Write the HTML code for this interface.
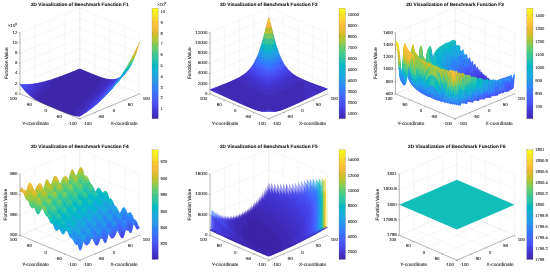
<!DOCTYPE html>
<html><head><meta charset="utf-8"><title>Benchmark functions</title>
<style>html,body{margin:0;padding:0;background:#fff}svg{display:block}text{font-family:"Liberation Sans",sans-serif;fill:#151515;stroke:#151515;stroke-width:.8px;text-rendering:geometricPrecision}.c0{fill:#3e26a8;stroke:#3e26a8}.c1{fill:#402ab4;stroke:#402ab4}.c2{fill:#422ec0;stroke:#422ec0}.c3{fill:#4332cb;stroke:#4332cb}.c4{fill:#4537d5;stroke:#4537d5}.c5{fill:#463cde;stroke:#463cde}.c6{fill:#4741e5;stroke:#4741e5}.c7{fill:#4747eb;stroke:#4747eb}.c8{fill:#484df0;stroke:#484df0}.c9{fill:#4852f4;stroke:#4852f4}.c10{fill:#4758f8;stroke:#4758f8}.c11{fill:#465efb;stroke:#465efb}.c12{fill:#4563fd;stroke:#4563fd}.c13{fill:#4269fe;stroke:#4269fe}.c14{fill:#3e6fff;stroke:#3e6fff}.c15{fill:#3875fe;stroke:#3875fe}.c16{fill:#327cfc;stroke:#327cfc}.c17{fill:#2f81fa;stroke:#2f81fa}.c18{fill:#2e87f7;stroke:#2e87f7}.c19{fill:#2d8cf3;stroke:#2d8cf3}.c20{fill:#2b91ef;stroke:#2b91ef}.c21{fill:#2797eb;stroke:#2797eb}.c22{fill:#259be8;stroke:#259be8}.c23{fill:#23a0e5;stroke:#23a0e5}.c24{fill:#20a5e3;stroke:#20a5e3}.c25{fill:#1ca9df;stroke:#1ca9df}.c26{fill:#18addb;stroke:#18addb}.c27{fill:#12b1d6;stroke:#12b1d6}.c28{fill:#08b5d0;stroke:#08b5d0}.c29{fill:#01b8ca;stroke:#01b8ca}.c30{fill:#02bac3;stroke:#02bac3}.c31{fill:#0bbdbd;stroke:#0bbdbd}.c32{fill:#19bfb6;stroke:#19bfb6}.c33{fill:#24c1ae;stroke:#24c1ae}.c34{fill:#2cc4a7;stroke:#2cc4a7}.c35{fill:#31c69f;stroke:#31c69f}.c36{fill:#37c897;stroke:#37c897}.c37{fill:#3fca8e;stroke:#3fca8e}.c38{fill:#4acb84;stroke:#4acb84}.c39{fill:#57cc7a;stroke:#57cc7a}.c40{fill:#64cd6f;stroke:#64cd6f}.c41{fill:#72cd64;stroke:#72cd64}.c42{fill:#81cc59;stroke:#81cc59}.c43{fill:#8fcb4e;stroke:#8fcb4e}.c44{fill:#9dc943;stroke:#9dc943}.c45{fill:#abc739;stroke:#abc739}.c46{fill:#b9c431;stroke:#b9c431}.c47{fill:#c5c22a;stroke:#c5c22a}.c48{fill:#d1bf27;stroke:#d1bf27}.c49{fill:#dcbd29;stroke:#dcbd29}.c50{fill:#e6bb2d;stroke:#e6bb2d}.c51{fill:#f0ba36;stroke:#f0ba36}.c52{fill:#f8ba3d;stroke:#f8ba3d}.c53{fill:#febe3c;stroke:#febe3c}.c54{fill:#fec338;stroke:#fec338}.c55{fill:#fec934;stroke:#fec934}.c56{fill:#fccf30;stroke:#fccf30}.c57{fill:#fad62d;stroke:#fad62d}.c58{fill:#f7dc2a;stroke:#f7dc2a}.c59{fill:#f5e327;stroke:#f5e327}.c60{fill:#f5e924;stroke:#f5e924}.c61{fill:#f6ef20;stroke:#f6ef20}.c62{fill:#f7f51b;stroke:#f7f51b}.c63{fill:#f9fb15;stroke:#f9fb15}.o1{fill-opacity:.9;stroke:none}.o2{fill-opacity:.5;stroke:none}</style></head>
<body>
<svg width="550" height="272" viewBox="0 0 550 272">
<defs><linearGradient id="pg" x1="0" y1="1" x2="0" y2="0"><stop offset="0" stop-color="#3e26a8"/><stop offset="0.05" stop-color="#4332cb"/><stop offset="0.1" stop-color="#4741e5"/><stop offset="0.14" stop-color="#4852f4"/><stop offset="0.19" stop-color="#4563fd"/><stop offset="0.24" stop-color="#3875fe"/><stop offset="0.29" stop-color="#2e87f7"/><stop offset="0.33" stop-color="#2797eb"/><stop offset="0.38" stop-color="#20a5e3"/><stop offset="0.43" stop-color="#12b1d6"/><stop offset="0.48" stop-color="#02bac3"/><stop offset="0.52" stop-color="#24c1ae"/><stop offset="0.57" stop-color="#37c897"/><stop offset="0.62" stop-color="#57cc7a"/><stop offset="0.67" stop-color="#81cc59"/><stop offset="0.71" stop-color="#abc739"/><stop offset="0.76" stop-color="#d1bf27"/><stop offset="0.81" stop-color="#f0ba36"/><stop offset="0.86" stop-color="#fec338"/><stop offset="0.9" stop-color="#fad62d"/><stop offset="0.95" stop-color="#f5e924"/><stop offset="1" stop-color="#f9fb15"/><stop offset="1" stop-color="#f9fb15"/></linearGradient></defs>
<rect width="550" height="272" fill="#fff"/>
<g>
<path d="M79.75 118.75L20 93.85M79.75 118.75L139.5 93.85M20 93.85L20 32.65M139.5 93.85L139.5 32.65M94.69 112.53L34.94 87.62M64.81 112.53L124.56 87.62M34.94 87.62L34.94 26.42M124.56 87.62L124.56 26.42M109.62 106.3L49.88 81.4M49.88 106.3L109.62 81.4M49.88 81.4L49.88 20.2M109.62 81.4L109.62 20.2M124.56 100.08L64.81 75.18M34.94 100.08L94.69 75.18M64.81 75.18L64.81 13.98M94.69 75.18L94.69 13.98M139.5 93.85L79.75 68.95M20 93.85L79.75 68.95M79.75 68.95L79.75 7.75M79.75 68.95L79.75 7.75M20 93.85L79.75 68.95M79.75 68.95L139.5 93.85M20 83.65L79.75 58.75M79.75 58.75L139.5 83.65M20 73.45L79.75 48.55M79.75 48.55L139.5 73.45M20 63.25L79.75 38.35M79.75 38.35L139.5 63.25M20 53.05L79.75 28.15M79.75 28.15L139.5 53.05M20 42.85L79.75 17.95M79.75 17.95L139.5 42.85M20 32.65L79.75 7.75M79.75 7.75L139.5 32.65" stroke="#e2e2e2" stroke-width=".3" fill="none"/>
<g transform="scale(.1)" stroke-width="5" stroke-linejoin="round">
<path class="c3" stroke-width="0" fill-rule="nonzero" d="M798 1162L807 1156L817 1150L827 1143L837 1137L847 1130L857 1124L867 1117L877 1110L887 1103L897 1096L907 1088L917 1081L927 1073L937 1065L947 1057L957 1049L967 1040L977 1032L987 1023L997 1014L1007 1005L1017 995L1027 986L1036 976L1046 966L1056 956L1066 945L1076 934L1086 923L1096 912L1106 901L1116 889L1126 877L1136 864L1146 852L1156 839L1166 826L1176 812L1186 798L1196 784L1206 770L1216 755L1226 740L1236 724L1246 708L1256 692L1266 676L1276 659L1285 641L1295 624L1305 606L1315 587L1325 568L1335 549L1345 529L1355 509L1365 488L1375 467L1385 445L1395 423L1385 457L1375 488L1365 517L1355 545L1345 570L1335 594L1325 616L1315 637L1305 655L1295 673L1285 689L1276 703L1266 716L1256 728L1246 739L1236 749L1226 757L1216 765L1206 772L1196 777L1186 782L1176 786L1166 789L1156 792L1146 794L1136 795L1126 796L1116 796L1106 796L1096 795L1086 794L1076 793L1066 791L1056 789L1046 786L1036 783L1027 780L1017 777L1007 774L997 771L987 767L977 763L967 759L957 755L947 751L937 747L927 743L917 739L907 735L897 731L887 727L877 723L867 719L857 714L847 710L837 706L827 702L817 698L807 694L798 689L788 693L778 698L768 702L758 706L748 710L738 714L728 718L718 722L708 726L698 730L688 734L678 738L668 742L658 746L648 749L638 753L628 757L618 761L608 764L598 768L588 772L578 775L568 779L558 782L549 786L539 789L529 792L519 796L509 799L499 802L489 805L479 808L469 811L459 813L449 816L439 819L429 821L419 824L409 826L399 828L389 830L379 832L369 834L359 836L349 837L339 839L329 840L319 841L310 842L300 843L290 844L280 845L270 845L260 845L250 845L240 845L230 845L220 844L210 844L200 843L210 858L220 871L230 884L240 896L250 908L260 918L270 928L280 938L290 947L300 955L310 963L319 971L329 978L339 984L349 991L359 997L369 1002L379 1008L389 1013L399 1018L409 1023L419 1028L429 1033L439 1037L449 1042L459 1046L469 1050L479 1055L489 1059L499 1063L509 1067L519 1071L529 1075L539 1080L549 1084L558 1088L568 1092L578 1096L588 1100L598 1104L608 1109L618 1113L628 1117L638 1121L648 1125L658 1128L668 1132L678 1136L688 1139L698 1143L708 1146L718 1149L728 1152L738 1154L748 1156L758 1158L768 1160L778 1161L788 1162z"/>
<path class="c0" d="M712 1147l21-10 22 5-22 11zM691 1140l21-9 21 6-21 10zM712 1131l21-10 22 6-22 10zM669 1133l22-10 21 8-21 9zM733 1121l22-10 21 5-21 11zM691 1123l21-9 21 7-21 10zM648 1125l21-10 22 8-22 10zM712 1114l21-10 22 7-22 10zM669 1115l22-9 21 8-21 9zM627 1116l21-9 21 8-21 10zM733 1104l22-10 21 6-21 11zM691 1106l21-9 21 7-21 10zM648 1107l21-9 22 8-22 9zM605 1107l22-9 21 9-21 9zM755 1094l21-10 22 5-22 11zM669 1098l22-9 21 8-21 9zM627 1098l21-9 21 9-21 9zM584 1099l21-9 22 8-22 9zM712 1097l21-10 22 7-22 10zM648 1089l21-9 22 9-22 9zM605 1090l22-9 21 8-21 9zM563 1090l21-9 21 9-21 9zM733 1087l22-10 21 7-21 10zM691 1089l21-10 21 8-21 10zM627 1081l21-9 21 8-21 9zM584 1081l21-9 22 9-22 9zM755 1077l21-9 22 6-22 10zM712 1079l21-9 22 7-22 10zM669 1080l22-9 21 8-21 10zM541 1081l22-9 21 9-21 9zM605 1072l22-9 21 9-21 9zM733 1070l22-9 21 7-21 9zM691 1071l21-9 21 8-21 9zM648 1072l21-9 22 8-22 9zM563 1072l21-9 21 9-21 9zM520 1072l21-9 22 9-22 9zM776 1068l22-11 21 6-21 11zM712 1062l21-9 22 8-22 9zM669 1063l22-9 21 8-21 9zM627 1063l21-9 21 9-21 9zM541 1063l22-9 21 9-21 9zM499 1063l21-9 21 9-21 9zM755 1061l21-10 22 6-22 11zM584 1063l21-9 22 9-22 9zM691 1054l21-9 21 8-21 9zM648 1054l21-9 22 9-22 9zM776 1051l22-10 21 6-21 10zM733 1053l22-10 21 8-21 10zM605 1054l22-9 21 9-21 9zM563 1054l21-9 21 9-21 9zM520 1054l21-9 22 9-22 9zM477 1054l22-9 21 9-21 9zM798 1041l21-10 21 6-21 10zM755 1043l21-9 22 7-22 10zM712 1045l21-10 22 8-22 10zM669 1045l22-9 21 9-21 9zM627 1045l21-9 21 9-21 9zM584 1045l21-9 22 9-22 9zM541 1045l22-9 21 9-21 9zM499 1045l21-9 21 9-21 9zM456 1045l21-9 22 9-22 9zM776 1034l22-10 21 7-21 10zM733 1035l22-9 21 8-21 9zM691 1036l21-9 21 8-21 10zM648 1036l21-9 22 9-22 9zM605 1036l22-9 21 9-21 9zM563 1036l21-9 21 9-21 9zM520 1036l21-9 22 9-22 9zM477 1036l22-9 21 9-21 9zM435 1035l21-8 21 9-21 9zM798 1024l21-10 21 7-21 10zM755 1026l21-9 22 7-22 10zM712 1027l21-9 22 8-22 9zM669 1027l22-9 21 9-21 9zM627 1027l21-8 21 8-21 9zM584 1027l21-8 22 8-22 9zM541 1027l22-8 21 8-21 9zM499 1027l21-9 21 9-21 9zM456 1027l21-9 22 9-22 9zM413 1025l22-8 21 10-21 8zM776 1017l22-10 21 7-21 10zM733 1018l22-9 21 8-21 9zM605 1019l22-9 21 9-21 8zM563 1019l21-9 21 9-21 8zM392 1015l21-8 22 10-22 8zM819 1014l21-10 22 6-22 11zM691 1018l21-9 21 9-21 9zM648 1019l21-9 22 8-22 9zM520 1018l21-8 22 9-22 8zM477 1018l22-9 21 9-21 9zM435 1017l21-8 21 9-21 9zM840 1004l22-10 21 5-21 11zM798 1007l21-9 21 6-21 10zM755 1009l21-9 22 7-22 10zM712 1009l21-9 22 9-22 9zM669 1010l22-9 21 8-21 9zM627 1010l21-9 21 9-21 9zM584 1010l21-9 22 9-22 9zM413 1007l22-8 21 10-21 8zM541 1010l22-9 21 9-21 9zM499 1009l21-8 21 9-21 8zM456 1009l21-9 22 9-22 9zM371 1003l21-7 21 11-21 8zM435 999l21-9 21 10-21 9zM819 998l21-10 22 6-22 10zM776 1000l22-10 21 8-21 9zM733 1000l22-9 21 9-21 9zM691 1001l21-9 21 8-21 9zM648 1001l21-9 22 9-22 9zM605 1001l22-9 21 9-21 9zM563 1001l21-9 21 9-21 9zM520 1001l21-9 22 9-22 9zM477 1000l22-9 21 10-21 8zM392 996l21-8 22 11-22 8zM349 991l22-7 21 12-21 7zM840 988l22-10 21 6-21 10zM798 990l21-9 21 7-21 10zM712 992l21-9 22 8-22 9zM669 992l22-9 21 9-21 9zM627 992l21-9 21 9-21 9zM456 990l21-8 22 9-22 9zM755 991l21-9 22 8-22 10zM541 992l22-9 21 9-21 9zM499 991l21-8 21 9-21 9zM413 988l22-8 21 10-21 9zM371 984l21-8 21 12-21 8zM584 992l21-9 22 9-22 9zM477 982l22-9 21 10-21 8zM862 978l21-10 21 5-21 11zM819 981l21-10 22 7-22 10zM776 982l22-9 21 8-21 9zM733 983l22-9 21 8-21 9zM691 983l21-9 21 9-21 9zM648 983l21-9 22 9-22 9zM605 983l22-9 21 9-21 9zM563 983l21-9 21 9-21 9zM520 983l21-9 22 9-22 9zM435 980l21-8 21 10-21 8zM392 976l21-7 22 11-22 8zM840 971l22-10 21 7-21 10zM669 974l22-9 21 9-21 9zM499 973l21-8 21 9-21 9zM798 973l21-9 21 7-21 10zM755 974l21-9 22 8-22 9zM712 974l21-9 22 9-22 9zM456 972l21-9 22 10-22 9zM413 969l22-8 21 11-21 8zM371 964l21-7 21 12-21 7zM627 974l21-9 21 9-21 9zM584 974l21-9 22 9-22 9zM541 974l22-9 21 9-21 9zM862 961l21-10 21 6-21 11zM819 964l21-10 22 7-22 10zM776 965l22-9 21 8-21 9zM733 965l22-9 21 9-21 9zM691 965l21-9 21 9-21 9zM648 965l21-9 22 9-22 9zM605 965l22-9 21 9-21 9zM563 965l21-9 21 9-21 9zM520 965l21-9 22 9-22 9zM477 963l22-8 21 10-21 8zM435 961l21-8 21 10-21 9zM392 957l21-8 22 12-22 8zM541 956l22-9 21 9-21 9zM840 954l22-9 21 6-21 10zM798 956l21-10 21 8-21 10zM755 956l21-9 22 9-22 9zM712 956l21-9 22 9-22 9zM456 953l21-8 22 10-22 8zM413 949l22-7 21 11-21 8zM883 951l21-10 22 6-22 10zM669 956l22-9 21 9-21 9zM627 956l21-9 21 9-21 9zM584 956l21-9 22 9-22 9zM499 955l21-8 21 9-21 9zM819 946l21-9 22 8-22 9zM776 947l22-9 21 8-21 10zM733 947l22-9 21 9-21 9zM605 947l22-9 21 9-21 9zM563 947l21-9 21 9-21 9zM520 947l21-9 22 9-22 9zM477 945l22-8 21 10-21 8zM435 942l21-8 21 11-21 8zM862 945l21-10 21 6-21 10zM691 947l21-9 21 9-21 9zM648 947l21-9 22 9-22 9zM584 938l21-8 22 8-22 9zM883 935l21-10 22 6-22 10zM798 938l21-9 21 8-21 9zM755 938l21-9 22 9-22 9zM840 937l22-9 21 7-21 10zM712 938l21-8 22 8-22 9zM669 938l22-8 21 8-21 9zM627 938l21-8 21 8-21 9zM541 938l22-9 21 9-21 9zM499 937l21-9 21 10-21 9zM456 934l21-8 22 11-22 8zM413 930l22-7 21 11-21 8zM904 925l22-10 21 5-21 11zM862 928l21-10 21 7-21 10zM819 929l21-9 22 8-22 9zM776 929l22-9 21 9-21 9zM733 930l22-9 21 8-21 9zM691 930l21-9 21 9-21 8zM648 930l21-9 22 9-22 8zM605 930l22-9 21 9-21 8zM563 929l21-9 21 10-21 8zM520 928l21-8 22 9-22 9zM477 926l22-8 21 10-21 9zM435 923l21-8 21 11-21 8zM840 920l22-10 21 8-21 10zM627 921l21-9 21 9-21 9zM883 918l21-10 22 7-22 10zM798 920l21-9 21 9-21 9zM755 921l21-9 22 8-22 9zM712 921l21-9 22 9-22 9zM669 921l22-9 21 9-21 9zM584 920l21-8 22 9-22 9zM541 920l22-9 21 9-21 9zM499 918l21-8 21 10-21 8zM456 915l21-8 22 11-22 8zM904 908l22-10 21 6-21 11zM819 911l21-9 22 8-22 10zM648 912l21-9 22 9-22 9zM520 910l21-8 22 9-22 9zM862 910l21-9 21 7-21 10zM776 912l22-9 21 8-21 9zM733 912l22-9 21 9-21 9zM691 912l21-9 21 9-21 9zM605 912l22-9 21 9-21 9zM563 911l21-8 21 9-21 8zM477 907l22-7 21 10-21 8zM435 903l21-7 21 11-21 8zM926 898l21-10 21 6-21 10zM883 901l21-10 22 7-22 10zM840 902l22-9 21 8-21 9zM798 903l21-9 21 8-21 9zM755 903l21-9 22 9-22 9zM712 903l21-9 22 9-22 9zM669 903l22-9 21 9-21 9zM627 903l21-9 21 9-21 9zM584 903l21-9 22 9-22 9zM541 902l22-9 21 10-21 8zM499 900l21-9 21 11-21 8zM456 896l21-8 22 12-22 7zM904 891l22-9 21 6-21 10zM862 893l21-9 21 7-21 10zM776 894l22-9 21 9-21 9zM691 894l21-9 21 9-21 9zM648 894l21-9 22 9-22 9zM605 894l22-9 21 9-21 9zM563 893l21-9 21 10-21 9zM819 894l21-9 22 8-22 9zM733 894l22-9 21 9-21 9zM520 891l21-8 22 10-22 9zM477 888l22-7 21 10-21 9zM883 884l21-10 22 8-22 9zM840 885l22-9 21 8-21 9zM755 885l21-9 22 9-22 9zM712 885l21-9 22 9-22 9zM669 885l22-9 21 9-21 9zM627 885l21-9 21 9-21 9zM584 884l21-8 22 9-22 9zM456 876l21-7 22 12-22 7zM926 882l21-10 21 6-21 10zM798 885l21-9 21 9-21 9zM541 883l22-8 21 9-21 9zM499 881l21-8 21 10-21 8zM733 876l22-9 21 9-21 9zM947 872l21-10 22 5-22 11zM904 874l22-9 21 7-21 10zM862 876l21-10 21 8-21 10zM819 876l21-9 22 9-22 9zM776 876l22-9 21 9-21 9zM691 876l21-9 21 9-21 9zM648 876l21-9 22 9-22 9zM605 876l22-9 21 9-21 9zM563 875l21-9 21 10-21 8zM520 873l21-8 22 10-22 8zM477 869l22-8 21 12-21 8zM926 865l21-10 21 7-21 10zM840 867l22-9 21 8-21 10zM798 867l21-9 21 9-21 9zM755 867l21-9 22 9-22 9zM712 867l21-9 22 9-22 9zM669 867l22-9 21 9-21 9zM627 867l21-9 21 9-21 9zM584 866l21-8 22 9-22 9zM541 865l22-9 21 10-21 9zM499 861l21-7 21 11-21 8zM883 866l21-9 22 8-22 9zM819 858l21-9 22 9-22 9zM776 858l22-8 21 8-21 9zM691 858l21-8 21 8-21 9zM520 854l21-8 22 10-22 9zM477 849l22-7 21 12-21 7zM947 855l21-10 22 6-22 11zM904 857l22-9 21 7-21 10zM733 858l22-8 21 8-21 9zM648 858l21-9 22 9-22 9zM605 858l22-9 21 9-21 9zM563 856l21-8 21 10-21 8zM862 858l21-9 21 8-21 9zM798 850l21-9 21 8-21 9zM968 845l22-10 21 6-21 10zM755 850l21-9 22 9-22 8zM669 849l22-8 21 9-21 8zM541 846l22-8 21 10-21 8zM499 842l21-7 21 11-21 8zM926 848l21-10 21 7-21 10zM883 849l21-9 22 8-22 9zM840 849l22-9 21 9-21 9zM712 850l21-9 22 9-22 8zM627 849l21-9 21 9-21 9zM584 848l21-8 22 9-22 9zM947 838l21-9 22 6-22 10zM904 840l22-9 21 7-21 10zM862 840l21-9 21 9-21 9zM819 841l21-9 22 8-22 9zM776 841l22-9 21 9-21 9zM733 841l22-9 21 9-21 9zM691 841l21-9 21 9-21 9zM648 840l21-8 22 9-22 8zM605 840l22-9 21 9-21 9zM563 838l21-8 21 10-21 8zM520 835l21-8 22 11-22 8zM926 831l21-10 21 8-21 9zM840 832l22-9 21 8-21 9zM755 832l21-9 22 9-22 9zM712 832l21-9 22 9-22 9zM627 831l21-9 21 10-21 8zM584 830l21-9 22 10-22 9zM541 827l22-8 21 11-21 8zM499 822l21-7 21 12-21 8zM968 829l22-10 21 6-21 10zM883 831l21-9 22 9-22 9zM798 832l21-9 21 9-21 9zM669 832l22-9 21 9-21 9zM733 823l22-9 21 9-21 9zM605 821l22-8 21 9-21 9zM990 819l21-10 21 5-21 11zM904 822l22-9 21 8-21 10zM862 823l21-9 21 8-21 9zM819 823l21-9 22 9-22 9zM691 823l21-9 21 9-21 9zM563 819l21-8 21 10-21 9zM520 815l21-7 22 11-22 8zM947 821l21-9 22 7-22 10zM776 823l22-9 21 9-21 9zM648 822l21-8 22 9-22 9zM883 814l21-9 22 8-22 9zM584 811l21-8 22 10-22 8zM968 812l22-10 21 7-21 10zM926 813l21-9 21 8-21 9zM840 814l22-9 21 9-21 9zM798 814l21-9 21 9-21 9zM755 814l21-9 22 9-22 9zM712 814l21-9 22 9-22 9zM669 814l22-9 21 9-21 9zM627 813l21-9 21 10-21 8zM541 808l22-8 21 11-21 8zM990 802l21-10 21 6-21 11zM947 804l21-9 22 7-22 10zM904 805l22-9 21 8-21 9zM862 805l21-9 21 9-21 9zM819 805l21-9 22 9-22 9zM776 805l22-9 21 9-21 9zM691 805l21-9 21 9-21 9zM648 804l21-8 22 9-22 9zM605 803l22-8 21 9-21 9zM563 800l21-8 21 11-21 8zM520 795l21-7 22 12-22 8zM733 805l22-9 21 9-21 9zM968 795l22-10 21 7-21 10zM926 796l21-9 21 8-21 9zM840 796l22-9 21 9-21 9zM669 796l22-9 21 9-21 9zM627 795l21-9 21 10-21 8zM541 788l22-7 21 11-21 8zM883 796l21-9 22 9-22 9zM798 796l21-9 21 9-21 9zM755 796l21-9 22 9-22 9zM584 792l21-8 22 11-22 8zM1011 792l21-10 22 6-22 10zM712 796l21-9 22 9-22 9zM947 787l21-10 22 8-22 10zM648 786l21-8 22 9-22 9zM904 787l22-9 21 9-21 9zM819 787l21-9 22 9-22 9zM605 784l22-8 21 10-21 9zM990 785l21-10 21 7-21 10zM862 787l21-9 21 9-21 9zM776 787l22-9 21 9-21 9zM733 787l22-9 21 9-21 9zM691 787l21-9 21 9-21 9zM563 781l21-8 21 11-21 8zM968 777l22-9 21 7-21 10zM926 778l21-9 21 8-21 10zM883 778l21-9 22 9-22 9zM840 778l22-8 21 8-21 9zM798 778l21-8 21 8-21 9zM755 778l21-8 22 8-22 9zM712 778l21-9 22 9-22 9zM669 778l22-9 21 9-21 9zM627 776l21-8 21 10-21 8zM584 773l21-7 22 10-22 8zM904 769l22-9 21 9-21 9zM862 770l21-9 21 8-21 9zM776 770l22-9 21 9-21 8zM733 769l22-8 21 9-21 8zM691 769l21-9 21 9-21 9zM605 766l22-8 21 10-21 8zM947 769l21-9 22 8-22 9zM819 770l21-9 22 9-22 8zM648 768l21-9 22 10-22 9zM883 761l21-9 22 8-22 9zM755 761l21-9 22 9-22 9zM840 761l22-9 21 9-21 9zM712 760l21-8 22 9-22 8zM669 759l22-8 21 9-21 9zM926 760l21-9 21 9-21 9zM798 761l21-9 21 9-21 9zM627 758l21-9 21 10-21 9zM733 752l22-9 21 9-21 9zM904 752l22-9 21 8-21 9zM862 752l21-9 21 9-21 9zM819 752l21-9 22 9-22 9zM776 752l22-9 21 9-21 9zM691 751l21-9 21 10-21 8zM648 749l21-8 22 10-22 8zM840 743l22-9 21 9-21 9zM798 743l21-9 21 9-21 9zM755 743l21-9 22 9-22 9zM712 742l21-8 22 9-22 9zM669 741l22-8 21 9-21 9zM883 743l21-9 22 9-22 9zM819 734l21-9 22 9-22 9zM776 734l22-9 21 9-21 9zM691 733l21-9 21 10-21 8zM733 734l22-9 21 9-21 9zM862 734l21-9 21 9-21 9zM798 725l21-9 21 9-21 9zM755 725l21-9 22 9-22 9zM840 725l22-9 21 9-21 9zM712 724l21-8 22 9-22 9zM819 716l21-9 22 9-22 9zM776 716l22-9 21 9-21 9zM733 716l22-9 21 9-21 9zM755 707l21-9 22 9-22 9zM798 707l21-9 21 9-21 9zM776 698l22-9 21 9-21 9z"/>
<path class="c1" d="M733 1153l22-11 21 4-21 12zM755 1142l21-11 22 4-22 11zM776 1131l22-11 21 2-21 13zM733 1137l22-10 21 4-21 11zM755 1127l21-11 22 4-22 11zM776 1116l22-11 21 3-21 12zM798 1105l21-11 21 2-21 12zM755 1111l21-11 22 5-22 11zM776 1100l22-11 21 5-21 11zM798 1089l21-10 21 3-21 12zM776 1084l22-10 21 5-21 10zM819 1079l21-12 22 3-22 12zM798 1074l21-11 21 4-21 12zM819 1063l21-11 22 4-22 11zM840 1052l22-11 21 3-21 12zM798 1057l21-10 21 5-21 11zM819 1047l21-10 22 4-22 11zM840 1037l22-11 21 3-21 12zM819 1031l21-10 22 5-22 11zM862 1026l21-11 21 2-21 12zM840 1021l22-11 21 5-21 11zM862 1010l21-11 21 4-21 12zM883 999l21-11 22 3-22 12zM862 994l21-10 21 4-21 11zM883 984l21-11 22 4-22 11zM328 977l21-7 22 14-22 7zM904 973l22-11 21 3-21 12zM349 970l22-6 21 12-21 8zM883 968l21-11 22 5-22 11zM328 955l21-5 22 14-22 6zM904 957l22-10 21 3-21 12zM349 950l22-7 21 14-21 7zM926 947l21-11 21 3-21 11zM371 943l21-6 21 12-21 8zM904 941l22-10 21 5-21 11zM392 937l21-7 22 12-22 7zM349 928l22-5 21 14-21 6zM926 931l21-11 21 4-21 12zM371 923l21-7 21 14-21 7zM947 920l21-11 22 3-22 12zM392 916l21-6 22 13-22 7zM968 909l22-11 21 2-21 12zM926 915l21-11 21 5-21 11zM371 901l21-6 21 15-21 6zM413 910l22-7 21 12-21 8zM947 904l21-10 22 4-22 11zM392 895l21-6 22 14-22 7zM968 894l22-11 21 3-21 12zM413 889l22-6 21 13-21 7zM990 883l21-12 21 3-21 12zM435 883l21-7 21 12-21 8zM392 874l21-6 22 15-22 6zM947 888l21-10 22 5-22 11zM968 878l22-11 21 4-21 12zM413 868l22-6 21 14-21 7zM435 862l21-6 21 13-21 7zM990 867l21-11 21 4-21 11zM1011 856l21-11 22 3-22 12zM968 862l22-11 21 5-21 11zM456 856l21-7 22 12-22 8zM413 847l22-6 21 15-21 6zM990 851l21-10 21 4-21 11zM435 841l21-6 21 14-21 7zM1011 841l21-11 22 4-22 11zM456 835l21-6 22 13-22 7zM1032 830l22-11 21 3-21 12zM990 835l21-10 21 5-21 11zM477 829l22-7 21 13-21 7zM1011 825l21-11 22 5-22 11zM456 814l21-6 22 14-22 7zM1032 814l22-10 21 3-21 12zM477 808l22-6 21 13-21 7zM1054 804l21-12 21 3-21 12zM1011 809l21-11 22 6-22 10zM499 802l21-7 21 13-21 7zM1032 798l22-10 21 4-21 12z"/>
<path class="c2" d="M776 1161l22-12 21 0-21 13zM755 1158l21-12 22 3-22 12zM776 1146l22-11 21 1-21 13zM798 1135l21-13 21 1-21 13zM798 1120l21-12 21 2-21 12zM819 1108l21-12 22 1-22 13zM819 1094l21-12 22 2-22 12zM840 1082l22-12 21 1-21 13zM840 1067l22-11 21 1-21 13zM862 1056l21-12 21 1-21 12zM862 1041l21-12 21 2-21 13zM883 1029l21-12 22 1-22 13zM883 1015l21-12 22 2-22 12zM904 1003l22-12 21 1-21 13zM904 988l22-11 21 2-21 12zM926 977l21-12 21 1-21 13zM947 965l21-12 22 0-22 13zM307 961l21-6 21 15-21 7zM926 962l21-12 21 3-21 12zM947 950l21-11 22 1-22 13zM307 939l21-5 21 16-21 5zM968 939l22-13 21 1-21 13zM328 934l21-6 22 15-22 7zM947 936l21-12 22 2-22 13zM968 924l22-12 21 2-21 12zM328 911l21-4 22 16-22 5zM990 912l21-12 21 1-21 13zM349 907l22-6 21 15-21 7zM349 884l22-5 21 16-21 6zM990 898l21-12 21 2-21 12zM1011 886l21-12 22 1-22 13zM371 879l21-5 21 15-21 6zM371 857l21-5 21 16-21 6zM1011 871l21-11 22 2-22 12zM1032 860l22-12 21 1-21 13zM392 852l21-5 22 15-22 6zM1032 845l22-11 21 1-21 13zM392 830l21-5 22 16-22 6zM1054 834l21-12 21 0-21 13zM413 825l22-5 21 15-21 6zM435 820l21-6 21 15-21 6zM1054 819l21-12 21 2-21 13zM1075 807l21-12 22 1-22 13z"/>
<path class="c3" d="M798 1149l21-13 21-1-21 14zM819 1136l21-13 22-2-22 14zM819 1122l21-12 22-1-22 14zM840 1110l22-13 21-2-21 14zM840 1096l22-12 21-1-21 14zM862 1084l21-13 21-2-21 14zM862 1070l21-13 21 0-21 14zM883 1057l21-12 22-2-22 14zM883 1044l21-13 22 0-22 14zM904 1031l22-13 21-1-21 14zM904 1017l22-12 21 0-21 13zM926 1005l21-13 21-1-21 14zM926 991l21-12 21 0-21 13zM947 979l21-13 22-1-22 14zM968 953l22-13 21-1-21 14zM285 943l22-4 21 16-21 6zM990 940l21-13 21-2-21 14zM285 920l22-4 21 18-21 5zM990 926l21-12 21-1-21 14zM307 916l21-5 21 17-21 6zM1011 914l21-13 22-2-22 14zM307 892l21-4 21 19-21 4zM328 888l21-4 22 17-22 6zM1011 900l21-12 22-1-22 14zM1032 888l22-13 21-2-21 14zM328 865l21-4 22 18-22 5zM1032 874l22-12 21-1-21 14zM349 861l22-4 21 17-21 5zM1054 862l21-13 21-2-21 14zM349 837l22-3 21 18-21 5zM1054 848l21-13 21 0-21 14zM371 834l21-4 21 17-21 5zM1075 835l21-13 22-1-22 14zM1075 822l21-13 22 0-22 13zM1096 809l22-13 21-1-21 14z"/>
<path class="c4" d="M840 1123l22-14 21-3-21 15zM862 1097l21-14 21-3-21 15zM883 1071l21-14 22-3-22 15zM904 1045l22-14 21-3-21 15zM926 1031l21-14 21-4-21 15zM926 1018l21-13 21-3-21 15zM947 1005l21-14 22-4-22 15zM947 992l21-13 22-2-22 14zM968 979l22-14 21-4-21 16zM968 966l22-13 21-2-21 14zM990 953l21-14 21-3-21 15zM264 923l21-3 22 19-22 4zM1011 927l21-14 22-3-22 15zM264 898l21-3 22 21-22 4zM285 895l22-3 21 19-21 5zM1032 901l22-14 21-3-21 15zM307 868l21-3 21 19-21 4zM1054 875l21-14 21-3-21 15zM328 840l21-3 22 20-22 4zM1075 849l21-14 22-3-22 15zM1096 822l22-13 21-3-21 15zM1118 809l21-14 21-4-21 15z"/>
<path class="c5" d="M862 1109l21-14 21-5-21 16zM883 1083l21-14 22-4-22 15zM904 1069l22-15 21-6-21 17zM904 1057l22-14 21-4-21 15zM926 1043l21-15 21-5-21 16zM947 1017l21-15 22-5-22 16zM968 991l22-14 21-6-21 16zM990 965l21-14 21-5-21 15zM1011 939l21-14 22-5-22 16zM243 900l21-2 21 22-21 3zM1032 913l22-14 21-5-21 16zM264 872l21-2 22 22-22 3zM1054 887l21-14 21-5-21 16zM285 870l22-2 21 20-21 4zM1075 873l21-15 22-6-22 16zM285 844l22-1 21 22-21 3zM1075 861l21-14 22-4-22 15zM307 843l21-3 21 21-21 4zM1096 847l22-15 21-6-21 17zM1096 835l22-14 21-4-21 15zM1118 821l21-15 21-5-21 16z"/>
<path class="c6" d="M883 1095l21-15 22-6-22 16zM904 1080l22-15 21-8-21 17zM926 1054l21-15 21-8-21 17zM947 1028l21-15 22-7-22 17zM968 1002l22-15 21-7-21 17zM990 977l21-16 21-6-21 16zM1011 951l21-15 22-7-22 17zM1032 925l22-15 21-7-21 17zM1054 899l21-15 21-6-21 16zM243 873l21-1 21 23-21 3zM1075 884l21-16 22-7-22 17zM264 845l21-1 22 24-22 2zM1096 858l22-15 21-8-21 17zM1118 832l21-15 21-7-21 16zM1139 806l21-15 22-7-22 17z"/>
<path class="c7" d="M926 1065l21-17 21-9-21 18zM947 1039l21-16 22-9-22 17zM968 1013l22-16 21-9-21 18zM990 987l21-16 21-8-21 17zM1011 961l21-15 22-9-22 18zM1032 936l22-16 21-8-21 17zM1054 910l21-16 21-8-21 17zM221 873l22 0 21 25-21 2zM1096 868l22-16 21-9-21 18zM243 845l21 0 21 25-21 2zM1118 843l21-17 21-9-21 18zM1139 817l21-16 22-9-22 18z"/>
<path class="c8" d="M947 1048l21-17 22-11-22 19zM968 1023l22-17 21-11-21 19zM990 997l21-17 21-10-21 18zM1011 971l21-16 22-11-22 19zM1032 946l22-17 21-10-21 18zM1054 920l21-17 21-9-21 18zM1075 894l21-16 22-10-22 18zM221 845l22 0 21 27-21 1zM1118 852l21-17 21-11-21 19zM1139 826l21-16 22-11-22 18zM1160 801l22-17 21-11-21 19z"/>
<path class="c9" d="M968 1031l22-17 21-13-21 19zM990 1006l21-18 21-12-21 19zM1011 980l21-17 22-13-22 20zM1032 955l22-18 21-12-21 19zM1054 929l21-17 21-12-21 19zM1075 903l21-17 22-11-22 19zM1096 878l22-17 21-12-21 19zM200 843l21 2 22 28-22 0zM1160 810l22-18 21-13-21 20z"/>
<path class="c11" d="M990 1014l21-19 21-15-21 21zM1011 988l21-18 22-15-22 21zM1096 894l22-19 21-16-21 21zM1118 868l21-19 21-15-21 21zM1139 843l21-19 22-15-22 20zM1160 817l22-18 21-15-21 20zM1182 792l21-19 21-15-21 21z"/>
<path class="c10" d="M1032 963l22-19 21-14-21 20zM1054 937l21-18 21-14-21 20zM1075 912l21-18 22-14-22 20zM1096 886l22-18 21-13-21 20zM1118 861l21-18 21-14-21 20zM1139 835l21-18 22-13-22 20z"/>
<path class="c12" d="M1011 995l21-19 22-17-22 21zM1032 970l22-20 21-16-21 21zM1054 944l21-19 21-16-21 21zM1075 919l21-19 22-16-22 21zM1160 824l22-20 21-17-21 22z"/>
<path class="c13" d="M1054 950l21-20 21-19-21 23zM1075 925l21-20 22-19-22 23zM1096 900l22-20 21-19-21 23zM1118 875l21-20 21-18-21 22zM1139 849l21-20 22-17-22 22z"/>
<path class="c14" d="M1032 976l22-21 21-19-21 23zM1118 880l21-21 21-21-21 23zM1139 855l21-21 22-21-22 24zM1160 829l22-20 21-20-21 23z"/>
<path class="c22" d="M1203 785l21-29-21 32-21 26zM1224 761l22-29-22 31-21 26zM1246 737l21-29-21 31-22 25z"/>
<path class="c27" d="M1224 750l22-32-22 38-21 29zM1246 726l21-31-21 37-22 29zM1267 703l21-32-21 37-21 29z"/>
<path class="c36" d="M1267 673l21-37-21 49-21 33zM1288 650l22-37-22 49-21 33zM1310 627l21-36-21 47-22 33z"/>
<path class="c33" d="M1246 708l21-35-21 45-22 32zM1267 685l21-35-21 45-21 31zM1288 662l22-35-22 44-21 32z"/>
<path class="c30" d="M1224 742l22-34-22 42-21 30zM1246 718l21-33-21 41-22 30zM1267 695l21-33-21 41-21 29z"/>
<path class="c15" d="M1054 955l21-21 21-22-21 24zM1075 930l21-21 22-22-22 24zM1096 905l22-21 21-21-21 23z"/>
<path class="c25" d="M1182 804l21-30-21 35-22 28zM1203 780l21-30-21 35-21 27zM1224 756l22-30-22 35-21 27z"/>
<path class="c39" d="M1310 613l21-38-21 52-22 35zM1331 591l21-39-21 52-21 34z"/>
<path class="c20" d="M1203 788l21-27-21 28-21 24zM1224 763l22-26-22 27-21 25z"/>
<path class="c43" d="M1310 598l21-41-21 56-22 37zM1331 575l21-40-21 56-21 36z"/>
<path class="c17" d="M1075 934l21-23 22-24-22 25zM1096 909l22-23 21-23-21 24z"/>
<path class="c19" d="M1118 887l21-26-21 26-22 24zM1246 739l21-27-21 28-22 24z"/>
<path class="c24" d="M1267 708l21-29-21 33-21 27zM1246 732l21-29-21 34-22 26z"/>
<path class="c21" d="M1267 712l21-28-21 31-21 25z"/>
<path class="c26" d="M1288 679l22-31-22 36-21 28z"/>
<path class="c32" d="M1310 638l21-34-21 44-22 31z"/>
<path class="c29" d="M1288 671l22-33-22 41-21 29z"/>
<path class="c46" d="M1352 535l22-43-22 60-21 39z"/>
<path class="c55" d="M1374 470l21-47-21 69-22 43z"/>
<path class="c51" d="M1352 514l22-44-22 65-21 40z"/>
<path class="c47" d="M1331 557l21-43-21 61-21 38z"/>
<path class="c16" d="M1139 859l21-22 22-23-22 24z"/>
<path class="c20" d="M1160 837l22-28-22 29-21 25zM1182 812l21-27-21 29-22 24z"/>
<path class="c40" d="M1288 636l22-38-22 52-21 35z"/>
<path class="c28" d="M1203 774l21-32-21 38-21 29z"/>
<path class="c21" d="M1139 861l21-28-21 30-21 24z"/>
<path class="c23" d="M1182 809l21-29-21 32-22 26z"/>
<path class="c18" d="M1139 863l21-26-21 26-21 23z"/>
<path class="c23" d="M1160 833l22-29-22 33-21 26z"/>
</g>
<path d="M20 32.65L20 93.85L79.75 118.75L139.5 93.85M79.75 118.75l-1.1 .9M79.75 118.75l1.1 .9M64.81 112.53l-1.1 .9M94.69 112.53l1.1 .9M49.88 106.3l-1.1 .9M109.62 106.3l1.1 .9M34.94 100.08l-1.1 .9M124.56 100.08l1.1 .9M20 93.85l-1.1 .9M139.5 93.85l1.1 .9M20 93.85l-1.3 0M20 83.65l-1.3 0M20 73.45l-1.3 0M20 63.25l-1.3 0M20 53.05l-1.3 0M20 42.85l-1.3 0M20 32.65l-1.3 0" stroke="#4d4d4d" stroke-width=".38" fill="none"/>
<text transform="translate(76.75 124.55) scale(.1)" font-size="43.5" text-anchor="end">-100</text>
<text transform="translate(82.95 124.65) scale(.1)" font-size="43.5" text-anchor="start">-100</text>
<text transform="translate(61.81 118.33) scale(.1)" font-size="43.5" text-anchor="end">-50</text>
<text transform="translate(97.89 118.43) scale(.1)" font-size="43.5" text-anchor="start">-50</text>
<text transform="translate(46.88 112.1) scale(.1)" font-size="43.5" text-anchor="end">0</text>
<text transform="translate(112.83 112.2) scale(.1)" font-size="43.5" text-anchor="start">0</text>
<text transform="translate(31.94 105.88) scale(.1)" font-size="43.5" text-anchor="end">50</text>
<text transform="translate(127.76 105.98) scale(.1)" font-size="43.5" text-anchor="start">50</text>
<text transform="translate(17 99.65) scale(.1)" font-size="43.5" text-anchor="end">100</text>
<text transform="translate(142.7 99.75) scale(.1)" font-size="43.5" text-anchor="start">100</text>
<text transform="translate(17.4 94.75) scale(.1)" font-size="43.5" text-anchor="end">0</text>
<text transform="translate(17.4 84.55) scale(.1)" font-size="43.5" text-anchor="end">2</text>
<text transform="translate(17.4 74.35) scale(.1)" font-size="43.5" text-anchor="end">4</text>
<text transform="translate(17.4 64.15) scale(.1)" font-size="43.5" text-anchor="end">6</text>
<text transform="translate(17.4 53.95) scale(.1)" font-size="43.5" text-anchor="end">8</text>
<text transform="translate(17.4 43.75) scale(.1)" font-size="43.5" text-anchor="end">10</text>
<text transform="translate(17.4 33.55) scale(.1)" font-size="43.5" text-anchor="end">12</text>
<text transform="translate(35.58 124.6) scale(.1)" font-size="48" text-anchor="middle">Y-coordinate</text>
<text transform="translate(124.03 124.6) scale(.1)" font-size="48" text-anchor="middle">X-coordinate</text>
<text transform="translate(7.5 63.25) rotate(-90) scale(.1)" font-size="48" text-anchor="middle">Function Value</text>
<text transform="translate(8 27.05) scale(.1)" font-size="43">×10<tspan dy="-18" font-size="33">9</tspan></text>
<text transform="translate(79.75 6.3) scale(.1)" font-size="47.5" text-anchor="middle" font-weight="bold" fill="#111">2D Visualization of Benchmark Function F1</text>
<rect x="152" y="8.25" width="6.25" height="110.5" fill="url(#pg)" stroke="#777" stroke-width=".25"/>
<text transform="translate(160.45 110.15) scale(.1)" font-size="41" text-anchor="start">1</text>
<text transform="translate(160.45 99.35) scale(.1)" font-size="41" text-anchor="start">2</text>
<text transform="translate(160.45 88.55) scale(.1)" font-size="41" text-anchor="start">3</text>
<text transform="translate(160.45 77.75) scale(.1)" font-size="41" text-anchor="start">4</text>
<text transform="translate(160.45 66.95) scale(.1)" font-size="41" text-anchor="start">5</text>
<text transform="translate(160.45 56.15) scale(.1)" font-size="41" text-anchor="start">6</text>
<text transform="translate(160.45 45.35) scale(.1)" font-size="41" text-anchor="start">7</text>
<text transform="translate(160.45 34.54) scale(.1)" font-size="41" text-anchor="start">8</text>
<text transform="translate(160.45 23.74) scale(.1)" font-size="41" text-anchor="start">9</text>
<text transform="translate(160.45 12.94) scale(.1)" font-size="41" text-anchor="start">10</text>
<path d="M152 108.7l1 0M158.25 108.7l-1 0M152 97.9l1 0M158.25 97.9l-1 0M152 87.1l1 0M158.25 87.1l-1 0M152 76.3l1 0M158.25 76.3l-1 0M152 65.5l1 0M158.25 65.5l-1 0M152 54.7l1 0M158.25 54.7l-1 0M152 43.9l1 0M158.25 43.9l-1 0M152 33.09l1 0M158.25 33.09l-1 0M152 22.29l1 0M158.25 22.29l-1 0M152 11.49l1 0M158.25 11.49l-1 0" stroke="#4d4d4d" stroke-width=".3" fill="none"/>
<text transform="translate(157.25 6.05) scale(.1)" font-size="43">×10<tspan dy="-18" font-size="33">9</tspan></text>
</g>
<g>
<path d="M268.75 118.75L210 93.85M268.75 118.75L327.5 93.85M210 93.85L210 32.65M327.5 93.85L327.5 32.65M283.44 112.53L224.69 87.62M254.06 112.53L312.81 87.62M224.69 87.62L224.69 26.42M312.81 87.62L312.81 26.42M298.12 106.3L239.38 81.4M239.38 106.3L298.12 81.4M239.38 81.4L239.38 20.2M298.12 81.4L298.12 20.2M312.81 100.08L254.06 75.18M224.69 100.08L283.44 75.18M254.06 75.18L254.06 13.98M283.44 75.18L283.44 13.98M327.5 93.85L268.75 68.95M210 93.85L268.75 68.95M268.75 68.95L268.75 7.75M268.75 68.95L268.75 7.75M210 93.85L268.75 68.95M268.75 68.95L327.5 93.85M210 83.65L268.75 58.75M268.75 58.75L327.5 83.65M210 73.45L268.75 48.55M268.75 48.55L327.5 73.45M210 63.25L268.75 38.35M268.75 38.35L327.5 63.25M210 53.05L268.75 28.15M268.75 28.15L327.5 53.05M210 42.85L268.75 17.95M268.75 17.95L327.5 42.85M210 32.65L268.75 7.75M268.75 7.75L327.5 32.65" stroke="#e2e2e2" stroke-width=".3" fill="none"/>
<g transform="scale(.1)" stroke-width="5" stroke-linejoin="round">
<path class="c2" stroke-width="0" fill-rule="nonzero" d="M2688 1093L2697 1101L2707 1106L2717 1110L2727 1112L2736 1114L2746 1114L2756 1113L2766 1112L2776 1110L2785 1108L2795 1105L2805 1102L2815 1099L2825 1096L2834 1092L2844 1088L2854 1084L2864 1080L2874 1076L2883 1072L2893 1068L2903 1064L2913 1059L2922 1055L2932 1051L2942 1046L2952 1042L2962 1038L2971 1033L2981 1029L2991 1024L3001 1020L3011 1015L3020 1010L3030 1006L3040 1001L3050 997L3060 992L3069 988L3079 983L3089 978L3099 974L3109 969L3118 964L3128 960L3138 955L3148 950L3158 946L3167 941L3177 936L3187 932L3197 927L3206 922L3216 918L3226 913L3236 908L3246 903L3255 899L3265 894L3275 889L3265 886L3255 882L3246 879L3236 875L3226 872L3216 868L3206 865L3197 861L3187 858L3177 854L3167 851L3158 847L3148 843L3138 840L3128 836L3118 833L3109 829L3099 825L3089 821L3079 817L3069 813L3060 809L3050 805L3040 801L3030 797L3020 792L3011 788L3001 783L2991 778L2981 773L2971 768L2962 762L2952 756L2942 749L2932 742L2922 735L2913 727L2903 718L2893 709L2883 699L2874 688L2864 675L2854 662L2844 647L2834 631L2825 613L2815 594L2805 573L2795 549L2785 524L2776 496L2766 466L2756 433L2746 398L2736 361L2727 323L2717 283L2707 242L2697 204L2688 173L2678 204L2668 242L2658 282L2648 322L2639 361L2629 398L2619 433L2609 465L2599 495L2590 523L2580 549L2570 572L2560 593L2550 613L2541 631L2531 647L2521 662L2511 675L2501 687L2492 699L2482 709L2472 718L2462 727L2452 735L2443 743L2433 750L2423 756L2413 763L2404 769L2394 774L2384 779L2374 785L2364 789L2355 794L2345 799L2335 803L2325 808L2315 812L2306 816L2296 820L2286 825L2276 829L2266 833L2257 837L2247 841L2237 844L2227 848L2218 852L2208 856L2198 860L2188 864L2178 868L2169 872L2159 875L2149 879L2139 883L2129 887L2120 891L2110 894L2100 898L2110 903L2120 907L2129 911L2139 916L2149 920L2159 925L2169 929L2178 933L2188 938L2198 942L2208 947L2218 951L2227 955L2237 960L2247 964L2257 969L2266 973L2276 977L2286 982L2296 986L2306 990L2315 995L2325 999L2335 1004L2345 1008L2355 1012L2364 1017L2374 1021L2384 1025L2394 1030L2404 1034L2413 1038L2423 1043L2433 1047L2443 1051L2452 1055L2462 1060L2472 1064L2482 1068L2492 1072L2501 1076L2511 1080L2521 1084L2531 1088L2541 1092L2550 1095L2560 1098L2570 1102L2580 1105L2590 1107L2599 1110L2609 1111L2619 1113L2629 1113L2639 1113L2648 1112L2658 1110L2668 1106L2678 1101z"/>
<path class="c1" d="M2702 1107l15-5 15 5-15 3zM2643 1106l15-4 15 5-15 3zM2732 1107l14-4 15 4-15 3zM2761 1107l15-5 14 5-14 3zM2688 1102l14-4 15 4-15 5zM2776 1102l14-4 15 4-15 5zM2717 1102l15-4 14 5-14 4zM2658 1102l15-4 15 4-15 5zM2629 1102l14-4 15 4-15 4zM2570 1102l15-5 14 5-14 4zM2746 1103l15-5 15 4-15 5zM2599 1102l15-5 15 5-15 4zM2673 1098l15-6 14 6-14 4zM2761 1098l15-6 14 6-14 4zM2702 1098l15-6 15 6-15 4zM2585 1097l14-5 15 5-15 5zM2555 1097l15-5 15 5-15 5zM2790 1098l15-6 15 5-15 5zM2732 1098l14-5 15 5-15 5zM2643 1098l15-6 15 6-15 4zM2614 1097l15-5 14 6-14 4zM2805 1092l15-5 14 5-14 5zM2776 1092l14-5 15 5-15 6zM2746 1093l15-6 15 5-15 6zM2717 1092l15-5 14 6-14 5zM2688 1092l14-5 15 5-15 6zM2658 1092l15-5 15 5-15 6zM2599 1092l15-5 15 5-15 5zM2570 1092l15-5 14 5-14 5zM2541 1092l14-6 15 6-15 5zM2629 1092l14-5 15 5-15 6zM2555 1086l15-5 15 6-15 5zM2820 1087l14-6 15 5-15 6zM2790 1087l15-6 15 6-15 5zM2761 1087l15-6 14 6-14 5zM2732 1087l14-6 15 6-15 6zM2702 1087l15-6 15 6-15 5zM2673 1087l15-6 14 6-14 5zM2643 1087l15-6 15 6-15 5zM2614 1087l15-6 14 6-14 5zM2585 1087l14-6 15 6-15 5zM2526 1086l15-6 14 6-14 6zM2776 1081l14-6 15 6-15 6zM2717 1081l15-6 14 6-14 6zM2629 1081l14-6 15 6-15 6zM2599 1081l15-6 15 6-15 6zM2570 1081l15-6 14 6-14 6zM2541 1080l14-5 15 6-15 5zM2834 1081l15-6 15 5-15 6zM2805 1081l15-6 14 6-14 6zM2746 1081l15-6 15 6-15 6zM2688 1081l14-6 15 6-15 6zM2658 1081l15-6 15 6-15 6zM2511 1080l15-6 15 6-15 6zM2761 1075l15-6 14 6-14 6zM2614 1075l15-6 14 6-14 6zM2849 1075l15-6 14 5-14 6zM2790 1075l15-6 15 6-15 6zM2732 1075l14-6 15 6-15 6zM2702 1075l15-6 15 6-15 6zM2643 1075l15-6 15 6-15 6zM2585 1075l14-6 15 6-15 6zM2555 1075l15-6 15 6-15 6zM2526 1074l15-5 14 6-14 5zM2497 1074l14-6 15 6-15 6zM2820 1075l14-6 15 6-15 6zM2673 1075l15-6 14 6-14 6zM2834 1069l15-6 15 6-15 6zM2776 1069l14-6 15 6-15 6zM2746 1069l15-6 15 6-15 6zM2629 1069l14-6 15 6-15 6zM2599 1069l15-6 15 6-15 6zM2511 1068l15-6 15 7-15 5zM2864 1069l14-7 15 6-15 6zM2805 1069l15-6 14 6-14 6zM2717 1069l15-6 14 6-14 6zM2688 1069l14-6 15 6-15 6zM2658 1069l15-6 15 6-15 6zM2570 1069l15-6 14 6-14 6zM2541 1069l14-6 15 6-15 6zM2482 1068l15-6 14 6-14 6zM2849 1063l15-7 14 6-14 7zM2820 1063l14-6 15 6-15 6zM2790 1063l15-6 15 6-15 6zM2761 1063l15-6 14 6-14 6zM2732 1063l14-6 15 6-15 6zM2673 1063l15-6 14 6-14 6zM2643 1063l15-6 15 6-15 6zM2614 1063l15-6 14 6-14 6zM2585 1063l14-6 15 6-15 6zM2526 1062l15-5 14 6-14 6zM2497 1062l14-6 15 6-15 6zM2878 1062l15-6 15 6-15 6zM2702 1063l15-6 15 6-15 6zM2555 1063l15-6 15 6-15 6zM2467 1062l15-6 15 6-15 6zM2452 1055l15-6 15 7-15 6zM2893 1056l15-7 14 6-14 7zM2864 1056l14-6 15 6-15 6zM2834 1057l15-7 15 6-15 7zM2805 1057l15-7 14 7-14 6zM2776 1057l14-6 15 6-15 6zM2746 1057l15-6 15 6-15 6zM2717 1057l15-6 14 6-14 6zM2688 1057l14-7 15 7-15 6zM2658 1057l15-7 15 7-15 6zM2629 1057l14-7 15 7-15 6zM2599 1057l15-6 15 6-15 6zM2570 1057l15-6 14 6-14 6zM2541 1057l14-7 15 7-15 6zM2511 1056l15-6 15 7-15 5zM2482 1056l15-6 14 6-14 6zM2467 1049l15-5 15 6-15 6zM2908 1049l14-6 15 6-15 6zM2790 1051l15-7 15 6-15 7zM2702 1050l15-6 15 7-15 6zM2643 1050l15-6 15 6-15 7zM2555 1050l15-6 15 7-15 6zM2878 1050l15-7 15 6-15 7zM2849 1050l15-6 14 6-14 6zM2820 1050l14-6 15 6-15 7zM2761 1051l15-7 14 7-14 6zM2732 1051l14-7 15 7-15 6zM2673 1050l15-6 14 6-14 7zM2614 1051l15-7 14 6-14 7zM2585 1051l14-7 15 7-15 6zM2526 1050l15-6 14 6-14 7zM2497 1050l14-6 15 6-15 6zM2438 1049l14-6 15 6-15 6zM2893 1043l15-6 14 6-14 6zM2688 1044l14-6 15 6-15 6zM2482 1044l15-7 14 7-14 6zM2922 1043l15-7 15 6-15 7zM2864 1044l14-7 15 6-15 7zM2805 1044l15-6 14 6-14 6zM2776 1044l14-6 15 6-15 7zM2717 1044l15-6 14 6-14 7zM2658 1044l15-6 15 6-15 6zM2629 1044l14-6 15 6-15 6zM2570 1044l15-6 14 6-14 7zM2541 1044l14-6 15 6-15 6zM2452 1043l15-6 15 7-15 5zM2423 1043l15-6 14 6-14 6zM2834 1044l15-6 15 6-15 6zM2746 1044l15-6 15 6-15 7zM2599 1044l15-6 15 6-15 7zM2511 1044l15-6 15 6-15 6zM2908 1037l14-7 15 6-15 7zM2878 1037l15-6 15 6-15 6zM2849 1038l15-7 14 6-14 7zM2702 1038l15-7 15 7-15 6zM2673 1038l15-7 14 7-14 6zM2497 1037l14-6 15 7-15 6zM2438 1037l14-6 15 6-15 6zM2937 1036l15-7 15 6-15 7zM2820 1038l14-7 15 7-15 6zM2790 1038l15-7 15 7-15 6zM2761 1038l15-7 14 7-14 6zM2732 1038l14-7 15 7-15 6zM2643 1038l15-7 15 7-15 6zM2614 1038l15-7 14 7-14 6zM2585 1038l14-6 15 6-15 6zM2555 1038l15-6 15 6-15 6zM2526 1038l15-6 14 6-14 6zM2467 1037l15-6 15 6-15 7zM2408 1036l15-6 15 7-15 6zM2511 1031l15-6 15 7-15 6zM2952 1029l15-6 14 6-14 6zM2922 1030l15-7 15 6-15 7zM2893 1031l15-7 14 6-14 7zM2864 1031l14-7 15 7-15 6zM2834 1031l15-6 15 6-15 7zM2805 1031l15-6 14 6-14 7zM2776 1031l14-6 15 6-15 7zM2746 1031l15-6 15 6-15 7zM2717 1031l15-6 14 6-14 7zM2688 1031l14-6 15 6-15 7zM2658 1031l15-6 15 6-15 7zM2629 1031l14-6 15 6-15 7zM2599 1032l15-7 15 6-15 7zM2570 1032l15-7 14 7-14 6zM2541 1032l14-7 15 7-15 6zM2482 1031l15-6 14 6-14 6zM2452 1031l15-6 15 6-15 6zM2423 1030l15-6 14 7-14 6zM2394 1030l14-6 15 6-15 6zM2967 1023l14-7 15 6-15 7zM2526 1025l15-6 14 6-14 7zM2379 1023l15-6 14 7-14 6zM2937 1023l15-6 15 6-15 6zM2908 1024l14-7 15 6-15 7zM2878 1024l15-6 15 6-15 7zM2849 1025l15-7 14 6-14 7zM2820 1025l14-6 15 6-15 6zM2761 1025l15-6 14 6-14 6zM2732 1025l14-7 15 7-15 6zM2702 1025l15-7 15 7-15 6zM2673 1025l15-7 14 7-14 6zM2643 1025l15-7 15 7-15 6zM2614 1025l15-6 14 6-14 6zM2585 1025l14-6 15 6-15 7zM2497 1025l14-6 15 6-15 6zM2467 1025l15-7 15 7-15 6zM2438 1024l14-6 15 7-15 6zM2408 1024l15-6 15 6-15 6zM2790 1025l15-6 15 6-15 6zM2555 1025l15-6 15 6-15 7zM2952 1017l15-7 14 6-14 7zM2394 1017l14-6 15 7-15 6zM2981 1016l15-7 15 6-15 7zM2922 1017l15-6 15 6-15 6zM2893 1018l15-7 14 6-14 7zM2864 1018l14-6 15 6-15 6zM2834 1019l15-7 15 6-15 7zM2805 1019l15-7 14 7-14 6zM2776 1019l14-7 15 7-15 6zM2746 1018l15-6 15 7-15 6zM2717 1018l15-6 14 6-14 7zM2688 1018l14-7 15 7-15 7zM2658 1018l15-7 15 7-15 7zM2629 1019l14-7 15 6-15 7zM2599 1019l15-7 15 7-15 6zM2570 1019l15-7 14 7-14 6zM2541 1019l14-6 15 6-15 6zM2511 1019l15-7 15 7-15 6zM2482 1018l15-6 14 7-14 6zM2452 1018l15-6 15 6-15 7zM2423 1018l15-6 14 6-14 6zM2364 1017l15-6 15 6-15 6zM2996 1009l15-7 14 6-14 7zM2937 1011l15-7 15 6-15 7zM2849 1012l15-6 14 6-14 6zM2820 1012l14-6 15 6-15 7zM2790 1012l15-6 15 6-15 7zM2732 1012l14-7 15 7-15 6zM2702 1011l15-6 15 7-15 6zM2643 1012l15-7 15 6-15 7zM2614 1012l15-6 14 6-14 7zM2555 1013l15-7 15 6-15 7zM2497 1012l14-6 15 6-15 7zM2467 1012l15-6 15 6-15 6zM2408 1011l15-6 15 7-15 6zM2967 1010l14-7 15 6-15 7zM2908 1011l14-6 15 6-15 6zM2878 1012l15-7 15 6-15 7zM2761 1012l15-6 14 6-14 7zM2673 1011l15-6 14 6-14 7zM2585 1012l14-6 15 6-15 7zM2526 1012l15-6 14 7-14 6zM2438 1012l14-6 15 6-15 6zM2379 1011l15-6 14 6-14 6zM2350 1010l14-6 15 7-15 6zM2981 1003l15-6 15 5-15 7zM2922 1005l15-7 15 6-15 7zM2805 1006l15-7 14 7-14 6zM2776 1006l14-7 15 7-15 6zM2570 1006l15-6 14 6-14 6zM2423 1005l15-6 14 7-14 6zM3011 1002l14-6 15 5-15 7zM2952 1004l15-7 14 6-14 7zM2893 1005l15-6 14 6-14 6zM2864 1006l14-7 15 6-15 7zM2834 1006l15-7 15 7-15 6zM2746 1005l15-6 15 7-15 6zM2717 1005l15-6 14 6-14 7zM2688 1005l14-7 15 7-15 6zM2658 1005l15-7 15 7-15 6zM2629 1006l14-7 15 6-15 7zM2599 1006l15-7 15 7-15 6zM2541 1006l14-6 15 6-15 7zM2511 1006l15-6 15 6-15 6zM2482 1006l15-6 14 6-14 6zM2452 1006l15-7 15 7-15 6zM2394 1005l14-6 15 6-15 6zM2364 1004l15-6 15 7-15 6zM2335 1004l15-6 14 6-14 6zM3025 996l15-7 15 5-15 7zM2967 997l14-6 15 6-15 6zM2908 999l14-7 15 6-15 7zM2878 999l15-7 15 7-15 6zM2849 999l15-6 14 6-14 7zM2820 999l14-6 15 6-15 7zM2790 999l15-6 15 6-15 7zM2761 999l15-6 14 6-14 7zM2732 999l14-7 15 7-15 6zM2702 998l15-6 15 7-15 6zM2673 998l15-7 14 7-14 7zM2643 999l15-7 15 6-15 7zM2614 999l15-7 14 7-14 7zM2585 1000l14-7 15 6-15 7zM2555 1000l15-7 15 7-15 6zM2526 1000l15-7 14 7-14 6zM2497 1000l14-7 15 7-15 6zM2467 999l15-6 15 7-15 6zM2438 999l14-6 15 6-15 7zM2320 997l15-6 15 7-15 6zM2996 997l15-7 14 6-14 6zM2937 998l15-7 15 6-15 7zM2408 999l15-6 15 6-15 6zM2379 998l15-6 14 7-14 6zM2350 998l14-6 15 6-15 6zM3040 989l15-7 14 6-14 6zM2893 992l15-6 14 6-14 7zM2776 993l14-7 15 7-15 6zM2599 993l15-7 15 6-15 7zM2452 993l15-6 15 6-15 6zM2306 990l14-5 15 6-15 6zM3011 990l14-7 15 6-15 7zM2952 991l15-6 14 6-14 6zM2834 993l15-7 15 7-15 6zM2805 993l15-7 14 7-14 6zM2746 992l15-6 15 7-15 6zM2688 991l14-6 15 7-15 6zM2658 992l15-7 15 6-15 7zM2570 993l15-6 14 6-14 7zM2541 993l14-6 15 6-15 7zM2511 993l15-6 15 6-15 7zM2335 991l15-6 14 7-14 6zM2981 991l15-7 15 6-15 7zM2922 992l15-7 15 6-15 7zM2864 993l14-7 15 6-15 7zM2717 992l15-7 14 7-14 7zM2629 992l14-6 15 6-15 7zM2482 993l15-6 14 6-14 7zM2423 993l15-6 14 6-14 6zM2394 992l14-6 15 7-15 6zM2364 992l15-6 15 6-15 6zM3025 983l15-7 15 6-15 7zM2320 985l15-6 15 6-15 6zM2996 984l15-7 14 6-14 7zM2937 985l15-6 15 6-15 6zM2908 986l14-7 15 6-15 7zM2878 986l15-6 15 6-15 6zM2849 986l15-6 14 6-14 7zM2820 986l14-6 15 6-15 7zM2790 986l15-6 15 6-15 7zM2761 986l15-6 14 6-14 7zM2732 985l14-6 15 7-15 6zM2702 985l15-7 15 7-15 7zM2673 985l15-7 14 7-14 6zM2643 986l15-8 15 7-15 7zM2614 986l15-7 14 7-14 6zM2585 987l14-7 15 6-15 7zM2555 987l15-7 15 7-15 6zM2526 987l15-6 14 6-14 6zM2497 987l14-6 15 6-15 6zM2467 987l15-6 15 6-15 6zM2438 987l14-7 15 7-15 6zM2408 986l15-6 15 7-15 6zM2350 985l14-6 15 7-15 6zM2291 984l15-6 14 7-14 5zM2967 985l14-7 15 6-15 7zM2379 986l15-6 14 6-14 6zM3040 976l15-7 14 6-14 7zM3011 977l14-7 15 6-15 7zM2922 979l15-6 15 6-15 6zM2864 980l14-7 15 7-15 6zM2805 980l15-7 14 7-14 6zM2776 980l14-7 15 7-15 6zM2746 979l15-6 15 7-15 6zM2717 978l15-6 14 7-14 6zM2629 979l14-7 15 6-15 8zM2570 980l15-6 14 6-14 7zM2541 981l14-7 15 6-15 7zM2482 981l15-7 14 7-14 6zM2335 979l15-6 14 6-14 6zM2981 978l15-7 15 6-15 7zM2834 980l15-6 15 6-15 6zM2688 978l14-7 15 7-15 7zM2658 978l15-7 15 7-15 7zM2599 980l15-7 15 6-15 7zM2511 981l15-7 15 7-15 6zM2364 979l15-6 15 7-15 6zM2306 978l14-6 15 7-15 6zM2276 977l15-6 15 7-15 6zM2952 979l15-7 14 6-14 7zM2893 980l15-7 14 6-14 7zM2452 980l15-6 15 7-15 6zM2423 980l15-6 14 6-14 7zM2394 980l14-6 15 6-15 6zM3025 970l15-6 15 5-15 7zM2996 971l15-7 14 6-14 7zM2849 974l15-7 14 6-14 7zM2732 972l14-6 15 7-15 6zM2643 972l15-7 15 6-15 7zM2497 974l14-6 15 6-15 7zM2350 973l14-6 15 6-15 6zM2262 971l14-6 15 6-15 6zM2967 972l14-7 15 6-15 7zM2937 973l15-7 15 6-15 7zM2908 973l14-6 15 6-15 6zM2878 973l15-6 15 6-15 7zM2820 973l14-6 15 7-15 6zM2790 973l15-6 15 6-15 7zM2761 973l15-7 14 7-14 7zM2702 971l15-6 15 7-15 6zM2673 971l15-7 14 7-14 7zM2614 973l15-7 14 6-14 7zM2585 974l14-7 15 6-15 7zM2555 974l15-7 15 7-15 6zM2526 974l15-6 14 6-14 7zM2467 974l15-6 15 6-15 7zM2438 974l14-6 15 6-15 6zM2408 974l15-6 15 6-15 6zM2379 973l15-6 14 7-14 6zM2320 972l15-6 15 7-15 6zM2291 971l15-5 14 6-14 6zM3011 964l14-6 15 6-15 6zM2981 965l15-6 15 5-15 7zM2952 966l15-7 14 6-14 7zM2893 967l15-7 14 7-14 6zM2834 967l15-6 15 6-15 7zM2805 967l15-7 14 7-14 6zM2776 966l14-6 15 7-15 6zM2746 966l15-7 15 7-15 7zM2717 965l15-7 14 8-14 6zM2688 964l14-7 15 8-15 6zM2658 965l15-8 15 7-15 7zM2629 966l14-7 15 6-15 7zM2599 967l15-7 15 6-15 7zM2570 967l15-7 14 7-14 7zM2541 968l14-7 15 6-15 7zM2511 968l15-7 15 7-15 6zM2394 967l14-6 15 7-15 6zM2364 967l15-6 15 6-15 6zM2276 965l15-6 15 7-15 5zM2247 964l15-6 14 7-14 6zM2864 967l14-6 15 6-15 6zM2482 968l15-7 14 7-14 6zM2452 968l15-6 15 6-15 6zM2335 966l15-6 14 7-14 6zM2306 966l14-6 15 6-15 6zM2922 967l15-7 15 6-15 7zM2423 968l15-7 14 7-14 6zM2967 959l14-6 15 6-15 6zM2820 960l14-6 15 7-15 6zM2673 957l15-7 14 7-14 7zM2526 961l15-6 14 6-14 7zM2379 961l15-6 14 6-14 6zM2232 958l15-6 15 6-15 6zM3025 958l15-7 15 6-15 7zM2996 959l15-7 14 6-14 6zM2878 961l15-7 15 6-15 7zM2761 959l15-6 14 7-14 6zM2732 958l14-6 15 7-15 7zM2702 957l15-6 15 7-15 7zM2614 960l15-8 14 7-14 7zM2585 960l14-7 15 7-15 7zM2291 959l15-6 14 7-14 6zM2262 958l14-6 15 7-15 6zM2937 960l15-7 15 6-15 7zM2908 960l14-6 15 6-15 7zM2849 961l15-7 14 7-14 6zM2790 960l15-6 15 6-15 7zM2643 959l15-8 15 6-15 8zM2555 961l15-7 15 6-15 7zM2497 961l14-6 15 6-15 7zM2467 962l15-7 15 6-15 7zM2438 961l14-6 15 7-15 6zM2408 961l15-6 15 6-15 7zM2350 960l14-6 15 7-15 6zM2320 960l15-6 15 6-15 6zM2247 952l15-6 14 6-14 6zM3011 952l14-7 15 6-15 7zM2981 953l15-7 15 6-15 7zM2952 953l15-6 14 6-14 6zM2922 954l15-7 15 6-15 7zM2864 954l14-6 15 6-15 7zM2834 954l15-6 15 6-15 7zM2805 954l15-7 14 7-14 6zM2776 953l14-6 15 7-15 6zM2746 952l15-6 15 7-15 6zM2717 951l15-6 14 7-14 6zM2629 952l14-7 15 6-15 8zM2599 953l15-7 15 6-15 8zM2570 954l15-7 14 6-14 7zM2541 955l14-7 15 6-15 7zM2511 955l15-7 15 7-15 6zM2482 955l15-6 14 6-14 6zM2423 955l15-6 14 6-14 6zM2394 955l14-6 15 6-15 6zM2364 954l15-6 15 7-15 6zM2335 954l15-6 14 6-14 6zM2306 953l14-6 15 7-15 6zM2276 952l15-5 15 6-15 6zM2218 951l14-6 15 7-15 6zM2893 954l15-6 14 6-14 6zM2452 955l15-6 15 6-15 7zM2996 946l15-7 14 6-14 7zM2967 947l14-7 15 6-15 7zM2937 947l15-6 15 6-15 6zM2849 948l15-7 14 7-14 6zM2790 947l15-7 15 7-15 7zM2555 948l15-7 15 6-15 7zM2408 949l15-7 15 7-15 6zM2320 947l15-6 15 7-15 6zM2262 946l14-6 15 7-15 5zM2908 948l14-7 15 6-15 7zM2761 946l15-7 14 8-14 6zM2732 945l14-7 15 8-15 6zM2614 946l15-8 14 7-14 7zM2585 947l14-7 15 6-15 7zM2438 949l14-7 15 7-15 6zM2291 947l15-6 14 6-14 6zM2232 945l15-6 15 7-15 6zM2203 944l15-5 14 6-14 6zM3025 945l15-7 15 6-15 7zM2878 948l15-7 15 7-15 6zM2820 947l14-6 15 7-15 6zM2526 948l15-6 14 6-14 7zM2497 949l14-7 15 6-15 7zM2467 949l15-7 15 7-15 6zM2379 948l15-6 14 7-14 6zM2350 948l14-6 15 6-15 6zM2952 941l15-7 14 6-14 7zM2922 941l15-6 15 6-15 6zM2776 939l14-6 15 7-15 7zM2570 941l15-7 14 6-14 7zM2423 942l15-6 14 6-14 7zM2276 940l15-6 15 7-15 6zM2188 938l15-6 15 7-15 5zM3011 939l14-6 15 5-15 7zM2981 940l15-7 15 6-15 7zM2893 941l15-6 14 6-14 7zM2864 941l14-6 15 6-15 7zM2834 941l15-6 15 6-15 7zM2805 940l15-6 14 7-14 6zM2746 938l15-6 15 7-15 7zM2599 940l15-8 15 6-15 8zM2541 942l14-7 15 6-15 7zM2511 942l15-7 15 7-15 6zM2482 942l15-6 14 6-14 7zM2452 942l15-6 15 6-15 7zM2394 942l14-6 15 6-15 7zM2364 942l15-6 15 6-15 6zM2335 941l15-6 14 7-14 6zM2306 941l14-6 15 6-15 6zM2247 939l15-5 14 6-14 6zM2218 939l14-6 15 6-15 6zM3025 933l15-7 15 6-15 6zM2967 934l14-7 15 6-15 7zM2937 935l15-7 15 6-15 7zM2908 935l14-7 15 7-15 6zM2878 935l15-7 15 7-15 6zM2820 934l14-6 15 7-15 6zM2761 932l15-6 14 7-14 6zM2585 934l14-8 15 6-15 8zM2467 936l15-6 15 6-15 6zM2438 936l14-6 15 6-15 6zM2350 935l14-6 15 7-15 6zM2320 935l15-6 15 6-15 6zM2291 934l15-6 14 7-14 6zM2203 932l15-6 14 7-14 6zM2790 933l15-6 15 7-15 6zM2555 935l15-8 15 7-15 7zM2526 935l15-7 14 7-14 7zM2408 936l15-6 15 6-15 6zM2379 936l15-6 14 6-14 6zM2262 934l14-6 15 6-15 6zM2232 933l15-6 15 7-15 5zM2996 933l15-6 14 6-14 6zM2849 935l15-7 14 7-14 6zM2497 936l14-7 15 6-15 7zM2922 928l15-6 15 6-15 7zM2893 928l15-6 14 6-14 7zM2452 930l15-7 15 7-15 6zM2306 928l14-6 15 7-15 6zM2952 928l15-7 14 6-14 7zM2805 927l15-6 14 7-14 6zM2364 929l15-6 15 7-15 6zM2218 926l14-6 15 7-15 6zM2188 925l15-5 15 6-15 6zM3011 927l14-7 15 6-15 7zM2981 927l15-6 15 6-15 6zM2864 928l14-6 15 6-15 7zM2834 928l15-7 15 7-15 7zM2776 926l14-7 15 8-15 6zM2570 927l15-7 14 6-14 8zM2541 928l14-7 15 6-15 8zM2511 929l15-7 15 6-15 7zM2482 930l15-7 14 6-14 7zM2423 930l15-7 14 7-14 6zM2394 930l14-7 15 7-15 6zM2335 929l15-6 14 6-14 6zM2276 928l15-6 15 6-15 6zM2247 927l15-6 14 7-14 6zM3025 920l15-7 15 6-15 7zM2996 921l15-7 14 6-14 7zM2937 922l15-7 15 6-15 7zM2908 922l14-6 15 6-15 6zM2878 922l15-7 15 7-15 6zM2849 921l15-6 14 7-14 6zM2790 919l15-6 15 8-15 6zM2497 923l14-7 15 6-15 7zM2467 923l15-6 15 6-15 7zM2438 923l14-6 15 6-15 7zM2408 923l15-6 15 6-15 7zM2379 923l15-6 14 6-14 7zM2350 923l14-6 15 6-15 6zM2320 922l15-6 15 7-15 6zM2291 922l15-6 14 6-14 6zM2262 921l14-6 15 7-15 6zM2232 920l15-5 15 6-15 6zM2203 920l15-6 14 6-14 6zM2967 921l14-6 15 6-15 6zM2820 921l14-7 15 7-15 7zM2555 921l15-7 15 6-15 7zM2526 922l15-7 14 6-14 7zM3011 914l14-6 15 5-15 7zM2922 916l15-7 15 6-15 7zM2893 915l15-6 14 7-14 6zM2864 915l14-6 15 6-15 7zM2482 917l15-7 14 6-14 7zM2394 917l14-6 15 6-15 6zM2335 916l15-6 14 7-14 6zM2247 915l15-6 14 6-14 6zM2188 913l15-6 15 7-15 6zM2981 915l15-7 15 6-15 7zM2834 914l15-6 15 7-15 6zM2511 916l15-7 15 6-15 7zM2364 917l15-6 15 6-15 6zM2218 914l14-6 15 7-15 5zM2952 915l15-6 14 6-14 6zM2805 913l15-6 14 7-14 7zM2541 915l14-7 15 6-15 7zM2452 917l15-7 15 7-15 6zM2423 917l15-6 14 6-14 6zM2306 916l14-6 15 6-15 6zM2276 915l15-6 15 7-15 6zM3025 908l15-7 15 6-15 6zM2996 908l15-6 14 6-14 6zM2878 909l15-7 15 7-15 6zM2849 908l15-6 14 7-14 6zM2497 910l14-7 15 6-15 7zM2350 910l14-6 15 7-15 6zM2203 907l15-5 14 6-14 6zM2967 909l14-7 15 6-15 7zM2937 909l15-6 15 6-15 6zM2908 909l14-6 15 6-15 7zM2820 907l14-6 15 7-15 6zM2526 909l15-7 14 6-14 7zM2467 910l15-6 15 6-15 7zM2438 911l14-7 15 6-15 7zM2408 911l15-7 15 7-15 6zM2379 911l15-7 14 7-14 6zM2320 910l15-6 15 6-15 6zM2291 909l15-6 14 7-14 6zM2262 909l14-6 15 6-15 6zM2232 908l15-6 15 7-15 6zM3011 902l14-7 15 6-15 7zM2981 902l15-6 15 6-15 6zM2952 903l15-7 14 6-14 7zM2893 902l15-6 14 7-14 6zM2864 902l14-6 15 6-15 7zM2834 901l15-6 15 7-15 6zM2511 903l15-8 15 7-15 7zM2482 904l15-7 14 6-14 7zM2452 904l15-7 15 7-15 6zM2423 904l15-6 14 6-14 7zM2394 904l14-6 15 6-15 7zM2364 904l15-6 15 6-15 7zM2335 904l15-6 14 6-14 6zM2306 903l14-6 15 7-15 6zM2276 903l15-6 15 6-15 6zM2247 902l15-6 14 7-14 6zM2218 902l14-6 15 6-15 6zM2188 901l15-6 15 7-15 5zM2922 903l15-7 15 7-15 6zM3025 895l15-7 15 6-15 7zM2996 896l15-7 14 6-14 7zM2967 896l14-6 15 6-15 6zM2878 896l15-7 15 7-15 6zM2849 895l15-7 14 8-14 6zM2526 895l15-7 14 6-14 8zM2438 898l14-7 15 6-15 7zM2379 898l15-6 14 6-14 6zM2291 897l15-6 14 6-14 6zM2232 896l15-6 15 6-15 6zM2937 896l15-6 15 6-15 7zM2908 896l14-6 15 6-15 7zM2497 897l14-8 15 6-15 8zM2467 897l15-6 15 6-15 7zM2408 898l15-6 15 6-15 6zM2350 898l14-6 15 6-15 6zM2320 897l15-6 15 7-15 6zM2262 896l14-5 15 6-15 6zM2203 895l15-6 14 7-14 6zM2173 894l15-6 15 7-15 6zM3011 889l14-6 15 5-15 7zM2981 890l15-7 15 6-15 7zM2952 890l15-7 14 7-14 6zM2922 890l15-7 15 7-15 6zM2864 888l14-6 15 7-15 7zM2511 889l15-7 15 6-15 7zM2452 891l15-7 15 7-15 6zM2423 892l15-7 14 6-14 7zM2394 892l14-7 15 7-15 6zM2364 892l15-7 15 7-15 6zM2335 891l15-6 14 7-14 6zM2306 891l14-6 15 6-15 6zM2276 891l15-6 15 6-15 6zM2247 890l15-6 14 7-14 5zM2218 889l14-6 15 7-15 6zM2188 888l15-5 15 6-15 6zM2893 889l15-6 14 7-14 6zM2482 891l15-8 14 6-14 8zM2996 883l15-6 14 6-14 6zM2967 883l14-6 15 6-15 7zM2937 883l15-6 15 6-15 7zM2408 885l15-6 15 6-15 7zM2320 885l15-6 15 6-15 6zM2262 884l14-6 15 7-15 6zM2173 882l15-6 15 7-15 5zM3025 883l15-7 15 6-15 6zM2908 883l14-6 15 6-15 7zM2878 882l15-6 15 7-15 6zM2497 883l14-7 15 6-15 7zM2467 884l15-7 15 6-15 8zM2438 885l14-7 15 6-15 7zM2379 885l15-6 14 6-14 7zM2350 885l14-6 15 6-15 7zM2291 885l15-6 14 6-14 6zM2232 883l15-5 15 6-15 6zM2203 883l15-6 14 6-14 6zM3011 877l14-7 15 6-15 7zM2981 877l15-6 15 6-15 6zM2952 877l15-6 14 6-14 6zM2922 877l15-6 15 6-15 6zM2893 876l15-6 14 7-14 6zM2482 877l15-7 14 6-14 7zM2452 878l15-7 15 6-15 7zM2423 879l15-7 14 6-14 7zM2394 879l14-6 15 6-15 6zM2364 879l15-6 15 6-15 6zM2335 879l15-6 14 6-14 6zM2306 879l14-6 15 6-15 6zM2276 878l15-6 15 7-15 6zM2247 878l15-6 14 6-14 6zM2218 877l14-6 15 7-15 5zM2188 876l15-6 15 7-15 6zM3025 870l15-6 15 5-15 7zM2967 871l14-7 15 7-15 6zM2937 871l15-7 15 7-15 6zM2908 870l14-6 15 7-15 6zM2467 871l15-7 15 6-15 7zM2438 872l14-7 15 6-15 7zM2408 873l15-7 15 6-15 7zM2379 873l15-7 14 7-14 6zM2350 873l14-6 15 6-15 6zM2320 873l15-7 15 7-15 6zM2291 872l15-6 14 7-14 6zM2262 872l14-6 15 6-15 6zM2232 871l15-6 15 7-15 6zM2203 870l15-5 14 6-14 6zM2173 870l15-6 15 6-15 6zM2996 871l15-7 14 6-14 7zM2952 864l15-6 14 6-14 7zM2922 864l15-6 15 6-15 7zM2452 865l15-7 15 6-15 7zM2364 867l15-7 15 6-15 7zM2306 866l14-6 15 6-15 7zM2218 865l14-6 15 6-15 6zM3011 864l14-6 15 6-15 6zM2981 864l15-6 15 6-15 7zM2423 866l15-7 14 6-14 7zM2394 866l14-6 15 6-15 7zM2335 866l15-6 14 7-14 6zM2276 866l15-6 15 6-15 6zM2247 865l15-6 14 7-14 6zM2188 864l15-6 15 7-15 5zM3025 858l15-7 15 6-15 7zM2996 858l15-6 14 6-14 6zM2937 858l15-7 15 7-15 6zM2438 859l14-7 15 6-15 7zM2379 860l15-6 14 6-14 6zM2350 860l14-6 15 6-15 7zM2320 860l15-6 15 6-15 6zM2291 860l15-6 14 6-14 6zM2262 859l14-6 15 7-15 6zM2232 859l15-6 15 6-15 6zM2203 858l15-6 14 7-14 6zM2967 858l14-6 15 6-15 6zM2408 860l15-7 15 6-15 7zM3011 852l14-7 15 6-15 7zM2335 854l15-6 14 6-14 6zM2247 853l15-6 14 6-14 6zM2981 852l15-7 15 7-15 6zM2952 851l15-6 14 7-14 6zM2452 852l15-8 15 6-15 8zM2423 853l15-7 14 6-14 7zM2394 854l14-7 15 6-15 7zM2364 854l15-7 15 7-15 6zM2306 854l14-6 15 6-15 6zM2276 853l15-6 15 7-15 6zM2218 852l14-6 15 7-15 6zM3025 845l15-6 15 6-15 6zM2996 845l15-6 14 6-14 7zM2967 845l14-6 15 6-15 7zM2937 844l15-6 15 7-15 6zM2438 846l14-8 15 6-15 8zM2408 847l15-7 15 6-15 7zM2379 847l15-6 14 6-14 7zM2350 848l14-7 15 6-15 7zM2320 848l15-7 15 7-15 6zM2291 847l15-6 14 7-14 6zM2262 847l14-6 15 6-15 6zM2232 846l15-5 15 6-15 6zM3011 839l14-6 15 6-15 6zM2981 839l15-6 15 6-15 6zM2952 838l15-6 14 7-14 6zM2423 840l15-8 14 6-14 8zM2394 841l14-7 15 6-15 7zM2364 841l15-6 15 6-15 6zM2335 841l15-6 14 6-14 7zM2306 841l14-6 15 6-15 7zM2276 841l15-6 15 6-15 6zM2247 841l15-6 14 6-14 6zM3025 833l15-7 15 6-15 7zM2996 833l15-7 14 7-14 6zM2967 832l14-6 15 7-15 6zM2408 834l15-7 15 5-15 8zM2379 835l15-7 14 6-14 7zM2291 835l15-6 14 6-14 6zM2350 835l14-7 15 7-15 6zM2320 835l15-6 15 6-15 6zM2262 835l14-6 15 6-15 6zM2981 826l15-6 15 6-15 7zM2394 828l14-7 15 6-15 7zM3011 826l14-6 15 6-15 7zM2364 828l15-6 15 6-15 7zM2306 829l14-6 15 6-15 6zM2276 829l15-6 15 6-15 6zM2335 829l15-7 14 6-14 7zM2996 820l15-6 14 6-14 6zM3025 820l15-6 15 6-15 6zM2379 822l15-7 14 6-14 7zM2350 822l14-6 15 6-15 6zM2320 823l15-7 15 6-15 7zM2291 823l15-7 14 7-14 6zM3011 814l14-7 15 7-15 6zM2394 815l14-8 15 6-15 8zM2364 816l15-7 15 6-15 7zM2335 816l15-7 14 7-14 6zM2306 816l14-6 15 6-15 7zM2379 809l15-8 14 6-14 8zM2350 809l14-6 15 6-15 7zM2320 810l15-7 15 6-15 7zM2364 803l15-8 15 6-15 8zM2335 803l15-6 14 6-14 6zM2350 797l14-8 15 6-15 8z"/>
<path class="c2" d="M2732 1113l14-3 15 3-15 1zM2614 1112l15-2 14 2-14 1zM2717 1110l15-3 14 3-14 3zM2629 1110l14-4 15 4-15 2zM2746 1110l15-3 15 3-15 3zM2599 1110l15-4 15 4-15 2zM2614 1106l15-4 14 4-14 4zM2585 1106l14-4 15 4-15 4zM3055 982l14-7 15 6-15 7zM3069 975l15-7 15 6-15 7zM3055 969l14-7 15 6-15 7zM3084 968l15-7 14 6-14 7zM3099 961l14-7 15 6-15 7zM3040 964l15-7 14 5-14 7zM3069 962l15-6 15 5-15 7zM3113 954l15-7 15 6-15 7zM3084 956l15-7 14 5-14 7zM3055 957l14-7 15 6-15 6zM3128 947l15-7 15 6-15 7zM3099 949l14-7 15 5-15 7zM2688 950l14-7 15 8-15 6zM3069 950l15-7 15 6-15 7zM2658 951l15-8 15 7-15 7zM3040 951l15-7 14 6-14 7zM3143 940l15-7 14 6-14 7zM3113 942l15-7 15 5-15 7zM3084 943l15-7 14 6-14 7zM2702 943l15-6 15 8-15 6zM2673 943l15-7 14 7-14 7zM2643 945l15-8 15 6-15 8zM3055 944l14-7 15 6-15 7zM3128 935l15-7 15 5-15 7zM3099 936l14-7 15 6-15 7zM3069 937l15-6 15 5-15 7zM2717 937l15-6 14 7-14 7zM2658 937l15-8 15 7-15 7zM3158 933l14-7 15 6-15 7zM3040 938l15-6 14 5-14 7zM2688 936l14-7 15 8-15 6zM2629 938l14-7 15 6-15 8zM3172 926l15-7 15 6-15 7zM3113 929l15-7 15 6-15 7zM3084 931l15-7 14 5-14 7zM3055 932l14-7 15 6-15 6zM2732 931l14-7 15 8-15 6zM2702 929l15-7 15 9-15 6zM2673 929l15-8 14 8-14 7zM2643 931l15-8 15 6-15 8zM2614 932l15-8 14 7-14 7zM2173 931l15-6 15 7-15 6zM3143 928l15-7 14 5-14 7zM3187 919l15-7 14 6-14 7zM3040 926l15-7 14 6-14 7zM2746 924l15-6 15 8-15 6zM2599 926l15-8 15 6-15 8zM2159 925l14-6 15 6-15 6zM3158 921l14-7 15 5-15 7zM3099 924l14-7 15 5-15 7zM3069 925l15-7 15 6-15 7zM2688 921l14-7 15 8-15 7zM2658 923l15-9 15 7-15 8zM2629 924l14-8 15 7-15 8zM3128 922l15-7 15 6-15 7zM2717 922l15-6 14 8-14 7zM3172 914l15-7 15 5-15 7zM2614 918l15-8 14 6-14 8zM2173 919l15-6 15 7-15 5zM3143 915l15-7 14 6-14 7zM3084 918l15-7 14 6-14 7zM3055 919l14-7 15 6-15 7zM2761 918l15-6 14 7-14 7zM2732 916l14-6 15 8-15 6zM2702 914l15-6 15 8-15 6zM2673 914l15-8 14 8-14 7zM2643 916l15-8 15 6-15 9zM2585 920l14-8 15 6-15 8zM2144 918l15-6 14 7-14 6zM3113 917l15-7 15 5-15 7zM3187 907l15-7 14 5-14 7zM3158 908l14-7 15 6-15 7zM3069 912l15-6 15 5-15 7zM3040 913l15-6 14 5-14 7zM2776 912l14-6 15 7-15 6zM2717 908l15-7 14 9-14 6zM2629 910l14-9 15 7-15 8zM3128 910l15-7 15 5-15 7zM2688 906l14-7 15 9-15 6zM2658 908l15-9 15 7-15 8zM2599 912l15-8 15 6-15 8zM2159 912l14-5 15 6-15 6zM2129 911l15-5 15 6-15 6zM3099 911l14-7 15 6-15 7zM2746 910l15-6 15 8-15 6zM2570 914l15-8 14 6-14 8zM3202 900l14-7 15 5-15 7zM3172 901l15-6 15 5-15 7zM3143 903l15-7 14 5-14 7zM2702 899l15-7 15 9-15 7zM2643 901l15-9 15 7-15 9zM2115 905l14-6 15 7-15 5zM3113 904l15-6 15 5-15 7zM3084 906l15-7 14 5-14 7zM3055 907l14-7 15 6-15 6zM2790 906l15-7 15 8-15 6zM2761 904l15-7 14 9-14 6zM2732 901l14-6 15 9-15 6zM2614 904l15-9 14 6-14 9zM2585 906l14-8 15 6-15 8zM2555 908l15-8 15 6-15 8zM2173 907l15-6 15 6-15 6zM2144 906l15-6 14 7-14 5zM3187 895l15-7 14 5-14 7zM3158 896l14-7 15 6-15 6zM3128 898l15-7 15 5-15 7zM3099 899l14-7 15 6-15 6zM3040 901l15-7 14 6-14 7zM2805 899l15-6 14 8-14 6zM2746 895l15-6 15 8-15 7zM2717 892l15-6 14 9-14 6zM2629 895l14-9 15 6-15 9zM2599 898l15-9 15 6-15 9zM2570 900l15-8 14 6-14 8zM2541 902l14-8 15 6-15 8zM2159 900l14-6 15 7-15 6zM2129 899l15-6 15 7-15 6zM2100 898l15-6 14 7-14 6zM3069 900l15-7 15 6-15 7zM2776 897l14-6 15 8-15 7zM3172 889l15-7 15 6-15 7zM3143 891l15-7 14 5-14 7zM3113 892l15-7 15 6-15 7zM2820 893l14-6 15 8-15 6zM2732 886l14-6 15 9-15 6zM2555 894l15-8 15 6-15 8zM2144 893l15-5 14 6-14 6zM3202 888l14-7 15 5-15 7zM3084 893l15-7 14 6-14 7zM3055 894l14-6 15 5-15 7zM2790 891l15-6 15 8-15 6zM2761 889l15-6 14 8-14 6zM2614 889l15-9 14 6-14 9zM2585 892l14-9 15 6-15 9zM2115 892l14-5 15 6-15 6zM2834 887l15-6 15 7-15 7zM2541 888l14-8 15 6-15 8zM3187 882l15-7 14 6-14 7zM3158 884l14-7 15 5-15 7zM3128 885l15-7 15 6-15 7zM3099 886l14-6 15 5-15 7zM3069 888l15-7 15 5-15 7zM3040 888l15-6 14 6-14 6zM2805 885l15-6 14 8-14 6zM2776 883l14-6 15 8-15 6zM2570 886l15-9 14 6-14 9zM2159 888l14-6 15 6-15 6zM2129 887l15-6 15 7-15 5zM2746 880l15-6 15 9-15 6zM2599 883l15-9 15 6-15 9zM3202 875l14-7 15 5-15 8zM3143 878l15-6 14 5-14 7zM3113 880l15-7 15 5-15 7zM3084 881l15-7 14 6-14 6zM3055 882l14-7 15 6-15 7zM2849 881l15-6 14 7-14 6zM2820 879l14-6 15 8-15 6zM2790 877l15-6 15 8-15 6zM2555 880l15-9 15 6-15 9zM2144 881l15-6 14 7-14 6zM3172 877l15-7 15 5-15 7zM2761 874l15-6 14 9-14 6zM2585 877l14-9 15 6-15 9zM2526 882l15-8 14 6-14 8zM3069 875l15-6 15 5-15 7zM3187 870l15-7 14 5-14 7zM3158 872l14-7 15 5-15 7zM3128 873l15-7 15 6-15 6zM3099 874l14-7 15 6-15 7zM3040 876l15-7 14 6-14 7zM2864 875l14-6 15 7-15 6zM2834 873l15-6 15 8-15 6zM2805 871l15-6 14 8-14 6zM2776 868l14-6 15 9-15 6zM2570 871l15-9 14 6-14 9zM2541 874l14-9 15 6-15 9zM2511 876l15-8 15 6-15 8zM2159 875l14-5 15 6-15 6zM3172 865l15-7 15 5-15 7zM3113 867l15-6 15 5-15 7zM3084 869l15-7 14 5-14 7zM3055 869l14-6 15 6-15 6zM2878 869l15-6 15 7-15 6zM2820 865l14-6 15 8-15 6zM2790 862l15-6 15 9-15 6zM2555 865l15-9 15 6-15 9zM2526 868l15-9 14 6-14 9zM2497 870l14-8 15 6-15 8zM3143 866l15-7 14 6-14 7zM2849 867l15-6 14 8-14 6zM3099 862l14-7 15 6-15 6zM3069 863l15-7 15 6-15 7zM3040 864l15-7 14 6-14 6zM2893 863l15-6 14 7-14 6zM2805 856l15-6 14 9-14 6zM2511 862l15-8 15 5-15 9zM2482 864l15-8 14 6-14 8zM3158 859l14-7 15 6-15 7zM3128 861l15-7 15 5-15 7zM2864 861l14-6 15 8-15 6zM2834 859l15-6 15 8-15 6zM2541 859l14-8 15 5-15 9zM2908 857l14-6 15 7-15 6zM2467 858l15-8 15 6-15 8zM3143 854l15-7 14 5-14 7zM3113 855l15-7 15 6-15 7zM3084 856l15-6 14 5-14 7zM3055 857l14-7 15 6-15 7zM2878 855l15-6 15 8-15 6zM2849 853l15-6 14 8-14 6zM2526 854l15-9 14 6-14 8zM2497 856l14-8 15 6-15 8zM2820 850l14-6 15 9-15 6zM3128 848l15-6 15 5-15 7zM3069 850l15-6 15 6-15 6zM3040 851l15-6 14 5-14 7zM2922 851l15-7 15 7-15 7zM2893 849l15-6 14 8-14 6zM2864 847l14-6 15 8-15 6zM2482 850l15-8 14 6-14 8zM3099 850l14-7 15 5-15 7zM2834 844l15-6 15 9-15 6zM2511 848l15-9 15 6-15 9zM3113 843l15-7 15 6-15 6zM3084 844l15-7 14 6-14 7zM3055 845l14-7 15 6-15 6zM2908 843l14-6 15 7-15 7zM2878 841l15-6 15 8-15 6zM2849 838l15-5 14 8-14 6zM2526 839l15-9 14 5-14 10zM2497 842l14-9 15 6-15 9zM2467 844l15-8 15 6-15 8zM3099 837l14-6 15 5-15 7zM3040 839l15-7 14 6-14 7zM2893 835l15-6 14 8-14 6zM2864 833l14-6 15 8-15 6zM2834 829l15-6 15 10-15 5zM2511 833l15-9 15 6-15 9zM2482 836l15-8 14 5-14 9zM2452 838l15-8 15 6-15 8zM3069 838l15-6 15 5-15 7zM2922 837l15-6 15 7-15 6zM2878 827l15-6 15 8-15 6zM2849 823l15-5 14 9-14 6zM2438 832l14-7 15 5-15 8zM3084 832l15-7 14 6-14 6zM3055 832l14-6 15 6-15 6zM2937 831l15-6 15 7-15 6zM2908 829l14-5 15 7-15 6zM2497 828l14-9 15 5-15 9zM2467 830l15-8 15 6-15 8zM3069 826l15-7 15 6-15 7zM2952 825l15-6 14 7-14 6zM2922 824l15-6 15 7-15 6zM2864 818l14-6 15 9-15 6zM2452 825l15-9 15 6-15 8zM2423 827l15-8 14 6-14 7zM3040 826l15-6 14 6-14 6zM2893 821l15-6 14 9-14 5zM2482 822l15-9 14 6-14 9zM2967 819l14-6 15 7-15 6zM2937 818l15-6 15 7-15 6zM2408 821l15-8 15 6-15 8zM3055 820l14-7 15 6-15 7zM2908 815l14-5 15 8-15 6zM2878 812l15-5 15 8-15 6zM2467 816l15-9 15 6-15 9zM2438 819l14-8 15 5-15 9zM3040 814l15-7 14 6-14 7zM2981 813l15-6 15 7-15 6zM2952 812l15-6 14 7-14 6zM2922 810l15-6 15 8-15 6zM2893 807l15-6 14 9-14 5zM2452 811l15-9 15 5-15 9zM2423 813l15-8 14 6-14 8zM3025 807l15-6 15 6-15 7zM2967 806l14-6 15 7-15 6zM2937 804l15-6 15 8-15 6zM2908 801l14-5 15 8-15 6zM2467 802l15-9 15 5-15 9zM2438 805l14-9 15 6-15 9zM2408 807l15-8 15 6-15 8zM2996 807l15-6 14 6-14 7zM2952 798l15-6 14 8-14 6zM2922 796l15-6 15 8-15 6zM2893 792l15-6 14 10-14 5zM2452 796l15-9 15 6-15 9zM3011 801l14-6 15 6-15 6zM2981 800l15-6 15 7-15 6zM2423 799l15-8 14 5-14 9zM2394 801l14-7 15 5-15 8zM2908 786l14-5 15 9-15 6zM2996 794l15-6 14 7-14 6zM2937 790l15-6 15 8-15 6zM2438 791l14-9 15 5-15 9zM2379 795l15-7 14 6-14 7zM2967 792l14-5 15 7-15 6zM2408 794l15-9 15 6-15 8zM2922 781l15-5 15 8-15 6zM2981 787l15-6 15 7-15 6zM2952 784l15-5 14 8-14 5zM2423 785l15-9 14 6-14 9zM2394 788l14-8 15 5-15 9zM2364 789l15-7 15 6-15 7zM2967 779l14-6 15 8-15 6zM2937 776l15-6 15 9-15 5zM2408 780l15-9 15 5-15 9zM2379 782l15-8 14 6-14 8zM2952 770l15-5 14 8-14 6zM2423 771l15-9 14 5-14 9zM2394 774l14-8 15 5-15 9zM2922 766l15-5 15 9-15 6zM2937 761l15-5 15 9-15 5zM2408 766l15-10 15 6-15 9z"/>
<path class="c3" d="M3202 912l14-7 15 5-15 8zM3216 905l15-7 15 5-15 7zM3231 898l15-7 14 5-14 7zM2673 899l15-9 14 9-14 7zM3246 891l14-7 15 5-15 7zM2688 890l14-7 15 9-15 7zM2658 892l15-9 15 7-15 9zM3216 893l15-7 15 5-15 7zM2673 883l15-10 14 10-14 7zM3231 886l15-7 14 5-14 7zM2702 883l15-7 15 10-15 6zM2643 886l15-9 15 6-15 9zM3216 881l15-8 15 6-15 7zM2717 876l15-6 14 10-14 6zM2688 873l14-7 15 10-15 7zM2658 877l15-11 15 7-15 10zM2629 880l14-10 15 7-15 9zM2702 866l15-6 15 10-15 6zM2732 870l14-6 15 10-15 6zM2643 870l15-10 15 6-15 11zM2614 874l15-10 14 6-14 10zM2746 864l15-6 15 10-15 6zM2717 860l15-7 14 11-14 6zM2629 864l14-10 15 6-15 10zM2599 868l15-10 15 6-15 10zM2761 858l15-6 14 10-14 6zM2732 853l14-6 15 11-15 6zM2614 858l15-10 14 6-14 10zM2585 862l14-10 15 6-15 10zM2776 852l14-6 15 10-15 6zM2746 847l15-6 15 11-15 6zM2599 852l15-10 15 6-15 10zM2570 856l15-9 14 5-14 10zM2761 841l15-5 14 10-14 6zM2790 846l15-6 15 10-15 6zM2585 847l14-11 15 6-15 10zM2555 851l15-10 15 6-15 9zM2776 836l14-6 15 10-15 6zM2805 840l15-5 14 9-14 6zM2570 841l15-11 14 6-14 11zM2541 845l14-10 15 6-15 10zM2820 835l14-6 15 9-15 6zM2790 830l15-6 15 11-15 5zM2555 835l15-10 15 5-15 11zM2805 824l15-5 14 10-14 6zM2541 830l14-11 15 6-15 10zM2820 819l14-6 15 10-15 6zM2526 824l15-10 14 5-14 11zM2555 819l15-11 15 5-15 12zM2834 813l15-5 15 10-15 5zM2805 808l15-6 14 11-14 6zM2541 814l14-11 15 5-15 11zM2511 819l15-11 15 6-15 10zM2849 808l15-5 14 9-14 6zM2820 802l14-5 15 11-15 5zM2526 808l15-11 14 6-14 11zM2497 813l14-10 15 5-15 11zM2864 803l14-6 15 10-15 5zM2834 797l15-5 15 11-15 5zM2511 803l15-11 15 5-15 11zM2482 807l15-9 14 5-14 10zM2878 797l15-5 15 9-15 6zM2497 798l14-11 15 5-15 11zM2849 792l15-5 14 10-14 6zM2864 787l14-5 15 10-15 5zM2482 793l15-11 14 5-14 11zM2878 782l15-6 15 10-15 6zM2497 782l14-11 15 4-15 12zM2467 787l15-10 15 5-15 11zM2482 777l15-11 14 5-14 11zM2893 776l15-5 14 10-14 5zM2864 770l14-5 15 11-15 6zM2452 782l15-10 15 5-15 10zM2908 771l14-5 15 10-15 5zM2878 765l15-4 15 10-15 5zM2467 772l15-11 15 5-15 11zM2438 776l14-9 15 5-15 10zM2893 761l15-5 14 10-14 5zM2452 767l15-11 15 5-15 11zM2438 762l14-11 15 5-15 11zM2908 756l14-5 15 10-15 5zM2423 756l15-10 14 5-14 11zM2922 751l15-5 15 10-15 5zM2452 751l15-11 15 4-15 12zM2908 740l14-5 15 11-15 5zM2438 746l14-11 15 5-15 11z"/>
<path class="c4" d="M2717 1110l15 3-15 1-15-1zM2658 1110l15 3-15 1-15-1zM2688 1110l14 3-14 1-15-1zM2673 866l15-10 14 10-14 7zM2688 856l14-7 15 11-15 6zM2658 860l15-11 15 7-15 10zM2673 849l15-11 14 11-14 7zM2702 849l15-7 15 11-15 7zM2643 854l15-12 15 7-15 11zM2717 842l15-6 14 11-14 6zM2658 842l15-12 15 8-15 11zM2629 848l14-12 15 6-15 12zM2688 838l14-8 15 12-15 7zM2732 836l14-6 15 11-15 6zM2643 836l15-12 15 6-15 12zM2614 842l15-12 14 6-14 12zM2702 830l15-6 15 12-15 6zM2629 830l14-12 15 6-15 12zM2746 830l15-6 15 12-15 5zM2717 824l15-7 14 13-14 6zM2599 836l15-12 15 6-15 12zM2761 824l15-6 14 12-14 6zM2732 817l14-5 15 12-15 6zM2614 824l15-12 14 6-14 12zM2585 830l14-11 15 5-15 12zM2746 812l15-6 15 12-15 6zM2599 819l15-13 15 6-15 12zM2570 825l15-12 14 6-14 11zM2776 818l14-5 15 11-15 6zM2585 813l14-12 15 5-15 13zM2790 813l15-5 15 11-15 5zM2761 806l15-6 14 13-14 5zM2570 808l15-13 14 6-14 12zM2776 800l14-5 15 13-15 5zM2555 803l15-13 15 5-15 13zM2790 795l15-5 15 12-15 6zM2805 790l15-5 14 12-14 5zM2541 797l14-12 15 5-15 13zM2820 785l14-5 15 12-15 5zM2526 792l15-12 14 5-14 12zM2511 787l15-12 15 5-15 12zM2834 780l15-5 15 12-15 5zM2849 775l15-5 14 12-14 5zM2820 767l14-5 15 13-15 5zM2526 775l15-13 14 5-14 13zM2834 762l15-4 15 12-15 5zM2511 771l15-13 15 4-15 13zM2849 758l15-5 14 12-14 5zM2497 766l14-13 15 5-15 13zM2864 753l14-4 15 12-15 4zM2482 761l15-12 14 4-14 13zM2878 749l15-5 15 12-15 5zM2467 756l15-12 15 5-15 12zM2864 735l14-4 15 13-15 5zM2893 744l15-4 14 11-14 5zM2482 744l15-13 14 4-14 14zM2878 731l15-4 15 13-15 4zM2467 740l15-13 15 4-15 13zM2893 727l15-4 14 12-14 5zM2452 735l15-12 15 4-15 13z"/>
<path class="c5" d="M2673 1104l15 6-15 3-15-3zM2702 1104l15 6-15 3-14-3zM2673 830l15-12 14 12-14 8zM2688 818l14-7 15 13-15 6zM2658 824l15-13 15 7-15 12zM2702 811l15-7 15 13-15 7zM2643 818l15-14 15 7-15 13zM2717 804l15-6 14 14-14 5zM2629 812l14-14 15 6-15 14zM2732 798l14-6 15 14-15 6zM2614 806l15-14 14 6-14 14zM2746 792l15-5 15 13-15 6zM2599 801l15-14 15 5-15 14zM2761 787l15-6 14 14-14 5zM2585 795l14-13 15 5-15 14zM2776 781l14-5 15 14-15 5zM2570 790l15-13 14 5-14 13zM2790 776l15-5 15 14-15 5zM2555 785l15-13 15 5-15 13zM2805 771l15-4 14 13-14 5zM2541 780l14-13 15 5-15 13zM2805 752l15-5 14 15-14 5zM2541 762l14-14 15 4-15 15zM2820 747l14-4 15 15-15 4zM2526 758l15-15 14 5-14 14zM2834 743l15-4 15 14-15 5zM2511 753l15-14 15 4-15 15zM2849 739l15-4 14 14-14 4zM2497 749l14-14 15 4-15 14zM2849 720l15-4 14 15-14 4zM2497 731l14-15 15 4-15 15zM2864 716l14-3 15 14-15 4zM2482 727l15-14 14 3-14 15zM2878 713l15-4 15 14-15 4zM2467 723l15-14 15 4-15 14z"/>
<path class="c6" d="M2673 811l15-14 14 14-14 7zM2688 797l14-7 15 14-15 7zM2658 804l15-14 15 7-15 14zM2702 790l15-7 15 15-15 6zM2643 798l15-15 15 7-15 14zM2717 783l15-6 14 15-14 6zM2629 792l14-15 15 6-15 15zM2732 777l14-6 15 16-15 5zM2614 787l15-16 14 6-14 15zM2746 771l15-5 15 15-15 6zM2599 782l15-16 15 5-15 16zM2761 766l15-5 14 15-14 5zM2585 777l14-16 15 5-15 16zM2776 761l14-5 15 15-15 5zM2570 772l15-16 14 5-14 16zM2790 756l15-4 15 15-15 4zM2555 767l15-15 15 4-15 16zM2805 731l15-4 14 16-14 4zM2541 743l14-16 15 4-15 17zM2820 727l14-4 15 16-15 4zM2526 739l15-16 14 4-14 16zM2834 723l15-3 15 15-15 4zM2511 735l15-15 15 3-15 16zM2497 713l14-17 15 3-15 17zM2849 699l15-3 14 17-14 3zM2482 709l15-16 14 3-14 17zM2864 696l14-3 15 16-15 4z"/>
<path class="c7" d="M2688 1093l14 11-14 6-15-6zM2673 790l15-15 14 15-14 7zM2688 775l14-8 15 16-15 7zM2658 783l15-16 15 8-15 15zM2702 767l15-7 15 17-15 6zM2643 777l15-17 15 7-15 16zM2717 760l15-6 14 17-14 6zM2629 771l14-17 15 6-15 17zM2732 754l14-5 15 17-15 5zM2614 766l15-17 14 5-14 17zM2746 749l15-5 15 17-15 5zM2599 761l15-17 15 5-15 17zM2761 744l15-5 14 17-14 5zM2585 756l14-17 15 5-15 17zM2776 739l14-4 15 17-15 4zM2570 752l15-17 14 4-14 17zM2790 735l15-4 15 16-15 5zM2555 748l15-17 15 4-15 17zM2541 723l14-18 15 4-15 18zM2805 709l15-4 14 18-14 4zM2820 705l14-3 15 18-15 3zM2526 720l15-18 14 3-14 18zM2834 702l15-3 15 17-15 4zM2511 716l15-17 15 3-15 18zM2497 693l14-18 15 2-15 19zM2849 678l15-3 14 18-14 3z"/>
<path class="c9" d="M2688 750l14-8 15 18-15 7zM2658 760l15-18 15 8-15 17zM2643 754l15-19 15 7-15 18zM2702 742l15-7 15 19-15 6zM2629 749l14-19 15 5-15 19zM2717 735l15-5 14 19-14 5zM2614 744l15-19 14 5-14 19zM2732 730l14-6 15 20-15 5zM2570 709l15-21 14 3-14 21zM2776 691l14-3 15 21-15 3zM2555 705l15-20 15 3-15 21zM2790 688l15-3 15 20-15 4zM2805 685l15-3 14 20-14 3zM2541 702l14-20 15 3-15 20zM2820 658l14-2 15 22-15 2zM2834 656l15-1 15 20-15 3zM2511 675l15-21 15 2-15 21z"/>
<path class="c10" d="M2673 742l15-18 14 18-14 8zM2658 735l15-20 15 9-15 18zM2688 724l14-9 15 20-15 7zM2643 730l15-21 15 6-15 20zM2702 715l15-7 15 22-15 5zM2629 725l14-22 15 6-15 21zM2717 708l15-5 14 21-14 6zM2732 703l14-5 15 22-15 4zM2614 720l15-22 14 5-14 22zM2746 698l15-4 15 22-15 4zM2599 716l15-22 15 4-15 22zM2585 712l14-21 15 3-15 22zM2761 694l15-3 14 21-14 4zM2805 659l15-1 14 22-14 2zM2541 680l14-23 15 2-15 23zM2526 677l15-21 14 1-14 23z"/>
<path class="c12" d="M2673 715l15-20 14 20-14 9zM2688 695l14-9 15 22-15 7zM2658 709l15-23 15 9-15 20zM2702 686l15-7 15 24-15 5zM2643 703l15-24 15 7-15 23zM2717 679l15-5 14 24-14 5zM2629 698l14-24 15 5-15 24zM2732 674l14-4 15 24-15 4zM2614 694l15-24 14 4-14 24zM2746 670l15-4 15 25-15 3zM2599 691l15-25 15 4-15 24zM2790 633l15-1 15 26-15 1zM2555 657l15-25 15 1-15 26zM2805 632l15 0 14 24-14 2zM2541 656l14-25 15 1-15 25z"/>
<path class="c8" d="M2673 767l15-17 14 17-14 8zM2746 724l15-4 15 19-15 5zM2599 739l15-19 15 5-15 19zM2761 720l15-4 14 19-14 4zM2585 735l14-19 15 4-15 19zM2570 731l15-19 14 4-14 19zM2776 716l14-4 15 19-15 4zM2555 727l15-18 15 3-15 19zM2790 712l15-3 15 18-15 4zM2820 682l14-2 15 19-15 3zM2526 699l15-19 14 2-14 20zM2511 696l15-19 15 3-15 19zM2834 680l15-2 15 18-15 3z"/>
<path class="c17" d="M2688 628l14-10 15 29-15 6zM2658 647l15-29 15 10-15 25zM2702 618l15-6 15 31-15 4zM2643 642l15-30 15 6-15 29zM2717 612l15-4 14 31-14 4zM2629 639l14-31 15 4-15 30zM2732 608l14-3 15 31-15 3zM2614 636l15-31 14 3-14 31zM2570 603l15-33 14-1-14 34zM2776 569l14 2 15 32-15 0z"/>
<path class="c14" d="M2673 686l15-23 14 23-14 9zM2717 647l15-4 14 27-14 4zM2629 670l14-28 15 5-15 27zM2732 643l14-4 15 27-15 4zM2614 666l15-27 14 3-14 28zM2746 639l15-3 15 28-15 2zM2599 664l15-28 15 3-15 27zM2790 603l15 0 15 29-15 0zM2555 631l15-28 15 0-15 29z"/>
<path class="c20" d="M2688 589l14-10 15 33-15 6zM2658 612l15-33 15 10-15 29zM2643 608l15-34 15 5-15 33zM2702 579l15-5 15 34-15 4zM2629 605l14-34 15 3-15 34zM2717 574l15-3 14 34-14 3zM2570 572l15-36 14-3-14 37zM2776 534l14 3 15 36-15-2z"/>
<path class="c11" d="M2761 666l15-2 14 24-14 3zM2585 688l14-24 15 2-15 25zM2776 664l14-3 15 24-15 3zM2570 685l15-24 14 3-14 24zM2790 661l15-2 15 23-15 3zM2555 682l15-23 15 2-15 24zM2820 632l14-1 15 24-15 1zM2526 654l15-23 14 0-14 25z"/>
<path class="c16" d="M2673 653l15-25 14 25-14 10zM2746 605l15-1 15 30-15 2zM2599 634l15-30 15 1-15 31zM2761 604l15-1 14 30-14 1zM2585 633l14-30 15 1-15 30zM2555 603l15-31 15-2-15 33zM2790 571l15 2 15 31-15-1z"/>
<path class="c24" d="M2658 574l15-37 15 10-15 32zM2688 547l14-10 15 37-15 5zM2643 571l15-39 15 5-15 37zM2702 537l15-5 15 39-15 3zM2761 491l15 5 14 41-14-3zM2585 536l14-41 15-4-15 42z"/>
<path class="c27" d="M2688 501l14-10 15 41-15 5zM2658 532l15-41 15 10-15 36zM2702 491l15-4 15 43-15 2zM2643 530l15-43 15 4-15 41zM2717 487l15 0 14 43-14 0zM2629 530l14-44 15 1-15 43z"/>
<path class="c13" d="M2761 636l15-2 14 27-14 3zM2585 661l14-27 15 2-15 28zM2776 634l14-1 15 26-15 2zM2570 659l15-26 14 1-14 27zM2805 603l15 1 14 27-14 1zM2541 631l14-28 15 0-15 28z"/>
<path class="c15" d="M2688 663l14-10 15 26-15 7zM2658 679l15-26 15 10-15 23zM2702 653l15-6 15 27-15 5zM2643 674l15-27 15 6-15 26zM2776 603l14 0 15 29-15 1zM2570 632l15-29 14 0-14 30z"/>
<path class="c19" d="M2673 618l15-29 14 29-14 10zM2614 604l15-35 14 2-14 34zM2732 571l14-2 15 35-15 1zM2746 569l15 0 15 34-15 1zM2599 603l15-34 15 0-15 35z"/>
<path class="c32" d="M2688 451l14-10 15 46-15 4zM2658 487l15-46 15 10-15 40zM2702 441l15-2 15 48-15 0zM2643 486l15-47 15 2-15 46z"/>
<path class="c23" d="M2673 579l15-32 14 32-14 10zM2629 569l14-39 15 2-15 39zM2717 532l15-2 14 39-14 2zM2614 569l15-39 14 0-14 39z"/>
<path class="c52" d="M2673 276l15-54 14 54-14 4zM2688 222l14 1 15 60-15-7zM2658 282l15-59 15-1-15 54z"/>
<path class="c46" d="M2673 333l15-53 14 53-14 7zM2643 342l15-60 15-6-15 59zM2702 276l15 7 15 59-15-7z"/>
<path class="c41" d="M2673 388l15-48 14 48-14 9zM2643 391l15-56 15-2-15 55zM2702 333l15 2 15 57-15-4z"/>
<path class="c35" d="M2673 441l15-44 14 44-14 10zM2717 388l15 4 14 52-14-4zM2629 444l14-53 15-3-15 52z"/>
<path class="c31" d="M2673 491l15-40 14 40-14 10zM2717 439l15 1 14 48-14-1zM2629 488l14-48 15-1-15 47z"/>
<path class="c26" d="M2673 537l15-36 14 36-14 10zM2732 487l14 1 15 43-15-1zM2614 531l15-43 14-2-14 44z"/>
<path class="c22" d="M2732 530l14 0 15 39-15 0zM2746 530l15 1 15 38-15 0zM2599 569l15-38 15-1-15 39z"/>
<path class="c47" d="M2658 335l15-59 15 4-15 53zM2688 280l14-4 15 59-15-2z"/>
<path class="c40" d="M2629 398l14-56 15-7-15 56zM2717 335l15 7 14 56-14-6z"/>
<path class="c34" d="M2732 392l14 6 15 52-15-6zM2614 449l15-51 14-7-14 53z"/>
<path class="c28" d="M2746 444l15 6 15 46-15-5zM2599 495l15-46 15-5-15 47z"/>
<path class="c42" d="M2688 340l14-7 15 55-15 0zM2658 388l15-55 15 7-15 48z"/>
<path class="c30" d="M2732 440l14 4 15 47-15-3zM2614 491l15-47 14-4-14 48z"/>
<path class="c36" d="M2702 388l15 0 15 52-15-1zM2643 440l15-52 15 0-15 51z"/>
<path class="c25" d="M2746 488l15 3 15 43-15-3zM2599 533l15-42 15-3-15 43z"/>
<path class="c37" d="M2688 397l14-9 15 51-15 2zM2658 439l15-51 15 9-15 44z"/>
<path class="c21" d="M2585 570l14-37 15-2-15 38zM2761 531l15 3 14 37-14-2z"/>
<path class="c18" d="M2761 569l15 0 14 34-14 0zM2585 603l14-34 15 0-15 34z"/>
<path class="c57" d="M2673 223l15-50 14 50-14-1z"/>
</g>
<path d="M210 32.65L210 93.85L268.75 118.75L327.5 93.85M268.75 118.75l-1.1 .9M268.75 118.75l1.1 .9M254.06 112.53l-1.1 .9M283.44 112.53l1.1 .9M239.38 106.3l-1.1 .9M298.12 106.3l1.1 .9M224.69 100.08l-1.1 .9M312.81 100.08l1.1 .9M210 93.85l-1.1 .9M327.5 93.85l1.1 .9M210 93.85l-1.3 0M210 83.65l-1.3 0M210 73.45l-1.3 0M210 63.25l-1.3 0M210 53.05l-1.3 0M210 42.85l-1.3 0M210 32.65l-1.3 0" stroke="#4d4d4d" stroke-width=".38" fill="none"/>
<text transform="translate(265.75 124.55) scale(.1)" font-size="43.5" text-anchor="end">-100</text>
<text transform="translate(271.95 124.65) scale(.1)" font-size="43.5" text-anchor="start">-100</text>
<text transform="translate(251.06 118.33) scale(.1)" font-size="43.5" text-anchor="end">-50</text>
<text transform="translate(286.64 118.43) scale(.1)" font-size="43.5" text-anchor="start">-50</text>
<text transform="translate(236.38 112.1) scale(.1)" font-size="43.5" text-anchor="end">0</text>
<text transform="translate(301.32 112.2) scale(.1)" font-size="43.5" text-anchor="start">0</text>
<text transform="translate(221.69 105.88) scale(.1)" font-size="43.5" text-anchor="end">50</text>
<text transform="translate(316.01 105.98) scale(.1)" font-size="43.5" text-anchor="start">50</text>
<text transform="translate(207 99.65) scale(.1)" font-size="43.5" text-anchor="end">100</text>
<text transform="translate(330.7 99.75) scale(.1)" font-size="43.5" text-anchor="start">100</text>
<text transform="translate(207.4 94.75) scale(.1)" font-size="43.5" text-anchor="end">0</text>
<text transform="translate(207.4 84.55) scale(.1)" font-size="43.5" text-anchor="end">2000</text>
<text transform="translate(207.4 74.35) scale(.1)" font-size="43.5" text-anchor="end">4000</text>
<text transform="translate(207.4 64.15) scale(.1)" font-size="43.5" text-anchor="end">6000</text>
<text transform="translate(207.4 53.95) scale(.1)" font-size="43.5" text-anchor="end">8000</text>
<text transform="translate(207.4 43.75) scale(.1)" font-size="43.5" text-anchor="end">10000</text>
<text transform="translate(207.4 33.55) scale(.1)" font-size="43.5" text-anchor="end">12000</text>
<text transform="translate(225.07 124.6) scale(.1)" font-size="48" text-anchor="middle">Y-coordinate</text>
<text transform="translate(312.52 124.6) scale(.1)" font-size="48" text-anchor="middle">X-coordinate</text>
<text transform="translate(190.5 63.25) rotate(-90) scale(.1)" font-size="48" text-anchor="middle">Function Value</text>
<text transform="translate(268.75 6.3) scale(.1)" font-size="47.5" text-anchor="middle" font-weight="bold" fill="#111">2D Visualization of Benchmark Function F2</text>
<rect x="339" y="8.25" width="6.5" height="110.5" fill="url(#pg)" stroke="#777" stroke-width=".25"/>
<text transform="translate(347.7 114.7) scale(.1)" font-size="41" text-anchor="start">1000</text>
<text transform="translate(347.7 103.7) scale(.1)" font-size="41" text-anchor="start">2000</text>
<text transform="translate(347.7 92.7) scale(.1)" font-size="41" text-anchor="start">3000</text>
<text transform="translate(347.7 81.7) scale(.1)" font-size="41" text-anchor="start">4000</text>
<text transform="translate(347.7 70.7) scale(.1)" font-size="41" text-anchor="start">5000</text>
<text transform="translate(347.7 59.7) scale(.1)" font-size="41" text-anchor="start">6000</text>
<text transform="translate(347.7 48.7) scale(.1)" font-size="41" text-anchor="start">7000</text>
<text transform="translate(347.7 37.7) scale(.1)" font-size="41" text-anchor="start">8000</text>
<text transform="translate(347.7 26.7) scale(.1)" font-size="41" text-anchor="start">9000</text>
<text transform="translate(347.7 15.7) scale(.1)" font-size="41" text-anchor="start">10000</text>
<path d="M339 113.25l1 0M345.5 113.25l-1 0M339 102.25l1 0M345.5 102.25l-1 0M339 91.25l1 0M345.5 91.25l-1 0M339 80.25l1 0M345.5 80.25l-1 0M339 69.25l1 0M345.5 69.25l-1 0M339 58.25l1 0M345.5 58.25l-1 0M339 47.25l1 0M345.5 47.25l-1 0M339 36.25l1 0M345.5 36.25l-1 0M339 25.25l1 0M345.5 25.25l-1 0M339 14.25l1 0M345.5 14.25l-1 0" stroke="#4d4d4d" stroke-width=".3" fill="none"/>
</g>
<g>
<path d="M455 118.75L395.5 93.85M455 118.75L514.5 93.85M395.5 93.85L395.5 32.65M514.5 93.85L514.5 32.65M469.88 112.53L410.38 87.62M440.12 112.53L499.62 87.62M410.38 87.62L410.38 26.42M499.62 87.62L499.62 26.42M484.75 106.3L425.25 81.4M425.25 106.3L484.75 81.4M425.25 81.4L425.25 20.2M484.75 81.4L484.75 20.2M499.62 100.08L440.12 75.18M410.38 100.08L469.88 75.18M440.12 75.18L440.12 13.98M469.88 75.18L469.88 13.98M514.5 93.85L455 68.95M395.5 93.85L455 68.95M455 68.95L455 7.75M455 68.95L455 7.75M395.5 93.85L455 68.95M455 68.95L514.5 93.85M395.5 81.61L455 56.71M455 56.71L514.5 81.61M395.5 69.37L455 44.47M455 44.47L514.5 69.37M395.5 57.13L455 32.23M455 32.23L514.5 57.13M395.5 44.89L455 19.99M455 19.99L514.5 44.89M395.5 32.65L455 7.75M455 7.75L514.5 32.65" stroke="#e2e2e2" stroke-width=".3" fill="none"/>
<g transform="scale(.1)" stroke-width="5" stroke-linejoin="round">
<path class="c18" stroke-width="0" fill-rule="nonzero" d="M4550 952L4560 791L4570 712L4580 803L4590 961L4600 1048L4610 1035L4619 925L4629 776L4639 743L4649 867L4659 1000L4669 1039L4679 978L4689 839L4699 752L4709 831L4719 968L4728 1024L4738 983L4748 858L4758 768L4768 837L4778 962L4788 1009L4798 964L4808 847L4818 781L4828 860L4838 965L4848 993L4857 940L4867 834L4877 793L4887 870L4897 955L4907 976L4917 934L4927 849L4937 795L4947 829L4957 903L4966 948L4976 954L4986 928L4996 878L5006 825L5016 793L5026 789L5036 804L5046 826L5056 845L5066 857L5076 862L5086 861L5095 854L5105 840L5115 820L5125 793L5135 763L5145 739L5135 861L5125 861L5115 748L5105 850L5095 855L5086 760L5076 864L5066 817L5056 803L5046 861L5036 776L5026 861L5016 787L5006 852L4996 796L4986 848L4976 797L4966 845L4957 797L4947 840L4937 805L4927 814L4917 830L4907 827L4897 822L4887 798L4877 780L4867 807L4857 756L4848 796L4838 739L4828 782L4818 721L4808 769L4798 696L4788 761L4778 669L4768 745L4758 679L4748 685L4738 723L4728 610L4719 697L4709 684L4699 574L4689 678L4679 670L4669 540L4659 623L4649 674L4639 554L4629 514L4619 639L4610 629L4600 482L4590 485L4580 614L4570 608L4560 461L4550 408L4540 402L4530 403L4520 407L4510 414L4500 420L4490 425L4481 428L4471 430L4461 432L4451 436L4441 444L4431 458L4421 481L4411 515L4401 556L4391 600L4381 641L4372 672L4362 689L4352 690L4342 669L4332 624L4322 558L4312 492L4302 461L4292 489L4282 565L4272 649L4262 707L4252 725L4243 700L4233 627L4223 527L4213 461L4203 486L4193 585L4183 688L4173 744L4163 742L4153 679L4143 564L4134 464L4124 462L4114 565L4104 689L4094 761L4084 766L4074 700L4064 573L4054 455L4044 444L4034 552L4024 691L4014 777L4005 789L3995 726L3985 592L3975 454L3965 416L3955 512L3965 442L3975 426L3985 470L3995 556L4005 656L4014 744L4024 807L4034 842L4044 852L4054 839L4064 805L4074 753L4084 689L4094 626L4104 574L4114 545L4124 542L4134 564L4143 605L4153 657L4163 712L4173 765L4183 811L4193 849L4203 880L4213 904L4223 921L4233 935L4243 944L4252 951L4262 956L4272 961L4282 964L4292 968L4302 971L4312 975L4322 979L4332 984L4342 989L4352 994L4362 998L4372 1001L4381 1002L4391 1001L4401 996L4411 987L4421 971L4431 949L4441 919L4451 881L4461 837L4471 790L4481 746L4490 714L4500 700L4510 711L4520 749L4530 808L4540 880z"/>
<path class="c15" d="M4586 1015l6 35-6 2-6-18zM4598 1048l6-37 6 24-6 20zM4568 1007l6 38-6 4-6-22zM4526 1001l6 38-6 3-6-24zM4502 1000l6 35-6 2-6-23zM4479 991l6 39-6 1-6-26zM4639 982l6 46-6 7-6-26zM4449 989l6 35-6 0-6-25zM4621 980l6 46-6 7-6-27zM4413 984l6 31-6-1-6-23zM4401 1009l6-34 6 10-6 27zM4395 1004l6-41 6 12-6 34zM4717 998l6-61 5 44-5 37zM4342 989l6-32 6 5-6 30zM4336 986l6-35 6 6-6 32zM4330 983l6-36 6 4-6 35zM4324 980l6-37 6 4-6 36zM4318 978l6-39 6 4-6 37zM4312 975l6-39 6 3-6 39zM4306 973l6-39 6 2-6 39zM4300 970l6-37 6 1-6 39zM4776 968l6-68 6 56-6 43zM4294 968l6-36 6 1-6 37zM4288 966l6-35 6 1-6 36zM4282 964l6-32 6-1-6 35zM4276 962l6-30 6 0-6 32zM4235 939l6-34 6-6-6 40zM4229 937l6-26 6-6-6 34zM4205 922l6-26 6-9-6 36zM4175 880l6 27-6-7-6-38zM4163 875l6 22-6-6-6-36zM4151 864l6 23-6-7-6-38zM4134 848l5 22-5-9-6-38zM4128 845l6 18-6-8-6-35zM4961 814l5-5 6 45-6 30zM4122 840l6 15-6-7-6-33zM4116 832l6 16-6-8-6-35zM4110 822l6 18-6-10-6-37zM5068 773l6-5 6 62-6-14zM4419 639l6 50 6 60-6-29zM4372 629l5 44 6 56-6-22zM4490 613l6 32 6 79-6-22zM4389 604l6 35 6 65-6-18zM4705 614l6 3 6 32-6 24zM4550 579l6 5 6 91-6-3zM4687 593l6-14 6 76-6 23z"/>
<path class="c14" d="M4205 917l6 6-6-1-6-15zM4229 930l6 9-6-2-6-16zM4235 937l6 2-6 0-6-9zM4401 996l6 16-6-3-6-9zM4407 991l6 23-6-2-6-16zM4580 1034l6 18-6-5-6-2zM4562 1027l6 22-6-3-6-6zM4544 1016l6 29-6-1-6-13zM4538 1031l6 13-6-6-6 1zM4520 1018l6 24-6-3-6-10zM4514 1029l6 10-6-8-6 4zM4496 1014l6 23-6-3-6-10zM4490 1024l6 10-6-7-5 3zM4473 1005l6 26-6-1-6-15zM4467 1015l6 15-6-5-6-4zM4443 999l6 25-6-2-6-15zM4437 1007l6 15-6-4-6-6zM4383 1002l6-3 6 5-6-2zM4377 1002l6-9 6 6-6 3zM4372 1001l5-14 6 6-6 9zM4699 960l6 50-6 11-6-27zM4366 999l6-18 5 6-5 14zM4360 997l6-23 6 7-6 18zM4354 995l6-27 6 6-6 23zM4348 992l6-30 6 6-6 27zM4764 923l6 60-6 21-6-35zM4734 927l6 59-6 17-6-34zM4270 960l6-27 6-1-6 30zM4264 957l6-22 6-2-6 27zM4258 955l6-19 6-1-6 22zM4252 951l6-14 6-1-6 19zM4247 947l5-9 6-1-6 14zM4241 943l6-4 5-1-5 9zM4223 935l6-19 6-5-6 26zM4217 931l6-12 6-3-6 19zM4187 906l6 4-6 0-6-15zM4181 895l6 15-6-3-6-27zM4169 890l6 9-6-2-6-22zM4157 880l6 9-6-2-6-23zM4145 867l6 13-6-4-6-29zM4139 865l6 6-6-1-5-22zM5074 768l6 3 6 75-6-16zM4473 645l6 45 6 64-6-27zM4485 634l5 36 6 70-6-21zM4377 629l6 40 6 55-6-19zM4443 624l6 35 6 63-6-16zM4383 621l6 37 6 57-6-17zM4562 609l6 13 6 88-6-10zM4520 604l6 17 6 82-6-10zM4651 588l6-19 6 91-6 15z"/>
<path class="c17" d="M4145 842l6 38-6-13-6-53zM4157 855l6 36-6-11-6-50zM4169 862l6 38-6-10-6-51zM4110 805l6 35-6-18-6-54zM4116 815l6 33-6-16-6-52zM4122 820l6 35-6-15-6-53zM4592 1034l6-55 6 32-6 37zM4532 978l6 53-6 8-6-38zM4508 980l6 49-6 6-6-35zM4485 973l5 51-5 6-6-39zM4627 945l6 64-6 17-6-46zM4657 1007l6-65 6 41-6 45zM4705 914l6 71-6 25-6-50zM4383 993l6-53 6 12-6 47zM4377 987l6-58 6 11-6 53zM4806 867l6 71-6 40-6-50zM4836 920l6-69 6 68-6 52zM4252 938l6-52 6-7-6 58zM4247 939l5-47 6-6-6 52zM4871 839l6 63-6 56-6-49zM4217 922l6-45 6-12-6 54zM4199 908l6-49 6-15-6 59zM4044 852l6-26 6-22-6 43zM4038 844l6-24 6-23-6 42zM4032 837l6-21 6-22-6 39zM4020 817l6-21 6-25-6 41zM5091 763l6-1 6 71-6-10zM4003 779l6 18-6-15-6-38zM4413 620l6 53 6 70-6-41zM4425 607l6 44 6 75-6-32zM4431 602l6 41 6 76-6-28zM4395 578l6 33 6 76-6-20zM4538 565l6 8 6 94-6-7zM4693 579l6-5 6 54-6 27zM4604 548l6-12 5 94-5 12z"/>
<path class="c22" d="M4723 937l5-83 6 57-6 70zM4562 931l6 76-6 20-6-61zM4520 924l6 77-6 17-6-63zM4473 912l6 79-6 14-6-68zM4615 898l6 82-6 26-5-67zM4401 963l6-83 6 18-6 77zM4758 842l6 81-6 46-6-69zM4336 947l6-81 6 7-6 78zM4330 943l6-82 6 5-6 81zM4324 939l6-82 6 4-6 82zM4318 936l6-82 6 3-6 82zM4312 934l6-82 6 2-6 82zM4306 933l6-82 6 1-6 82zM4300 932l6-81 6 0-6 82zM4294 931l6-78 6-2-6 81zM4241 905l6-77 5-12-5 83zM4181 869l6-70 6-26-6 82zM4145 800l6 64-6-22-6-77zM4169 860l6-69 6-30-6 82zM4128 787l6 61-6-25-6-76zM4038 816l6-53 6-40-6 71zM4026 796l6-50 6-44-6 69zM4020 784l6-49 6-46-6 68zM4354 579l6 54 6 79-6-51zM4294 573l6 58 6 75-6-47zM4360 570l6 50 6 81-6-45zM4300 564l6 54 6 77-6-42zM4485 517l5 10 6 97-6-13zM4645 543l6 3 6 23-6 19zM4651 546l6 8 6-1-6 16zM4621 510l6-10 6 77-6 20zM4467 494l6 5 6 100-6-4zM4586 487l6-15 6 94-6 18zM4520 479l6-10 6 101-6 9z"/>
<path class="c18" d="M4003 772l6 27-6-20-6-47zM4134 821l5 44-5-17-6-61zM4128 823l6 38-6-16-6-55zM4574 979l6 55-6 11-6-38zM4556 966l6 61-6 13-6-45zM4461 958l6 57-6 6-6-46zM4645 944l6 65-6 19-6-46zM4610 939l5 67-5 16-6-49zM4431 949l6 58-6 5-6-49zM4419 995l6-62 6 17-6 54zM4372 981l5-63 6 11-6 58zM4740 873l6 78-6 35-6-59zM4258 937l6-58 6-6-6 63zM4223 919l6-54 6-12-6 63zM4883 870l6-54 6 67-6 55zM4032 828l6-35 6-30-6 53zM4026 823l6-29 6-28-6 47zM5139 752l6-13-6 70-6 25zM4020 809l6-31 6-32-6 50zM5109 754l6-6 6 62-6-19zM4014 797l6-29 6-33-6 49zM4080 745l6 31-6-29-6-52zM4360 602l6 54 6 70-6-39zM4372 584l5 45 6 76-6-32zM4312 584l6 46 6 68-6-29zM4377 579l6 42 6 77-6-29zM4318 582l6 43 6 67-6-25zM4324 572l6 40 6 71-6-24zM4502 545l6 8 6 95-6-6zM4663 553l6-13 6 75-6 25z"/>
<path class="c19" d="M4669 583l6 4 6 23-6 19zM4080 740l6 37-6-32-6-58zM5074 777l6-5 6 37-6-3zM4151 830l6 50-6-16-6-64zM4955 806l6 15 5-3-5 32zM4514 955l6 63-6 11-6-49zM4490 951l6 63-6 10-5-51zM4413 985l6-70 6 18-6 62zM4675 890l6 79-6 28-6-61zM4711 963l6-79 6 53-6 61zM4366 974l6-67 5 11-5 63zM4264 936l6-63 6-6-6 68zM4229 916l6-63 6-12-6 70zM4205 903l6-59 6-17-6 69zM4187 892l6-55 6-20-6 67zM4175 880l6-57 6-24-6 70zM4050 847l6-43 6-30-6 60zM4044 839l6-42 6-31-6 60zM4038 833l6-39 6-31-6 57zM5103 767l6-13 6 37-6-16zM4014 788l6-37 6-39-6 56zM4306 578l6 50 6 71-6-34zM4443 566l6 31 6 89-6-27zM4383 565l6 39 6 82-6-28zM4675 587l6 9 6-3-6 17zM4496 536l6 9 6 97-6-8zM4610 536l5-13 6 92-6 15zM4574 516l6-14 6 97-6 13z"/>
<path class="c16" d="M4187 879l6 35-6-8-6-45zM4211 899l6 32-6-6-6-40zM4419 975l6 40-6 0-6-31zM4009 798l5 7-5-6-6-27zM4651 592l6-5 6 73-6 11zM4139 847l6 29-6-11-5-44zM4966 818l6-15 6 60-6 32zM4550 995l6 45-6 5-6-29zM4455 975l6 46-6 3-6-35zM4389 999l6-47 6 11-6 41zM4687 928l6 66-6 19-6-44zM4752 900l6 69-6 28-6-46zM4818 877l6 68-6 38-6-45zM4824 925l6-71 6 66-6 52zM4241 939l6-40 5-7-5 47zM4859 844l6 65-6 52-6-48zM4211 923l6-36 6-10-6 45zM4193 910l6-37 6-14-6 49zM5133 769l6-17-6 82-6 20zM5097 762l6 4 6 79-6-12zM5062 783l6-10 6 43-6-12zM5080 775l6-15 5 45-5-21zM4366 620l6 49 5 62-5-30zM4449 597l6 31 6 77-6-19zM4514 586l6 18 6 89-6-14zM4461 587l6 25 6 81-6-15zM4711 617l6 12 6-3-6 23zM4544 573l6 6 6 93-6-5zM4657 569l6-16 6 87-6 20z"/>
<path class="c25" d="M4663 942l6-90 6 53-6 78zM4074 687l6 58-6-50-6-76zM4734 911l6-83 6 58-6 77zM3997 717l6 55-6-40-6-73zM4520 483l6-1 6 84-6 0zM4526 889l6 89-6 23-6-77zM4502 893l6 87-6 20-6-76zM4479 884l6 89-6 18-6-79zM4431 950l6-93 6 23-6 86zM4681 839l6 89-6 41-6-79zM4389 940l6-92 6 16-6 88zM4746 818l6 82-6 51-6-78zM4252 892l6-88 6-11-6 93zM4223 877l6-86 6-18-6 92zM4187 855l6-82 6-28-6 92zM4175 843l6-82 6-30-6 92zM4139 765l6 77-6-28-5-89zM4116 749l6 71-6-33-6-86zM4110 745l6 70-6-35-6-84zM4104 736l6 69-6-37-6-84zM4038 793l6-66 6-46-6 82zM4026 778l6-60 6-50-6 78zM4294 545l6 54 6 83-6-51zM4300 529l6 49 6 87-6-47zM4383 515l6 29 6 95-6-35zM4449 473l6 8 6 100-6-10zM4604 506l6 3 5 14-5 13zM4538 446l6-13 6 98-6 15z"/>
<path class="c21" d="M4104 768l6 54-6-29-6-72zM4122 790l6 55-6-25-6-71zM4496 924l6 76-6 14-6-63zM4633 901l6 81-6 27-6-64zM4651 975l6-82 6 49-6 65zM4407 975l6-77 6 17-6 70zM4693 878l6 82-6 34-6-66zM4348 957l6-77 6 8-6 74zM4342 951l6-78 6 7-6 77zM4770 918l6-79 6 61-6 68zM4288 932l6-77 6-2-6 78zM4282 932l6-74 6-3-6 77zM4235 911l6-70 6-13-6 77zM4211 896l6-69 6-18-6 78zM4193 884l6-67 6-22-6 78zM4032 813l6-47 6-39-6 66zM4014 777l6-43 6-46-6 63zM4389 544l6 34 6 89-6-28zM4413 527l6 24 6 94-6-20zM4490 527l6 9 6 98-6-10zM4431 512l6 17 6 97-6-14zM4639 544l6-1 6 45-6 17zM4473 499l6 3 6 100-6-3zM4580 502l6-15 6 97-6 15zM4514 487l6-8 6 100-6 8z"/>
<path class="c33" d="M4407 880l6-104 6 18-6 104zM4342 866l6-105 6 7-6 105zM4336 861l6-105 6 5-6 105zM4330 857l6-105 6 4-6 105zM4312 851l6-105 6 1-6 105zM4306 851l6-105 6 0-6 105zM4300 853l6-105 6-2-6 105zM4247 828l5-103 6-13-6 104zM4157 772l6-95 6-38-6 98zM4038 735l6-84 6-54-6 92zM4080 642l6 84-6-58-6-91zM4026 712l6-80 6-60-6 88zM4306 467l6 25 6 90-6-45zM4377 489l6-4 6 59-6-29zM4383 489l6-12 6 39-6-21zM4395 478l6-11 6 38-6-18zM4413 462l6-7 6 41-6-14zM4437 448l6-6 6 31-6-8zM4443 442l6-5 6 44-6-8zM4449 437l6-3 6 54-6-7zM4526 404l6-2 6 44-6 12zM4532 402l6 0 6 31-6 13zM4538 402l6 2 6 17-6 12z"/>
<path class="c31" d="M4574 846l6 97-6 36-6-89zM4639 887l6-89 6 45-6 91zM4449 903l6-102 6 25-6 100zM4413 898l6-104 6 20-6 101zM4360 888l6-103 6 10-6 102zM4354 880l6-104 6 9-6 103zM4288 858l6-103 6-4-6 104zM4282 862l6-102 6-5-6 103zM4241 841l6-102 5-14-5 103zM4217 827l6-100 6-21-6 103zM4199 817l6-98 6-26-6 102zM4163 793l6-93 6-37-6 99zM4098 684l6 84-6-47-6-93zM4044 763l6-82 6-50-6 92zM3997 672l6 75-6-51-6-87zM3991 659l6 73-6-53-6-87zM4425 452l6 2 6 75-6-17zM4461 432l6-1 6 68-6-5zM4467 431l6-1 6 72-6-3zM4473 430l6-1 6 75-6-2zM4502 419l6-4 6 72-6 7zM4508 415l6-4 6 68-6 8zM4514 411l6-4 6 62-6 10z"/>
<path class="c13" d="M4776 941l6 52-6 15-6-25zM4467 666l6 51 6 55-6-28zM4520 654l6 40 6 68-6-26zM5068 807l6-2 6 82-6 2zM5109 775l6 16 6 77-6-11zM4693 628l6-9 6 75-6 17zM4526 645l6 35 6 73-6-24zM4961 850l5-32 6 77-6 28zM4651 1009l6 28-6-1-6-8zM4633 1009l6 26-6-2-6-7zM4615 1006l6 27-6-2-5-9zM4681 969l6 44-6 6-6-22zM4919 856l6 50-6 50-6-28zM5038 786l6-5 6 62-6-13zM5050 789l6-17 6 47-6-22zM4425 650l6 44 6 54-6-21zM4437 643l6 36 6 55-6-15zM4568 622l6 13 6 82-6-7zM4728 650l6 13 6-4-6 25zM4723 626l5-16 6 70-6 27zM4681 610l6-17 6 85-6 18zM4645 605l6-17 6 87-6 12z"/>
<path class="c34" d="M4538 813l6 100-6 36-6-97zM4604 892l6-94 5 46-5 94zM4586 896l6-95 6 44-6 95zM4318 852l6-105 6 2-6 105zM4223 809l6-103 6-18-6 103zM4205 795l6-102 6-23-6 102zM4151 755l6-94 6-40-6 96zM4145 744l6-94 6-41-6 94zM4139 738l6-92 6-44-6 93zM4086 643l6 88-6-56-6-93zM4032 718l6-83 6-58-6 91zM3991 636l6 81-6-58-6-90zM4187 646l6-73 6-59-6 63zM4217 479l6 48 6 87-6-63zM4360 518l6-16 6 38-6-26zM4366 511l6-17 5 36-5-23zM4372 508l5-19 6 26-6-18zM4407 476l6-14 6 20-6-11zM4431 458l6-10 6 17-6-6zM4544 404l6 4 6 1-6 12z"/>
<path class="c26" d="M4514 484l6-1 6 83-6-3zM4508 484l6 0 6 79-6-4zM4639 853l6 91-6 38-6-81zM4520 555l6-12 6 14-6-7zM4544 473l6-4 6 79-6 8zM4568 890l6 89-6 28-6-76zM4621 853l6 92-6 35-6-82zM4645 934l6-91 6 50-6 82zM4383 929l6-96 6 15-6 92zM4258 886l6-93 6-10-6 96zM4205 859l6-87 6-23-6 95zM4157 819l6-82 6-37-6 93zM4122 747l6 76-6-33-6-89zM4044 794l6-71 6-46-6 86zM4098 721l6 72-6-41-6-86zM4020 751l6-63 6-56-6 80zM4419 482l6 14 6 99-6-21zM4443 465l6 8 6 98-6-12zM4610 509l5 6 6-5-6 13zM4544 433l6-12 6 93-6 17z"/>
<path class="c32" d="M4645 806l6 92-6 46-6-91zM4372 494l5 3 6 68-6-35zM4366 502l6 5 5 72-5-39zM4360 509l6 5 6 70-6-41zM4556 833l6 98-6 35-6-92zM4514 823l6 101-6 31-6-96zM4490 822l6 102-6 27-5-97zM4348 873l6-105 6 8-6 104zM4294 855l6-104 6-3-6 105zM4187 799l6-99 6-28-6 101zM4175 791l6-97 6-32-6 99zM4122 695l6 92-6-40-6-99zM4056 766l6-87 6-47-6 96zM4050 763l6-86 6-48-6 94zM4003 671l6 80-6-49-6-91zM4092 666l6 86-6-51-6-93zM4389 477l6 0 6 67-6-28zM4401 467l6-2 6 62-6-22zM4419 455l6-3 6 60-6-16zM4455 434l6-2 6 62-6-6zM4520 407l6-3 6 54-6 11z"/>
<path class="c20" d="M4526 550l6 7 6 93-6-13zM4604 1011l6-73 5 42-5 55zM4193 849l6 58-6-12-6-68zM4544 589l6 1 6 75-6-22zM4003 762l6 36-6-26-6-55zM4080 732l6 44-6-36-6-64zM4139 814l6 53-6-20-5-68zM4110 780l6 52-6-27-6-69zM4116 787l6 53-6-25-6-70zM4538 949l6 67-6 15-6-53zM4586 1011l6-71 6 39-6 55zM4467 937l6 68-6 10-6-57zM4360 968l6-71 6 10-6 67zM4354 962l6-74 6 9-6 71zM4276 933l6-71 6-4-6 74zM4270 935l6-68 6-5-6 71zM4026 812l6-41 6-36-6 59zM4020 798l6-41 6-39-6 60zM4366 580l6 49 5 78-5-38zM4401 544l6 29 6 89-6-22zM4615 523l6-13 6 87-6 18z"/>
<path class="c28" d="M3997 696l6 66-6-45-6-81zM4449 516l6 0 6 71-6-26zM4437 459l6 6 6 94-6-14zM4413 471l6 11 6 92-6-23zM4372 507l5 23 6 91-6-42zM4366 514l6 26 5 89-5-45zM4508 859l6 96-6 25-6-87zM4485 854l5 97-5 22-6-89zM4377 918l6-99 6 14-6 96zM4717 884l6-81 5 51-5 83zM4264 879l6-96 6-9-6 99zM4193 837l6-92 6-26-6 98zM4169 817l6-89 6-34-6 97zM4151 803l6-86 6-40-6 95zM4003 702l6 69-6-44-6-84zM4092 701l6 75-6-45-6-88zM4020 734l6-69 6-59-6 82zM4306 497l6 40 6 93-6-46zM4312 492l6 38 6 95-6-43zM4568 456l6-3 6 49-6 14zM4550 421l6-12 6 86-6 19z"/>
<path class="c23" d="M4514 544l6 1 6 76-6-17zM4496 556l6 2 6 77-6-26zM3997 732l6 47-6-35-6-65zM4544 913l6 82-6 21-6-67zM4437 966l6-86 6 23-6 78zM4782 900l6-76 6 60-6 72zM4217 887l6-78 6-18-6 86zM4199 873l6-78 6-23-6 87zM4134 779l5 68-5-26-6-82zM4056 834l6-60 6-36-6 75zM4050 826l6-60 6-38-6 76zM4044 820l6-57 6-40-6 74zM4306 536l6 48 6 85-6-41zM4372 540l5 39 6 90-6-40zM4312 537l6 45 6 85-6-37zM4318 530l6 42 6 87-6-34zM4395 516l6 28 6 96-6-29zM4461 488l6 6 6 101-6-6zM4627 500l6-6 6 60-6 23zM4526 469l6-11 6 101-6 11z"/>
<path class="c24" d="M4366 543l6 41 5 89-5-44zM4586 509l6-3 6 53-6 10zM4580 512l6-3 6 60-6 8zM4574 514l6-2 6 65-6 5zM4598 979l6-87 6 46-6 73zM4580 982l6-86 6 44-6 71zM4395 952l6-88 6 16-6 83zM4705 916l6-86 6 54-6 79zM4247 899l5-83 6-12-6 88zM4163 839l6-77 6-34-6 89zM4032 794l6-59 6-46-6 77zM4020 768l6-56 6-52-6 75zM4288 563l6 61 6 77-6-56zM4377 530l6 35 6 93-6-37zM4407 505l6 22 6 98-6-24zM4425 496l6 16 6 100-6-17zM4455 481l6 7 6 101-6-8zM4592 472l6-13 6 86-6 21zM4532 458l6-12 6 100-6 13z"/>
<path class="c29" d="M4461 508l6-5 6 55-6-18zM4455 520l6-12 6 32-6-15zM4431 540l6-14 6 40-6-23zM4425 541l6-8 6 55-6-30zM4419 547l6-5 6 60-6-35zM4443 526l6-10 6 45-6-21zM4610 938l5-94 6 50-6 86zM4377 497l6 18 6 89-6-39zM4473 512l6-11 6 16-6-8zM4532 852l6 97-6 29-6-89zM4592 940l6-95 6 47-6 87zM4455 926l6-100 6 28-6 94zM4419 915l6-101 6 21-6 98zM4372 907l5-101 6 13-6 99zM4270 873l6-99 6-8-6 101zM4235 853l6-98 6-16-6 102zM4211 844l6-95 6-22-6 100zM4181 823l6-92 6-31-6 99zM4145 789l6-86 6-42-6 94zM4038 766l6-77 6-51-6 89zM4574 453l6 0 6 34-6 15zM4580 453l6 3 6 16-6 15zM4586 456l6 6 6-3-6 13z"/>
<path class="c30" d="M4461 837l6 100-6 21-6-94zM4413 574l6-27 6 20-6-18zM4431 454l6 5 6 86-6-16zM4395 477l6 10 6 86-6-29zM4383 485l6 10 6 83-6-34zM4657 893l6-89 6 48-6 90zM4366 897l6-102 5 11-5 101zM4276 867l6-101 6-6-6 102zM4110 701l6 86-6-42-6-95zM4104 696l6 84-6-44-6-94zM4009 694l5 76-5-44-6-90zM4086 675l6 79-6-51-6-90zM4032 746l6-78 6-55-6 89zM4026 735l6-75 6-58-6 87zM4080 668l6 76-6-54-6-88zM4258 678l6-71 6-57-6 60zM4479 429l6-2 5 77-5 0zM4485 427l5-2 6 78-6 1zM4490 425l6-3 6 77-6 4zM4496 422l6-3 6 75-6 5z"/>
<path class="c27" d="M4496 486l6-2 6 69-6-8zM4502 484l6 0 6 75-6-6zM4455 864l6 94-6 17-6-86zM4556 464l6-4 6 68-6 11zM4401 487l6 18 6 96-6-28zM4389 495l6 21 6 95-6-33zM4467 503l6 1 6 73-6-19zM4074 676l6 64-6-53-6-80zM4550 874l6 92-6 29-6-82zM4425 933l6-98 6 22-6 93zM4229 865l6-92 6-18-6 98zM4128 739l6 82-6-34-6-92zM4062 813l6-75 6-40-6 88zM4056 804l6-76 6-42-6 88zM4050 797l6-74 6-44-6 87zM4032 771l6-69 6-51-6 84zM4026 757l6-68 6-54-6 83zM4223 527l6 60 6 82-6-55zM4562 460l6-4 6 60-6 12z"/>
<path class="c11" d="M4705 1010l6 12-6-12-6 11zM4693 994l6 27-6-3-6-5zM4675 997l6 22-6-5-6-1zM4758 969l6 35-6 3-6-10zM4800 928l6 50-6 15-6-22zM4812 938l6 45-6 11-6-16zM4830 972l6-52 6 51-6 22zM4877 902l6 50-6 26-6-20zM4865 909l6 49-6 21-6-18zM4937 878l6 43-6 38-6-16zM4955 904l6-42 5 72-5 19zM5086 809l5 6 6 74-6-2zM5091 815l6 8 6 68-6-2zM5115 791l6 19 6 66-6-8zM5026 807l6-25 6 39-6-23zM4514 685l6 47 6 50-6-22zM4538 655l6 29 6 66-6-13zM4740 659l6-16 6 69-6 24zM4717 649l6-23 5 81-5 18z"/>
<path class="c12" d="M4717 652l6-6 5 62-5 19zM4687 640l6-12 6 83-6 12zM5056 816l6-6 6 82-6 5zM4550 643l6 22 6 72-6-10zM4889 890l6 53-6 33-6-24zM5074 805l6 1 6 81-6 0zM5080 806l6 3 5 78-5 0zM4663 1027l6 12-6-11-6 9zM4711 985l6 35-6 2-6-12zM4723 1018l5-37 6 30-6 13zM4746 951l6 46-6 10-6-21zM4889 938l6-55 6 65-6 26zM5050 824l6-8 6 81-6 5zM5044 781l6 3 6 73-6-14zM5056 772l6 1 6 69-6-23zM4431 651l6 40 6 51-6-16zM4580 654l6 23 6 76-6-14zM4746 643l6 0 6 36-6 33zM4675 629l6-19 6 86-6 13z"/>
<path class="c9" d="M5091 857l6-5-6 54-5 3zM5080 862l6-1-6 51-6 2zM5086 861l5-4-5 52-6 3zM4556 703l6 45 6 45-6-17zM5026 787l6 11 6 67-6-14zM4574 685l6 30 6 55-6-10zM4657 672l6-1 6 75-6 2zM4836 993l6-22 6 22-6-6zM4806 978l6 16-6-14-6 13zM4794 971l6 22-6-9-6 7zM4925 906l6 37-6 19-6-6zM4996 874l6 24-6 40-6-4zM5103 833l6 12 6 48-6 0zM5002 803l6 1 6 70-6-3zM5002 810l6-20 6 52-6-24zM5008 813l6-30 6 46-6-30zM4621 689l6 19 6 62-6-5zM4586 677l6 23 6 60-6-7zM4782 696l6 8 6 19-6 36zM4663 671l6-4 6 76-6 3zM4669 667l6-7 6 78-6 5zM4711 673l6-24 6 76-6 10z"/>
<path class="c8" d="M5008 790l6 9 6 60-6-17zM4895 943l6 29-6 2-6 2zM4693 688l6-7 6 75-6 4zM4740 693l6-15 6 72-6 14zM5127 854l6-20-6 52-6 5zM4883 952l6 24-6-5-6 7zM4871 958l6 20-6-10-6 11zM4859 961l6 18-6-14-6 14zM4895 974l6-26 6 28-6-4zM4913 928l6 28-6 2-6 4zM4943 921l6 28-6 8-6 2zM4966 934l6-32 6 49-6 5zM5026 879l6 15-6 37-6 0zM4568 704l6 34 6 42-6-8zM4610 702l5 28 6 52-6-7zM4764 697l6-24 6 69-6 20zM4734 684l6-25 6 77-6 14z"/>
<path class="c10" d="M4901 948l6-48 6 58-6 18zM4693 693l6-3 6 60-6-3zM5103 843l6-10-6 64-6 5zM4836 949l6 38-6 6-6-8zM4675 660l6-9 6 81-6 6zM4746 678l6-5 6 54-6 23zM4770 983l6 25-6-5-6 1zM4740 986l6 21-6-8-6 4zM4824 945l6 40-6 8-6-10zM4853 913l6 48-6 18-5-17zM5097 823l6 10 6 60-6-2zM5133 834l6-25-6 67-6 10zM4978 813l6-4 6 66-6 6zM5032 782l6-1 6 65-6-25zM4520 695l6 41 6 42-6-13zM4532 680l6 33 6 49-6-9zM4485 685l5 34 6 38-6-8zM4490 670l6 32 6 46-6-8zM4770 673l6-2 6 37-6 34z"/>
<path class="c7" d="M4776 716l6-20 6 63-6 18zM4776 722l6 4 6 35-6 23zM4734 710l6-17 6 71-6 7zM5115 881l6-11-6 23-6 0zM5121 870l6-16-6 37-6 2zM4931 943l6 16-6-12-6 15zM4961 953l5-19 6 22-6-8zM5002 898l6 18-6 19-6 3zM5032 894l6 11-6 23-6 3zM5038 905l6 6-6 11-6 6zM4984 810l6-12 6 57-6-22zM4990 800l6-4 6 55-6-27zM4598 728l6 38 6 32-6-6zM4812 726l6-5 6 26-6 36zM4800 719l6 25 6-18-6 40zM4794 723l6-29 6 61-6 20zM4728 708l6-24 6 66-6 5z"/>
<path class="c3" d="M4943 827l6 7 6-36-6 47zM4925 836l6-36 6 5-6 31zM4907 836l6-35 6 13-6 26zM4919 814l6 6 6-20-6 36zM4901 824l6-21 6-2-6 35zM4895 818l6-14 6-1-6 21zM4889 820l6-22 6 6-6 14zM4883 826l6-35 6 7-6 22zM4877 825l6-26 6-8-6 35zM4865 815l6-15 6 25-6-22zM4859 821l6-28 6 7-6 15zM4877 816l6-36 6 25-6-6zM4859 817l6-41 6 35-6-18zM4871 811l6-31 6 0-6 36zM4865 776l6 30 6-26-6 31zM4853 805l6-47 6 41-6-7z"/>
<path class="c25" d="M4877 809l6-7 6 14-6 54zM4877 793l6 37-6 72-6-63zM4508 548l6-4 6 60-6-18zM4502 559l6-11 6 38-6-16zM4151 779l6 76-6-25-6-87zM4455 516l6 9 6 87-6-25zM4532 535l6-5 6 43-6-8zM4532 480l6-3 6 84-6 4zM4538 530l6-4 6 53-6-6zM4538 477l6-4 6 83-6 5zM4592 506l6-1 6 43-6 11zM4598 505l6 1 6 30-6 12zM4163 783l6 79-6-23-6-89zM4586 901l6 85-6 29-6-72zM4526 543l6-8 6 30-6-8zM4526 482l6-2 6 85-6 1zM4490 565l6-9 6 53-6-24z"/>
<path class="c18" d="M4883 830l6 60-6 62-6-50zM4901 819l6-2 6 17-6 48zM5032 788l6-1 6 48-6 13zM5038 787l6 0 6 37-6 11zM4580 573l6 1 6 85-6-5zM4621 559l6-6 6 81-6 10zM4615 565l6-6 6 85-6 8zM4473 558l6 19 6 92-6-15zM4496 585l6 24 6 90-6-24zM4419 603l6 47 6 77-6-38zM4199 869l6 48-6-10-6-58zM4181 861l6 45-6-11-6-57zM4663 584l6-1 6 46-6 16zM5080 772l6-5 5 48-5-6zM5086 767l5-4 6 60-6-8zM4966 823l6-23 6 65-6 37z"/>
<path class="c15" d="M4621 607l6 0 6 84-6-1zM4931 830l6 48-6 65-6-37zM4907 900l6-56 6 75-6 39zM4830 884l6 65-6 36-6-40zM4961 862l5-39 6 79-6 32zM4586 577l6-8 6 91-6 6zM4657 979l6 48-6 10-6-28zM4193 895l6 25-6-6-6-35zM4217 911l6 24-6-4-6-32zM4502 609l6 26 6 80-6-16zM5103 766l6 9 6 82-6-12zM4032 841l6-8 6-13-6 24zM4038 849l6-10 6-13-6 26zM4717 944l6 58-6 18-6-35zM4592 569l6-10 6 93-6 8z"/>
<path class="c14" d="M4895 861l6-42 6 63-6 45zM4943 869l6-43 6 78-6 34zM4943 849l6-33 6 72-6 34zM4984 811l6-8 6 62-6 21zM5127 787l6-18-6 85-6 16zM4663 1028l6-45 6 31-6 25zM4544 621l6 22 6 84-6-18zM4199 907l6 15-6-2-6-25zM4223 921l6 16-6-2-6-24zM4235 937l6 2 6 0-6 4zM4395 1000l6 9-6-5-6-2zM4699 619l6-5 6 59-6 21zM4598 1039l6 16-6-7-6 2z"/>
<path class="c17" d="M4895 883l6-56 6 73-6 48zM4592 575l6-1 6 89-6-1zM4949 816l6-10 6 44-6 38zM4848 919l5-68 6 69-6 51zM5026 792l6-4 6 60-6 15zM4205 885l6 40-6-8-6-48zM4592 986l6 53-6 11-6-35zM4437 588l6 36 6 82-6-27zM4657 587l6-3 6 61-6 15zM4610 569l5-4 6 87-6 6zM4425 963l6 49-6 3-6-40zM4014 805l6-21 6-27-6 41zM4728 981l6-70 6 52-6 48z"/>
<path class="c16" d="M4014 810l6-12 6-20-6 31zM4615 607l6 0 6 83-6-4zM4657 634l6-2 6 35-6 4zM4663 632l6-1 6 29-6 7zM5032 797l6 11-6 86-6-15zM4669 631l6 2 6 18-6 9zM4788 956l6-72 6 61-6 48zM4675 633l6 4 6 3-6 11zM5056 794l6-11 6 21-6-7zM4598 559l6-11 6 94-6 10zM4020 822l6-10 6-18-6 29zM4086 772l6 22-6-18-6-44zM4645 597l6-5 6 79-6 9zM4651 637l6-3 6 37-6 1zM4009 793l5-16 6-26-6 37z"/>
<path class="c43" d="M4229 623l6-49 6 5-6 16zM4062 679l6-96 6-38-6 87zM4252 639l6-42 6 9-6 12zM4247 619l5-28 6 15-6-4zM4241 605l6-19 5 20-5-16zM4235 633l6-52 6 5-6 19zM3997 576l6 95-6-60-6-93zM4086 573l6 93-6-58-6-82zM4229 588l6-17 6 23-6-20zM4044 651l6-92 6-44-6 82zM4032 632l6-87 6-52-6 79zM4199 514l6-42 6 3-6-1z"/>
<path class="c38" d="M4241 704l6-85 5-17-5 66zM4062 728l6-96 6-43-6 97zM4318 657l6-30 6 15-6-3zM4312 639l6-15 6 22-6-20zM4086 608l6 93-6-58-6-91zM3991 609l6 87-6-60-6-93zM4026 665l6-84 6-61-6 86zM4276 511l6-2 6 54-6-43zM4276 528l6-34 6 11-6-11zM4282 494l6-4 6 55-6-40zM4288 482l6-6 6 53-6-36zM4294 478l6-16 6 35-6-25z"/>
<path class="c19" d="M5056 786l6-2 6 23-6 3zM5050 787l6-1 6 24-6 6zM4949 826l6-24 6 60-6 42zM4532 557l6 8 6 95-6-10zM4508 570l6 16 6 93-6-20zM5044 787l6 0 6 29-6 8zM4627 553l6-5 6 72-6 14zM4163 839l6 51-6-15-6-64zM4568 657l6-22 6 19-6-17zM4455 561l6 26 6 91-6-22zM5068 781l6-4 6 29-6-1zM5062 784l6-3 6 24-6 2z"/>
<path class="c22" d="M4514 634l6-23 6 34-6-25zM4538 598l6-9 6 54-6-22zM4532 617l6-19 6 23-6-17zM4080 722l6 50-6-40-6-70zM4901 827l6-29 6 46-6 56zM4502 643l6-14 6 56-6-40zM4187 827l6 68-6-16-6-77zM4449 540l6 21 6 95-6-28zM4431 558l6 30 6 91-6-36zM4169 812l6 68-6-18-6-79zM4443 912l6 77-6 10-6-67zM4526 609l6-10 6 56-6-28zM4651 898l6 81-6 30-6-65zM4520 545l6 5 6 87-6-16zM4550 599l6-13 6 23-6-12z"/>
<path class="c37" d="M4294 470l6 2 6 64-6-40zM4312 685l6-59 6 1-6 30zM4562 792l6 98-6 41-6-98zM4520 788l6 101-6 35-6-101zM4163 737l6-98 6-32-6 93zM4056 723l6-94 6-46-6 96zM4050 723l6-92 6-49-6 95zM4092 628l6 93-6-55-6-93zM4038 702l6-89 6-54-6 92zM4032 689l6-87 6-57-6 90z"/>
<path class="c6" d="M4728 726l6-16 6 61-6 3zM4740 738l6-13 6 60-6 3zM5109 890l6-9-6 12-6-2zM4746 725l6-14 6 68-6 6zM4984 921l6 13-6-5-6 11zM5008 916l6 10-6 0-6 9zM5044 911l6 4-6 1-6 6zM4830 742l6 11 6-3-6 44zM4758 727l6-30 6 65-6 4z"/>
<path class="c11" d="M4972 902l6-37 6 70-6 16zM4842 971l6-52 5 52-5 22zM4717 683l6 1 5 42-5 11zM4711 661l6-9 6 75-6 13zM4782 999l6-43 6 37-6 16zM4657 676l6 5 6 79-6-8zM4681 651l6-11 6 83-6 9zM4752 673l6 10 6 14-6 30zM5044 835l6-11 6 78-6 7zM4723 1002l5 22-5-6-6 2z"/>
<path class="c13" d="M5044 822l6 12-6 77-6-6zM4687 668l6 1 6 12-6 7zM4681 670l6-2 6 20-6 4zM4675 673l6-3 6 22-6 1zM4693 669l6 4 6-1-6 9zM4479 644l6 41 5 64-5-22zM4669 679l6-6 6 20-6-2zM4663 688l6-9 6 12-6-4zM5062 810l6-3 6 82-6 3zM4723 646l5 4 6 34-6 24zM5121 804l6-17-6 83-6 11z"/>
<path class="c36" d="M4318 712l6-73 6-5-6 49zM4544 910l6-100 6 45-6 97zM4496 790l6 103-6 31-6-102zM4229 791l6-103 6-16-6 101zM4193 773l6-101 6-25-6 98zM4098 642l6 94-6-52-6-95zM4003 636l6 90-6-55-6-95zM4128 705l6-90 5-47-5 87zM4300 462l6 5 6 70-6-40z"/>
<path class="c9" d="M5068 858l6 4-6 54-6 1zM5074 862l6 0-6 52-6 2zM4669 687l6 4 6 75-6-1zM4734 721l6 6 6-2-6 13zM4651 670l6 2 6 76-6 0zM4699 681l6-9 6 78-6 6zM4764 702l6 16 6-2-6 29zM5097 852l6-9-6 59-6 4zM5008 804l6 5 6 69-6-4z"/>
<path class="c10" d="M5020 859l6 20-6 52-6-5zM4705 687l6-2 6 60-6 4zM4699 690l6-3 6 62-6 1zM5062 853l6 5-6 59-6 0zM4663 681l6 6 6 78-6-5zM5056 845l6 8-6 64-6-2zM4782 993l6 16-6-10-6 9zM4711 685l6-2 6 54-6 8zM5109 833l6-13-6 70-6 7zM4955 889l6 37-6 33-6-10zM4705 672l6-11 6 79-6 10z"/>
<path class="c39" d="M4235 773l6-101 6-13-6 96zM4580 851l6-87 6 37-6 95zM4175 728l6-97 6-26-6 89zM4157 717l6-96 6-31-6 87zM4151 703l6-94 6-32-6 84zM4139 693l6-92 6-37-6 82zM3997 611l6 91-6-59-6-94zM4044 689l6-92 6-50-6 91z"/>
<path class="c20" d="M5020 788l6 1-6 70-6-22zM4532 599l6 5 6 80-6-29zM4514 617l6 3 6 74-6-40zM4669 983l6-78 6 50-6 59zM4633 548l6-4 6 61-6 15zM4467 540l6 18 6 96-6-19zM4437 932l6 67-6 8-6-58zM4175 838l6 57-6-15-6-68z"/>
<path class="c21" d="M4955 802l6 2 5 19-5 39zM4937 806l6-1 6 21-6 43zM4502 558l6 12 6 89-6-24zM4925 799l6 31-6 76-6-50zM4425 567l6 35 6 89-6-40zM4580 943l6 72-6 19-6-55zM4520 611l6-1 6 70-6-35zM4157 811l6 64-6-20-6-76z"/>
<path class="c29" d="M4431 736l6-56 6 6-6 25zM4134 725l5 89-5-35-6-97zM4300 496l6 40 6 92-6-50zM4871 802l6-9-6 46-6-44zM4407 570l6-15 6 48-6-34zM4485 493l5-5 6 48-6-9zM4479 501l6-8 5 34-5-10zM4437 547l6-21 6 14-6-13zM4413 556l6-7 6 58-6-37z"/>
<path class="c26" d="M4413 555l6 15 6 80-6-47zM4009 726l5 63-5-38-6-80zM4895 798l6 28 6-28-6 29zM4931 818l6-23-6 35-6-31zM4419 549l6 18 6 84-6-44zM4473 504l6 5 6 86-6-18zM4425 542l6 16 6 85-6-41zM4431 533l6 10 6 81-6-36zM4550 469l6-5 6 75-6 9z"/>
<path class="c17" d="M4538 604l6 17 6 88-6-25zM4520 620l6 25 6 84-6-35zM4568 634l6 3 6 78-6-30zM4009 793l5 17-5-12-6-36zM4086 766l6 30-6-24-6-50zM4604 609l6-2 5 73-5-10zM4598 574l6-1 6 89-6 1zM4604 573l6-4 5 89-5 4z"/>
<path class="c24" d="M4080 708l6 58-6-44-6-77zM4556 522l6-3 6 68-6 0zM4550 524l6-2 6 65-6-3zM4889 816l6-18 6 29-6 56zM4544 526l6-2 6 60-6-5zM4865 795l6 44-6 70-6-65zM4181 802l6 77-6-18-6-87zM4479 509l6 8 5 94-5-16z"/>
<path class="c5" d="M4770 745l6-29 6 61-6 2zM4848 762l5 17 6-21-6 47zM4717 748l6 3 5 44-5 3zM4723 751l5 0 6 41-6 3zM4788 761l6-31 6 58-6-1zM4806 766l6-40 6 57-6 1zM4788 759l6-36 6 52-6-4z"/>
<path class="c4" d="M4788 781l6-26 6 46-6-8zM4806 793l6-33 6 38-6-19zM4853 787l6 5 6-16-6 41zM4836 794l6-44 6 46-6-17zM4824 785l6-43 6 52-6-6zM4782 784l6-23 6 26-6-16zM4818 783l6-36 6 39-6-20z"/>
<path class="c40" d="M4229 670l6-75 6-14-6 52zM4235 684l6-79 6-15-6 57zM4252 697l6-79 6-11-6 59zM4145 695l6-93 6-34-6 82zM4038 668l6-91 6-51-6 87zM4032 660l6-88 6-55-6 85zM4211 458l6 21 6 72-6-55z"/>
<path class="c41" d="M4247 668l5-66 6-5-6 42zM4538 866l6-96 6 40-6 100zM4241 755l6-96 5-11-5 91zM4104 604l6 97-6-51-6-90zM4098 599l6 97-6-54-6-89zM4050 681l6-94 6-45-6 89zM4134 464l5 53 6 78-6-73z"/>
<path class="c35" d="M4252 816l6-104 6-12-6 104zM4169 762l6-99 6-32-6 97zM4104 650l6 95-6-49-6-97zM4044 727l6-89 6-51-6 94zM3997 643l6 84-6-55-6-93zM4026 688l6-82 6-61-6 87zM4110 673l6-81 6-60-6 80z"/>
<path class="c23" d="M4413 569l6 34 6 86-6-50zM4937 795l6 11-6 72-6-48zM4568 517l6-3 6 68-6 4zM4562 519l6-2 6 69-6 1zM4437 543l6 23 6 93-6-35zM4461 525l6 15 6 95-6-23zM4711 860l6 84-6 41-6-71z"/>
<path class="c12" d="M5014 837l6 22-6 67-6-10zM4651 676l6 0 6 76-6-14zM5050 834l6 11-6 70-6-4zM5115 820l6-16-6 77-6 9zM4598 645l6 13 6 81-6-8zM4508 687l6 54 6 51-6-31zM4978 829l6-18 6 75-6 19z"/>
<path class="c18" d="M4598 613l6-4 6 61-6-12zM4009 784l5 27-5-18-6-46zM4550 590l6 7 6 87-6-19zM4526 610l6 17 6 86-6-33zM5026 789l6 8-6 82-6-20zM4550 661l6-12 6 61-6-39zM4586 574l6 1 6 87-6-3z"/>
<path class="c25" d="M4003 727l6 57-6-37-6-75zM4467 589l6-6 6 61-6-37zM4461 600l6-11 6 56-6-38zM4919 804l6-5 6 19-6 48zM4443 527l6 13 6 88-6-31zM4473 582l6-8 6 60-6-33zM4907 798l6 13 6-7-6 40z"/>
<path class="c19" d="M4467 607l6 38 6 82-6-44zM4592 622l6-9 6 45-6-13zM4586 636l6-14 6 23-6-12zM4574 573l6 0 6 81-6-9zM4086 757l6 38-6-29-6-58zM4544 679l6-23 6 47-6-36zM4943 806l6 38-6 77-6-43zM5002 799l6 8 6 8-6 20z"/>
<path class="c22" d="M5014 797l6-9-6 49-6-22zM5002 798l6 17 6-18-6 19zM4473 583l6 18 6 84-6-41zM4467 589l6 18 6 83-6-45zM4978 799l6 17 6-13-6 25zM4556 586l6-8 6 44-6-13zM4003 747l6 46-6-31-6-66zM4419 570l6 37 6 87-6-44zM4508 642l6-25 6 37-6-28z"/>
<path class="c14" d="M5008 815l6 22-6 79-6-18zM4550 667l6 36 6 73-6-41zM4532 627l6 28 6 82-6-24zM4574 637l6 17 6 85-6-24zM4949 844l6 45-6 60-6-28zM4621 649l6 0 6 75-6-16zM5038 808l6 14-6 83-6-11z"/>
<path class="c7" d="M4604 722l6 33 5 35-5-3zM4782 726l6 23 6-19-6 31zM4723 761l5-12 6 28-6-10zM4699 726l6 5 6 68-6-7zM4752 711l6-10 6 66-6 12zM4746 736l6 3 6 28-6 9zM4740 738l6-2 6 40-6 4z"/>
<path class="c55" d="M4056 515l6-43 6 7-6 7zM3979 464l6 79-6-60-6-56zM4050 499l6-40 6 9-6 3zM4050 460l6-7 6 32-6-31zM4044 493l6-44 6 4-6 7zM4044 444l6-10 6 32-6-29z"/>
<path class="c42" d="M4247 739l5-91 6-8-6 85zM4241 647l6-57 5 1-5 28zM4056 677l6-95 6-41-6 88zM4092 589l6 95-6-56-6-87zM3991 579l6 93-6-63-6-92zM3985 569l6 90-6-67-6-89z"/>
<path class="c49" d="M4235 624l6-14 6 11-6-4zM4169 590l6-38 6 10-6 7zM4163 577l6-32 6 13-6-1zM4157 568l6-30 6 14-6-3zM4151 564l6-34 6 13-6-1zM4145 563l6-40 6 9-6 5zM3985 517l6 92-6-66-6-79z"/>
<path class="c47" d="M4151 602l6-60 6-4-6 30zM4157 609l6-60 6-4-6 32zM4163 621l6-64 6-5-6 38zM4241 672l6-58 5 1-5 44zM4128 448l6 16 5 58-5-54zM4104 562l6 90-6-48-6-73zM4098 560l6 90-6-51-6-74zM4092 553l6 89-6-53-6-72z"/>
<path class="c15" d="M4092 791l6 17-6-13-6-38zM4586 624l6 9 6 85-6-18zM4639 602l6-5 6 83-6 6zM4633 605l6-3 6 84-6 4zM4627 607l6-2 6 85-6 1zM4020 822l6 1 6-10-6 17z"/>
<path class="c16" d="M4026 830l6-17 6-20-6 35zM4020 816l6 14-6-8-6-33zM4633 657l6-9 6 18-6-6zM4639 648l6-7 6 29-6-4zM4645 641l6-4 6 35-6-2zM4580 706l6-16 6 58-6-45zM4550 656l6 15 6 77-6-45zM4014 809l6 8-6-6-5-27zM4610 607l5 0 6 79-6-6zM4610 674l5-17 6 32-6-19zM4556 597l6 12 6 91-6-16z"/>
<path class="c11" d="M4615 670l6 19 6 76-6-13zM4639 660l6 6 6 81-6-4zM4990 844l6 30-6 60-6-13zM4663 723l6-16 6 55-6-25zM4728 689l6 11 6-7-6 17zM4723 684l5 5 6 21-6 16z"/>
<path class="c6" d="M4669 737l6 25 6 39-6 0zM4782 754l6 17 6-16-6 26zM4818 738l6 28 6-24-6 43zM4794 730l6-11 6 47-6 22zM4800 740l6 17 6 3-6 33zM4717 747l6 8 5 58-5-4zM4770 735l6-13 6 62-6 10z"/>
<path class="c5" d="M4776 746l6 8 6 27-6 17zM4770 748l6-2 6 52-6 8zM4794 755l6-15 6 53-6 8zM4824 757l6 31 6-30-6 41zM4746 758l6 0 6 56-6 2zM4723 755l5 12 6 43-6 3zM4812 760l6-22 6 47-6 13zM4836 758l6 21 6-17-6 43z"/>
<path class="c3" d="M4842 787l6-1 5 1-5 28zM4836 821l6-35 6 37-6-23zM4812 807l6-29 6 28-6-26zM4794 795l6-24 6 38-6-12zM4794 785l6 12 6 8-6 14zM4830 799l6-41 6 47-6-13zM4842 805l6-43 5 43-5-19zM4848 823l5-37 6 35-6-21z"/>
<path class="c4" d="M4830 776l6 16 6-5-6 30zM4818 778l6-21 6 42-6 7zM4806 759l6 20 6-1-6 29zM4800 771l6-12 6 48-6 2zM4776 767l6 2 6 40-6 6zM4782 769l6 9 6 17-6 14zM4728 767l6 10 6 27-6 6z"/>
<path class="c3" d="M4788 782l6 3 6 34-6 5zM4782 783l6-1 6 42-6 3zM4806 805l6-25 6 36-6-17zM4806 791l6 8 6 26-6 1zM4812 780l6 0 6 31-6 5zM4818 780l6 26 6-30-6 35zM4824 811l6-35 6 41-6-24zM4824 800l6-7 6 28-6-6zM4818 825l6-25 6 15-6-12z"/>
<path class="c28" d="M4812 807l6-14 6 9-6 59zM4437 526l6 1 6 70-6-31zM4407 564l6 5 6 70-6-47zM4490 488l6-2 6 59-6-9zM4145 743l6 87-6-30-6-96zM4157 750l6 89-6-28-6-97z"/>
<path class="c8" d="M4663 718l6 19 6 64-6-14zM4758 701l6 1 6 43-6 22zM4687 692l6-4 6 72-6 3zM4681 693l6-1 6 71-6 2zM4961 926l5 22-5 5-6 6zM4675 691l6 2 6 72-6 1z"/>
<path class="c17" d="M4984 828l6-25 6 75-6 32zM4014 802l6 20-6-13-5-38zM4092 784l6 26-6-19-6-47zM4514 626l6 28 6 82-6-41zM5002 798l6 17-6 83-6-24zM4580 624l6 0 6 76-6-23z"/>
<path class="c18" d="M4092 771l6 38-6-25-6-58zM4556 652l6-10 6 62-6-35zM4020 804l6 28-6-16-6-46zM4544 669l6-2 6 68-6-49zM4479 601l6 33 5 85-5-34zM4473 607l6 37 6 83-6-37z"/>
<path class="c9" d="M4723 720l5-1 6 27-6 5zM4728 719l6 2 6 17-6 8zM4711 731l6-7 6 27-6-3zM4705 742l6-11 6 17-6-8zM4717 724l6-4 5 31-5 0z"/>
<path class="c20" d="M4990 803l6-10 6 52-6 33zM4413 592l6 47 6 81-6-47zM4009 771l5 38-5-25-6-57zM4568 574l6-1 6 72-6-10zM4913 844l6-40 6 62-6 53z"/>
<path class="c29" d="M4824 802l6-7 6 5-6 54zM4836 800l6-3 6 2-6 52zM4848 799l5-2 6 3-6 51zM4425 712l6-39 6 14-6 2zM4859 800l6-5 6 7-6 52z"/>
<path class="c21" d="M4014 770l6 46-6-27-5-63zM4086 744l6 47-6-34-6-67zM4508 627l6-1 6 69-6-43zM4972 800l6-1 6 29-6 37zM4562 578l6-4 6 61-6-13z"/>
<path class="c23" d="M4086 726l6 58-6-40-6-76zM4009 751l5 51-5-31-6-69zM4824 815l6 69-6 61-6-68zM4818 861l6-59 6 52-6 71zM4461 596l6 11 6 76-6-48z"/>
<path class="c15" d="M4467 635l6 48 6 71-6-37zM4098 803l6 17-6-11-6-38zM4604 664l6-4 5 70-5-28zM4615 657l6-8 6 59-6-19zM4026 832l6-4 6-12-6 21z"/>
<path class="c24" d="M4830 854l6-54 6 51-6 69zM4812 809l6 68-6 61-6-71zM4842 851l6-52 5 52-5 68zM4853 851l6-51 6 54-6 66zM4794 884l6-72 6 60-6 73z"/>
<path class="c44" d="M4151 650l6-82 6-19-6 60zM4157 661l6-84 6-20-6 64zM4229 706l6-82 6-7-6 71zM4038 635l6-90 6-46-6 78z"/>
<path class="c46" d="M4086 676l6-95 6-27-6 84zM4169 639l6-70 6-8-6 46zM4235 688l6-71 6-3-6 58zM3991 549l6 94-6-64-6-87z"/>
<path class="c31" d="M4806 780l6 29-6 58-6-67zM4800 812l6-32 6 24-6 68zM4116 701l6 89-6-41-6-97zM4407 465l6 6 6 80-6-24z"/>
<path class="c34" d="M4794 781l6 19 6-20-6 32zM4812 804l6-23-6 28-6-29zM4782 785l6 6 6-10-6 43zM4354 529l6-20 6 34-6-25z"/>
<path class="c33" d="M4354 519l6-1 6 62-6-40zM4163 712l6 100-6-29-6-104zM4300 472l6 25 6 87-6-48zM4312 744l6-87 6-18-6 73z"/>
<path class="c26" d="M4473 732l6-38 6 17-6-2zM4455 619l6-23 6 39-6-30zM4086 703l6 68-6-45-6-84zM4485 585l5-20 6 20-6-16z"/>
<path class="c25" d="M4479 579l6-13 5 47-5-26zM4455 609l6-4 6 61-6-44zM4479 755l6-54 5 8-5 21zM4360 540l6 40 6 89-6-49zM4014 744l6 60-6-34-5-76z"/>
<path class="c19" d="M4485 587l5 26 6 89-6-32zM4014 789l6 33-6-20-5-51zM4562 649l6-15 6 51-6-29zM4538 696l6-22 6 51-6-43zM4538 695l6-13 6 55-6-48z"/>
<path class="c12" d="M4568 656l6 29 6 75-6-22zM4550 686l6 49 6 59-6-34zM4562 669l6 35 6 68-6-23zM4633 653l6 7 6 83-6-7zM4556 671l6 39 6 68-6-30z"/>
<path class="c6" d="M4639 729l6 28 6 38-6-2zM4711 740l6 8 6 50-6 2zM4705 731l6 9 6 60-6-1zM4687 730l6 10 6 49-6 2zM4728 796l6-23 6 28-6-21z"/>
<path class="c7" d="M4705 783l6-27 6 35-6-26zM4711 756l6-9 6 62-6-18zM4734 741l6-3 6 42-6 1zM4728 749l6-8 6 40-6-4zM4752 739l6 7 6 6-6 15z"/>
<path class="c5" d="M4758 757l6-4 6 56-6 3zM4752 758l6-1 6 55-6 2zM4734 773l6-12 6 52-6-12zM4740 761l6-3 6 58-6-3zM4764 752l6-17 6 59-6 1zM4764 753l6-5 6 58-6 3z"/>
<path class="c52" d="M4562 712l6 44-6 36-6-69zM4104 533l6 70-6-41-6-45zM3985 492l6 87-6-62-6-69zM3979 483l6 86-6-66-6-67z"/>
<path class="c32" d="M4728 806l6-30 6 12-6 66zM4217 496l6 55 6 86-6-64zM4151 714l6 97-6-32-6-102zM4062 774l6-88 6-44-6 96z"/>
<path class="c30" d="M4818 781l6 34-6 62-6-68zM4401 591l6-27 6 28-6-23zM4788 824l6-43 6 31-6 72zM4169 744l6 94-6-26-6-100z"/>
<path class="c16" d="M4562 642l6 14 6 82-6-34zM4026 828l6 9-6-5-6-28zM4556 649l6 20 6 80-6-39zM4586 697l6-21 6 52-6-36z"/>
<path class="c11" d="M4592 692l6 36 6 64-6-28zM4681 709l6-10 6 41-6-10zM4675 725l6-16 6 21-6-12zM4687 699l6-6 6 54-6-7z"/>
<path class="c17" d="M4026 816l6 25-6-13-6-43zM4485 772l5-60 6-48-6 50zM4098 793l6 29-6-19-6-49zM4544 669l6 17 6 74-6-53z"/>
<path class="c14" d="M4104 818l6 10-6-6-6-29zM4586 685l6 7 6 72-6-44zM4514 652l6 43 6 70-6-33zM4978 865l6-37 6 82-6 25z"/>
<path class="c38" d="M4134 696l5-91 6-42-6 84zM4306 665l6-49 6 8-6 15zM4288 493l6-23 6 26-6-20z"/>
<path class="c36" d="M4288 482l6 11 6 71-6-47zM4110 652l6 97-6-48-6-97zM4145 677l6 102-6-36-6-102z"/>
<path class="c43" d="M4312 686l6-44 6 5-6 28zM4163 677l6-87 6-21-6 70zM4205 473l6-15 6 38-6-30z"/>
<path class="c27" d="M4425 767l6-78 6-9-6 56zM4080 690l6 67-6-49-6-83zM4175 774l6 87-6-23-6-94z"/>
<path class="c34" d="M4425 715l6-22 6 10-6 4zM4294 476l6 20 6 82-6-49zM4723 778l5 16 6-18-6 30zM4348 547l6-28 6 21-6-18z"/>
<path class="c31" d="M4068 786l6-88 6-42-6 97zM4294 493l6 36 6 89-6-54zM4728 854l6-70 6 44-6 83zM4752 779l6 63-6 58-6-82z"/>
<path class="c37" d="M4068 738l6-96 6-42-6 98zM4734 784l6-15 6 4-6 55zM4157 679l6 104-6-33-6-104z"/>
<path class="c10" d="M4669 707l6 1 6 72-6-18zM4645 666l6 4 6 78-6-1zM4657 721l6-3 6 69-6-30z"/>
<path class="c13" d="M4645 684l6-8 6 62-6-19zM4639 703l6-19 6 35-6-20zM4610 660l5 10 6 82-6-22zM4627 649l6 4 6 83-6-12zM4592 633l6 12 6 86-6-13z"/>
<path class="c16" d="M4598 686l6-22 6 38-6-25zM4592 686l6-17 6 53-6-33zM4580 720l6-35 6 35-6-30zM4104 809l6 23-6-14-6-42zM4032 837l6 7-6-3-6-25z"/>
<path class="c22" d="M4098 752l6 57-6-33-6-75zM4479 574l6 13 5 83-5-36zM4502 659l6-32 6 25-6-23zM4996 793l6 5 6 18-6 29z"/>
<path class="c18" d="M4508 629l6 23 6 80-6-47zM4104 793l6 37-6-21-6-57zM4461 622l6 44 6 78-6-49zM4574 635l6-11 6 53-6-23z"/>
<path class="c54" d="M4568 714l6 16-6 26-6-44zM4556 733l6-21 6 2-6 50zM4038 499l6-55 6-7-6 20z"/>
<path class="c21" d="M4490 569l6 16 6 90-6-30zM4461 605l6 30 6 82-6-51zM4092 754l6 49-6-32-6-68z"/>
<path class="c33" d="M4740 828l6-55 6 34-6 79zM4348 534l6-12 6 48-6-35zM4366 696l6-52 5 7-5 17z"/>
<path class="c4" d="M4770 769l6-2 6 48-6 3zM4764 772l6-3 6 49-6 2zM4758 779l6-7 6 48-6-1z"/>
<path class="c8" d="M4645 699l6 20 6 65-6-8zM4693 732l6-6 6 66-6-17zM4675 708l6 10 6 71-6-9z"/>
<path class="c11" d="M4651 751l6-30 6 36-6-29zM4645 749l6-19 6 60-6-44zM4586 703l6 45 6 57-6-35zM4604 677l6 25 5 73-5-20zM4639 688l6 11 6 77-6-19z"/>
<path class="c14" d="M4610 758l5-37 6 42-6-37zM4610 760l5-34 6 45-6-40zM4592 676l6 13 6 77-6-38zM4598 669l6 8 6 78-6-33zM4627 718l6-25 6 36-6-26z"/>
<path class="c7" d="M4657 728l6 29 6 54-6-15zM4699 771l6 0 6 57-6-31zM4681 718l6 12 6 61-6-2z"/>
<path class="c9" d="M4681 749l6-13 6 63-6-31zM4687 753l6-21 6 43-6-24zM4633 703l6 26 6 64-6-16zM4675 761l6-17 6 60-6-38zM4669 792l6-40 6 39-6-35z"/>
<path class="c41" d="M4080 716l6-100 6-35-6 95zM4425 814l6-91 6 15-6 97zM4526 757l6 95-6 37-6-101z"/>
<path class="c32" d="M4758 807l6-29 6 15-6 66zM4348 530l6 5 6 67-6-47zM4139 704l6 96-6-35-5-101z"/>
<path class="c36" d="M4758 768l6 24-6 50-6-63zM4723 803l5-38 6 19-6 70zM4074 753l6-97 6-40-6 100z"/>
<path class="c38" d="M4746 773l6 6 6-11-6 39zM4717 771l6 6 5-12-5 38zM4282 500l6-18 6 35-6-27z"/>
<path class="c12" d="M4627 697l6 6 6 74-6-33zM4586 690l6 30 6 70-6-42zM4633 693l6-5 6 69-6-28z"/>
<path class="c10" d="M4645 742l6 4 6 64-6-47zM4651 729l6-1 6 68-6-37zM4598 689l6 33 6 65-6-21z"/>
<path class="c34" d="M4288 490l6 27 6 82-6-54zM4342 558l6-28 6 25-6-21zM4372 668l5-17 6 23-6-20z"/>
<path class="c30" d="M4366 750l6-82 5-14-5 62zM4348 534l6 21 6 78-6-54zM4354 522l6 18 6 80-6-50z"/>
<path class="c48" d="M4247 659l5-44 6 3-6 30zM4175 607l6-46 6 4-6 19z"/>
<path class="c49" d="M4181 584l6-19 6 17-6-11zM4598 737l6 1 6-9-6 32zM4122 476l6-28 6 20-6-15z"/>
<path class="c47" d="M4128 453l6 15 5 56-5-53zM4181 631l6-60 6-1-6 35zM4032 581l6-82 6-42-6 63zM4080 656l6-91 6-26-6 77z"/>
<path class="c45" d="M4175 663l6-79 6-13-6 60zM3985 543l6 93-6-67-6-86z"/>
<path class="c29" d="M4401 581l6-12 6 51-6-39zM4360 518l6 25 6 86-6-49z"/>
<path class="c23" d="M4407 581l6 39 6 82-6-55zM4455 609l6 13 6 73-6-53zM4473 786l6-77 6-8-6 54z"/>
<path class="c28" d="M4401 578l6 3 6 66-6-49zM4354 535l6 35 6 86-6-54zM4294 517l6 47 6 89-6-54z"/>
<path class="c24" d="M4092 731l6 62-6-39-6-79zM4485 566l5 3 6 76-6-32z"/>
<path class="c42" d="M4074 698l6-98 6-35-6 91zM4479 756l6-44 5 4-5 58z"/>
<path class="c55" d="M4044 457l6-20 6 23-6-19zM4092 539l6-22 6 16-6-8z"/>
<path class="c26" d="M4449 638l6-29 6 33-6-28zM4407 569l6 23 6 81-6-53z"/>
<path class="c25" d="M4449 630l6-7 6 55-6-46zM4443 681l6-51 6 2-6-1zM4449 631l6 1 6 60-6-52zM4443 680l6-49 6 9-6-5zM4354 555l6 47 6 85-6-54z"/>
<path class="c22" d="M4455 614l6 28 6 77-6-58zM4496 660l6-11 6 57-6-47zM4496 664l6-23 6 46-6-38z"/>
<path class="c20" d="M4502 638l6 7 6 71-6-50zM4020 785l6 43-6-24-6-60z"/>
<path class="c39" d="M4211 466l6 30 6 77-6-60zM4598 845l6-84 6 37-6 94z"/>
<path class="c43" d="M4205 472l6-6 6 47-6-38zM4657 767l6-17 6 2-6 52zM4068 686l6-97 6-36-6 89z"/>
<path class="c19" d="M4098 776l6 42-6-25-6-62zM4538 701l6-32 6 38-6-33z"/>
<path class="c14" d="M4544 682l6 43 6 66-6-54zM4544 689l6 48 6 62-6-54zM4508 666l6 50 6 63-6-38zM4461 661l6 58 6 58-6-40z"/>
<path class="c15" d="M4544 674l6 33 6 71-6-53zM4032 837l6 7 6-5-6 10zM4580 702l6 1 6 67-6-52z"/>
<path class="c16" d="M4574 749l6-47 6 16-6-15zM4461 642l6 53 6 68-6-44zM4508 645l6 40 6 75-6-44z"/>
<path class="c35" d="M4669 852l6-77 6 41-6 89zM4306 719l6-80 6-13-6 59z"/>
<path class="c7" d="M4687 736l6 15 6 61-6-13zM4681 744l6 24 6 52-6-16z"/>
<path class="c8" d="M4651 730l6 29 6 57-6-26zM4675 752l6 14 6 58-6-33z"/>
<path class="c31" d="M4687 794l6 84-6 50-6-89zM4288 505l6 40 6 86-6-58z"/>
<path class="c36" d="M4651 843l6-76 6 37-6 89zM4282 494l6 11 6 68-6-50z"/>
<path class="c29" d="M4288 523l6 50 6 86-6-59zM4675 905l6-89 6 53-6 86zM4395 613l6-35 6 20-6-18z"/>
<path class="c38" d="M4276 518l6-24 6 29-6-23zM4211 475l6 38 6 80-6-65zM4300 652l6-43 6 10-6 7z"/>
<path class="c27" d="M4401 580l6 18 6 73-6-56zM4764 859l6-66 6 46-6 79z"/>
<path class="c21" d="M4437 745l6-65 6-45-6 49zM4407 598l6 49 6 78-6-54z"/>
<path class="c30" d="M4395 606l6-26 6 35-6-29zM4217 513l6 60 6 84-6-64z"/>
<path class="c40" d="M4217 749l6-98 6-16-6 92zM4663 804l6-52 6 23-6 77z"/>
<path class="c42" d="M4675 775l6-25 6 7-6 59zM4205 474l6 1 6 53-6-44z"/>
<path class="c43" d="M4199 510l6-36 6 10-6-7zM4223 620l6-53 6 4-6 17zM4669 752l6 15 6-17-6 25z"/>
<path class="c36" d="M4217 709l6-89 6-32-6 76zM4223 713l6-90 6-28-6 75zM4300 701l6-75 6-10-6 49z"/>
<path class="c37" d="M4211 772l6-102 6-19-6 98zM4211 484l6 44 6 81-6-67zM4467 854l6-98 6 24-6 101z"/>
<path class="c19" d="M4407 615l6 56 6 73-6-53zM4538 751l6-47 6 22-6-12z"/>
<path class="c26" d="M4401 586l6 29 6 76-6-60zM4467 719l6-32 6 23-6-14z"/>
<path class="c29" d="M4395 603l6-17 6 45-6-38zM4764 792l6 72-6 59-6-81z"/>
<path class="c25" d="M4401 593l6 38 6 76-6-62zM4449 632l6-18 6 47-6-38z"/>
<path class="c20" d="M4455 632l6 46 6 74-6-60zM4770 864l6 77-6 42-6-60z"/>
<path class="c42" d="M4223 727l6-92 6-11-6 82zM4205 477l6 7 6 58-6-49z"/>
<path class="c43" d="M4199 510l6-33 6 16-6-12zM4300 651l6-12 6 13-6-8z"/>
<path class="c41" d="M4300 715l6-71 6-3-6 58zM4169 700l6-93 6-23-6 79z"/>
<path class="c49" d="M4300 666l6-20 6 4-6 15zM4229 635l6-32 6 7-6 14z"/>
<path class="c24" d="M4449 635l6 5 6 61-6-55zM4467 766l6-70 6-2-6 38z"/>
<path class="c48" d="M4467 735l6-33 6 3-6 51zM4556 723l6 69-6 41-6-88z"/>
<path class="c47" d="M4550 810l6-77 6 31-6 91zM4473 756l6-51 6 8-6 67z"/>
<path class="c42" d="M4306 699l6-58 6 1-6 44zM4205 481l6 12 6 61-6-53z"/>
<path class="c35" d="M4211 501l6 53 6 79-6-70zM4282 500l6 23 6 77-6-57z"/>
<path class="c56" d="M3985 470l6 79-6-57-6-55z"/>
<path class="c50" d="M3991 518l6 93-6-62-6-79z"/>
<path class="c6" d="M4705 758l6 7 6 58-6-18z"/>
<path class="c33" d="M4711 830l6-59 6 32-6 81zM4360 683l6-47 6 10-6 9z"/>
<path class="c60" d="M3973 427l6 56-6-47-6-24z"/>
<path class="c3" d="M4776 787l6-4 6 44-6 2z"/>
<path class="c13" d="M4621 722l6-25 6 47-6-33z"/>
<path class="c9" d="M4627 711l6 33 6 58-6-19zM4586 718l6 52 6 45-6-29z"/>
<path class="c14" d="M4615 739l6-33 6 38-6-33zM4580 703l6 15 6 68-6-55z"/>
<path class="c44" d="M4592 801l6-64 6 24-6 84zM4306 748l6-83 6 1-6 80z"/>
<path class="c5" d="M4693 751l6 24 6 34-6 3z"/>
<path class="c11" d="M4639 790l6-48 6 21-6-20z"/>
<path class="c43" d="M4639 743l6 63-6 47-6-84zM4639 764l6-16 6 0-6 50zM4300 751l6-86 6 0-6 83z"/>
<path class="c40" d="M4645 798l6-50 6 19-6 76zM4193 572l6-62 6-29-6 30z"/>
<path class="c32" d="M4372 716l5-62 6 0-6 33z"/>
<path class="c36" d="M4366 741l6-70 5-2-5 58zM4211 493l6 49 6 81-6-69z"/>
<path class="c43" d="M4217 588l6-35 6 14-6-4zM4199 511l6-30 6 20-6-15z"/>
<path class="c38" d="M4211 670l6-82 6-25-6 59zM4276 513l6-13 6 43-6-34z"/>
<path class="c33" d="M4282 509l6 34 6 81-6-61zM4770 793l6-10 6 2-6 54z"/>
<path class="c42" d="M4205 719l6-92 6-15-6 81zM4217 622l6-59 6-2-6 25z"/>
<path class="c49" d="M4211 627l6-37 6 7-6 15zM4306 665l6-15 6 4-6 11z"/>
<path class="c41" d="M4205 486l6 15 6 62-6-55zM4193 573l6-62 6-25-6 28z"/>
<path class="c34" d="M4187 651l6-74 6-58-6 64zM4342 549l6-15 6 45-6-35z"/>
<path class="c28" d="M4348 544l6 35 6 82-6-59zM4389 657l6-54 6-10-6 10z"/>
<path class="c29" d="M4389 657l6-52 6 2-6 3zM4389 670l6-55 6 1-6 7zM4395 603l6-10 6 52-6-44zM4389 655l6-52 6-2-6 4zM4395 605l6-4 6 54-6-48zM4776 839l6-54 6 39-6 76z"/>
<path class="c24" d="M4401 607l6 48 6 73-6-66zM4383 724l6-67 6-47-6 52zM4401 601l6 44 6 75-6-65z"/>
<path class="c43" d="M4199 514l6-28 6 22-6-18zM4223 586l6-25 6 21-6-15z"/>
<path class="c29" d="M4389 662l6-52 6 2-6 3zM4395 610l6-3 6 55-6-50z"/>
<path class="c41" d="M4205 490l6 18 6 61-6-56zM4193 577l6-63 6-24-6 29z"/>
<path class="c34" d="M4187 659l6-76 6-57-6 66zM4377 687l6-33 6 16-6-2z"/>
<path class="c31" d="M4377 744l6-76 6-7-6 54zM4360 732l6-77 6-11-6 52z"/>
<path class="c37" d="M4372 727l5-58 6 2-6 44zM4276 513l6 7 6 60-6-49z"/>
<path class="c40" d="M4223 664l6-76 6-14-6 49zM4217 663l6-77 6-19-6 53z"/>
<path class="c24" d="M4401 612l6 50 6 71-6-68zM4383 731l6-69 6-47-6 55z"/>
<path class="c38" d="M4270 547l6-34 6 18-6-14zM4360 686l6-24 6 10-6 4z"/>
<path class="c49" d="M4217 612l6-15 6 13-6-7zM4372 696l5-20 6 0-6 27z"/>
<path class="c29" d="M4395 623l6-7 6 49-6-47zM4395 615l6-3 6 53-6-49z"/>
<path class="c46" d="M4116 540l6-64 6-23-6 31z"/>
<path class="c52" d="M4038 520l6-63 6-16-6 32z"/>
<path class="c55" d="M4044 473l6-32 6 15-6-7zM4550 714l6 9 6-11-6 21z"/>
<path class="c54" d="M4044 517l6-57 6-6-6 23zM4092 581l6-56 6-2-6 31z"/>
<path class="c47" d="M4038 602l6-85 6-40-6 68zM4217 670l6-67 6-3-6 51z"/>
<path class="c45" d="M4032 606l6-86 6-47-6 72zM4211 693l6-81 6-9-6 67z"/>
<path class="c49" d="M4038 572l6-79 6-33-6 57zM4122 484l6-31 6 18-6-12z"/>
<path class="c22" d="M4496 673l6-35 6 28-6-25z"/>
<path class="c16" d="M4502 668l6 52 6 65-6-55zM4502 659l6 47 6 69-6-55zM4574 746l6-43 6 28-6-25z"/>
<path class="c19" d="M4502 641l6 25 6 75-6-54zM4455 640l6 52 6 70-6-61z"/>
<path class="c21" d="M4496 660l6-1 6 61-6-52zM4455 623l6 38 6 76-6-59z"/>
<path class="c18" d="M4532 753l6-58 6-6-6 10z"/>
<path class="c25" d="M4443 684l6-49 6 11-6-6z"/>
<path class="c26" d="M4288 543l6 57 6 82-6-58z"/>
<path class="c43" d="M4294 755l6-89 6-1-6 86zM4199 519l6-29 6 23-6-18z"/>
<path class="c41" d="M4205 495l6 18 6 60-6-57zM4193 583l6-64 6-24-6 31z"/>
<path class="c33" d="M4187 669l6-77 6-57-6 68zM4342 546l6-2 6 58-6-45z"/>
<path class="c32" d="M4342 547l6 10 6 67-6-53zM4282 520l6 43 6 82-6-65z"/>
<path class="c34" d="M4336 578l6-31 6 24-6-20zM4360 758l6-82 6-5-6 70z"/>
<path class="c43" d="M4366 700l6-28 5 3-5 25zM4360 776l6-86 6 6-6 89zM4360 702l6-34 6 4-6 28zM4199 526l6-31 6 21-6-15z"/>
<path class="c42" d="M4205 501l6 15 6 58-6-56zM4366 785l6-89 5 7-5 92z"/>
<path class="c40" d="M4193 592l6-66 6-25-6 34zM4461 826l6-91 6 21-6 98z"/>
<path class="c43" d="M4199 535l6-34 6 17-6-11zM4211 598l6-50 6 4-6 11zM4205 588l6-51 6 2-6 12z"/>
<path class="c62" d="M3961 441l6-29 6 15-6-7z"/>
<path class="c61" d="M3973 423l6 41-6-37-6-7zM3961 465l6-45 6 3-6 11z"/>
<path class="c58" d="M3979 448l6 69-6-53-6-41zM3955 512l6-71 6-21-6 45z"/>
<path class="c12" d="M4621 706l6 5 6 72-6-39z"/>
<path class="c49" d="M4633 741l6 2-6 26-6-37zM4366 690l6-15 5 1-5 20z"/>
<path class="c13" d="M4615 723l6-12 6 64-6-46z"/>
<path class="c10" d="M4621 711l6 33 6 62-6-31z"/>
<path class="c37" d="M4633 769l6 84-6 48-6-93zM4473 781l6 103-6 28-6-103z"/>
<path class="c7" d="M4699 789l6-31 6 47-6-34z"/>
<path class="c31" d="M4699 822l6-49 6 20-6 77zM4342 551l6 20 6 71-6-57z"/>
<path class="c30" d="M4699 863l6-76 6 43-6 86zM4282 531l6 49 6 82-6-66z"/>
<path class="c33" d="M4705 782l6 78-6 54-6-88zM4693 787l6-9 6-5-6 49zM4467 809l6 103-6 25-6-100z"/>
<path class="c24" d="M4348 585l6 57 6 77-6-61zM4449 640l6 6 6 60-6-56z"/>
<path class="c25" d="M4443 701l6-55 6 6-6 3zM4449 655l6-3 6 51-6-51zM4443 715l6-60 6-3-6 15zM4449 667l6-15 6 44-6-42zM4443 690l6-50 6 10-6-4zM4348 571l6 53 6 79-6-61z"/>
<path class="c37" d="M4693 762l6 64-6 52-6-84zM4705 787l6-22 6 6-6 59z"/>
<path class="c38" d="M4681 816l6-59 6 30-6 82zM4294 645l6-44 6 11-6 6z"/>
<path class="c36" d="M4294 690l6-72 6-9-6 43zM4276 517l6 14 6 65-6-55z"/>
<path class="c20" d="M4437 769l6-68 6-46-6 60zM4437 758l6-68 6-44-6 55z"/>
<path class="c29" d="M4282 541l6 55 6 80-6-67zM4282 550l6 59 6 78-6-69z"/>
<path class="c38" d="M4288 645l6-50 6 7-6 11zM4270 545l6-28 6 24-6-20z"/>
<path class="c23" d="M4383 741l6-71 6-47-6 59z"/>
<path class="c48" d="M4223 651l6-51 6 3-6 32z"/>
<path class="c28" d="M4389 682l6-59 6-5-6 14z"/>
<path class="c22" d="M4383 753l6-71 6-50-6 65zM4490 712l6-52 6 8-6-4z"/>
<path class="c21" d="M4496 664l6 4 6 62-6-56zM4437 750l6-66 6-44-6 50z"/>
<path class="c39" d="M4110 617l6-77 6-56-6 65z"/>
<path class="c51" d="M4038 545l6-72 6-24-6 44z"/>
<path class="c55" d="M4050 477l6-23 6 21-6-16z"/>
<path class="c46" d="M4116 549l6-65 6-25-6 34z"/>
<path class="c47" d="M4128 459l6 12 5 54-5-52z"/>
<path class="c17" d="M4502 649l6 38 6 74-6-55z"/>
<path class="c14" d="M4580 706l6 25 6 65-6-58z"/>
<path class="c16" d="M4574 748l6-42 6 32-6-27zM4574 756l6-45 6 29-6-23zM4574 769l6-52 6 21-6-12z"/>
<path class="c12" d="M4568 824l6-55 6-43-6 61zM4615 719l6 10 6 68-6-49z"/>
<path class="c19" d="M4538 699l6-10 6 56-6-51z"/>
<path class="c18" d="M4532 758l6-59 6-5-6 11zM4437 783l6-68 6-48-6 67z"/>
<path class="c26" d="M4348 557l6 45 6 82-6-60z"/>
<path class="c40" d="M4193 603l6-68 6-28-6 38z"/>
<path class="c43" d="M4199 545l6-38 6 12-6-6zM4354 768l6-83 6 5-6 86z"/>
<path class="c32" d="M4187 681l6-78 6-58-6 73zM4288 732l6-87 6-27-6 72z"/>
<path class="c36" d="M4181 761l6-99 6-28-6 97zM4276 521l6 20 6 68-6-59z"/>
<path class="c39" d="M4193 618l6-73 6-32-6 46zM4110 628l6-79 6-56-6 68z"/>
<path class="c43" d="M4199 559l6-46 6 7-6 2zM4294 662l6-31 6 8-6 12z"/>
<path class="c49" d="M4294 669l6-27 6 4-6 20zM4122 493l6-34 6 14-6-8z"/>
<path class="c42" d="M4199 575l6-53 6-1-6 12zM4288 760l6-91 6-3-6 89z"/>
<path class="c38" d="M4193 634l6-75 6-37-6 53zM4270 547l6-26 6 29-6-24z"/>
<path class="c62" d="M3967 434l6-11 6 25-6-23z"/>
<path class="c34" d="M4336 575l6-24 6 34-6-28z"/>
<path class="c27" d="M4699 826l6 88-6 46-6-82z"/>
<path class="c41" d="M4699 752l6 30-6 44-6-64z"/>
<path class="c43" d="M4687 757l6 5 6-10-6 35zM4205 533l6-12 6 35-6-33z"/>
<path class="c24" d="M4443 734l6-67 6-13-6 29z"/>
<path class="c29" d="M4395 632l6-14 6 43-6-40z"/>
<path class="c22" d="M4490 714l6-50 6 10-6-6z"/>
<path class="c17" d="M4485 777l5-63 6-46-6 54zM4437 799l6-65 6-51-6 73z"/>
<path class="c54" d="M4050 526l6-55 6-4-6 22z"/>
<path class="c47" d="M4044 613l6-87 6-37-6 70zM4586 764l6-37 6 10-6 64z"/>
<path class="c50" d="M4044 577l6-78 6-28-6 55z"/>
<path class="c52" d="M4044 545l6-68 6-18-6 40z"/>
<path class="c13" d="M4568 805l6-57 6-37-6 45z"/>
<path class="c15" d="M4574 787l6-61 6 7-6 8z"/>
<path class="c46" d="M4568 772l6-47 6 13-6 71zM4627 732l6 37-6 39-6-67z"/>
<path class="c49" d="M4580 738l6-6 6-5-6 37zM4187 605l6-35 6 10-6 8z"/>
<path class="c42" d="M4568 756l6 90-6 44-6-98zM4199 594l6-61 6-10-6 24z"/>
<path class="c43" d="M4205 547l6-24 6 26-6-21zM4181 694l6-89 6-17-6 74zM4574 809l6-71 6 26-6 87z"/>
<path class="c36" d="M4580 803l6 98-6 42-6-97zM4264 607l6-60 6-21-6 24z"/>
<path class="c35" d="M4193 676l6-82 6-47-6 69zM4276 526l6 24 6 68-6-61z"/>
<path class="c30" d="M4258 683l6-73 6-55-6 62zM4342 557l6 28 6 73-6-62z"/>
<path class="c14" d="M4610 761l5-42 6 29-6-27z"/>
<path class="c47" d="M4604 761l6-32 5 9-5 60zM4574 730l6 73-6 43-6-90z"/>
<path class="c11" d="M4615 721l6 27 6 63-6-48zM4615 726l6 37 6 56-6-48z"/>
<path class="c19" d="M4538 705l6-11 6 53-6-50z"/>
<path class="c45" d="M4116 561l6-68 6-28-6 39z"/>
<path class="c38" d="M4110 641l6-80 6-57-6 71zM4270 550l6-24 6 31-6-26z"/>
<path class="c48" d="M4110 561l6 87-6-45-6-70zM4128 465l6 8 5 50-5-49z"/>
<path class="c37" d="M4116 648l6 99-6-46-6-98zM4193 654l6-79 6-42-6 61z"/>
<path class="c40" d="M4187 731l6-97 6-22-6 88zM4199 616l6-69 6-19-6 37z"/>
<path class="c49" d="M4122 504l6-39 6 9-6-2zM4615 738l6 3 6-9-6 31z"/>
<path class="c44" d="M4116 575l6-71 6-32-6 45zM4610 798l5-60 6 25-6 81z"/>
<path class="c48" d="M4122 517l6-45 6 4-6 4zM4122 532l6-52 6-3-6 14zM4128 472l6 2 5 45-5-43z"/>
<path class="c42" d="M4116 612l6-80 6-41-6 60zM4110 603l6 98-6-49-6-90z"/>
<path class="c43" d="M4116 592l6-75 6-37-6 52zM4205 565l6-37 6 15-6-6z"/>
<path class="c60" d="M3979 437l6 55-6-44-6-23z"/>
<path class="c26" d="M4449 683l6-29 6 33-6-28z"/>
<path class="c25" d="M4449 705l6-46 6 17-6-7zM4449 732l6-63 6 0-6 20z"/>
<path class="c28" d="M4389 697l6-65 6-11-6 25z"/>
<path class="c21" d="M4383 768l6-71 6-51-6 70zM4496 668l6 6 6 61-6-57z"/>
<path class="c22" d="M4490 722l6-54 6 10-6-3zM4443 756l6-73 6-24-6 46z"/>
<path class="c21" d="M4496 675l6 3 6 57-6-56zM4490 733l6-58 6 4-6 6zM4490 748l6-63 6-6-6 19z"/>
<path class="c22" d="M4496 698l6-19 6 43-6-41zM4496 743l6-55 6 11-6 4z"/>
<path class="c20" d="M4490 768l6-70 6-17-6 37zM4443 780l6-75 6-36-6 63z"/>
<path class="c36" d="M4437 857l6-101 6 21-6 103zM4264 610l6-60 6-19-6 24z"/>
<path class="c30" d="M4258 690l6-73 6-55-6 64zM4395 646l6-25 6 34-6-30z"/>
<path class="c29" d="M4395 685l6-53 6 9-6 5zM4443 745l6-55 6 5-6 29zM4437 711l6-25 6 18-6-9z"/>
<path class="c27" d="M4437 770l6-75 6-5-6 55zM4389 716l6-70 6-21-6 38z"/>
<path class="c47" d="M4437 738l6-44 6 5-6 57zM4621 763l6-31 6 9-6 61z"/>
<path class="c33" d="M4383 715l6-54 6 5-6 26zM4193 699l6-83 6-51-6 77z"/>
<path class="c39" d="M4431 835l6-97 6 18-6 101zM4199 642l6-77 6-28-6 51z"/>
<path class="c48" d="M4193 634l6-55 6 1-6 32zM4431 723l6-30 6 1-6 44z"/>
<path class="c55" d="M4056 489l6-22 6 20-6-15z"/>
<path class="c53" d="M4056 547l6-61 6-8-6 31zM4110 535l6 62-6-36-6-38z"/>
<path class="c49" d="M4050 597l6-82 6-29-6 61zM4128 491l6-14 5 32-5-29z"/>
<path class="c55" d="M4098 554l6-31 6 12-6 2zM4062 509l6-31 6 14-6-4z"/>
<path class="c46" d="M4187 662l6-74 6-9-6 55z"/>
<path class="c34" d="M4336 575l6-18 6 39-6-33z"/>
<path class="c32" d="M4330 632l6-57 6-12-6 15zM4627 808l6 93-6 44-6-92z"/>
<path class="c40" d="M4615 844l6-81 6 39-6 92zM4377 806l6-94 6 9-6 98z"/>
<path class="c18" d="M4532 768l6-63 6-8-6 19z"/>
<path class="c35" d="M4276 531l6 26 6 68-6-63z"/>
<path class="c38" d="M4270 555l6-24 6 31-6-26zM4377 715l6-44 6 4-6 31z"/>
<path class="c41" d="M4372 795l5-92 6 9-6 94zM4205 615l6-64 6-11-6 31z"/>
<path class="c37" d="M4199 671l6-83 6-37-6 64z"/>
<path class="c26" d="M4455 689l6-20 6 36-6-34z"/>
<path class="c17" d="M4485 785l5-63 6-47-6 58z"/>
<path class="c45" d="M4479 780l6-67 5 14-5 81zM4050 638l6-91 6-38-6 78z"/>
<path class="c49" d="M4485 713l5 7 6-8-6 15zM4377 703l6-27 6 2-6 34z"/>
<path class="c22" d="M4496 718l6-37 6 29-6-22z"/>
<path class="c29" d="M4395 663l6-38 6 22-6-15z"/>
<path class="c25" d="M4389 738l6-75 6-31-6 53zM4455 718l6-47 6 16-6-2z"/>
<path class="c23" d="M4389 762l6-77 6-39-6 66zM4449 764l6-75 6-18-6 47z"/>
<path class="c20" d="M4449 796l6-78 6-33-6 70zM4496 773l6-70 6-9-6 35z"/>
<path class="c52" d="M4050 559l6-70 6-17-6 43z"/>
<path class="c47" d="M4122 551l6-60 6-11-6 25z"/>
<path class="c40" d="M4116 633l6-82 6-46-6 68zM4479 754l6 100-6 30-6-103z"/>
<path class="c50" d="M4092 638l6-84 6-17-6 66z"/>
<path class="c51" d="M4056 587l6-78 6-21-6 54z"/>
<path class="c54" d="M4062 542l6-54 6-1-6 22z"/>
<path class="c30" d="M4342 563l6 33 6 74-6-65z"/>
<path class="c34" d="M4336 578l6-15 6 42-6-37zM4443 880l6-103 6 24-6 102z"/>
<path class="c24" d="M4449 889l6 86-6 14-6-77zM4455 755l6-70 6-6-6 35z"/>
<path class="c29" d="M4449 724l6-29 6 14-6 0zM4342 568l6 37 6 73-6-66z"/>
<path class="c32" d="M4443 759l6-58 6 2-6 50zM4330 634l6-56 6-10-6 14z"/>
<path class="c19" d="M4538 716l6-19 6 47-6-45z"/>
<path class="c36" d="M4264 617l6-62 6-19-6 26z"/>
<path class="c35" d="M4276 536l6 26 6 66-6-63z"/>
<path class="c43" d="M4211 571l6-31 6 19-6-11z"/>
<path class="c44" d="M4485 731l5 91-5 32-6-100z"/>
<path class="c18" d="M4490 790l6-72 6-30-6 55z"/>
<path class="c28" d="M4395 712l6-66 6-8-6 28z"/>
<path class="c26" d="M4461 714l6-35 6 23-6-14z"/>
<path class="c22" d="M4502 729l6-35 6 28-6-20z"/>
<path class="c21" d="M4502 765l6-63 6 4-6 21zM4455 795l6-81 6-26-6 68z"/>
<path class="c49" d="M4128 505l6-25 5 23-5-17z"/>
<path class="c47" d="M4056 631l6-89 6-33-6 73z"/>
<path class="c55" d="M4068 509l6-22 6 19-6-13z"/>
<path class="c51" d="M4062 582l6-73 6-16-6 48zM4496 703l6 57-6 30-6-76z"/>
<path class="c33" d="M4449 753l6-50 6 3-6 42z"/>
<path class="c27" d="M4324 703l6-69 6-52-6 57z"/>
<path class="c34" d="M4336 582l6-14 6 44-6-39z"/>
<path class="c17" d="M4532 782l6-66 6-17-6 32z"/>
<path class="c46" d="M4532 731l6 82-6 39-6-95zM4532 822l6-84 6 32-6 96zM4122 573l6-68 6-19-6 36z"/>
<path class="c38" d="M4116 657l6-84 6-51-6 75zM4270 562l6-26 6 29-6-24z"/>
<path class="c39" d="M4122 639l6 100-6-44-6-98zM4205 647l6-76 6-23-6 50z"/>
<path class="c54" d="M4116 536l6 51-6-30-6-26zM4068 541l6-48 6 3-6 16z"/>
<path class="c48" d="M4062 629l6-88 6-29-6 71zM4490 714l6 76-6 32-5-91z"/>
<path class="c50" d="M4116 557l6 82-6-42-6-62zM4526 782l6-66 6 22-6 84z"/>
<path class="c49" d="M4199 612l6-32 6 10-6 7zM4128 522l6-36 5 13-5-5z"/>
<path class="c44" d="M4122 597l6-75 6-28-6 49zM4116 597l6 98-6-47-6-87z"/>
<path class="c36" d="M4276 541l6 24 6 64-6-63zM4264 626l6-64 6-21-6 29z"/>
<path class="c55" d="M4110 531l6 26-6-22-6 2zM4074 512l6-16 6 21-6-18z"/>
<path class="c53" d="M4098 603l6-66 6-6-6 43zM4502 700l6 35-6 25-6-57z"/>
<path class="c38" d="M4270 570l6-29 6 25-6-19zM4270 613l6-52 6 3-6 8z"/>
<path class="c54" d="M4074 545l6-46 6 5-6 14zM4104 574l6-43 6 5-6 18z"/>
<path class="c48" d="M4068 632l6-87 6-27-6 71zM4128 543l6-49 5 2-5 11z"/>
<path class="c41" d="M4211 631l6-68 6-10-6 35z"/>
<path class="c37" d="M4205 682l6-84 6-35-6 68z"/>
<path class="c30" d="M4401 666l6-28 6 29-6-23z"/>
<path class="c29" d="M4401 695l6-51 6 10-6 5zM4407 688l6-38 6 20-6-9zM4258 701l6-75 6-56-6 68z"/>
<path class="c24" d="M4401 769l6-81 6-27-6 66zM4461 756l6-68 6-1-6 32z"/>
<path class="c28" d="M4455 770l6-68 6 0-6 49zM4407 727l6-66 6-2-6 30z"/>
<path class="c22" d="M4508 727l6-21 6 32-6-31z"/>
<path class="c19" d="M4502 804l6-77 6-20-6 60zM4538 731l6-32 6 38-6-33z"/>
<path class="c55" d="M4532 716l6-2 6-6-6 30zM4508 707l6 9-6 19-6-35zM4080 518l6-14 6 21-6-18z"/>
<path class="c52" d="M4074 589l6-71 6-11-6 46zM4068 583l6-71 6-13-6 46z"/>
<path class="c54" d="M4080 553l6-46 6 4-6 16zM4538 738l6-30 6 6-6 56z"/>
<path class="c48" d="M4074 642l6-89 6-26-6 73zM4205 647l6-57 6 0-6 37z"/>
<path class="c32" d="M4330 639l6-57 6-9-6 15z"/>
<path class="c27" d="M4324 710l6-71 6-51-6 59zM4401 730l6-71 6-9-6 38z"/>
<path class="c46" d="M4199 672l6-75 6-7-6 57z"/>
<path class="c43" d="M4193 700l6-88 6-15-6 75z"/>
<path class="c35" d="M4264 638l6-68 6-23-6 35z"/>
<path class="c49" d="M4134 507l5-11 6 32-6-30z"/>
<path class="c42" d="M4122 625l6-82 6-36-6 62z"/>
<path class="c39" d="M4199 745l6-98 6-20-6 92z"/>
<path class="c26" d="M4395 743l6-77 6-22-6 51z"/>
<path class="c34" d="M4389 692l6-26 6 15-6-4zM4336 588l6-15 6 42-6-37z"/>
<path class="c23" d="M4395 775l6-80 6-36-6 71z"/>
<path class="c33" d="M4395 730l6-58 6 2-6 35zM4455 748l6-42 6 4-6 34z"/>
<path class="c36" d="M4449 762l6-56 6 3-6 59zM4395 848l6-103 6 15-6 104z"/>
<path class="c38" d="M4389 833l6-100 6 12-6 103zM4270 582l6-35 6 19-6-13z"/>
<path class="c34" d="M4264 653l6-71 6-29-6 43zM4401 709l6-35 6 11-6 10z"/>
<path class="c47" d="M4395 733l6-51 6 4-6 59zM4128 569l6-62 5-9-5 28z"/>
<path class="c49" d="M4134 526l5-28 6 19-6-12zM4455 707l6 4 6-6-6 14zM4461 719l6-14 6-3-6 33z"/>
<path class="c40" d="M4122 655l6-86 6-43-6 73zM4502 760l6 99-6 34-6-103z"/>
<path class="c51" d="M4122 552l6 72-6-37-6-51zM4544 770l6-56 6 19-6 77z"/>
<path class="c55" d="M4110 554l6-18 6 16-6-10zM4086 527l6-16 6 20-6-16z"/>
<path class="c48" d="M4134 550l5-45 6 6-6 7zM4383 712l6-34 6 1-6 42z"/>
<path class="c46" d="M4122 587l6 95-6-43-6-82zM4443 756l6-57 6 8-6 70z"/>
<path class="c30" d="M4413 689l6-30 6 23-6-15z"/>
<path class="c28" d="M4413 732l6-65 6-1-6 31zM4258 713l6-75 6-56-6 71z"/>
<path class="c42" d="M4258 666l6-59 6 1-6 34zM4455 801l6-82 6 16-6 91z"/>
<path class="c21" d="M4508 767l6-60 6 8-6 18z"/>
<path class="c44" d="M4508 735l6 88-6 36-6-99zM4449 777l6-70 6 12-6 82z"/>
<path class="c51" d="M4520 705l6 52-6 31-6-72zM4086 616l6-77 6-14-6 56z"/>
<path class="c54" d="M4514 723l6-18 6 0-6 44zM4086 565l6-50 6 2-6 22z"/>
<path class="c31" d="M4389 754l6-77 6-5-6 58z"/>
<path class="c48" d="M4389 721l6-42 6 3-6 51zM4514 716l6 72-6 35-6-88z"/>
<path class="c32" d="M4330 647l6-59 6-10-6 17z"/>
<path class="c34" d="M4336 595l6-17 6 38-6-34zM4128 682l6 97-6-40-6-100z"/>
<path class="c38" d="M4270 596l6-43 6 12-6-4z"/>
<path class="c32" d="M4264 692l6-79 6-41-6 62zM4330 658l6-63 6-13-6 23z"/>
<path class="c25" d="M4324 731l6-73 6-53-6 67zM4407 771l6-82 6-22-6 65z"/>
<path class="c34" d="M4407 695l6-10 6 16-6-15zM4336 605l6-23 6 32-6-28z"/>
<path class="c31" d="M4330 672l6-67 6-19-6 32zM4407 759l6-73 6-2-6 57z"/>
<path class="c43" d="M4407 715l6-25 6 2-6 28zM4128 632l6-82 5-32-5 62z"/>
<path class="c45" d="M4128 599l6-73 5-21-5 45z"/>
<path class="c52" d="M4080 600l6-73 6-12-6 50z"/>
<path class="c47" d="M4134 580l5-62 6-8-6 29z"/>
<path class="c49" d="M4139 539l6-29 6 18-6-10zM4252 648l6-30 6 7-6 15z"/>
<path class="c29" d="M4419 697l6-31 6 21-6-11z"/>
<path class="c53" d="M4520 749l6-44 6 11-6 66z"/>
<path class="c39" d="M4383 819l6-98 6 12-6 100z"/>
<path class="c55" d="M4508 707l6 9 6-11-6 18z"/>
<path class="c26" d="M4324 719l6-72 6-52-6 63z"/>
<path class="c33" d="M4264 671l6-75 6-35-6 52z"/>
<path class="c37" d="M4270 634l6-62 6-7-6 23z"/>
<path class="c35" d="M4401 864l6-104 6 16-6 104z"/>
<path class="c34" d="M4336 618l6-32 6 25-6-19z"/>
<path class="c30" d="M4330 690l6-72 6-26-6 42zM4264 714l6-80 6-46-6 70z"/>
<path class="c38" d="M4324 683l6-49 6 5-6 22zM4276 588l6-23 6 28-6-24z"/>
<path class="c46" d="M4401 745l6-59 6 6-6 68z"/>
<path class="c40" d="M4128 668l6-88 5-41-5 76z"/>
<path class="c48" d="M4128 575l6 89-6-40-6-72zM4139 568l6-50 6 3-6 15z"/>
<path class="c45" d="M4134 615l5-76 6-21-6 50z"/>
<path class="c28" d="M4419 745l6-69 6-3-6 39z"/>
<path class="c25" d="M4413 781l6-84 6-21-6 69z"/>
<path class="c34" d="M4336 634l6-42 6 15-6-6z"/>
<path class="c33" d="M4336 655l6-54 6 3-6 10zM4419 726l6-40 6 7-6 22z"/>
<path class="c43" d="M4419 727l6-34 6 2-6 40zM4318 675l6-28 6 6-6 15z"/>
<path class="c49" d="M4312 665l6-11 6 4-6 8zM4425 710l6-16 6-1-6 30zM4145 536l6-15 6 25-6-23z"/>
<path class="c44" d="M4145 646l6-82 6-22-6 60zM4312 746l6-80 6 1-6 79zM4318 746l6-79 6 1-6 79z"/>
<path class="c42" d="M4419 794l6-84 6 13-6 91zM4134 655l5-87 6-32-6 69z"/>
<path class="c32" d="M4336 680l6-66 6-10-6 29zM4413 741l6-57 6 2-6 40z"/>
<path class="c43" d="M4413 720l6-28 6 1-6 34zM4139 647l6-84 6-26-6 64z"/>
<path class="c40" d="M4139 641l6 102-6-39-5-98zM4151 646l6 104-6-36-6-99z"/>
<path class="c44" d="M4413 776l6-76 6 10-6 84zM4134 606l5 98-5-40-6-89z"/>
<path class="c36" d="M4258 804l6-104 6-9-6 102z"/>
<path class="c35" d="M4270 658l6-70 6-19-6 39z"/>
<path class="c53" d="M4128 548l6 58-6-31-6-34z"/>
<path class="c37" d="M4134 664l5 101-5-40-6-101z"/>
<path class="c41" d="M4128 624l6 101-6-43-6-95z"/>
<path class="c55" d="M4122 541l6 34-6-23-6-10z"/>
<path class="c29" d="M4330 711l6-77 6-33-6 54z"/>
<path class="c27" d="M4330 734l6-79 6-41-6 66z"/>
<path class="c47" d="M4145 601l6-64 6-7-6 34z"/>
<path class="c46" d="M4139 605l6-69 6-13-6 40z"/>
<path class="c51" d="M4134 564l5 77-5-35-6-58z"/>
<path class="c25" d="M4330 758l6-78 6-47-6 75z"/>
<path class="c34" d="M4324 854l6-105 6 3-6 105zM4342 633l6-29 6 26-6-20z"/>
<path class="c45" d="M4407 760l6-68 6 8-6 76z"/>
<path class="c49" d="M4419 700l6-2 6-4-6 16z"/>
<path class="c43" d="M4264 642l6-34 6 10-6 7z"/>
<path class="c38" d="M4276 608l6-39 6 16-6-7z"/>
<path class="c33" d="M4270 686l6-78 6-30-6 55zM4342 658l6-48 6 10-6 3z"/>
<path class="c44" d="M4145 615l6 99-6-37-6-90z"/>
<path class="c48" d="M4139 587l6 90-6-36-5-77z"/>
<path class="c30" d="M4336 708l6-75 6-23-6 48z"/>
<path class="c49" d="M4258 640l6-15 6 8-6 2z"/>
<path class="c40" d="M4264 703l6-78 6-8-6 59z"/>
<path class="c37" d="M4276 633l6-55 6 2-6 14z"/>
<path class="c32" d="M4342 690l6-67 6-6-6 30z"/>
<path class="c28" d="M4336 739l6-81 6-35-6 67z"/>
<path class="c38" d="M4336 694l6-50 6 4-6 27zM4330 661l6-22 6 16-6-7z"/>
<path class="c36" d="M4330 719l6-71 6-4-6 50zM4276 664l6-70 6-13-6 38z"/>
<path class="c45" d="M4258 712l6-77 6-3-6 68z"/>
<path class="c44" d="M4252 725l6-85 6-5-6 77z"/>
<path class="c31" d="M4270 717l6-84 6-39-6 70z"/>
<path class="c38" d="M4264 793l6-102 6-8-6 100zM4282 619l6-38 6 16-6-6z"/>
<path class="c33" d="M4276 700l6-81 6-28-6 60zM4324 747l6-86 6-13-6 71z"/>
<path class="c34" d="M4348 647l6-30 6 23-6-16z"/>
<path class="c33" d="M4354 678l6-49 6 9-6 9zM4348 680l6-56 6 4-6 16z"/>
<path class="c31" d="M4348 720l6-76 6-15-6 49zM4354 722l6-75 6-11-6 47z"/>
<path class="c41" d="M4330 731l6-71 6-1-6 63z"/>
<path class="c42" d="M4270 676l6-59 6 1-6 37z"/>
<path class="c37" d="M4282 651l6-60 6 0-6 21z"/>
<path class="c39" d="M4270 783l6-100 6-6-6 97z"/>
<path class="c43" d="M4324 668l6-15 6 9-6 1z"/>
<path class="c29" d="M4342 726l6-79 6-23-6 56z"/>
<path class="c38" d="M4342 675l6-27 6 13-6 1zM4288 612l6-21 6 25-6-21z"/>
<path class="c35" d="M4282 689l6-77 6-17-6 50zM4342 740l6-78 6-6-6 62z"/>
<path class="c27" d="M4348 764l6-86 6-31-6 75z"/>
<path class="c46" d="M4264 700l6-68 6 0-6 59z"/>
<path class="c49" d="M4318 666l6-8 6 4-6 5z"/>
<path class="c40" d="M4324 741l6-78 6-3-6 71z"/>
<path class="c49" d="M4324 667l6-5 6 3-6 3zM4330 668l6-3 6 3-6 3z"/>
<path class="c41" d="M4336 722l6-63 6 1-6 54z"/>
<path class="c44" d="M4330 749l6-78 6 2-6 79zM4324 747l6-79 6 3-6 78z"/>
<path class="c36" d="M4288 686l6-73 6-12-6 44z"/>
<path class="c31" d="M4282 731l6-86 6-32-6 73z"/>
<path class="c43" d="M4282 639l6-13 6 15-6-11zM4276 655l6-37 6 8-6 13z"/>
<path class="c42" d="M4288 678l6-50 6 3-6 31zM4342 714l6-54 6 2-6 47z"/>
<path class="c41" d="M4282 766l6-94 6-3-6 91zM4282 698l6-68 6-2-6 50z"/>
<path class="c49" d="M4336 671l6-3 6 2-6 3zM4288 672l6-34 6 4-6 27z"/>
<path class="c38" d="M4354 700l6-44 6 6-6 24z"/>
<path class="c37" d="M4348 718l6-62 6 0-6 44z"/>
<path class="c39" d="M4276 722l6-83 6-9-6 68z"/>
<path class="c48" d="M4276 683l6-51 6 3-6 42zM4282 677l6-42 6 3-6 34z"/>
<path class="c47" d="M4270 691l6-59 6 0-6 51z"/>
<path class="c44" d="M4336 752l6-79 6 4-6 79z"/>
<path class="c43" d="M4354 705l6-40 6 3-6 34z"/>
<path class="c42" d="M4348 709l6-47 6 3-6 40z"/>
<path class="c49" d="M4342 673l6-3 6 2-6 5zM4348 677l6-5 6 1-6 7zM4354 680l6-7 6 1-6 11zM4360 685l6-11 6 1-6 15z"/>
<path class="c44" d="M4342 756l6-79 6 3-6 81zM4348 761l6-81 6 5-6 83z"/>
<path class="c40" d="M4276 774l6-97 6-5-6 94z"/>
</g>
<path d="M395.5 32.65L395.5 93.85L455 118.75L514.5 93.85M455 118.75l-1.1 .9M455 118.75l1.1 .9M440.12 112.53l-1.1 .9M469.88 112.53l1.1 .9M425.25 106.3l-1.1 .9M484.75 106.3l1.1 .9M410.38 100.08l-1.1 .9M499.62 100.08l1.1 .9M395.5 93.85l-1.1 .9M514.5 93.85l1.1 .9M395.5 93.85l-1.3 0M395.5 81.61l-1.3 0M395.5 69.37l-1.3 0M395.5 57.13l-1.3 0M395.5 44.89l-1.3 0M395.5 32.65l-1.3 0" stroke="#4d4d4d" stroke-width=".38" fill="none"/>
<text transform="translate(452 124.55) scale(.1)" font-size="43.5" text-anchor="end">-100</text>
<text transform="translate(458.2 124.65) scale(.1)" font-size="43.5" text-anchor="start">-100</text>
<text transform="translate(437.12 118.33) scale(.1)" font-size="43.5" text-anchor="end">-50</text>
<text transform="translate(473.07 118.43) scale(.1)" font-size="43.5" text-anchor="start">-50</text>
<text transform="translate(422.25 112.1) scale(.1)" font-size="43.5" text-anchor="end">0</text>
<text transform="translate(487.95 112.2) scale(.1)" font-size="43.5" text-anchor="start">0</text>
<text transform="translate(407.38 105.88) scale(.1)" font-size="43.5" text-anchor="end">50</text>
<text transform="translate(502.82 105.98) scale(.1)" font-size="43.5" text-anchor="start">50</text>
<text transform="translate(392.5 99.65) scale(.1)" font-size="43.5" text-anchor="end">100</text>
<text transform="translate(517.7 99.75) scale(.1)" font-size="43.5" text-anchor="start">100</text>
<text transform="translate(392.9 94.75) scale(.1)" font-size="43.5" text-anchor="end">600</text>
<text transform="translate(392.9 82.51) scale(.1)" font-size="43.5" text-anchor="end">800</text>
<text transform="translate(392.9 70.27) scale(.1)" font-size="43.5" text-anchor="end">1000</text>
<text transform="translate(392.9 58.03) scale(.1)" font-size="43.5" text-anchor="end">1200</text>
<text transform="translate(392.9 45.79) scale(.1)" font-size="43.5" text-anchor="end">1400</text>
<text transform="translate(392.9 33.55) scale(.1)" font-size="43.5" text-anchor="end">1600</text>
<text transform="translate(410.95 124.6) scale(.1)" font-size="48" text-anchor="middle">Y-coordinate</text>
<text transform="translate(499.15 124.6) scale(.1)" font-size="48" text-anchor="middle">X-coordinate</text>
<text transform="translate(377.25 63.25) rotate(-90) scale(.1)" font-size="48" text-anchor="middle">Function Value</text>
<text transform="translate(455 6.3) scale(.1)" font-size="47.5" text-anchor="middle" font-weight="bold" fill="#111">2D Visualization of Benchmark Function F3</text>
<rect x="526.75" y="8.25" width="6.25" height="110.5" fill="url(#pg)" stroke="#777" stroke-width=".25"/>
<text transform="translate(535.2 108.17) scale(.1)" font-size="41" text-anchor="start">700</text>
<text transform="translate(535.2 95.09) scale(.1)" font-size="41" text-anchor="start">800</text>
<text transform="translate(535.2 82.02) scale(.1)" font-size="41" text-anchor="start">900</text>
<text transform="translate(535.2 68.94) scale(.1)" font-size="41" text-anchor="start">1000</text>
<text transform="translate(535.2 55.86) scale(.1)" font-size="41" text-anchor="start">1100</text>
<text transform="translate(535.2 42.78) scale(.1)" font-size="41" text-anchor="start">1200</text>
<text transform="translate(535.2 29.71) scale(.1)" font-size="41" text-anchor="start">1300</text>
<text transform="translate(535.2 16.63) scale(.1)" font-size="41" text-anchor="start">1400</text>
<path d="M526.75 106.72l1 0M533 106.72l-1 0M526.75 93.64l1 0M533 93.64l-1 0M526.75 80.57l1 0M533 80.57l-1 0M526.75 67.49l1 0M533 67.49l-1 0M526.75 54.41l1 0M533 54.41l-1 0M526.75 41.33l1 0M533 41.33l-1 0M526.75 28.26l1 0M533 28.26l-1 0M526.75 15.18l1 0M533 15.18l-1 0" stroke="#4d4d4d" stroke-width=".3" fill="none"/>
</g>
<g>
<path d="M79.75 260.2L20 235.3M79.75 260.2L139.5 235.3M20 235.3L20 174.1M139.5 235.3L139.5 174.1M94.69 253.97L34.94 229.07M64.81 253.97L124.56 229.07M34.94 229.07L34.94 167.88M124.56 229.07L124.56 167.88M109.62 247.75L49.88 222.85M49.88 247.75L109.62 222.85M49.88 222.85L49.88 161.65M109.62 222.85L109.62 161.65M124.56 241.52L64.81 216.62M34.94 241.52L94.69 216.62M64.81 216.62L64.81 155.43M94.69 216.62L94.69 155.43M139.5 235.3L79.75 210.4M20 235.3L79.75 210.4M79.75 210.4L79.75 149.2M79.75 210.4L79.75 149.2M20 235.3L79.75 210.4M79.75 210.4L139.5 235.3M20 214.9L79.75 190M79.75 190L139.5 214.9M20 194.5L79.75 169.6M79.75 169.6L139.5 194.5M20 174.1L79.75 149.2M79.75 149.2L139.5 174.1" stroke="#e2e2e2" stroke-width=".3" fill="none"/>
<g transform="scale(.1)" stroke-width="5" stroke-linejoin="round">
<path class="c30" stroke-width="0" fill-rule="nonzero" d="M798 2502L807 2500L817 2474L827 2435L837 2400L847 2382L857 2387L867 2408L877 2429L887 2436L897 2423L907 2393L917 2362L927 2346L937 2352L947 2380L957 2415L967 2442L977 2447L987 2430L997 2401L1007 2376L1017 2367L1027 2380L1036 2404L1046 2424L1056 2427L1066 2406L1076 2369L1086 2329L1096 2303L1106 2300L1116 2318L1126 2343L1136 2360L1146 2358L1156 2336L1166 2307L1176 2285L1186 2284L1196 2305L1206 2339L1216 2369L1226 2380L1236 2367L1246 2336L1256 2303L1266 2283L1276 2283L1285 2300L1295 2320L1305 2328L1315 2315L1325 2282L1335 2241L1345 2210L1355 2200L1365 2214L1375 2242L1385 2267L1395 2276L1385 2285L1375 2292L1365 2287L1355 2265L1345 2230L1335 2192L1325 2161L1315 2145L1305 2142L1295 2146L1285 2147L1276 2138L1266 2119L1256 2096L1246 2079L1236 2076L1226 2088L1216 2110L1206 2130L1196 2140L1186 2133L1176 2114L1166 2091L1156 2072L1146 2065L1136 2066L1126 2068L1116 2063L1106 2043L1096 2010L1086 1971L1076 1937L1066 1917L1056 1913L1046 1921L1036 1929L1027 1931L1017 1921L1007 1903L997 1886L987 1879L977 1886L967 1903L957 1923L947 1932L937 1926L927 1905L917 1874L907 1846L897 1827L887 1819L877 1818L867 1813L857 1798L847 1770L837 1734L827 1700L817 1679L807 1675L798 1685L788 1704L778 1733L768 1756L758 1761L748 1746L738 1721L728 1700L718 1698L708 1721L698 1760L688 1800L678 1825L668 1827L658 1810L648 1788L638 1775L628 1782L618 1807L608 1838L598 1860L588 1860L578 1837L568 1803L558 1773L549 1762L539 1775L529 1804L519 1834L509 1850L499 1846L489 1826L479 1804L469 1796L459 1810L449 1844L439 1885L429 1915L419 1924L409 1909L399 1882L389 1859L379 1853L369 1867L359 1894L349 1918L339 1925L329 1909L319 1877L310 1844L300 1827L290 1834L280 1861L270 1896L260 1922L250 1928L240 1915L230 1893L220 1878L210 1883L200 1909L210 1920L220 1919L230 1909L240 1899L250 1899L260 1915L270 1947L280 1985L290 2021L300 2044L310 2053L319 2053L329 2054L339 2063L349 2082L359 2109L369 2132L379 2143L389 2138L399 2120L409 2099L419 2085L429 2085L439 2099L449 2121L459 2139L469 2148L479 2147L489 2141L499 2142L509 2156L519 2185L529 2223L539 2260L549 2287L558 2297L568 2295L578 2287L588 2285L598 2294L608 2311L618 2331L628 2342L638 2339L648 2323L658 2301L668 2284L678 2281L688 2295L698 2320L708 2346L718 2365L728 2372L738 2372L748 2372L758 2382L768 2406L778 2440L788 2476z"/>
<path class="c40" d="M285 2007l11 24 11 32-11-26zM339 2054l10-37 11-1-11 30zM456 2050l11-29 10-17-10 32zM328 2045l11-41 10 13-10 37zM456 2044l11-27 10-16-10 20zM456 2024l11-23 10 7-10 9zM445 2018l11-36 11 19-11 23zM467 2001l10-1 11 22-11-14zM403 1999l10-21 11 6-11 34zM392 2002l11-19 10-22-10 25zM552 1974l11-19 10 33-10 8zM531 1995l10-42 11 21-11 39zM392 1999l11-33 10-12-10 29zM509 1986l11-30 11-10-11 38zM499 1970l10-37 11 7-11 26zM488 1959l11-44 10 18-10 37zM456 1939l11-16 10 16-10 29zM605 1926l11-27 11 26-11 15zM573 1932l11-39 11 14-11 44zM563 1922l10-29 11 0-11 39zM552 1927l11-27 10-22-10 29zM552 1914l11-37 10-5-10 28zM531 1891l10-40 11 18-11 41zM669 1877l11-20 11 3-11 6zM659 1874l10-33 11 16-11 20zM616 1858l11-27 10 10-10 38zM744 1847l11-42 10 22-10 38zM712 1840l11-25 10-19-10 34zM862 1811l10-21 11 33-11 11zM872 1790l11 5 11 40-11-12zM830 1826l10-38 11 4-11 42zM798 1794l10-45 11 19-11 40zM765 1776l11-15 11 14-11 28z"/>
<path class="c21" d="M765 2368l11-43 11 18-11 42zM733 2347l11-38 11 0-11 28zM723 2339l10-42 11 12-11 38zM851 2313l11-19 10 9-10 4zM862 2294l10 5 11 23-11-19zM840 2306l11-32 11 20-11 19zM798 2297l10-25 11 3-11 37zM787 2302l11-23 10-24-10 28zM926 2281l10-40 11 20-11 36zM787 2296l11-34 10-12-10 29zM894 2262l10-35 11 8-11 23zM883 2252l11-43 10 18-10 35zM723 2238l10-29 11 1-11 29zM968 2224l11-41 11 13-11 44zM840 2234l11-29 11-20-11 29zM958 2217l10-32 11-2-11 41zM947 2209l11-35 10-5-10 26zM926 2191l10-43 11 17-11 42zM1054 2166l10-28 11 17-11 15zM1011 2158l11-31 10 8-10 41zM1299 2137l11-6 10 27-10 0zM1000 2151l11-17 11-7-11 31zM1160 2119l11-11 11 35-11-2zM1171 2085l11 26 10 32-10-23zM1107 2137l11-28 10-20-10 34zM968 2117l11-33 11 18-11 39zM1235 2120l11-41 10 19-10 38zM1214 2122l10-31 11-15-11 38zM1064 2098l11-27 11 16-11 36zM1139 2049l11 17 10 13-10-3zM1043 2086l11-30 10-12-10 29zM1022 2058l10-25 11 18-11 30z"/>
<path class="c19" d="M840 2347l11-34 11-6-11 24zM744 2377l11-23 10 14-10 33zM840 2359l11-23 11-15-11 32zM701 2342l11-22 11 19-11 28zM819 2332l11-42 10 16-10 41zM947 2311l11-26 10 15-10 12zM958 2285l10-3 11 30-11-12zM904 2303l11-32 11 10-11 41zM894 2296l10-19 11-6-11 32zM776 2296l11-37 11 3-11 34zM1032 2286l11-39 11 24-11 32zM1000 2284l11-29 11-18-11 34zM990 2256l10-40 11 14-11 30zM947 2232l11-15 10 7-10 28zM830 2242l10-30 11-7-11 29zM819 2230l11-28 10 10-10 30zM1075 2227l11-43 10 17-10 43zM1054 2216l10-27 11-11-11 37zM904 2186l11-16 11 21-11 25zM1000 2167l11-9 11 18-11 22zM1160 2187l11-26 11-14-11 18zM1288 2169l11-32 11 21-11 27zM1310 2131l10 20 11 27-11-20zM1160 2164l11-23 11 12-11 8zM1171 2141l11 2 10 26-10-16zM1118 2160l10-37 11 13-11 44zM990 2168l10-22 11-20-11 25zM1246 2136l10-38 11 24-11 29zM1096 2156l11-23 11-24-11 28zM1096 2146l11-36 11-9-11 32zM1075 2123l11-36 10 16-10 40zM1203 2140l11-26 10-23-10 31z"/>
<path class="c38" d="M307 2052l10 26-10-15-11-26zM392 2109l11-35 10 5-10 24zM381 2100l11-42 11 16-11 35zM349 2082l11-18 11 17-11 30zM456 2067l11-31 10 2-10 40zM296 2031l11 9 10 28-10-5zM307 2040l10-16 11 21-11 23zM445 2059l11-35 11-7-11 27zM563 1996l10-8 11 29-11-7zM541 2013l11-39 11 22-11 30zM499 2000l10-14 11-2-11 28zM499 2000l10-22 11-22-11 30zM627 1990l10-40 11 14-11 41zM499 1998l10-32 11-17-11 29zM616 1986l11-34 10-2-10 40zM467 1968l10-29 11 20-11 34zM584 1951l11-44 10 19-10 42zM552 1931l11-9 10 10-10 23zM669 1926l11-35 11 7-11 42zM659 1923l10-23 11-9-11 35zM765 1900l11-29 11-14-11 21zM915 1844l11 15 10 28-10-17zM765 1875l11-27 11 11-11 12zM776 1848l11-4 11 26-11-11zM723 1866l10-34 11 15-11 42zM872 1834l11-11 11 31-11-3zM851 1852l11-41 10 23-10 33zM701 1849l11-35 11-8-11 31zM883 1795l11 23 10 38-10-21zM680 1821l11-32 10 18-10 37zM776 1803l11-28 11 19-11 36z"/>
<path class="c32" d="M563 2148l10 3 11 21-11-17zM509 2166l11-35 11 16-11 41zM627 2141l10-40 11 20-11 38zM467 2130l10-33 11 15-11 36zM595 2119l10-36 11 7-11 25zM584 2109l11-43 10 17-10 36zM552 2094l11-19 10 15-10 31zM669 2083l11-40 11 14-11 44zM648 2078l11-20 10-15-10 31zM648 2079l11-27 10-23-10 29zM648 2066l11-36 10-5-10 27zM627 2046l10-41 11 17-11 42zM755 2028l10-31 11 16-11 17zM712 2015l11-29 10 10-10 39zM862 1983l10-14 11 34-11 1zM840 2002l11-42 11 23-11 36zM808 1996l11-26 11-19-11 34zM958 1966l10-18 11 34-11 8zM926 1980l10-37 11 4-11 42zM915 1979l11-29 10-20-10 26zM765 1954l11-24 11 18-11 34zM1054 1949l10-22 11 30-11 14zM1064 1927l11 6 11 35-11-11zM915 1965l11-28 10-3-10 16zM744 1940l11-28 10-12-10 28zM733 1934l11-26 11 4-11 28zM979 1920l11-40 10 11-10 45zM851 1934l11-29 10-18-10 29zM968 1913l11-30 11-3-11 40zM819 1890l11-17 10 22-10 25z"/>
<path class="c27" d="M595 2290l10-25 11 4-11 37zM552 2248l11-27 10 18-10 35zM509 2212l11 22-11-4-10-25zM669 2233l11-43 11 19-11 42zM509 2211l11-23 11 15-11 27zM637 2210l11-38 11 0-11 30zM627 2201l10-42 11 13-11 38zM755 2195l10-25 11-16-11 18zM755 2176l10-22 11 9-11 7zM765 2154l11 2 11 23-11-16zM712 2172l11-36 10 15-10 42zM691 2161l10-21 11-24-11 27zM691 2155l10-34 11-11-11 30zM669 2136l11-35 11 16-11 37zM798 2121l10-37 11 9-11 25zM755 2097l10-20 11 14-11 32zM851 2079l11-20 10-16-10 30zM1000 2058l11-29 11 29-11 19zM851 2081l11-29 10-23-10 30zM840 2061l11-42 11 9-11 37zM808 2035l11-13 11 22-11 23zM1096 2042l11-32 11 27-11 25zM1118 2003l10 19 11 34-11-19zM926 2028l10-39 11 17-11 43zM787 2024l11-18 10-13-10 21zM1075 1993l11-1 10 26-10-13zM1054 2008l10-37 11 22-11 25zM1011 1999l11-23 10 1-10 35zM894 2003l10-37 11-1-11 33zM883 1989l11-37 10 14-10 37z"/>
<path class="c25" d="M744 2223l11-28 10-23-10 29zM605 2306l11-37 11 16-11 42zM573 2290l11-37 11 2-11 33zM541 2250l11-2 11 26-11 10zM691 2288l10-24 11-22-11 31zM563 2274l10-35 11 14-11 37zM691 2260l10-34 11 6-11 23zM648 2239l11-21 10 15-10 32zM765 2226l11-40 11 14-11 44zM744 2222l11-21 10-15-10 32zM605 2201l11-20 11 20-11 26zM744 2210l11-34 10-6-10 25zM723 2193l10-42 11 17-11 41zM851 2173l11-28 10 15-10 15zM808 2163l11-30 11 9-11 40zM680 2173l11-18 10-15-10 21zM798 2154l10-17 11-4-11 30zM958 2131l10-12 11 34-11-1zM936 2148l11-40 11 23-11 34zM904 2144l11-27 11-19-11 34zM765 2123l11-32 11 19-11 37zM894 2114l10-41 11 15-11 32zM1011 2077l11-19 10 25-10 4zM979 2084l11-43 10 17-10 44zM840 2094l11-29 11-13-11 29zM1107 2062l11-25 10 28-10 12zM1118 2037l10 0 11 39-11-11zM1064 2065l11-31 11-4-11 41zM947 2061l11-40 10 3-10 33zM936 2049l11-43 11 15-11 40zM1032 2033l11-43 11 18-11 43z"/>
<path class="c31" d="M595 2215l10-23 11 26-11 9zM776 1989l11 14 11 39-11-23zM509 2176l11 34-11 2-10-38zM552 2210l11-31 10 2-10 40zM541 2213l11-20 11-14-11 31zM541 2203l11-34 11-7-11 25zM637 2159l11-38 11 23-11 28zM477 2148l11-36 11 3-11 33zM595 2148l10-23 11-22-11 30zM680 2101l11-44 10 20-10 40zM531 2091l10-26 11-7-11 27zM520 2079l11-24 10 10-10 26zM798 2066l10-29 11 28-11 19zM637 2064l11-42 11 8-11 36zM605 2036l11-12 11 22-11 23zM723 2035l10-39 11 17-11 43zM851 2019l11-36 10 21-10 24zM691 2021l10-19 11-20-11 23zM691 2008l10-36 11-2-11 32zM680 1996l11-36 10 12-10 36zM936 1989l11-42 11 19-11 40zM915 1986l11-30 10-13-10 37zM904 1966l11-39 11 10-11 28zM1022 1962l10-28 11-17-11 25zM894 1952l10-44 11 19-11 39zM862 1938l10-18 11 14-11 30zM936 1908l11 19 11 41-11-24zM1022 1953l10-22 11-7-11 10zM990 1936l10-45 11 20-11 43zM958 1919l10-18 11-18-11 30z"/>
<path class="c36" d="M595 2066l10-30 11 29-11 18zM509 2084l11-11 11 15-11-4zM488 2015l11-17 10-20-10 22zM520 2131l11-40 10 16-10 40zM509 2126l11-34 11-1-11 40zM360 2111l11-30 10 19-10 34zM477 2097l11-44 11 19-11 40zM573 1988l11 15 11 38-11-24zM659 1987l10-14 11 33-11 0zM637 2005l11-41 11 23-11 35zM488 2005l11-35 10-4-10 32zM477 1993l11-34 11 11-11 35zM723 1986l10-37 11 5-11 42zM712 1982l11-28 10-21-10 27zM563 1955l10-23 11 19-11 33zM712 1970l11-28 10-4-10 16zM531 1935l10-25 11 4-11 26zM808 1923l11-28 11 28-11 15zM648 1937l11-27 10-19-10 28zM765 1921l11-29 11-2-11 40zM616 1895l11-16 10 23-10 24zM915 1876l11-6 10 38-10-3zM733 1889l11-42 11 18-11 43zM787 1844l11 17 10 35-10-26zM872 1871l11-20 11 5-11 6zM862 1867l10-33 11 17-11 20zM883 1823l11 12 10 40-10-21zM819 1853l11-27 10 8-10 39zM691 1865l10-16 11-12-11 19zM798 1845l10-37 11 0-11 34zM787 1830l11-36 10 14-10 37z"/>
<path class="c33" d="M1032 1942l11-25 11-5-11 25zM680 1983l11 22 10 42-10-23zM488 2143l11-9 10-8-10 23zM477 2128l11 15 11 6-11 0zM552 2169l11-21 10 7-10 7zM541 2163l11-33 11 18-11 21zM499 2149l10-23 11 5-11 35zM456 2120l11 33-11-7-11-32zM616 2131l11-38 10 8-10 40zM488 2148l11-33 10-13-10 29zM605 2133l11-30 11-10-11 38zM541 2085l11-27 11-20-11 27zM659 2074l10-31 11 0-11 40zM744 2013l11-39 10 23-10 31zM765 1997l11-8 11 30-11-6zM701 2005l11-15 11-4-11 29zM584 2004l11-36 10 5-10 34zM701 2005l11-23 11-22-11 30zM830 1987l10-40 11 13-11 42zM701 2002l11-32 11-16-11 28zM669 1970l11-30 11 20-11 36zM808 1971l11-33 11 2-11 22zM798 1965l10-42 11 15-11 33zM755 1931l10-10 11 9-11 24zM1043 1937l11-25 10 15-10 22zM915 1927l11-22 10 24-10 8zM926 1905l10 3 11 36-11-15zM883 1934l11-43 10 17-10 44zM723 1910l10-21 11 19-11 26zM851 1908l11-41 10 4-10 34zM840 1895l11-43 11 15-11 41z"/>
<path class="c35" d="M509 2157l11 31-11-12-10-34zM499 2115l10-31 11 0-11 18zM499 2131l10-29 11-20-11 26zM520 2047l11 20 10 42-10-24zM381 2143l11-34 11-6-11 31zM499 2134l10-26 11-16-11 34zM488 2112l11-40 10 12-10 31zM445 2078l11-11 11 11-11 24zM413 2062l11 25-11-6-10-26zM563 2075l10-36 11 9-11 42zM435 2085l10-26 11-15-11 26zM552 2071l11-25 10-7-10 36zM520 2033l11-38 10 18-10 42zM648 2022l11-35 10 19-10 24zM605 2007l11-21 11 4-11 34zM755 1974l10-19 11 34-11 8zM733 1996l11-42 11 20-11 39zM712 1990l11-30 10-11-10 37zM701 1972l11-38 11 8-11 28zM691 1960l10-44 11 18-11 38zM659 1943l10-17 11 14-11 30zM776 1930l11-40 11 13-11 45zM755 1926l10-18 11-16-11 29zM755 1928l10-28 11-22-11 30zM755 1912l10-37 11-4-11 29zM926 1870l10 17 11 40-11-19zM744 1908l11-43 10 10-10 37zM712 1877l11-11 10 23-10 21zM830 1873l10-39 11 18-11 43zM894 1818l10 21 11 29-11-12zM798 1860l10-18 11-18-11 22z"/>
<path class="c37" d="M787 1819l11 22 10 41-10-21zM669 1946l11 24 11 35-11-22zM723 1912l10 3 11 36-11-16zM701 1997l11 15 11 22-11-17zM691 1843l10 22 11 40-11-23zM872 1887l11-25 11-16-11 19zM872 1896l11-31 11-14-11 34zM563 2027l10-17 11 2-11 2zM445 2070l11-26 11-23-11 29zM499 2072l10-25 11 26-11 11zM467 2078l10-40 11 15-11 44zM328 2079l11-25 10-8-10 26zM317 2068l11-23 11 9-11 25zM445 2068l11-18 11-14-11 31zM435 2058l10-40 11 6-11 35zM424 2041l11-40 10 17-10 40zM552 2026l11-30 10 14-10 17zM509 2012l11-28 11 11-11 38zM605 1995l11-26 11-17-11 34zM605 1992l11-30 11-20-11 27zM605 1973l11-33 11 1-11 21zM595 1968l10-42 11 14-11 33zM712 1934l11-22 10 23-10 7zM680 1940l11-42 10 18-10 44zM541 1940l11-26 11-14-11 27zM520 1911l11-20 10 19-10 25zM648 1914l11-40 10 3-10 33zM637 1902l11-43 11 15-11 40zM808 1844l11-13 11-5-11 27zM691 1844l10-37 11 7-11 35zM808 1846l11-22 11-23-11 30zM808 1842l11-34 11-14-11 30z"/>
<path class="c34" d="M595 2012l10-20 11-23-11 26zM862 1916l10-29 11-22-11 31zM744 1921l11 5 10-5-10 10zM435 2079l10-9-10 15-11 2zM733 1915l11 20 11 41-11-25zM680 1970l11 26 10 25-10-16zM531 2056l10 19 11 19-11-6zM691 2057l10-33 11 28-11 25zM862 1905l10-34 11-9-11 25zM595 2165l10-6 11 36-11-3zM552 2130l11-12 10 33-10-3zM531 2147l10-40 11 23-11 33zM371 2134l10-34 11 9-11 34zM445 2114l11 32-11-24-10-28zM456 2102l11-24 10 19-10 33zM573 2090l11-42 11 18-11 43zM413 2062l11-21 11 17-11 25zM541 2065l11-39 11 1-11 31zM531 2055l10-42 11 13-11 39zM659 2052l10-27 11-16-11 20zM659 2030l10-24 11 9-11 10zM669 2006l11 0 11 23-11-14zM616 2024l11-34 10 15-10 41zM595 2007l10-34 11-11-11 30zM573 1984l11-33 11 17-11 36zM819 1985l11-34 10-4-10 40zM787 1948l11-45 10 20-10 42zM637 1941l11-27 11-4-11 27zM1054 1912l10 3 11 18-11-6zM627 1926l10-24 11 12-11 27zM872 1920l11-35 11 6-11 43zM862 1920l10-24 11-11-11 35zM808 1857l11-4 11 20-11 17zM894 1835l10 21 11 41-11-22z"/>
<path class="c41" d="M563 1931l10 25 11 29-11-23zM680 1802l11 23 10 40-10-22zM520 1912l11 3 10 34-10-16zM392 2058l11-30 10 28-10 18zM776 1783l11 24 11 34-11-22zM467 1968l10 10 11 42-11-20zM360 2064l11-35 10 10-10 42zM349 2059l11-24 11-6-11 35zM499 2020l10-8 11 35-11 0zM317 2024l11-38 11 18-11 41zM296 2006l11-5 10 23-10 16zM435 2001l10-42 11 23-11 36zM275 1990l10 11-10 4-11-15zM264 1990l11 15-11-14-11-18zM520 1984l11-38 10 7-10 42zM360 1949l11-23 10 20-10 32zM509 1966l11-26 11-6-11 15zM477 1939l11-42 11 18-11 44zM445 1932l11-26 11-20-11 28zM584 1847l11 17 10 34-10-27zM669 1841l11-10 11 30-11-4zM648 1859l11-41 10 23-10 33zM605 1847l11-12 11-4-11 27zM605 1849l11-22 11-22-11 30zM765 1827l11-16 11 33-11 4zM605 1846l11-33 11-15-11 29zM712 1814l11-35 10 3-10 24zM872 1768l11 24 11 26-11-23zM701 1807l11-43 11 15-11 35zM830 1778l10-10 11 13-11-5zM744 1746l11 22 10 38-10-17zM787 1775l11-43 10 17-10 45zM755 1759l10 0 11 2-11 15z"/>
<path class="c30" d="M947 1915l11 4 10-6-10 11zM798 2005l10-9 11-11-11 22zM563 2221l10-40 11 15-11 43zM531 2203l10-40 11 6-11 34zM520 2188l11-41 10 16-10 40zM648 2172l11-28 10 14-10 14zM659 2144l10-5 11 28-11-9zM477 2148l11 3-11 13-10-11zM605 2160l11-29 11 10-11 40zM595 2150l10-17 11-2-11 29zM701 2143l11-27 11-17-11 34zM563 2121l10-31 11 19-11 36zM691 2117l10-40 11 13-11 31zM648 2086l11-12 10 9-10 26zM765 2077l11-36 11 7-11 43zM755 2075l10-25 11-9-11 36zM862 2052l10-28 11-14-11 19zM862 2028l10-24 11 10-11 10zM872 2004l11-1 11 25-11-14zM808 2007l11-22 11 2-11 35zM1096 1996l11-10 11 17-11 7zM798 2014l10-21 11-23-11 26zM798 2006l10-35 11-9-11 31zM776 1982l11-34 11 17-11 37zM1032 1977l11-40 11 12-11 41zM1022 1976l10-34 11-5-11 40zM947 1911l11 13 10 21-10 0zM958 1924l10-11 11 7-11 25zM840 1937l11-29 11-3-11 29zM830 1920l10-25 11 13-11 29z"/>
<path class="c17" d="M1150 2217l10-30 11-22-11 30zM808 2451l11-41 11 17-11 42zM776 2439l11-21 11-23-11 25zM776 2429l11-36 11-6-11 31zM755 2401l10-33 11 17-11 37zM840 2370l11-17 11 8-11 30zM712 2367l11-28 10 8-10 29zM968 2369l11-43 11 18-11 41zM947 2356l11-28 10-9-10 37zM798 2329l10-17 11 20-11 27zM915 2322l11-41 10 16-10 44zM968 2282l11 18 11 38-11-26zM1043 2303l11-32 10 21-10 19zM883 2312l11-22 10-22-10 26zM1000 2297l11-26 11 1-11 38zM883 2299l11-37 10-4-10 32zM872 2290l11-38 11 10-11 37zM958 2252l10-28 11 16-11 37zM1096 2256l11-36 11 10-11 23zM1086 2244l10-43 11 19-11 36zM926 2237l10-30 11 2-11 30zM915 2216l11-25 10 16-10 30zM1043 2231l11-30 10-19-10 29zM1150 2217l10-22 11-19-11 33zM1299 2185l11-27 10 30-10 17zM1267 2202l11-37 10 4-10 43zM1150 2200l10-36 11-3-11 26zM1139 2197l11-44 10 11-10 36zM1128 2180l11-44 11 17-11 44zM1224 2161l11-41 11 16-11 45z"/>
<path class="c22" d="M904 2277l11-31 11-12-11 37zM904 2227l11-16 11 23-11 1zM947 2261l11-13 10 34-10 3zM712 2328l11 27-11 4-11-36zM755 2354l10-38 11 9-11 43zM744 2351l11-27 10-8-10 38zM691 2322l10 37-10-13-11-31zM712 2320l11-40 10 17-10 42zM659 2273l10 28-10 2-11-32zM851 2274l11-8 10 33-10-5zM680 2296l11-36 10-5-10 31zM669 2288l11-37 11 9-11 36zM755 2254l10-28 11 18-11 36zM872 2234l11-43 11 18-11 43zM733 2239l11-29 11-15-11 28zM712 2218l11-25 10 16-10 29zM840 2212l11-39 11 2-11 30zM830 2202l10-43 11 14-11 39zM915 2170l11-36 10 14-10 43zM1064 2138l11-6 11 31-11-8zM1043 2152l11-38 10 24-10 28zM894 2162l10-22 11-23-11 27zM883 2153l11-39 10 6-10 35zM1000 2151l11-25 11-23-11 31zM872 2134l11-36 11 16-11 39zM1139 2136l11-40 10 23-10 34zM1224 2114l11-38 11 3-11 41zM1107 2110l11-33 10 5-10 19zM1096 2103l11-41 11 15-11 33zM1128 2065l11 11 11 32-11-23zM1054 2078l10-13 11 6-11 27zM936 2091l11-30 11-4-11 29zM926 2077l10-28 11 12-11 30z"/>
<path class="c24" d="M936 2059l11 18 11 15-11-4zM947 2077l11-5 10 0-10 20zM1064 2079l11 27 11 26-11-24zM733 2221l11 1 11-4-11 14zM1064 2098l11 10 11 40-11-16zM627 2341l10-40 11 6-11 33zM616 2327l11-42 10 16-10 40zM744 2309l11-25 10 14-10 11zM755 2284l10-3 11 29-11-12zM733 2297l11-36 11 23-11 25zM691 2291l10-18 11-4-11 32zM776 2244l11-44 11 19-11 40zM627 2238l10-28 11-8-11 27zM616 2227l11-26 10 9-10 28zM733 2209l11-41 11 8-11 34zM701 2187l11-15 11 21-11 25zM819 2182l11-40 10 17-10 43zM787 2158l11-37 10-3-10 32zM776 2147l11-37 11 11-11 37zM1054 2114l10-16 11 34-11 6zM862 2107l10-26 11 17-11 36zM1160 2077l11 8 11 35-11-12zM990 2102l10-44 11 19-11 38zM830 2090l10-29 11 4-11 29zM819 2067l11-23 10 17-10 29zM947 2086l11-29 10-19-10 29zM1075 2071l11-41 10 12-10 45zM1054 2072l10-20 11-18-11 31zM1128 2022l11 27 11 27-11-20zM915 2048l11-20 10 21-10 28zM1054 2056l10-38 11-3-11 29zM1043 2051l11-43 10 10-10 38zM990 2017l10-19 11-13-11 22z"/>
<path class="c26" d="M990 1979l10 20 11 27-11-9zM926 2048l10 20 11 42-11-23zM830 2071l10 21 11 40-11-26zM840 2076l11 3 11-6-11 13zM712 2210l11 8 10 34-10-21zM1064 2044l11-29 11-13-11 20zM1064 2052l11-30 11-20-11 32zM584 2292l11-22 10-23-10 27zM723 2280l10-40 11 21-11 36zM584 2288l11-33 10-13-10 28zM531 2232l10 18 11 34-11-15zM680 2251l11-42 10 17-10 34zM520 2230l11-27 10 0-10 27zM637 2229l11-27 11-21-11 28zM755 2218l10-32 11 0-11 40zM862 2145l10-5 11 29-11-9zM840 2159l11-38 11 24-11 28zM680 2154l11-37 10 4-10 34zM798 2154l10-25 11-22-11 30zM883 2098l11-44 10 19-10 41zM851 2086l11-13 10 8-10 26zM733 2095l11-28 11-5-11 28zM723 2082l10-26 11 11-11 28zM1150 2061l10 5 11 19-11-8zM968 2072l11-36 11 5-11 43zM958 2072l10-26 11-10-11 36zM904 2016l11-7 11 19-11 20zM1064 2018l11-25 11 12-11 10zM1022 2012l10-35 11 13-11 43zM894 2018l10-20 11-19-11 24zM1000 2007l11-22 11-23-11 27zM1000 1998l11-37 11-8-11 32zM990 1992l10-38 11 7-11 37zM979 1971l11-35 10 18-10 38z"/>
<path class="c28" d="M1075 2034l11-32 10-6-10 34zM862 2085l10 27 11 27-11-24zM520 2210l11 15-11 9-11-22zM979 1982l11 14 10 39-10-22zM915 2048l11 0 10 39-10-11zM765 2123l11 12 11 41-11-20zM616 2195l11 21 10 41-10-25zM1086 2030l10-34 11 14-11 32zM755 2201l10-29 11-18-11 32zM627 2285l10-39 11 23-11 32zM584 2253l11-38 10 12-10 28zM531 2230l10-27 11-16-11 27zM499 2205l10 25-10-23-11-24zM659 2218l10-36 11 8-11 43zM648 2215l11-26 10-7-10 36zM616 2181l11-40 10 18-10 42zM744 2168l11-34 10 20-10 22zM701 2156l11-23 11 3-11 36zM851 2121l11-16 10 35-10 5zM808 2137l11-30 11-11-11 37zM659 2109l10-26 11 18-11 35zM808 2118l11-25 11-5-11 13zM787 2110l11-44 10 18-10 37zM627 2090l10-26 11 2-11 28zM904 2073l11-25 11 28-11 12zM872 2081l11-40 11 13-11 44zM744 2090l11-28 10-20-10 28zM862 2073l10-30 11-2-11 40zM712 2053l11-18 10 21-10 26zM851 2065l11-37 10-4-10 28zM830 2044l10-42 11 17-11 42zM1107 2010l11-7 10 34-10 0zM958 2021l10-31 11 17-11 17zM915 2009l11-29 10 9-10 39zM1075 1957l11 11 10 42-10-18zM968 1945l11-25 11 16-11 35z"/>
<path class="c29" d="M979 1955l11 24 10 38-10-21zM733 2062l11 18 11 17-11-5zM808 2129l11-28 11-20-11 26zM616 2177l11 28 10 31-10-20zM531 2211l10 2-10 12-11-15zM616 2269l11-39 10 16-10 39zM990 2041l10-34 11 22-11 29zM883 1979l11 23 10 40-10-21zM819 2133l11-37 10 6-10 40zM819 2065l11 6 10 35-10-17zM765 2098l11 25 11 35-11-23zM701 2181l11-2 11 39-11-8zM1011 1985l11-32 10-19-10 28zM669 2139l11 16 11 38-11-26zM573 2239l11-43 11 19-11 38zM541 2224l11-14 11 11-11 27zM467 2153l10 11-10-3-11-15zM755 2134l10-11 11 33-11-2zM584 2155l11-36 10-4-10 31zM573 2145l11-36 11 10-11 36zM808 2084l11-19 11 24-11 4zM776 2091l11-43 11 18-11 44zM637 2094l11-28 11-14-11 27zM616 2069l11-23 10 18-10 26zM744 2067l11-39 10 2-10 32zM733 2056l11-43 11 15-11 39zM819 2022l11-35 10 15-10 42zM1107 1986l11 17 10 19-10-19zM968 1990l11-8 11 31-11-6zM947 2006l11-40 10 24-10 31zM904 2002l11-16 11-6-11 29zM787 2002l11-37 10 6-10 35zM904 2003l11-24 11-23-11 30zM1064 1971l11-14 11 35-11 1zM1043 1990l11-41 10 22-10 37zM904 1998l11-33 11-15-11 29zM1011 1989l11-27 10-20-10 34zM872 1964l11-30 11 18-11 37zM1011 1961l11-34 10 4-10 22zM1000 1954l11-43 11 16-11 34z"/>
<path class="c23" d="M744 2344l11-28 10-22-10 30zM1118 2077l10-12 11 20-11-3zM1118 2123l10-34 11-5-11 39zM1128 2123l11-39 11 12-11 40zM1118 2101l10-19 11-7-11 7zM669 2274l11 19-11 8-10-28zM915 2180l11 20 10 40-10-21zM787 2343l11-25 10 29-10 13zM744 2337l11-28 10-13-10 20zM573 2291l11 1-11 14-10-9zM701 2301l11-32 11 11-11 40zM563 2297l10 9-10-1-11-13zM541 2269l11 15 11 21-11-13zM552 2284l11-10 10 16-10 15zM830 2290l10-39 11 23-11 32zM659 2265l10-32 11 18-11 37zM787 2259l11-40 10 14-10 29zM744 2232l11-14 10 8-10 28zM862 2221l10-37 11 7-11 43zM851 2220l11-27 10-9-10 37zM958 2202l10-29 11-19-11 31zM958 2195l10-26 11-14-11 18zM958 2174l10-22 11 10-11 7zM968 2152l11 1 11 25-11-16zM947 2165l11-34 10 21-10 22zM787 2170l11-20 10-21-10 25zM904 2156l11-24 11 2-11 36zM894 2155l10-35 11-10-11 30zM1000 2115l11-38 11 10-11 26zM958 2092l10-20 11 12-11 33zM1086 2087l10-45 11 20-11 41zM1128 2037l11 19 11 42-11-22zM1054 2073l10-29 11-22-11 30zM1011 2026l11-14 10 21-10 25z"/>
<path class="c18" d="M872 2280l11 23 11 39-11-21zM947 2349l11-29 10-22-10 30zM798 2433l10-33 11 10-11 41zM787 2424l11-20 10-4-10 33zM840 2377l11 38-11-5-10-32zM872 2378l11-43 11 19-11 38zM701 2359l11 22-11-12-10-23zM723 2376l10-29 11-10-11 29zM958 2356l10-37 11 7-11 43zM830 2347l10-41 11 7-11 34zM947 2341l11-29 10-11-10 19zM776 2315l11-19 11-17-11 23zM1054 2271l10-9 11 34-11-4zM862 2267l10-33 11 18-11 38zM1128 2273l11-39 11 20-11 36zM1107 2273l11-32 10-12-10 37zM1107 2253l11-23 10-3-10 10zM936 2239l11-30 11-14-11 29zM1203 2204l11-22 10 29-10 9zM1171 2214l11-41 10 12-10 44zM1160 2209l11-33 11-3-11 41zM1043 2206l11-40 10 4-10 31zM1032 2196l11-44 11 14-11 40zM1310 2158l10 0 11 38-11-8zM1267 2156l11-15 10 6-10 0zM1256 2151l11-29 11 19-11 15zM1214 2145l10-31 11 6-11 41zM1203 2140l11-18 10-8-10 31zM1086 2143l10-40 11 7-11 36z"/>
<path class="c42" d="M744 1738l11 21 10 17-10-8zM830 1801l10-27 11-13-11 27zM595 1907l10-35 11 27-11 27zM616 1862l11 15 10 37-10-18zM403 2028l10-5 11 38-11-5zM499 1990l10 15 11 23-11-16zM712 1850l11 15 10 29-10-17zM467 1941l10 24 11 36-11-23zM285 1986l11 0-11 15-10-11zM456 1982l11-14 10 32-10 1zM285 1994l11-34 11-5-11 31zM275 1983l10-33 11 10-11 34zM403 1986l10-25 11-16-11 33zM403 1983l10-29 11-20-11 27zM392 1963l11-41 10 12-10 32zM509 1933l11-21 11 21-11 7zM445 1912l11-39 11 1-11 32zM435 1900l10-41 11 14-11 39zM488 1842l11 23 10 40-10-24zM520 1867l11-32 10 16-10 40zM733 1832l11-40 11 13-11 42zM723 1830l10-34 11-4-11 40zM851 1792l11-26 10 24-10 21zM733 1762l11 6 11 31-11-19zM691 1789l10-44 11 19-11 43zM819 1768l11-24 10 24-10 10zM830 1744l10 0 11 37-11-13zM765 1759l11-22 11-10-11 34z"/>
<path class="c43" d="M840 1788l11-27 11 5-11 26zM723 1806l10-24 11-8-11 13zM723 1815l10-28 11-18-11 27zM499 1915l10-31 11 28-11 21zM285 1977l11 10 11 14-11 5zM755 1805l10-25 11 31-11 16zM573 1851l11-4 11 24-11-11zM520 1876l11 17 10 42-10-20zM765 1780l11 3 11 36-11-8zM349 2017l11-30 11 13-11 16zM307 2001l10-28 11 13-11 38zM424 1984l11-40 10 15-10 42zM413 1978l11-33 11-1-11 40zM264 1958l11-28 10 20-10 33zM403 1966l10-32 11-1-11 21zM381 1946l11-44 11 20-11 41zM349 1923l11-9 11 12-11 23zM467 1923l10-34 11 8-11 42zM456 1918l11-22 10-7-10 34zM552 1869l11-38 10 20-10 26zM488 1824l11 22 10 31-10-12zM509 1850l11-20 11 5-11 32zM637 1841l11-42 11 19-11 41zM616 1835l11-30 10-11-10 37zM862 1766l10 2 11 27-11-5zM723 1779l10-17 11 18-11 2zM733 1729l11 17 11 43-11-21zM776 1761l11-34 11 5-11 43z"/>
<path class="c20" d="M926 2200l10 23 11 34-11-17zM947 2224l11-29 10-22-10 29zM1160 2195l11-30 11-20-11 31zM787 2393l11-33 10 7-10 20zM776 2385l11-42 11 17-11 33zM862 2361l10-41 11 15-11 43zM733 2366l11-29 11-21-11 28zM851 2353l11-32 10-1-10 41zM808 2312l11-37 11 15-11 42zM669 2301l11 5-11 7-10-10zM936 2297l11-36 11 24-11 26zM765 2280l11-36 11 15-11 37zM851 2242l11-21 10 13-10 33zM979 2240l11-44 10 20-10 40zM947 2224l11-22 10-17-10 32zM808 2203l11-21 11 20-11 28zM1064 2215l11-37 11 6-11 43zM936 2207l11-42 11 9-11 35zM1022 2176l10-41 11 17-11 44zM883 2174l11-19 10-15-10 22zM1150 2153l10-34 11 22-11 23zM1171 2108l11 12 10 42-10-19zM1107 2148l11-25 10 0-10 37zM990 2153l10-38 11-2-11 33zM979 2141l11-39 10 13-10 38zM1139 2056l11 20 10 36-10-14zM1032 2081l11-30 11 5-11 30z"/>
<path class="c16" d="M755 2410l10 27-10 3-11-31zM765 2422l11-37 11 8-11 36zM851 2391l11-30 10 17-10 37zM830 2376l10-29 11-16-11 28zM1054 2353l10-33 11-2-11 41zM936 2349l11-38 11 1-11 29zM926 2341l10-44 11 14-11 38zM894 2315l10-12 11 19-11 23zM1064 2292l11 4 11 25-11-19zM1011 2310l11-38 10 14-10 43zM990 2296l10-12 11-13-11 26zM990 2303l10-23 11-25-11 29zM990 2296l10-36 11-10-11 30zM1096 2291l11-26 11-24-11 32zM968 2277l11-37 11 16-11 39zM1054 2238l10-23 11 12-11 34zM1363 2210l11 28-11-8-11-30zM1182 2229l10-44 11 19-11 41zM1352 2200l11 30-11 0-10-24zM1011 2198l11-22 10 20-10 29zM1278 2212l10-43 11 16-11 44zM1256 2205l11-28 11-12-11 37zM1320 2158l11 20 11 39-11-21zM1107 2177l11-17 10 20-10 27zM1235 2181l11-45 10 15-10 41zM1086 2167l10-21 11-13-11 23zM1192 2157l11-23 11-20-11 26z"/>
<path class="c39" d="M595 1862l10-16 11-19-11 22zM883 1865l11-19 10-10-10 15zM808 1869l11-10 11 34-11 2zM627 1896l10 18 11 43-11-22zM456 2073l11 26 10 30-10-24zM531 1915l10 20 11 40-11-26zM509 2012l11 16 11 39-11-20zM701 1916l11-32 11 28-11 22zM904 1855l11-11 11 26-11 6zM659 1941l10 5 11 37-11-10zM477 1965l11 25 11 27-11-16zM659 1910l10-33 11-11-11 25zM371 2081l10-42 11 19-11 42zM339 2072l10-26 11-21-11 27zM413 2018l11-34 11 17-11 40zM381 1997l11-34 11 3-11 33zM371 1978l10-32 11 17-11 34zM435 1937l10-25 11-6-11 26zM424 1923l11-23 10 12-10 25zM541 1910l11-41 11 8-11 37zM627 1879l10-38 11 18-11 43zM755 1865l10-38 11 21-11 27zM712 1850l11-20 10 2-10 34zM840 1834l11-42 11 19-11 41zM819 1831l11-30 10-13-10 38zM808 1808l11-40 11 10-11 30z"/>
<path class="c15" d="M1096 2286l11-33 11-16-11 28zM787 2446l11-13 10 18-10 24zM883 2434l11-24 10-24-10 28zM883 2428l11-34 10-12-10 28zM979 2385l11-41 10 18-10 33zM808 2359l11-27 11 15-11 30zM1064 2359l11-41 11 13-11 43zM936 2371l11-30 11-21-11 29zM1043 2360l11-23 10-17-10 33zM1043 2346l11-35 10-5-10 25zM1022 2329l10-43 11 17-11 42zM1107 2298l11-32 10 7-10 42zM1096 2292l11-19 11-7-11 32zM979 2295l11-39 10 4-10 36zM1203 2276l11-28 10-20-10 34zM1064 2261l11-34 11 17-11 40zM1310 2261l10-32 11-14-11 37zM1192 2245l11-41 11 16-11 31zM1224 2211l11 13 11 31-11-25zM1150 2224l10-15 11 5-11 29zM1032 2237l11-31 11-5-11 30zM1022 2225l10-29 11 10-11 31zM1310 2205l10-17 11 26-11 2zM1320 2188l11 8 11 37-11-19zM1246 2192l10-41 11 5-11 32zM1203 2155l11-10 10 16-10 23z"/>
<path class="c12" d="M1342 2228l10 29-10-24-11-19zM787 2473l11 2 10 24-10 3zM979 2432l11-37 10-5-10 32zM904 2366l11 21-11-14-10-21zM1032 2377l11-31 11-15-11 29zM1139 2343l11-39 10 3-10 30zM1128 2334l11-44 11 14-11 39zM1096 2310l11-12 11 17-11 24zM1192 2297l11-25 11-24-11 28zM1310 2285l10-33 11 6-11 42zM1299 2281l11-20 10-9-10 33zM1192 2287l11-36 11-10-11 31zM1182 2285l10-40 11 6-11 36zM1299 2280l11-27 10-24-10 32zM1171 2267l11-38 10 16-10 40zM1374 2238l10 28-10-1-11-35zM1363 2230l11 35-11 1-11-36zM1267 2247l11-35 10 17-10 40zM1331 2196l11 21 10 39-10-23zM1235 2225l11-33 10-4-10 32zM1224 2211l11-30 11 11-11 33z"/>
<path class="c45" d="M424 1872l11 27 10 33-10-22zM360 1946l11 7 10 41-10-15zM669 1773l11 24 11 28-11-23zM328 1986l11-41 10 20-10 39zM296 1960l11-36 10 5-10 26zM253 1928l11-15 11 17-11 28zM328 1906l11 20 10 40-10-27zM403 1922l10-28 11 26-11 14zM371 1926l10-39 11 15-11 44zM349 1915l11-16 11-13-11 28zM349 1918l11-26 11-22-11 29zM456 1873l11-32 10 14-10 19zM477 1830l11 12 11 39-11-22zM563 1831l10-17 11 33-11 4zM627 1784l10-10 11 11-11-5zM723 1734l10-5 11 39-11-6zM733 1710l11 28 11 30-11-22zM798 1732l10-37 11 21-11 33zM819 1716l11-9 10 37-10 0zM776 1737l11-31 11-14-11 35z"/>
<path class="c46" d="M744 1769l11-5 10 0-10 1zM627 1805l10-27 11-12-11 28zM477 1889l11-35 11 7-11 36zM413 1894l11-2 11 37-11-9zM509 1848l11 14 11 31-11-17zM349 1965l11-19 11 33-11 8zM755 1765l10-1 11 19-11-3zM317 1973l11-37 11 9-11 41zM307 1974l10-30 11-8-11 37zM285 1950l11-43 11 17-11 36zM328 1884l11 25 10 38-10-21zM328 1882l11 26 10 15-10-14zM360 1914l11-28 10 1-10 39zM467 1841l10-11 11 29-11-4zM445 1859l11-41 11 23-11 32zM477 1801l11 23 11 41-11-23zM531 1835l10-40 11 13-11 43zM520 1830l11-33 10-2-10 40zM573 1786l11 23 11 36-11-23zM648 1799l11-26 10 24-10 21zM701 1745l11-37 11 26-11 30zM787 1727l11-35 10 3-10 37z"/>
<path class="c44" d="M616 1813l11-29 10-4-10 18zM616 1827l11-29 10-20-10 27zM424 1892l11 18 10 43-10-24zM520 1862l11 30 10 25-10-24zM275 1966l10 23 11 42-11-24zM275 1962l10 24-10 4-11-32zM509 1884l11-8 11 39-11-3zM605 1872l11-10 11 34-11 3zM669 1797l11 5 11 41-11-12zM339 2004l10-39 11 22-11 30zM360 1987l11-8 10 28-10-7zM296 1987l11-13 10-1-10 28zM296 1986l11-21 10-21-10 30zM264 1958l11 32-11 0-11-35zM541 1851l11-43 11 23-11 38zM573 1814l11 8 11 42-11-17zM659 1818l10-21 11 34-11 10zM627 1831l10-37 11 5-11 42zM851 1761l11-2 10 9-10-2zM712 1764l11-30 10 28-10 17zM808 1749l11-33 11 28-11 24z"/>
<path class="c13" d="M798 2475l10-24 11 18-11 30zM851 2415l11 30-11-5-11-30zM872 2450l11-22 11-18-11 24zM958 2403l10-34 11 16-11 39zM936 2380l11 0 11 23-11 12zM1043 2370l11-17 10 6-10 30zM926 2380l10-31 11-8-11 30zM915 2370l11-29 10 8-10 31zM1000 2328l11-18 11 19-11 28zM1118 2315l10-42 11 17-11 44zM1214 2300l10-38 11 12-11 44zM1086 2309l10-23 11-21-11 26zM1203 2288l11-26 10 0-10 38zM1086 2294l10-38 11-3-11 33zM1075 2284l11-40 10 12-10 38zM1256 2225l11-23 11 10-11 35zM1128 2228l11-31 11 3-11 32zM1214 2184l10-23 11 20-11 30z"/>
<path class="c14" d="M1086 2289l10 3 11 6-11 12zM1075 2276l11 23 10 39-10-21zM926 2362l10 5-10 15-11-16zM883 2428l11-14-11 20-11 3zM1235 2197l11 16 10 12-10-1zM1246 2213l10-8 11-3-11 23zM765 2437l11 2-11 9-10-8zM765 2448l11-19 11-11-11 21zM862 2414l10 23-10 8-11-30zM840 2410l11 30-11-22-10-27zM872 2430l11-38 11 2-11 34zM862 2415l10-37 11 14-11 38zM947 2380l11-24 10 13-10 34zM904 2345l11-23 11 19-11 29zM1032 2345l11-42 11 8-11 35zM1160 2243l11-29 11 15-11 38zM1310 2240l10-24 11-1-11 11zM1299 2241l11-36 10 11-10 24zM1288 2229l11-44 11 20-11 36zM1139 2232l11-32 10-13-10 30zM1118 2207l10-27 11 17-11 31zM1246 2220l10-32 11-18-11 30z"/>
<path class="c21" d="M1203 2155l11-4 10 34-10-3zM990 2295l10-5 11 30-11-1zM1011 2193l11 3 10 39-10-14zM798 2360l10-13 11 22-11-2zM808 2319l11 21 11 40-11-22zM1075 2108l11 24 10 37-10-21zM1000 2216l11-23 11 28-11 9zM958 2248l10 11 11 41-11-18zM958 2229l10 28 11 26-11-24zM979 2132l11 22 10 40-10-21zM733 2361l11-17 11-20-11 27zM1278 2147l10-14 11-9-11 9zM862 2266l10 14 11 41-11-22zM787 2295l11-12 10-11-10 25zM1107 2133l11-32 10-19-10 27zM680 2293l11-5-11 18-11-5zM851 2331l11-24 10-15-10 15zM915 2211l11 8 10 35-10-20zM701 2323l11 36-11 0-10-37z"/>
<path class="c17" d="M1320 2229l11-23 11-12-11 21zM1160 2223l11 28 11 25-11-24zM915 2339l11 22 10 41-10-25zM915 2324l11 27 10 29-10-19zM1256 2219l11 11 11 35-11-14zM1064 2262l11 14 11 41-11-21zM883 2392l11-38 10 13-10 27zM1032 2208l11 15 11 15-11-2zM1043 2223l11-7 10-1-10 23zM1192 2135l11 5 11 5-11 10zM1054 2311l10-19 11 10-11 4zM1054 2337l10-29 11-19-11 31zM1054 2331l10-25 11-14-11 16zM765 2411l11 17-11 9-10-27zM1256 2188l11-32 11-9-11 23zM1256 2200l11-30 11-23-11 30zM723 2375l10-9-10 10-11 5z"/>
<path class="c18" d="M712 2359l11 16-11 6-11-22zM1182 2111l10 24 11 20-11-12zM1107 2265l11-28 10-19-10 23zM1107 2220l11-16 10 24-10 2zM1118 2204l10 7 11 36-11-19zM862 2391l10 28-10-5-11-36zM1246 2236l10-17 11 32-11 8zM1214 2182l10 3 11 39-11-13zM1064 2240l11 26 11 33-11-23zM990 2344l10-25 11 29-11 14zM1150 2254l10-14 11 35-11 3zM968 2259l11 24 11 38-11-21zM819 2340l11 23 10 34-10-17zM819 2339l11 21 10 10-10-7zM1182 2120l10 23 11 39-11-20zM1096 2150l11-2 11 12-11 17zM851 2378l11 36-11 1-11-38z"/>
<path class="c27" d="M659 2237l10 26 11 35-11-23zM808 2164l11 19 11 37-11-20zM958 2088l10 8 11 36-11-13zM947 2108l11-20 10 31-10 12zM680 2138l11 19 10 30-10-10zM712 2269l11-37 10 8-10 40zM701 2264l11-27 11-19-11 24zM701 2255l11-23 11-6-11 11zM926 2032l10 27 11 29-11-20zM830 2051l10 24 11 34-11-17zM862 2105l10 10 11 41-11-16zM701 2226l11-16 11 21-11 1zM712 2179l11 20 10 41-10-22zM701 2273l11-31 11-10-11 37zM637 2301l11-32 11 19-11 19zM691 2153l10-10 11-10-11 23z"/>
<path class="c32" d="M691 2157l10-8 11 30-11 2zM627 2050l10 24 11 36-11-19zM968 1927l11 26 11 26-11-24zM712 2052l11 0 10 38-10-11zM701 2077l11-25 11 27-11 11zM659 2105l10 9 11 41-11-16zM840 2071l11 2 11 12-11-6zM808 2037l11-4 11 38-11-6zM605 2159l11 18 11 39-11-21zM840 1911l11 21 11 38-11-17zM851 1922l11-2 10 0-10 18zM851 1929l11-13 10-20-10 24zM477 2129l11 20 11 31-11-11zM936 1887l11 24 11 34-11-18zM926 1937l10-8 11 13-11-8zM765 2030l11-17 11 3-11 3z"/>
<path class="c36" d="M947 1918l11 0 10 9-10-4zM605 2036l11-4 11 38-11-5zM701 2024l11-7 11 35-11 0zM819 1895l11-2 10 39-10-9zM765 1933l11 25 11 28-11-24zM637 1914l11 22 11 38-11-17zM648 1925l11-2 10 3-10 17zM680 2043l11-34 10 15-10 33zM723 1942l10-7 11 11-11-8zM435 2064l10 4 11-1-11 11zM798 1833l10 11 11 9-11 4zM520 2028l11 28 10 32-10-21zM328 2076l11-4-11 7-11-1zM552 2058l11-31 10-13-10 24zM552 2065l11-27 10-22-10 30zM733 1894l11 24 11 36-11-19zM669 1973l11 10 11 41-11-18z"/>
<path class="c38" d="M723 1960l10-27 11-10-11 26zM317 2053l11 23-11 2-10-26zM339 2065l10-13-10 20-11 4zM424 2039l11 25 10 14-10-13zM819 1859l11 16 10 36-10-18zM883 1885l11-34 10 4-10 36zM627 1925l10 10 11 29-11-22zM691 2009l10-12 11 20-11 7zM563 2046l10-30 11-11-11 34zM798 1903l10-34 11 26-11 28zM787 1807l11 26 10 24-10-16zM723 1877l10 17 11 41-11-20zM509 2108l11-26 11-16-11 26zM755 1930l10 3 11 29-11-7zM701 1846l11-6 11-10-11 20zM477 1978l11 23 11 42-11-23zM509 2047l11 0 11 38-11-12z"/>
<path class="c48" d="M264 1927l11 24 10 38-10-23zM339 1945l10-26 11 27-11 19zM253 1920l11 38-11-3-10-34zM264 1928l11 34-11-4-11-38zM413 1857l11 15 11 38-11-18zM264 1913l11-35 10 10-10 42zM360 1899l11-29 10-17-10 33zM360 1892l11-28 10-16-10 22zM456 1818l11-21 10 33-10 11zM467 1797l10 4 11 41-11-12zM563 1784l10 2 11 36-11-8zM648 1766l11-3 10 10-10 0zM712 1708l11-12 10 33-10 5zM808 1695l11-14 11 26-11 9zM787 1706l11-21 10-10-10 17z"/>
<path class="c9" d="M968 2444l11 1-11 8-10-6zM968 2453l11-21 11-10-11 23zM958 2443l10-19 11 8-11 21zM1043 2396l11-7 10 24-10 16zM1128 2361l11 4-11 15-10-14zM1128 2376l11-33 11-6-11 30zM1118 2365l10-31 11 9-11 33zM1192 2313l11 6 11 28-11 3zM1203 2319l11-19 10 18-10 29zM1299 2298l11-13 10 15-10 26zM1171 2305l11-20 10 2-10 23zM1267 2273l11 25-11 0-11-28zM1288 2298l11-24 11-21-11 27zM1256 2270l11 28-11-17-10-26zM1384 2266l11 10-11 10-10-21z"/>
<path class="c40" d="M381 1976l11 21 11 32-11-12zM392 1993l11-7 10-8-10 21zM712 1837l11-31 10-19-10 28zM819 1808l11-30 10-2-10 18zM819 1824l11-30 10-20-10 27zM894 1851l10-15 11 8-11 11zM627 1877l10 28 11 31-11-22zM616 1899l11-3 10 39-10-10zM563 1955l10 7 11 41-11-15zM531 1893l10 24 11 37-11-19zM552 1925l11-18 10-14-10 29zM776 1878l11-21 11-15-11 17zM712 1884l11-7 10 38-10-3zM776 1811l11 8 11 42-11-17zM680 1831l11 12 10 39-10-21z"/>
<path class="c33" d="M765 2050l11-30 11-12-11 33zM765 2042l11-23 11-16-11 17zM840 1903l11 19 11 16-11-6zM872 1943l11 25 11 34-11-23zM776 1962l11 24 11 39-11-22zM616 2065l11 5 10 34-10-18zM563 2118l10 13 11 41-11-21zM659 2083l10 26 11 29-11-24zM648 2121l11-16 10 34-10 5zM808 2004l11 17 11 30-11-18zM830 1923l10 9 11 30-11-21zM467 2121l10 27-10 5-11-33zM552 2187l11-25 10-16-10 18zM744 1918l11 13 10 23-10 0zM488 2151l11-20 10-23-10 26z"/>
<path class="c25" d="M691 2286l10-31 11-18-11 27zM798 2288l10 20 11 32-11-21zM1022 2058l10 5 11 37-11-17zM968 2096l11 25 11 33-11-22zM872 2115l11 24 11 38-11-21zM808 2197l11 3 11 38-11-14zM798 2219l10-22 11 27-11 9zM755 2247l10 11 11 41-11-18zM776 2135l11 23 11 40-11-22zM1000 1999l11 0 11 13-11 14zM584 2285l11-11-11 18-11-1zM723 2198l10 23 11 11-11-10zM926 2076l10 11 11 30-11-23zM723 2199l10 23 11 35-11-17zM904 2182l11-2 11 39-11-8z"/>
<path class="c31" d="M1000 2007l11-9 11 27-11 4zM541 2214l11-27 11-23-11 29zM755 2070l10-28 11-22-11 30zM755 2062l10-32 11-11-11 23zM499 2174l10 38-10-7-11-34zM701 2149l11 19 11 31-11-20zM840 2102l11-23 11 26-11 16zM733 2209l11 4 11 14-11-7zM872 1969l11 10 11 42-11-18zM637 2074l11 4 11-4-11 12zM968 1948l11 7 11 41-11-14zM723 2034l10 28 11 30-11-21zM904 2021l11-7 11 34-11 0zM851 2079l11 6 10 30-10-10zM520 2188l11 23-11-1-11-34z"/>
<path class="c35" d="M648 2078l11 5 10 31-10-9zM488 2142l11 32-11-3-11-24zM936 1943l11-25 11 5-11 24zM851 1960l11-22 10 31-10 14zM862 1938l10 5 11 36-11-10zM616 2032l11 18 10 41-10-21zM830 1875l10 28 11 29-11-21zM765 1955l11 7 11 41-11-14zM467 2105l10 24 11 40-11-23zM904 1908l11-32 11 29-11 22zM584 1985l11 21 10 30-10-11zM584 1986l11 17 10 4-10-1zM595 2003l10-8 11-9-11 21zM424 2062l11 17-11 8-11-25zM467 2099l10 29 11 21-11-20z"/>
<path class="c30" d="M1011 1998l11 18 10 28-10-19zM883 1968l11 25 10 23-10-14zM787 1986l11 20 10 29-10-10zM659 2172l10-14 11 2-11-1zM894 2054l10-33 11 27-11 25zM1086 2002l10-14 11-2-11 10zM723 2079l10 11 11 29-11-24zM723 2052l10 19 11 42-11-23zM669 2114l11 24 11 39-11-22zM915 2014l11 18 10 36-10-20zM819 2033l11 18 10 41-10-21zM605 2227l11-9 11 15-11-7zM605 2192l11 3 11 37-11-14zM605 2265l11-35 11 0-11 39z"/>
<path class="c26" d="M926 2134l10-40 11 14-11 40zM659 2261l10 14 11 41-11-23zM787 2294l11-6 10 31-10-1zM1022 2025l10 19 11 40-11-21zM1128 2089l11-24 11-4-11 23zM1139 2084l11-23 10 16-10 19zM755 2227l10 27 11 29-11-25zM776 2123l11 25 11 24-11-14zM744 2261l11-14 10 34-10 3zM701 2298l11 20 11 38-11-21zM648 2307l11-19 10 7-10 4zM1000 1998l11-9 11-13-11 23zM798 2150l10-32 11-17-11 28zM531 2225l10-11-10 16-11 4z"/>
<path class="c41" d="M669 1900l11-31 11-13-11 35zM669 1891l11-25 11-16-11 19zM467 2036l10-32 11-1-11 35zM477 2038l11-35 11 17-11 33zM798 1855l10-14 11 18-11 10zM413 2008l11 31 11 26-11-24zM808 1841l11 14 11 20-11-16zM445 2069l11 4 11 32-11-9zM435 1910l10 22 11 39-11-18zM445 1919l11-1 11 5-11 16zM520 1940l11-7 10 9-10-8zM595 1836l10 11 11 11-11 3zM509 1978l11-29 11-20-11 27zM285 1989l11 17 11 34-11-9z"/>
<path class="c47" d="M637 1794l11-28 11 7-11 26zM360 1921l11 24 10 31-10-23zM499 1861l10-13 11 28-11 8zM307 1965l10-28 11-20-11 27zM307 1955l10-26 11-7-11 15zM232 1897l11 23 10 40-10-20zM307 1924l10-21 11 20-11 6zM317 1903l11 3 11 33-11-16zM275 1930l10-42 11 19-11 43zM392 1902l11-34 10 26-10 28zM552 1808l11-24 10 30-10 17zM659 1773l10 0 11 29-11-5zM723 1696l10 14 11 36-11-17z"/>
<path class="c49" d="M317 1944l11-27 11-8-11 27zM488 1854l11-16 10 10-10 13zM349 1919l11 2 11 32-11-7zM221 1906l11 10 11 27-11-23zM296 1907l11-32 10 28-10 21zM317 1868l11 16 11 42-11-20zM317 1852l11 30 11 27-11-25zM403 1868l10-11 11 35-11 2zM381 1887l11-36 11 17-11 34zM371 1886l10-33 11-2-11 36zM541 1795l11-28 11 17-11 24zM531 1797l10-28 11-2-11 28zM798 1692l10-17 11 6-11 14z"/>
<path class="c34" d="M680 2149l11-12 10 12-10 8zM776 2041l11-33 11 6-11 34zM467 2130l10 16 11 37-11-26zM819 1962l11-22 10-8-10 10zM819 1938l11-15 10 18-10-1zM541 2079l11-14 11-19-11 25zM926 1956l10-26 11-12-11 25zM947 1947l11-24 10 25-10 18zM605 2083l11-18 11 21-11 4zM563 2093l10 25 11 36-11-23zM958 1923l10 4 11 28-11-7zM712 2017l11 17 10 37-10-19zM830 1893l10 18 11 42-11-21z"/>
<path class="c29" d="M531 2211l10 2 11-3-11 14zM765 2186l11-32 11-1-11 33zM776 2186l11-33 11 16-11 31zM595 2255l10-28 11-1-11 16zM595 2274l10-27 11-17-11 35zM595 2270l10-28 11-20-11 25zM733 2151l11-40 11 23-11 34zM648 2202l11-30 10-13-10 22zM648 2209l11-28 10-22-10 30zM744 2085l11-15 10-20-10 25zM733 2240l11-20 11 27-11 14zM691 2209l10-28 11 29-11 16zM744 2220l11 7 10 31-10-11z"/>
<path class="c19" d="M1118 2266l10-37 11 5-11 39zM723 2356l10 20 11 35-11-14zM723 2355l10 6-10 14-11-16zM840 2359l11-28 11-24-11 29zM1267 2177l11-30 10-14-10 32zM1118 2173l10 20 11 39-11-21zM894 2354l10-20 11 27-11 6zM904 2334l11 5 11 38-11-16zM1214 2151l10 19 11 35-11-20zM1022 2196l10 20 11 42-11-23zM1096 2148l11-11 11-14-11 25zM1086 2132l10 18 11 27-11-8zM936 2223l11 1 11-7-11 15z"/>
<path class="c20" d="M1022 2272l10-39 11 14-11 39zM723 2345l10 15 11 17-11-1zM1192 2185l11-30 11 27-11 22zM979 2326l11-31 10 24-10 25zM851 2363l11 28 10 28-10-24zM1054 2230l10 10 11 36-11-14zM1278 2165l10-32 11 4-11 32zM733 2360l11-9 11 3-11 23zM904 2304l11 20 11 37-11-22zM1022 2181l10 27 11 28-11-20zM1011 2230l11-9 10 18-10-6zM1011 2271l11-34 10-4-10 39zM808 2347l11 11 11 33-11-22zM1075 2132l11 16 10 39-10-24zM1096 2201l11-27 11 30-11 16z"/>
<path class="c22" d="M1086 2184l10-32 11 22-11 27zM1107 2145l11 19 10 29-10-20zM712 2335l11 21 10 41-10-25zM968 2298l11-12 11-7-11 8zM915 2271l11-37 10 7-10 40zM904 2268l11-27 11-19-11 24zM904 2258l11-23 11-4-11 10zM851 2336l11-29 10-17-10 31zM1288 2133l11-9 11 7-11 6zM894 2306l10-2 11 35-11-5zM1043 2070l11 2 10-7-10 13zM1032 2063l11 21 11 40-11-24zM883 2139l11 19 10 28-10-9zM862 2242l10 26 11 35-11-23zM765 2281l11 18 11 37-11-26z"/>
<path class="c23" d="M979 2287l11-8 10 11-10 5zM1022 2237l10-23 11-2-11 21zM712 2318l11 27 10 31-10-20zM680 2293l11-5 10-15-10 18zM1182 2145l10-11 11-1-11 7zM1192 2140l11-7 11 18-11 4zM680 2315l11 31-11-30-11-23zM990 2196l10-30 11 27-11 23zM1011 2161l11 20 10 35-10-20zM798 2318l10 1 11 39-11-11zM1032 2044l11 24 11 33-11-17zM894 2155l10-11 11-12-11 24zM819 2200l11 20 10 42-10-24zM765 2258l11 25 11 39-11-23z"/>
<path class="c24" d="M819 2275l11-39 10 15-10 39zM669 2263l11 23 11 25-11-13zM894 2209l10-27 11 29-11 16zM1032 2135l11-41 11 20-11 38zM936 2241l11-20 11 27-11 13zM947 2221l11 8 10 30-10-11zM1096 2152l11-7 11 28-11 1zM701 2330l11 5 11 37-11-16zM1000 2166l11-5 11 35-11-3zM1150 2096l10-19 11 31-11 11zM968 2119l11 13 11 41-11-20zM872 2140l11 16 11 38-11-25zM819 2183l11 27 10 30-10-20zM808 2233l11-9 11 16-11-7zM1118 2109l10-27 11-17-11 24z"/>
<path class="c21" d="M733 2373l11 36-11-11-10-28zM958 2328l10-30 11-11-11 32zM968 2319l11-32 11 8-11 31zM1064 2170l11-15 11 4-11 1zM798 2387l10-20 11-6-11 8zM798 2404l10-32 11-9-11 37zM926 2347l10 4-10 8-11 3zM744 2372l11 38-11-1-11-36zM755 2378l10 33-10-1-11-38zM1107 2174l11-1 10 38-10-7zM1171 2176l11-31 10-5-10 33zM1182 2173l10-33 11 15-11 30zM808 2308l11 31 11 24-11-23zM1043 2247l11-17 10 32-10 9z"/>
<path class="c28" d="M894 2158l10-7 11 29-11 2zM1043 2066l11 3 10 10-10-6zM744 2080l11-5 10 2-10 20zM531 2214l10 10 11 24-11 2zM712 2168l11 30 10 24-10-23zM776 2285l11-9 11 12-11 6zM798 2169l10-5 11 36-11-3zM1011 2029l11-4 10 38-10-5zM648 2269l11-8 10 32-10-5zM894 1993l10 9 11 7-11 7zM968 2024l11-17 11 5-11 2zM830 2142l10-40 11 19-11 38z"/>
<path class="c39" d="M659 1919l10-28 11-22-11 31zM413 2056l11 5 11 33-11-18zM595 2013l10-10 11 29-11 4zM733 1949l11-26 11 7-11 24zM776 1892l11-33 11-4-11 35zM787 1890l11-35 10 14-10 34zM541 1918l11 7 11-3-11 9zM488 2053l11-33 10 27-10 25zM616 1940l11-15 10 17-10-1zM328 2053l11 12-11 11-11-23zM648 1964l11-23 10 32-10 14z"/>
<path class="c32" d="M744 2111l11-20 10 32-10 11zM605 2247l11-25 11-16-11 24zM808 1993l11-31 11-20-11 28zM488 2171l11 34-11-22-11-26zM990 2003l10-13 11 8-11 9zM830 2096l10-25 11 8-11 23zM669 2182l11-33 11 8-11 33zM872 2029l11-19 11-14-11 15zM627 2049l10 25 11 12-11-12zM883 2041l11-34 10 14-10 33zM872 2043l11-32 11-4-11 34z"/>
<path class="c10" d="M1032 2375l11-15-11 17-10 9zM947 2415l11-12 10 21-10 19zM1032 2381l11 15 11 33-11-10zM1011 2368l11 18-11-4-11-21zM1022 2376l10-31 11 1-11 31zM1107 2339l11-24 10 19-10 31zM1235 2334l11-43 10 10-10 35zM1182 2310l10-23 11-15-11 25zM1288 2281l11-40 11-1-11 34zM1278 2269l10-40 11 12-11 40z"/>
<path class="c11" d="M1192 2293l11-5 11 12-11 19zM1107 2332l11 34-11-1-11-34zM958 2418l10 26-10 3-11-30zM1171 2277l11 22-11 7-11-28zM1352 2230l11 36-11-9-10-29zM862 2445l10 5-10-1-11-9zM947 2417l11 30-11-14-11-28zM968 2424l11-39 11 10-11 37zM1054 2389l10-30 11 15-11 39zM1011 2357l11-28 10 16-10 31zM1139 2367l11-30 10-20-10 29zM1224 2318l11-44 11 17-11 43zM1160 2278l11 28-11-8-10-28z"/>
<path class="c15" d="M1150 2304l10-26 11 17-11 12zM1118 2322l10 26-10-14-11-33zM990 2395l10-33 11 8-11 20zM947 2380l11 38-11-1-11-36zM1235 2274l11-38 10 23-10 32zM1043 2360l11-29 10-23-10 29zM1086 2301l10 30-10-10-11-19zM936 2381l11 36-11-12-10-28zM1139 2217l11 0 10-8-10 15zM1310 2253l10-27 11-20-11 23zM872 2419l11 9-11 9-10-23zM1224 2185l11 20 11 41-11-22zM1075 2266l11 23 10 21-10-11zM1342 2206l10 24-10-2-11-13z"/>
<path class="c37" d="M637 2068l11 2 11 13-11-5zM627 2093l10-25 11 10-11 23zM435 2083l10 31-10-20-11-18zM830 1951l10-26 11-3-11 25zM840 1947l11-25 11 16-11 22zM424 2041l11 24 10 37-10-19zM851 1922l11 2 10 19-10-5zM669 2029l11-20 11-13-11 15zM894 1891l10-36 11 21-11 32zM573 1962l11 23 11 40-11-22z"/>
<path class="c16" d="M1320 2252l11-37 11 4-11 39zM1096 2297l11 35-11-1-10-30zM1139 2290l11-36 10 24-10 26zM1107 2301l11 33-11-2-11-35zM1128 2193l11 23 11 32-11-16zM776 2428l11-8-11 19-11-2zM883 2428l11-14 10-12-10 28zM1224 2170l11 27 11 27-11-19zM936 2367l11-18 11-21-11 28zM1214 2220l10-9 11 19-11-6z"/>
<path class="c43" d="M541 1953l11-25 11 27-11 19zM552 1928l11 3 10 31-10-7zM520 1956l11-27 10-9-10 26zM435 2058l10 0 11 15-11-4zM424 1920l11 9 10 29-10-23zM371 1953l10 23 11 41-11-23zM371 1945l10 31 11 21-11-21zM488 2003l11-13 10 22-10 8zM584 1809l11 27 10 25-10-16z"/>
<path class="c27" d="M958 2057l10-33 11-10-11 24zM765 2294l11-13 11-5-11 9zM1043 2094l11-21 10 25-10 16zM1054 2073l10 6 11 29-11-10zM637 2224l11-15 11-20-11 26zM915 2088l11-12 10 18-10-4zM915 2132l11-34 10-4-10 40zM584 2285l11-11 10-9-10 25zM787 2200l11-31 10 28-10 22z"/>
<path class="c25" d="M904 2120l11-32 11 2-11 20zM904 2140l11-30 11-20-11 27zM808 2272l11-35 11-1-11 39zM862 2175l10-15 11 4-11 0zM680 2292l11 30-11-7-11-20zM776 2325l11-31 11 24-11 25zM1022 2087l10-4 11 12-11-11zM1022 2127l10-37 11 4-11 41zM915 2246l11-24 10-10-10 22zM926 2234l10-22 11 9-11 20zM637 2340l11-33 11-8-11 24z"/>
<path class="c31" d="M755 2091l10 7 11 37-11-12zM787 2153l11-10 10 21-10 5zM776 2154l11-12 11 1-11 10zM819 2107l11-26 10-10-10 25zM659 2189l10-30 11-10-11 33zM680 2190l11-33 10 24-10 28zM712 2133l11-34 10-2-10 39zM723 2136l10-39 11 14-11 40zM712 2090l11-11 10 16-10-4z"/>
<path class="c30" d="M701 2121l11-31 11 1-11 19zM701 2140l11-30 11-20-11 26zM862 2059l10-30 11-18-11 32zM979 2036l11-33 10 4-10 34zM723 2232l10-23 11 11-11 20zM712 2242l11-24 10-9-10 23zM520 2188l11 23 10 13-10-10zM520 2190l11 24 10 36-10-18zM798 2143l10 18 11 22-11-19z"/>
<path class="c26" d="M862 2193l10-30 11-12-11 33zM637 2221l11-6 11 3-11 21zM883 2191l11-33 10 24-10 27zM691 2288l10 35-10-1-11-30zM765 2316l11-31 11 9-11 31zM755 2324l10-30 11-9-11 31zM904 2151l11 19 11 30-11-20zM659 2288l10 5 11 22-11-20zM936 2212l11 5 11 12-11-8z"/>
<path class="c42" d="M680 1891l11-35 10 6-10 36zM787 1859l11-17 10-1-10 14zM467 2021l10-20 11-13-11 16zM371 1979l10 15 11 37-11-24zM584 1822l11 23 10 42-10-23zM563 1907l10-29 11-18-11 33zM563 1900l10-28 11-16-11 22zM563 1877l10-26 11 9-11 12z"/>
<path class="c44" d="M573 1893l11-33 11-3-11 36zM584 1893l11-36 10 15-10 35zM413 1934l11-14 11 15-11-2zM531 1946l10-26 11 8-11 25zM253 1955l11 35-11-17-10-30zM296 1986l11-31 10-18-10 28zM456 1936l11 5 10 37-10-10zM403 1993l10 15 11 33-11-18zM477 2004l11-16 11 2-11 13z"/>
<path class="c45" d="M413 1961l11-27 11-16-11 27zM573 1878l11-22 11-13-11 17zM541 1920l11-2 11 13-11-3zM605 1843l11 13 11 21-11-15zM392 2004l11-11 10 30-10 5zM488 1897l11-36 10 23-10 31zM467 1874l10-19 11 1-11 6zM733 1796l11-27 11-4-11 27zM744 1792l11-27 10 15-10 25z"/>
<path class="c38" d="M584 2048l11-35 10 23-10 30zM680 2011l11-15 10 1-10 12zM605 2003l11 16 11 31-11-18zM744 1954l11-24 10 25-10 19zM456 2096l11 9 10 41-10-16zM445 2113l11-17 11 34-11 5zM765 1908l11-30 11-19-11 33zM701 1856l11-19 11-22-11 25z"/>
<path class="c20" d="M1224 2228l11-23 11-2-11 20zM1139 2234l11-19 10 25-10 14zM1086 2287l10-6 11 20-11 2zM1150 2215l10 8 11 29-11-12zM1000 2290l11 21 11 29-11-20zM1054 2211l10-29 11-23-11 30zM1054 2201l10-31 11-10-11 22zM894 2294l10-26 11-22-11 31z"/>
<path class="c50" d="M328 1936l11-27 10 10-10 26zM211 1920l10-14 11 14-11-2zM221 1879l11 18 11 43-11-24zM307 1875l10-7 11 38-11-3zM403 1836l10 13 11 23-11-15zM371 1870l10-22 11-13-11 18zM552 1767l11-2 10 21-10-2z"/>
<path class="c33" d="M637 2208l11 5 11 24-11-9zM904 1995l11 17 11 20-11-18zM605 2115l11-25 11-6-11 13zM541 2075l11-4 11 4-11 19zM616 2230l11-24 10 2-10 22zM669 2159l11-15 11-7-11 12zM787 2048l11-34 10 23-10 29z"/>
<path class="c18" d="M1214 2248l10-26 11-17-11 23zM776 2422l11 2-11 4-11-17zM1331 2215l11-21 10 6-10 19zM1000 2319l11 1 11 38-11-10zM830 2378l10 32-10-19-11-22zM926 2359l10 22-10-4-11-9zM830 2360l10-1 11-6-11 17z"/>
<path class="c24" d="M1011 2113l11-26 10-3-10 13zM1011 2134l11-31 10-13-10 37zM1011 2126l11-29 10-19-10 25zM851 2214l11-29 10-22-10 30zM851 2205l11-30 10-11-10 21zM808 2372l11-22 11-8-11 21zM1075 2159l11-15 10-8-10 10z"/>
<path class="c22" d="M1064 2189l11-30 11-13-11 32zM840 2230l11-16 11-21-11 27zM1000 2146l11-33 11-16-11 29zM808 2400l11-37 11 8-11 39zM1139 2207l11 5 10 11-10-8zM798 2395l10-26 11-19-11 22zM723 2370l10 28-10-26-11-16z"/>
<path class="c34" d="M605 2125l11-28 11-20-11 26zM509 2157l11 31 11 26-11-24zM723 2099l10-25 11-1-11 24zM883 2011l11-15 10-1-10 12zM894 2007l10-12 11 19-11 7zM744 2073l11 3 10 22-10-7zM733 2097l11-24 11 18-11 20z"/>
<path class="c12" d="M1118 2334l10 27-10 5-11-34zM1032 2363l11 7 11 19-11 7zM1299 2274l11-34 10-14-10 27zM915 2366l11 16-11 5-11-21zM1096 2331l11 34-11-15-10-29zM872 2437l11-3-11 16-10-5z"/>
<path class="c19" d="M1075 2318l11-31 10 16-10 28zM1064 2320l11-31 11-2-11 31zM787 2420l11-25 10-23-10 32zM787 2418l11-31 10-18-10 26zM894 2290l10-32 11-17-11 27zM1000 2260l11-30 11 3-11 17zM1000 2280l11-30 11-20-11 25z"/>
<path class="c21" d="M1011 2255l11-25 10-16-10 23zM840 2226l11-6 11 1-11 21zM830 2210l10 16 11 16-11-2zM819 2410l11-39 10 22-10 34zM1118 2241l10-23 11-11-11 22zM1128 2229l11-22 11 8-11 19zM1075 2289l11-10 10 2-10 6z"/>
<path class="c36" d="M616 2103l11-26 10-9-10 25zM669 2043l11-32 11-2-11 34zM648 1931l11-12 10-19-10 23zM787 2008l11-13 10 9-10 10zM499 2142l10 34-10-2-11-32zM456 2135l11-5 10 27-10-10z"/>
<path class="c40" d="M573 2016l11-18 11-7-11 14zM616 1969l11-27 10-17-10 27zM531 2066l10-1 11 4-11-2zM403 2074l10-18 11 20-11 3zM413 2023l11 18 11 42-11-22zM744 1923l11-1 10 11-10-3z"/>
<path class="c35" d="M477 2147l11 24-11-14-10-10zM659 2058l10-29 11-18-11 32zM637 2101l11-23 11 27-11 16zM819 1970l11-28 10-17-10 26zM776 2020l11-17 11-8-11 13zM798 2014l10-10 11 29-11 4z"/>
<path class="c29" d="M926 2098l10-25 11-2-11 23zM968 2046l11-30 11-13-11 33zM968 2038l11-24 11-15-11 17zM680 2272l11 16-11 4-11-9zM883 2151l11-10 10 10-10 7zM691 2275l10 19 11 24-11-20z"/>
<path class="c23" d="M1075 2178l11-32 10 6-10 32zM830 2371l10-17 11 28-11 11zM840 2354l11 9 11 32-11-13zM798 2283l10-28 11-18-11 35zM798 2279l10-29 11-20-11 25zM798 2262l10-29 11 0-11 17z"/>
<path class="c39" d="M403 2103l10-24 11-7-11 13zM531 2091l10-24 11 19-11 21zM541 2067l11 2 11 24-11-7zM520 2092l11-26 10 1-10 24zM691 1825l10 21 11 31-11-12zM573 2039l11-34 11 8-11 35z"/>
<path class="c27" d="M958 2067l10-29 11-22-11 30zM830 2236l10-22 11 19-11 18zM840 2214l11 6 11 22-11-9zM1022 2103l10-25 11-12-11 24zM691 2301l10-3 11 37-11-5zM872 2184l11-33 11 7-11 33z"/>
<path class="c51" d="M339 1909l10-2 11 14-11-2zM200 1909l11-27 10 24-10 14zM285 1888l11-36 11 23-11 32zM392 1851l11-15 10 21-10 11zM541 1769l11-6 11 2-11 2z"/>
<path class="c52" d="M243 1898l10 22-10 1-11-14zM253 1903l11 25-11-8-10-22zM211 1882l10-3 11 37-11-10zM275 1878l10-35 11 9-11 36zM381 1853l11-18 11 1-11 15z"/>
<path class="c17" d="M1043 2228l11-17 10-22-10 27zM1214 2262l10-34 11-5-11 39zM1224 2262l11-39 11 13-11 38zM744 2409l11 31-11-12-11-30zM1160 2240l11 12 11 40-11-17z"/>
<path class="c15" d="M1203 2251l11-31 10 4-10 17zM1203 2272l11-31 10-19-10 26zM936 2365l11-9 11 0-11 24zM872 2419l11 9 11 2-11 6zM776 2435l11 11 11 29-11-2z"/>
<path class="c28" d="M819 2237l11-23 10 0-10 22zM669 2283l11 9-11 3-10 4zM1032 2090l11-24 11 7-11 21zM872 2163l11-15 11-7-11 10zM915 2117l11-27 10-17-10 25z"/>
<path class="c43" d="M680 1869l11-19 10-9-10 15zM701 1862l11-12 11 27-11 7zM285 1986l11 0 11-12-11 13zM381 2039l11-35 11 24-11 30zM360 2016l11-16 10 0-10 2z"/>
<path class="c44" d="M360 2035l11-31 10-9-10 34zM371 2029l10-34 11 9-11 35zM360 2025l11-23 10-16-10 18zM691 1856l10-15 11 9-11 12zM456 1906l11-32 10-12-10 24z"/>
<path class="c46" d="M371 2004l10-18 11-6-11 15zM467 1896l10-31 11-11-11 35zM467 1886l10-24 11-17-11 20zM584 1860l11-17 10 0-10 14zM595 1857l10-14 11 19-11 10z"/>
<path class="c25" d="M840 2251l11-18 11 33-11 8zM851 2233l11 9 10 38-10-14zM1086 2146l10-10 11 9-11 7zM819 2363l11-21 10 12-10 17zM830 2342l10 7 11 14-11-9z"/>
<path class="c42" d="M349 2052l11-27 11-21-11 31zM349 2046l11-30 11-14-11 23zM413 2091l11-26 11-7-11 25zM424 2083l11-25 10 11-10 23zM648 1924l11 1 10 21-10-5z"/>
<path class="c8" d="M1118 2366l10 14-10 4-11-19zM1107 2365l11 19-11-15-11-19zM1374 2265l10 21-10 6-11-26zM1363 2266l11 26-11-8-11-27z"/>
<path class="c7" d="M1224 2367l11-33 11 2-11 33zM1214 2347l10-29 11 16-11 33zM1278 2298l10 0-10 5-11-5zM1278 2303l10-22 11-7-11 24z"/>
<path class="c30" d="M669 2283l11-11-11 11-10 16zM680 2283l11-8 10 23-10 3zM637 2246l11-18 11 33-11 8zM648 2228l11 9 10 38-10-14z"/>
<path class="c37" d="M392 2134l11-31 10-18-10 27zM637 1905l11 20 11 18-11-7zM552 2086l11 7 10 38-10-13zM541 2107l11-21 11 32-11 12z"/>
<path class="c41" d="M627 1952l10-27 11-1-11 26zM637 1950l11-26 11 17-11 23zM691 1898l10-36 11 22-11 32zM584 2005l11-14 10 12-10 10zM435 2092l10-23 11 27-11 17z"/>
<path class="c18" d="M883 2300l11-6 10-17-10 19zM776 2428l11-8 11-16-11 20zM904 2367l11-6 11 16-11-9zM894 2394l10-27 11 1-11 14z"/>
<path class="c14" d="M1267 2230l11 26 10 31-10-22zM1246 2291l10-32 11 22-11 20zM1246 2218l10-18 11-23-11 28z"/>
<path class="c19" d="M1246 2203l10 7 11 20-11-11zM1235 2223l11-20 10 16-10 17zM915 2362l11-3-11 9-11 14zM872 2268l11 24 11 23-11-12zM936 2351l11 29-11 1-10-22z"/>
<path class="c23" d="M872 2320l11-31 11 17-11 29zM894 2282l10 20 11 22-11-20zM1043 2212l11 7 10 21-10-10zM1032 2233l11-21 11 18-11 17z"/>
<path class="c10" d="M1288 2288l11-8 11-19-11 20zM1278 2272l10 16-10 10-11-25zM1022 2365l10 10-10 11-11-18z"/>
<path class="c13" d="M1022 2340l10 23 11 33-11-15zM1032 2362l11-2 11-7-11 17zM1192 2290l11-14 11-14-11 26z"/>
<path class="c31" d="M669 2283l11-11 11 3-11 8zM979 2016l11-17 10-9-10 13zM595 2146l10-31 11-18-11 28z"/>
<path class="c9" d="M1139 2365l11-19-11 21-11 13zM1182 2299l10-2-10 13-11-4z"/>
<path class="c15" d="M1160 2278l11-3 11 31-11-11zM1011 2348l11 10 10 35-10-22zM1256 2259l11-8 11 34-11-4z"/>
<path class="c12" d="M1182 2276l10 17 11 26-11-6zM1182 2279l10 11 11-2-11 5zM1022 2358l10 23 11 38-11-26z"/>
<path class="c32" d="M627 2230l10-22 11 20-11 18zM712 2116l11-26 10-16-10 25z"/>
<path class="c48" d="M477 1865l11-20 11-7-11 16zM243 1921l10 34-10-12-11-23z"/>
<path class="c20" d="M990 2156l10-5 11-17-11 17zM765 2400l11 22-11-11-10-33z"/>
<path class="c25" d="M1000 2142l11 18 11 21-11-20zM872 2290l11-11 11 3-11 7zM883 2289l11-7 10 22-10 2z"/>
<path class="c18" d="M765 2400l11 22 11 24-11-11zM894 2414l10-28 11-18-11 34zM894 2410l10-28 11-20-11 24z"/>
<path class="c40" d="M339 2065l10-13 11-17-11 24zM403 2112l10-27 11-20-11 26z"/>
<path class="c24" d="M862 2321l10-31 11-1-11 31zM947 2083l11-16 10-21-10 26z"/>
<path class="c17" d="M776 2422l11 2 11 9-11 13zM862 2391l10 28 11 17-11-17z"/>
<path class="c21" d="M883 2335l11-29 10 28-10 20zM904 2386l11-24 11-15-11 21z"/>
<path class="c16" d="M1011 2320l11 20 10 41-10-23zM1000 2362l11-14 11 23-11-1z"/>
<path class="c14" d="M1171 2252l11 24 10 37-10-21zM1022 2341l10 21 11 8-11-7z"/>
<path class="c29" d="M936 2094l11-23 11 17-11 20zM584 2165l11-19 10-21-10 23z"/>
<path class="c13" d="M1192 2296l11 33-11-5-10-24zM1171 2275l11 17 10 39-10-25z"/>
<path class="c39" d="M339 2062l10-3-10 6-11-12zM339 2062l10-3 11 5-11 18z"/>
<path class="c30" d="M573 2131l11 23 11 40-11-22zM947 2071l11 4 10 21-10-8z"/>
<path class="c54" d="M296 1826l11 11 10 15-10-14z"/>
<path class="c6" d="M1203 2350l11-3 10 20-10 8z"/>
<path class="c5" d="M1214 2375l10-8 11 2-11 11z"/>
<path class="c47" d="M381 1995l11-15 11 13-11 11z"/>
<path class="c26" d="M808 2255l11-25 11-16-11 23z"/>
<path class="c51" d="M232 1907l11 14-11-1-11-2z"/>
<path class="c45" d="M275 1951l10 26 11 29-11-17z"/>
<path class="c44" d="M456 1914l11-28 10-21-10 31z"/>
<path class="c8" d="M1288 2288l11-8-11 18-10 0z"/>
<path class="c10" d="M1288 2278l11 3 11 4-11 13zM1192 2324l11 32-11-25-10-25z"/>
<path class="c9" d="M1288 2287l11 11 11 28-11-1zM1203 2329l11 35-11-8-11-32z"/>
<path class="c42" d="M637 1925l11-3 11 3-11-1z"/>
<path class="c22" d="M979 2121l11 24 10 22-10-13z"/>
<path class="c25" d="M979 2183l11-33 10 16-10 30zM968 2185l11-31 11-4-11 33z"/>
<path class="c35" d="M595 2137l10 17 11 23-11-18z"/>
<path class="c31" d="M573 2118l11 25 11 25-11-14z"/>
<path class="c35" d="M563 2179l10-32 11 0-11 34zM563 2164l10-18 11-12-11 13z"/>
<path class="c52" d="M307 1838l10 14 11 32-11-16z"/>
<path class="c53" d="M296 1852l11-14 10 30-10 7z"/>
<path class="c55" d="M285 1843l11-17 11 12-11 14z"/>
<path class="c6" d="M1214 2364l10 16-10-5-11-19z"/>
<path class="c41" d="M445 1925l11-11 11-18-11 22z"/>
<path class="c11" d="M1278 2265l10 22 11 38-11-19z"/>
<path class="c13" d="M1267 2251l11 14 10 41-10-21z"/>
<path class="c12" d="M1278 2256l10 22 11 20-11-11z"/>
<path class="c14" d="M1182 2300l10 24-10-18-11-11z"/>
<path class="c26" d="M990 2150l10-8 11 19-11 5z"/>
<path class="c27" d="M979 2154l11-12 10 0-10 8z"/>
<path class="c36" d="M584 2147l11-10 10 22-10 6z"/>
<path class="c32" d="M584 2196l11-31 10 27-10 23z"/>
<path class="c34" d="M573 2181l11-34 11 18-11 31z"/>
<path class="c37" d="M573 2147l11-13 11 3-11 10z"/>
<path class="c33" d="M552 2193l11-29 10-17-10 32z"/>
<path class="c42" d="M435 1899l10 20 11 20-11-7z"/>
<path class="c47" d="M424 1945l11-27 10 0-10 26zM445 1918l11 0 11 23-11-5z"/>
<path class="c15" d="M1160 2307l11-12 11 5-11-3z"/>
<path class="c46" d="M435 1944l10-26 11 18-11 23z"/>
<path class="c44" d="M445 1959l11-23 11 32-11 14z"/>
<path class="c48" d="M435 1918l10-4 11 4-11 0z"/>
<path class="c16" d="M1182 2282l10 14-10 4-11-3z"/>
<path class="c14" d="M1150 2337l10-30 11-10-11 20z"/>
<path class="c16" d="M1171 2294l11-12-11 15-11 20z"/>
<path class="c14" d="M1150 2346l10-29 11-23-11 30z"/>
<path class="c12" d="M1139 2365l11-19 10-22-10 28z"/>
<path class="c11" d="M1139 2362l11-10-11 13-11-4z"/>
<path class="c12" d="M1128 2348l11 14-11-1-10-27z"/>
</g>
<path d="M20 174.1L20 235.3L79.75 260.2L139.5 235.3M79.75 260.2l-1.1 .9M79.75 260.2l1.1 .9M64.81 253.97l-1.1 .9M94.69 253.97l1.1 .9M49.88 247.75l-1.1 .9M109.62 247.75l1.1 .9M34.94 241.52l-1.1 .9M124.56 241.52l1.1 .9M20 235.3l-1.1 .9M139.5 235.3l1.1 .9M20 235.3l-1.3 0M20 214.9l-1.3 0M20 194.5l-1.3 0M20 174.1l-1.3 0" stroke="#4d4d4d" stroke-width=".38" fill="none"/>
<text transform="translate(76.75 266) scale(.1)" font-size="43.5" text-anchor="end">-100</text>
<text transform="translate(82.95 266.1) scale(.1)" font-size="43.5" text-anchor="start">-100</text>
<text transform="translate(61.81 259.77) scale(.1)" font-size="43.5" text-anchor="end">-50</text>
<text transform="translate(97.89 259.88) scale(.1)" font-size="43.5" text-anchor="start">-50</text>
<text transform="translate(46.88 253.55) scale(.1)" font-size="43.5" text-anchor="end">0</text>
<text transform="translate(112.83 253.65) scale(.1)" font-size="43.5" text-anchor="start">0</text>
<text transform="translate(31.94 247.32) scale(.1)" font-size="43.5" text-anchor="end">50</text>
<text transform="translate(127.76 247.42) scale(.1)" font-size="43.5" text-anchor="start">50</text>
<text transform="translate(17 241.1) scale(.1)" font-size="43.5" text-anchor="end">100</text>
<text transform="translate(142.7 241.2) scale(.1)" font-size="43.5" text-anchor="start">100</text>
<text transform="translate(17.4 236.2) scale(.1)" font-size="43.5" text-anchor="end">800</text>
<text transform="translate(17.4 215.8) scale(.1)" font-size="43.5" text-anchor="end">850</text>
<text transform="translate(17.4 195.4) scale(.1)" font-size="43.5" text-anchor="end">900</text>
<text transform="translate(17.4 175) scale(.1)" font-size="43.5" text-anchor="end">950</text>
<text transform="translate(35.58 266.05) scale(.1)" font-size="48" text-anchor="middle">Y-coordinate</text>
<text transform="translate(124.03 266.05) scale(.1)" font-size="48" text-anchor="middle">X-coordinate</text>
<text transform="translate(7 204.7) rotate(-90) scale(.1)" font-size="48" text-anchor="middle">Function Value</text>
<text transform="translate(79.75 147.6) scale(.1)" font-size="47.5" text-anchor="middle" font-weight="bold" fill="#111">2D Visualization of Benchmark Function F4</text>
<rect x="152" y="149.75" width="6.25" height="109.75" fill="url(#pg)" stroke="#777" stroke-width=".25"/>
<text transform="translate(160.45 245.39) scale(.1)" font-size="41" text-anchor="start">820</text>
<text transform="translate(160.45 229.01) scale(.1)" font-size="41" text-anchor="start">840</text>
<text transform="translate(160.45 212.63) scale(.1)" font-size="41" text-anchor="start">860</text>
<text transform="translate(160.45 196.25) scale(.1)" font-size="41" text-anchor="start">880</text>
<text transform="translate(160.45 179.87) scale(.1)" font-size="41" text-anchor="start">900</text>
<text transform="translate(160.45 163.49) scale(.1)" font-size="41" text-anchor="start">920</text>
<path d="M152 243.94l1 0M158.25 243.94l-1 0M152 227.56l1 0M158.25 227.56l-1 0M152 211.18l1 0M158.25 211.18l-1 0M152 194.8l1 0M158.25 194.8l-1 0M152 178.42l1 0M158.25 178.42l-1 0M152 162.04l1 0M158.25 162.04l-1 0" stroke="#4d4d4d" stroke-width=".3" fill="none"/>
</g>
<g>
<path d="M268.75 260.2L210 235.3M268.75 260.2L327.5 235.3M210 235.3L210 174.1M327.5 235.3L327.5 174.1M283.44 253.97L224.69 229.07M254.06 253.97L312.81 229.07M224.69 229.07L224.69 167.88M312.81 229.07L312.81 167.88M298.12 247.75L239.38 222.85M239.38 247.75L298.12 222.85M239.38 222.85L239.38 161.65M298.12 222.85L298.12 161.65M312.81 241.52L254.06 216.62M224.69 241.52L283.44 216.62M254.06 216.62L254.06 155.43M283.44 216.62L283.44 155.43M327.5 235.3L268.75 210.4M210 235.3L268.75 210.4M268.75 210.4L268.75 149.2M268.75 210.4L268.75 149.2M210 235.3L268.75 210.4M268.75 210.4L327.5 235.3M210 214.9L268.75 190M268.75 190L327.5 214.9M210 194.5L268.75 169.6M268.75 169.6L327.5 194.5M210 174.1L268.75 149.2M268.75 149.2L327.5 174.1" stroke="#e2e2e2" stroke-width=".3" fill="none"/>
<g transform="scale(.1)" stroke-width="5" stroke-linejoin="round">
<path class="c1" stroke-width="0" fill-rule="nonzero" d="M2688 2563L2697 2559L2707 2555L2717 2551L2727 2547L2736 2542L2746 2538L2756 2534L2766 2530L2776 2526L2785 2521L2795 2517L2805 2513L2815 2508L2825 2504L2834 2500L2844 2495L2854 2491L2864 2486L2874 2482L2883 2477L2893 2473L2903 2468L2913 2463L2922 2459L2932 2454L2942 2449L2952 2445L2962 2440L2971 2435L2981 2430L2991 2425L3001 2420L3011 2416L3020 2411L3030 2406L3040 2401L3050 2396L3060 2391L3069 2386L3079 2381L3089 2375L3099 2370L3109 2365L3118 2360L3128 2355L3138 2350L3148 2344L3158 2339L3167 2334L3177 2328L3187 2323L3197 2318L3206 2312L3216 2307L3226 2301L3236 2296L3246 2290L3255 2285L3265 2279L3275 2273L3265 2270L3255 2267L3246 2263L3236 2260L3226 2256L3216 2253L3206 2250L3197 2246L3187 2243L3177 2239L3167 2236L3158 2232L3148 2229L3138 2225L3128 2222L3118 2218L3109 2214L3099 2211L3089 2207L3079 2204L3069 2200L3060 2196L3050 2193L3040 2189L3030 2186L3020 2182L3011 2178L3001 2175L2991 2171L2981 2167L2971 2163L2962 2160L2952 2156L2942 2152L2932 2148L2922 2145L2913 2141L2903 2137L2893 2133L2883 2130L2874 2126L2864 2122L2854 2118L2844 2114L2834 2110L2825 2106L2815 2103L2805 2099L2795 2095L2785 2091L2776 2087L2766 2083L2756 2079L2746 2075L2736 2071L2727 2067L2717 2063L2707 2059L2697 2055L2688 2051L2678 2056L2668 2061L2658 2066L2648 2071L2639 2075L2629 2080L2619 2085L2609 2090L2599 2095L2590 2099L2580 2104L2570 2109L2560 2113L2550 2118L2541 2122L2531 2127L2521 2132L2511 2136L2501 2140L2492 2145L2482 2149L2472 2154L2462 2158L2452 2162L2443 2167L2433 2171L2423 2175L2413 2180L2404 2184L2394 2188L2384 2192L2374 2196L2364 2200L2355 2204L2345 2208L2335 2212L2325 2216L2315 2220L2306 2224L2296 2228L2286 2232L2276 2236L2266 2240L2257 2244L2247 2247L2237 2251L2227 2255L2218 2259L2208 2262L2198 2266L2188 2270L2178 2273L2169 2277L2159 2280L2149 2284L2139 2287L2129 2291L2120 2294L2110 2298L2100 2301L2110 2306L2120 2310L2129 2315L2139 2320L2149 2324L2159 2329L2169 2334L2178 2338L2188 2343L2198 2347L2208 2352L2218 2356L2227 2361L2237 2366L2247 2370L2257 2375L2266 2379L2276 2384L2286 2388L2296 2393L2306 2397L2315 2402L2325 2406L2335 2410L2345 2415L2355 2419L2364 2424L2374 2428L2384 2433L2394 2437L2404 2441L2413 2446L2423 2450L2433 2454L2443 2459L2452 2463L2462 2467L2472 2471L2482 2476L2492 2480L2501 2484L2511 2488L2521 2493L2531 2497L2541 2501L2550 2505L2560 2510L2570 2514L2580 2518L2590 2522L2599 2526L2609 2530L2619 2534L2629 2539L2639 2543L2648 2547L2658 2551L2668 2555L2678 2559z"/>
<path class="c0" d="M2658 2551l30-12 29 12-29 12zM2688 2539l29-13 29 12-29 13zM2629 2539l29-12 30 12-30 12zM2717 2526l29-12 30 12-30 12zM2599 2526l30-12 29 13-29 12zM2658 2527l30-13 29 12-29 13zM2570 2514l29-12 30 12-30 12zM2746 2514l30-13 29 12-29 13zM2688 2514l29-12 29 12-29 12zM2629 2514l29-12 30 12-30 13zM2776 2501l29-13 29 12-29 13zM2717 2502l29-13 30 12-30 13zM2658 2502l30-12 29 12-29 12zM2599 2502l30-12 29 12-29 12zM2541 2501l29-12 29 13-29 12zM2746 2489l30-13 29 12-29 13zM2629 2490l29-12 30 12-30 12zM2570 2489l29-12 30 13-30 12zM2805 2488l29-13 30 11-30 14zM2688 2490l29-13 29 12-29 13zM2511 2488l30-11 29 12-29 12zM2717 2477l29-13 30 12-30 13zM2658 2478l30-13 29 12-29 13zM2599 2477l30-12 29 13-29 12zM2776 2476l29-13 29 12-29 13zM2541 2477l29-12 29 12-29 12zM2834 2475l30-14 29 12-29 13zM2482 2476l29-12 30 13-30 11zM2688 2465l29-13 29 12-29 13zM2864 2461l29-14 29 12-29 14zM2746 2464l30-13 29 12-29 13zM2629 2465l29-12 30 12-30 13zM2570 2465l29-12 30 12-30 12zM2452 2463l30-12 29 13-29 12zM2805 2463l29-14 30 12-30 14zM2511 2464l30-12 29 13-29 12zM2658 2453l30-13 29 12-29 13zM2834 2449l30-13 29 11-29 14zM2717 2452l29-13 30 12-30 13zM2482 2451l29-11 30 12-30 12zM2423 2450l29-11 30 12-30 12zM2893 2447l29-14 30 12-30 14zM2776 2451l29-13 29 11-29 14zM2599 2453l30-12 29 12-29 12zM2541 2452l29-12 29 13-29 12zM2864 2436l29-14 29 11-29 14zM2805 2438l29-14 30 12-30 13zM2746 2439l30-13 29 12-29 13zM2688 2440l29-13 29 12-29 13zM2629 2441l29-13 30 12-30 13zM2511 2440l30-12 29 12-29 12zM2452 2439l30-12 29 13-29 11zM2394 2437l29-11 29 13-29 11zM2570 2440l29-12 30 13-30 12zM2423 2426l29-12 30 13-30 12zM2893 2422l29-14 30 11-30 14zM2834 2424l30-14 29 12-29 14zM2776 2426l29-13 29 11-29 14zM2717 2427l29-13 30 12-30 13zM2658 2428l30-13 29 12-29 13zM2599 2428l30-12 29 12-29 13zM2541 2428l29-12 29 12-29 12zM2482 2427l29-12 30 13-30 12zM2364 2424l30-11 29 13-29 11zM2864 2410l29-14 29 12-29 14zM2746 2414l30-13 29 12-29 13zM2570 2416l29-13 30 13-30 12zM2511 2415l30-12 29 13-29 12zM2452 2414l30-11 29 12-29 12zM2394 2413l29-12 29 13-29 12zM2805 2413l29-14 30 11-30 14zM2688 2415l29-13 29 12-29 13zM2629 2416l29-13 30 12-30 13zM2335 2410l29-11 30 14-30 11zM2834 2399l30-14 29 11-29 14zM2541 2403l29-12 29 12-29 13zM2893 2396l29-14 30 11-30 15zM2776 2401l29-14 29 12-29 14zM2717 2402l29-13 30 12-30 13zM2599 2403l30-12 29 12-29 13zM2482 2403l29-12 30 12-30 12zM2423 2401l29-11 30 13-30 11zM2364 2399l30-11 29 13-29 12zM2306 2397l29-11 29 13-29 11zM2658 2403l30-13 29 12-29 13zM2864 2385l29-14 29 11-29 14zM2805 2387l29-14 30 12-30 14zM2570 2391l29-13 30 13-30 12zM2511 2391l30-13 29 13-29 12zM2335 2386l29-11 30 13-30 11zM2746 2389l30-14 29 12-29 14zM2688 2390l29-13 29 12-29 13zM2629 2391l29-13 30 12-30 13zM2452 2390l30-12 29 13-29 12zM2394 2388l29-11 29 13-29 11zM2276 2384l30-11 29 13-29 11zM2834 2373l30-14 29 12-29 14zM2776 2375l29-13 29 11-29 14zM2658 2378l30-13 29 12-29 13zM2599 2378l30-12 29 12-29 13zM2541 2378l29-12 29 12-29 13zM2482 2378l29-12 30 12-30 13zM2364 2375l30-11 29 13-29 11zM2306 2373l29-11 29 13-29 11zM2717 2377l29-13 30 11-30 14zM2423 2377l29-12 30 13-30 12zM2247 2370l29-11 30 14-30 11zM2218 2356l29-10 29 13-29 11zM2864 2359l29-14 29 11-29 15zM2805 2362l29-14 30 11-30 14zM2746 2364l30-14 29 12-29 13zM2688 2365l29-13 29 12-29 13zM2629 2366l29-13 30 12-30 13zM2570 2366l29-13 30 13-30 12zM2511 2366l30-13 29 13-29 12zM2452 2365l30-12 29 13-29 12zM2394 2364l29-12 29 13-29 12zM2335 2362l29-12 30 14-30 11zM2276 2359l30-11 29 14-29 11zM2247 2346l29-11 30 13-30 11zM2717 2352l29-14 30 12-30 14zM2599 2353l30-13 29 13-29 13zM2423 2352l29-12 30 13-30 12zM2834 2348l30-15 29 12-29 14zM2776 2350l29-14 29 12-29 14zM2658 2353l30-14 29 13-29 13zM2541 2353l29-12 29 12-29 13zM2482 2353l29-12 30 12-30 13zM2364 2350l30-11 29 13-29 12zM2306 2348l29-11 29 13-29 12zM2688 2339l29-13 29 12-29 14zM2276 2335l30-11 29 13-29 11zM2746 2338l30-14 29 12-29 14zM2629 2340l29-13 30 12-30 14zM2570 2341l29-13 30 12-30 13zM2452 2340l30-12 29 13-29 12zM2394 2339l29-12 29 13-29 12zM2218 2332l29-11 29 14-29 11zM2805 2336l29-14 30 11-30 15zM2511 2341l30-13 29 13-29 12zM2335 2337l29-11 30 13-30 11zM2717 2326l29-14 30 12-30 14zM2658 2327l30-13 29 12-29 13zM2306 2324l29-11 29 13-29 11zM2834 2322l30-15 29 12-29 14zM2776 2324l29-14 29 12-29 14zM2599 2328l30-13 29 12-29 13zM2541 2328l29-12 29 12-29 13zM2482 2328l29-12 30 12-30 13zM2423 2327l29-12 30 13-30 12zM2364 2326l30-12 29 13-29 12zM2247 2321l29-11 30 14-30 11zM2335 2313l29-12 30 13-30 12zM2805 2310l29-14 30 11-30 15zM2746 2312l30-14 29 12-29 14zM2688 2314l29-14 29 12-29 14zM2629 2315l29-13 30 12-30 13zM2570 2316l29-13 30 12-30 13zM2511 2316l30-13 29 13-29 12zM2452 2315l30-12 29 13-29 12zM2394 2314l29-12 29 13-29 12zM2276 2310l30-11 29 14-29 11zM2218 2308l29-11 29 13-29 11zM2364 2301l30-12 29 13-29 12zM2776 2298l29-14 29 12-29 14zM2717 2300l29-13 30 11-30 14zM2658 2302l30-14 29 12-29 14zM2599 2303l30-13 29 12-29 13zM2541 2303l29-13 29 13-29 13zM2482 2303l29-13 30 13-30 13zM2306 2299l29-11 29 13-29 12zM2247 2297l29-11 30 13-30 11zM2188 2294l30-11 29 14-29 11zM2423 2302l29-12 30 13-30 12zM2805 2284l29-14 30 11-30 15zM2746 2287l30-15 29 12-29 14zM2688 2288l29-13 29 12-29 13zM2629 2290l29-14 30 12-30 14zM2570 2290l29-13 30 13-30 13zM2511 2290l30-12 29 12-29 13zM2452 2290l30-12 29 12-29 13zM2394 2289l29-12 29 13-29 12zM2335 2288l29-12 30 13-30 12zM2276 2286l30-12 29 14-29 11zM2218 2283l29-11 29 14-29 11zM2776 2272l29-14 29 12-29 14zM2717 2275l29-14 30 11-30 15zM2599 2277l30-13 29 12-29 14zM2541 2278l29-13 29 12-29 13zM2423 2277l29-12 30 13-30 12zM2306 2274l29-11 29 13-29 12zM2247 2272l29-11 30 13-30 12zM2658 2276l30-14 29 13-29 13zM2482 2278l29-13 30 13-30 12zM2364 2276l30-12 29 13-29 12zM2188 2270l30-11 29 13-29 11zM2452 2265l30-13 29 13-29 13zM2746 2261l30-15 29 12-29 14zM2688 2262l29-13 29 12-29 14zM2629 2264l29-14 30 12-30 14zM2570 2265l29-13 30 12-30 13zM2511 2265l30-13 29 13-29 13zM2394 2264l29-12 29 13-29 12zM2335 2263l29-12 30 13-30 12zM2276 2261l30-12 29 14-29 11zM2218 2259l29-12 29 14-29 11zM2717 2249l29-15 30 12-30 15zM2658 2250l30-13 29 12-29 13zM2599 2252l30-14 29 12-29 14zM2541 2252l29-13 29 13-29 13zM2482 2252l29-12 30 12-30 13zM2423 2252l29-13 30 13-30 13zM2364 2251l30-12 29 13-29 12zM2306 2249l29-11 29 13-29 12zM2247 2247l29-11 30 13-30 12zM2511 2240l30-14 29 13-29 13zM2688 2237l29-14 29 11-29 15zM2629 2238l29-14 30 13-30 13zM2452 2239l30-12 29 13-29 12zM2394 2239l29-13 29 13-29 13zM2335 2238l29-12 30 13-30 12zM2746 2234l30-14 29 12-29 14zM2570 2239l29-13 30 12-30 14zM2276 2236l30-12 29 14-29 11zM2717 2223l29-15 30 12-30 14zM2658 2224l30-14 29 13-29 14zM2599 2226l30-14 29 12-29 14zM2541 2226l29-13 29 13-29 13zM2482 2227l29-13 30 12-30 14zM2423 2226l29-12 30 13-30 12zM2364 2226l30-13 29 13-29 13zM2306 2224l29-12 29 14-29 12zM2570 2213l29-13 30 12-30 14zM2452 2214l30-13 29 13-29 13zM2394 2213l29-12 29 13-29 12zM2688 2210l29-14 29 12-29 15zM2629 2212l29-14 30 12-30 14zM2511 2214l30-13 29 12-29 13zM2335 2212l29-12 30 13-30 13zM2599 2200l30-14 29 12-29 14zM2658 2198l30-14 29 12-29 14zM2541 2201l29-14 29 13-29 13zM2482 2201l29-13 30 13-30 13zM2423 2201l29-13 30 13-30 13zM2364 2200l30-12 29 13-29 12zM2688 2184l29-14 29 12-29 14zM2629 2186l29-14 30 12-30 14zM2570 2187l29-13 30 12-30 14zM2511 2188l30-13 29 12-29 14zM2452 2188l30-13 29 13-29 13zM2394 2188l29-13 29 13-29 13zM2658 2172l30-14 29 12-29 14zM2541 2175l29-14 29 13-29 13zM2482 2175l29-13 30 13-30 13zM2599 2174l30-14 29 12-29 14zM2423 2175l29-13 30 13-30 13zM2629 2160l29-14 30 12-30 14zM2570 2161l29-14 30 13-30 14zM2511 2162l30-13 29 12-29 14zM2452 2162l30-13 29 13-29 13zM2599 2147l30-14 29 13-29 14zM2541 2149l29-14 29 12-29 14zM2482 2149l29-13 30 13-30 13zM2570 2135l29-14 30 12-30 14zM2511 2136l30-14 29 13-29 14zM2541 2122l29-13 29 12-29 14z"/>
<path class="c1" d="M2922 2433l30-14 29 11-29 15zM2952 2419l29-15 30 12-30 14zM2981 2404l30-14 29 11-29 15zM2922 2408l30-15 29 11-29 15zM3011 2390l29-15 29 11-29 15zM2952 2393l29-14 30 11-30 14zM2981 2379l30-15 29 11-29 15zM2922 2382l30-15 29 12-29 14zM3011 2364l29-15 29 11-29 15zM2952 2367l29-14 30 11-30 15zM2893 2371l29-15 30 11-30 15zM2981 2353l30-15 29 11-29 15zM2922 2356l30-14 29 11-29 14zM2893 2345l29-15 30 12-30 14zM2952 2342l29-15 30 11-30 15zM2188 2343l30-11 29 14-29 10zM2922 2330l30-15 29 12-29 15zM2864 2333l29-14 29 11-29 15zM2159 2329l29-11 30 14-30 11zM2981 2327l30-16 29 11-29 16zM2188 2318l30-10 29 13-29 11zM2952 2315l29-15 30 11-30 16zM2893 2319l29-15 30 11-30 15zM2129 2315l30-10 29 13-29 11zM2922 2304l30-15 29 11-29 15zM2864 2307l29-14 29 11-29 15zM2159 2305l29-11 30 14-30 10zM2100 2301l29-10 30 14-30 10zM2952 2289l29-15 30 11-30 15zM2834 2296l30-15 29 12-29 14zM2129 2291l30-11 29 14-29 11zM2893 2293l29-15 30 11-30 15zM2922 2278l30-15 29 11-29 15zM2864 2281l29-14 29 11-29 15zM2159 2280l29-10 30 13-30 11zM2893 2267l29-15 30 11-30 15zM2834 2270l30-15 29 12-29 14zM2922 2252l30-16 29 12-29 15zM2864 2255l29-15 29 12-29 15zM2805 2258l29-14 30 11-30 15zM2893 2240l29-15 30 11-30 16zM2834 2244l30-15 29 11-29 15zM2776 2246l29-14 29 12-29 14zM2864 2229l29-15 29 11-29 15zM2805 2232l29-15 30 12-30 15zM2893 2214l29-16 30 12-30 15zM2834 2217l30-15 29 12-29 15zM2776 2220l29-14 29 11-29 15zM2864 2202l29-15 29 11-29 16zM2805 2206l29-15 30 11-30 15zM2746 2208l30-14 29 12-29 14zM2776 2194l29-15 29 12-29 15zM2834 2191l30-15 29 11-29 15zM2717 2196l29-14 30 12-30 14zM2805 2179l29-15 30 12-30 15zM2746 2182l30-15 29 12-29 15zM2834 2164l30-15 29 11-29 16zM2776 2167l29-15 29 12-29 15zM2717 2170l29-15 30 12-30 15zM2688 2158l29-15 29 12-29 15zM2805 2152l29-15 30 12-30 15zM2746 2155l30-14 29 11-29 15zM2717 2143l29-14 30 12-30 14zM2658 2146l30-15 29 12-29 15zM2776 2141l29-15 29 11-29 15zM2746 2129l30-15 29 12-29 15zM2629 2133l29-14 30 12-30 15zM2688 2131l29-14 29 12-29 14zM2776 2114l29-15 29 11-29 16zM2717 2117l29-15 30 12-30 15zM2658 2119l30-14 29 12-29 14zM2599 2121l30-14 29 12-29 14zM2688 2105l29-15 29 12-29 15zM2629 2107l29-14 30 12-30 14zM2570 2109l29-14 30 12-30 14zM2746 2102l30-15 29 12-29 15zM2717 2090l29-15 30 12-30 15zM2658 2093l30-15 29 12-29 15zM2599 2095l30-15 29 13-29 14zM2688 2078l29-15 29 12-29 15zM2629 2080l29-14 30 12-30 15zM2658 2066l30-15 29 12-29 15z"/>
<path class="c2" d="M3040 2375l29-15 30 10-30 16zM3069 2360l30-16 29 11-29 15zM3099 2344l29-16 30 11-30 16zM3040 2349l29-16 30 11-30 16zM3069 2333l30-15 29 10-29 16zM3011 2338l29-16 29 11-29 16zM3099 2318l29-16 30 10-30 16zM3040 2322l29-15 30 11-30 15zM3069 2307l30-16 29 11-29 16zM3011 2311l29-15 29 11-29 15zM3040 2296l29-16 30 11-30 16zM2981 2300l30-15 29 11-29 15zM3069 2280l30-15 29 10-29 16zM3011 2285l29-15 29 10-29 16zM3040 2270l29-16 30 11-30 15zM2981 2274l30-15 29 11-29 15zM3011 2259l29-16 29 11-29 16zM2952 2263l29-15 30 11-30 15zM3040 2243l29-16 30 11-30 16zM2981 2248l30-16 29 11-29 16zM3011 2232l29-16 29 11-29 16zM2952 2236l29-15 30 11-30 16zM2981 2221l30-16 29 11-29 16zM2922 2225l30-15 29 11-29 15zM3011 2205l29-16 29 11-29 16zM2952 2210l29-16 30 11-30 16zM2922 2198l30-15 29 11-29 16zM2981 2194l30-16 29 11-29 16zM2952 2183l29-16 30 11-30 16zM2893 2187l29-15 30 11-30 15zM2922 2172l30-16 29 11-29 16zM2864 2176l29-16 29 12-29 15zM2893 2160l29-15 30 11-30 16zM2864 2149l29-16 29 12-29 15zM2834 2137l30-15 29 11-29 16zM2805 2126l29-16 30 12-30 15z"/>
<path class="c3" d="M3128 2328l30-16 29 11-29 16zM3158 2312l29-16 29 11-29 16zM3128 2302l30-16 29 10-29 16zM3187 2296l29-16 30 10-30 17zM3158 2286l29-16 29 10-29 16zM3099 2291l29-16 30 11-30 16zM3128 2275l30-16 29 11-29 16zM3158 2259l29-16 29 10-29 17zM3099 2265l29-17 30 11-30 16zM3128 2248l30-16 29 11-29 16zM3069 2254l30-16 29 10-29 17zM3099 2238l29-16 30 10-30 16zM3069 2227l30-16 29 11-29 16zM3040 2216l29-16 30 11-30 16z"/>
<path class="c4" d="M3216 2280l30-17 29 10-29 17zM3187 2270l29-17 30 10-30 17z"/>
</g>
<g transform="scale(.1)" stroke-width="3" stroke-linejoin="round">
<path class="c2 o1" d="M2304 2177l4 50-3-3-3-51zM2322 2180l4 45-6-8-3-47zM2365 2161l4 41-3-3-3-41zM2383 2161l4 38-5-7-3-39zM2548 2040l4 77-1-1zM2566 2032l4 82-4-5-3-84z"/>
<path class="c5 o1" d="M2181 2170l4 105-3-5-3-105zM2200 2179l4 94-7-9-3-95zM2763 2078l6-184 9 18-4 182zM2689 1885l4 166-1-2-4-73-2-96z"/>
<path class="c3 o1" d="M2164 2202l3 74-1-1zM2242 2180l4 72-3-5-3-72zM2261 2186l4 64-6-9-4-65zM2627 1964l4 119-3-5-3-119z"/>
<path class="c1 o1" d="M2426 2133l4 42-2-3-3-41zM2444 2130l4 42-5-6-3-44zM2487 2093l4 54-1-2-4-53zM2480 2149l3-43 1-12 12 24-4 48zM2481 2122l4 45-11-15-3-49zM2505 2087l4 57-4-6-3-58z"/>
<path class="c1 o2" d="M2504 2068l1 19-3-7-2-19zM2499 2082l1-21 4 7-2 20zM2479 2107l2 15-10-19-1-17zM2468 2104l2-18 9 21-1 16zM2485 2075l2 18-1-1-1-18zM2443 2116l1 14-4-8-1-14zM2437 2124l2-16 4 8-2 15zM2424 2119l2 14-1-2-2-14z"/>
<path class="c5 o2" d="M2687 1828l2 57-3-5-1-57zM2684 1881l1-58 2 5-2 56zM2769 1894l3-61 8 18-2 61zM2780 1851l2 62-8-15-2-65zM2320 2164l2 16-5-10-1-16zM2314 2171l2-17 4 10-1 15zM2302 2159l2 18-2-4-2-17zM2299 2174l1-18 2 3-2 17z"/>
<path class="c7 o1" d="M2120 2148l4 148-4-5-3-148zM2882 2124l6-219 2 3-4 222zM2852 2113l6-209 1 1-4 212z"/>
<path class="c4 o2" d="M2422 2132l1-15 1 2-1 14zM2382 2148l1 13-4-8-2-14zM2376 2154l1-15 5 9-2 13zM2363 2147l2 14-2-3-1-14zM2361 2159l1-15 1 3-1 14z"/>
<path class="c2 o1" d="M2357 2202l4-43 1 2-4 42zM2373 2196l3-42 4 7-4 40zM2422 2132l1 1-4 42zM2296 2227l3-53 1 2-4 52zM2311 2221l3-50 5 8-4 47z"/>
<path class="c7 o2" d="M2858 1904l2-49-1 50zM2888 1905l3-72 0 1-1 74zM2891 1834l2 53-2-54zM2904 1859l1 73-12-22 0-23-2-53zM2890 1908l1-74 13 25-2 72zM2259 2164l2 22-6-10-1-22zM2253 2177l1-23 5 10-1 21z"/>
<path class="c1 o1" d="M2434 2170l3-46 4 7-4 43zM2419 2176l0-1 4-42 12 24-4 37zM2465 2156l3-52 10 19-4 45zM2463 2127l4 43-8-11-4-46zM2496 2142l3-60 3 6-4 57z"/>
<path class="c5 o1" d="M2782 1913l3 179-4-7-7-187zM2680 2051l4-170 1 3-4 169zM2701 1910l4 159-12-18-4-166zM2703 2054l7-173 6 14-4 172z"/>
<path class="c6 o1" d="M2822 2101l4-92-2 95zM2824 2104l2-95 3-107 11 22-4 197zM2793 2090l0-5 6-187 10 21-4 189z"/>
<path class="c6 o2" d="M2799 1898l2-63 10 20-2 64zM2811 1855l1 65-8-17-3-68zM2829 1902l2-66 11 22-2 66zM2842 1858l1 67-9-18-3-71zM2859 1905l1-50 1-20 12 24-2 69z"/>
<path class="c6 o1" d="M2855 2117l4-212 12 23-4 206zM2843 1925l4 194-7-10-6-202zM2856 1948l4 189-13-18-4-194zM2812 1920l4 186-6-9-6-194zM2825 1943l4 180-13-17-4-186z"/>
<path class="c5 o2" d="M2824 1881l1 62-13-23-1-65zM2809 1919l2-64 13 26-2 61zM2710 1881l2-57 6 13-2 58zM2718 1837l2 58-5-9-3-62zM2700 1856l1 54-12-25-2-57zM2685 1884l2-56 13 28-2 54z"/>
<path class="c5 o1" d="M2681 2053l4-169 13 26-4 161zM2720 1895l3 170-2-3-6-176zM2732 1921l4 161-13-17-3-170zM2733 2066l7-178 7 16-4 177zM2805 2108l4-189 13 23-4 183zM2794 1937l4 173-13-18-3-179z"/>
<path class="c5 o2" d="M2793 1878l1 59-12-24-2-62zM2778 1912l2-61 13 27-2 58zM2740 1888l2-59 7 16-2 59zM2749 1845l2 60-6-12-3-64zM2731 1865l1 56-12-26-2-58zM2716 1895l2-58 13 28-2 55z"/>
<path class="c5 o1" d="M2712 2067l4-172 13 25-4 164zM2751 1905l3 174-3-5-6-181zM2763 1929l4 167-13-17-3-174zM2774 2094l4-182 13 24-4 176zM2807 1961l4 166-13-17-4-173z"/>
<path class="c4 o1" d="M2714 1936l4 150-13-17-4-159zM2683 1925l4 147-13-17-3-154zM2646 1952l4 128-7-9-3-131z"/>
<path class="c8 o1" d="M2102 2136l4 161-1-1-3-161zM2911 2136l7-232 3 6-4 233z"/>
<path class="c8 o2" d="M2918 1904l2-75 2 4-1 77zM2922 1833l2 79-1-2-3-81zM2241 2155l1 25-2-5-1-24zM2237 2176l2-25 2 4-2 24z"/>
<path class="c3 o2" d="M2644 1908l2 44-6-12-1-44zM2638 1941l1-45 5 12-1 44zM2626 1924l1 40-2-5-2-41zM2622 1960l1-42 3 6-2 41z"/>
<path class="c3 o1" d="M2619 2083l3-123 2 5-4 120zM2622 2001l4 103-13-17-2-34-2-77zM2634 2075l4-134 5 11-4 130zM2234 2251l3-75 2 3-4 74zM2237 2195l4 75-13-17 0-1-3-78zM2250 2245l3-68 5 8-4 66z"/>
<path class="c5 o2" d="M2805 1903l2 58-13-24-1-59zM2791 1936l2-58 12 25-1 57zM2762 1872l1 57-12-24-2-60zM2747 1904l2-59 13 27-2 57z"/>
<path class="c5 o1" d="M2743 2081l4-177 13 25-4 169zM2745 1945l4 155-13-18-4-161zM2776 1954l4 160-13-18-4-167zM2787 2112l4-176 13 24-4 169z"/>
<path class="c4 o2" d="M2743 1892l2 53-13-24-1-56zM2729 1920l2-55 12 27-1 53zM2681 1875l2 50-12-24-1-53zM2668 1902l2-54 11 27-1 50zM2712 1884l2 52-13-26-1-54zM2698 1910l2-54 12 28-1 52z"/>
<path class="c4 o1" d="M2694 2071l4-161 13 26-4 152zM2695 1950l4 140-12-18-4-147zM2665 2059l3-157 12 23-4 149zM2664 1939l4 137-9-13-3-142zM2725 2084l4-164 13 25-4 157zM2726 1961l4 143-12-18-4-150z"/>
<path class="c4 o2" d="M2725 1912l1 49-12-25-2-52zM2711 1936l1-52 13 28-2 49zM2663 1892l1 47-8-18-2-48zM2653 1922l1-49 9 19-2 47zM2694 1903l1 47-12-25-2-50zM2680 1925l1-50 13 28-2 47z"/>
<path class="c4 o1" d="M2676 2074l4-149 12 25-4 142zM2677 1964l4 130-13-18-4-137zM2650 2067l3-145 8 17-4 139zM2707 2088l4-152 12 25-4 145zM2708 1975l4 133-13-18-4-140z"/>
<path class="c4 o2" d="M2706 1930l2 45-13-25-1-47zM2692 1950l2-47 12 27-1 45zM2675 1920l2 44-13-25-1-47zM2661 1939l2-47 12 28-1 44z"/>
<path class="c4 o1" d="M2657 2078l4-139 13 25-4 132zM2688 2092l4-142 13 25-4 135z"/>
<path class="c3 o1" d="M2689 1989l4 122-12-17-4-130zM2658 1977l4 120-12-17-4-128z"/>
<path class="c3 o2" d="M2657 1936l1 41-12-25-2-44zM2643 1952l1-44 13 28-2 42zM2688 1947l1 42-12-25-2-44zM2674 1964l1-44 13 27-2 42zM2620 1966l2 35-13-25-1-37zM2607 1978l1-39 12 27-2 36z"/>
<path class="c3 o1" d="M2603 2090l4-112 11 24-3 104zM2603 2012l4 96-10-14-3-101zM2670 2096l4-132 12 25-4 124zM2671 2002l4 113-13-18-4-120zM2639 2082l4-130 12 26-4 121zM2640 1989l4 112-13-18-4-119z"/>
<path class="c2 o2" d="M2602 1980l1 32-9-19-1-33zM2591 1995l2-35 9 20-2 33zM2565 2004l1 28-3-7-1-28zM2561 2027l1-30 3 7-2 28z"/>
<path class="c2 o1" d="M2557 2113l4-86 2 5-4 84zM2588 2098l3-103 9 18-4 96zM2585 2022l4 89-7-10-3-91zM2420 2159l4 36-11-16-4-40z"/>
<path class="c3 o2" d="M2638 1952l2 37-13-25-1-40zM2624 1965l2-41 12 28-1 38zM2669 1964l2 38-13-25-1-41zM2655 1978l2-42 12 28-1 38z"/>
<path class="c2 o2" d="M2583 1992l2 30-6-12-2-31zM2576 2012l1-33 6 13-1 31zM2559 2042l2 23-13-25-1-21-1-4z"/>
<path class="c3 o1" d="M2651 2099l4-121 13 24-4 115zM2653 2014l4 104-13-17-4-112zM2620 2085l4-120 13 25-4 113z"/>
<path class="c9 o1" d="M2941 2147l6-244 5 8-4 245z"/>
<path class="c15 o1" d="M3060 2190l6-303 10 14-4 305z"/>
<path class="c18 o1" d="M3090 2203l1-23 5-291 11 16-4 315z"/>
<path class="c22 o1" d="M3119 2213l5-204-3 207zM3121 2216l3-207 2-118 12 17-4 325z"/>
<path class="c27 o1" d="M3149 2225l6-333 1 1-4 336z"/>
<path class="c34 o1" d="M3179 2236l6-343 2 3-4 346z"/>
<path class="c43 o1" d="M3208 2247l7-354 3 4-4 358z"/>
<path class="c55 o1" d="M3238 2259l6-367 5 6-4 370z"/>
<path class="c63 o1" d="M3271 2275l-3-5 6-379 1 1z"/>
<path class="c0 o1" d="M2553 2450l4 7-12-16-4-6zM2566 2465l4 9-13-17-4-7z"/>
<path class="c11 o2" d="M2180 2135l1 35-2-5-2-35zM2176 2166l1-36 3 5-2 35z"/>
<path class="c10 o2" d="M2198 2147l2 32-6-10-1-32zM2191 2170l2-33 5 10-1 32z"/>
<path class="c5 o1" d="M2188 2268l3-98 6 9-4 95zM2173 2273l3-107 2 4-4 106z"/>
<path class="c16 o2" d="M2119 2099l1 49-3-5-1-50zM2114 2145l2-52 3 6-2 50z"/>
<path class="c7 o1" d="M2111 2294l3-149 3 4-4 148zM2121 2308l-8-11 4-148 11 18zM2905 1932l4 214-10-14-6-222zM2886 2130l4-222 12 23-4 217z"/>
<path class="c1 o2" d="M2461 2112l2 15-8-14-1-15zM2453 2114l1-16 7 14-2 15z"/>
<path class="c7 o2" d="M2873 1859l1 70-11-20-2-74z"/>
<path class="c6 o2" d="M2854 1883l2 65-13-23-1-67zM2840 1924l2-66 12 25-1 64z"/>
<path class="c6 o1" d="M2836 2121l4-197 13 23-4 192zM2176 2182l4 111-13-17-3-74-1-41z"/>
<path class="c17 o2" d="M2100 2081l2 55 0-1zM2103 2138l-1-2-2-55 1 1z"/>
<path class="c8 o1" d="M2109 2302l-3-5-4-161 1 2zM2924 1912l2 158-3-160zM2936 1934l4 224-11-15-3-73-2-158z"/>
<path class="c8 o2" d="M2935 1856l1 78-12-22-2-79zM2921 1910l1-77 13 23-2 76zM2235 2169l2 26-12-21-2-27zM2222 2175l1-28 12 22-1 26z"/>
<path class="c5 o2" d="M2774 1899l2 55-13-25-1-57zM2760 1929l2-57 12 27-1 54z"/>
<path class="c5 o1" d="M2756 2098l4-169 13 24-4 163zM2838 1966l4 175-13-18-4-180z"/>
<path class="c4 o1" d="M2757 1970l4 148-12-18-4-155zM2788 1977l4 154-12-17-4-160zM2219 2257l3-82 12 20-4 76zM2218 2188l4 84-9-13-4-87z"/>
<path class="c4 o2" d="M2787 1925l1 52-12-23-2-55zM2773 1953l1-54 13 26-2 52zM2756 1919l1 51-12-25-2-53zM2742 1945l1-53 13 27-2 51zM2418 2147l2 12-11-20-1-13zM2407 2140l1-14 10 21-1 12z"/>
<path class="c2 o1" d="M2403 2183l4-43 10 19-4 37zM2401 2160l4 37-8-11-3-40zM2573 2106l3-94 6 11-4 90z"/>
<path class="c9 o2" d="M2217 2159l1 29-9-16-1-30zM2207 2173l1-31 9 17-2 28zM2947 1903l3-80 3 6-1 82zM2953 1829l2 84-3-4-2-86z"/>
<path class="c4 o1" d="M2203 2262l4-89 8 14-4 86zM2738 2102l4-157 12 25-4 150zM2739 1985l4 136-13-17-4-143zM2769 2116l4-163 12 24-4 156zM2770 1993l4 142-13-17-4-148z"/>
<path class="c4 o2" d="M2768 1945l2 48-13-23-1-51zM2754 1970l2-51 12 26-1 48zM2737 1938l2 47-13-24-1-49zM2723 1961l2-49 12 26-1 47zM2400 2148l1 12-7-14-1-13zM2391 2147l2-14 7 15-2 13z"/>
<path class="c4 o1" d="M2719 2106l4-145 13 24-4 138zM2720 1999l4 126-12-17-4-133zM2750 2120l4-150 13 23-4 144zM2751 2008l4 131-12-18-4-136z"/>
<path class="c3 o2" d="M2719 1956l1 43-12-24-2-45zM2705 1975l1-45 13 26-2 44zM2651 1979l2 35-13-25-2-37zM2637 1990l1-38 13 27-2 36z"/>
<path class="c3 o1" d="M2633 2103l4-113 12 25-3 105zM2634 2026l4 96-12-18-4-103zM2701 2110l4-135 12 25-4 127zM2702 2013l4 116-13-18-4-122z"/>
<path class="c3 o2" d="M2700 1974l2 39-13-24-1-42zM2686 1989l2-42 12 27-1 40zM2633 1994l1 32-12-25-2-35z"/>
<path class="c15 o2" d="M3066 1887l3-98 8 13-1 99z"/>
<path class="c16 o2" d="M3077 1802l2 105-8-11-2-107zM2128 2167l-11-18 2-50 11 20z"/>
<path class="c18 o2" d="M3096 1889l2-100 10 14-1 102z"/>
<path class="c22 o2" d="M3126 1891l2-104 11 16-1 105z"/>
<path class="c28 o2" d="M3155 1892l2-100-1 101zM3156 1893l1-101 1-6 12 17-1 108zM3170 1803l2 116-12-16-2-117z"/>
<path class="c35 o2" d="M3185 1893l3-110 1 1-2 112z"/>
<path class="c44 o2" d="M3215 1893l2-113 3 3-2 114z"/>
<path class="c57 o2" d="M3244 1892l3-117 4 5-2 118z"/>
<path class="c1 o1" d="M2450 2163l3-49 6 13-3 44z"/>
<path class="c7 o1" d="M2874 1929l4 203-8-12-7-211z"/>
<path class="c12 o2" d="M2174 2144l2 38-13-21-1-39zM2161 2162l1-40 12 22-2 38z"/>
<path class="c6 o1" d="M2157 2279l4-117 11 20-4 112zM2157 2172l4 122-10-14-3-124zM2887 1952l4 198-13-18-4-203z"/>
<path class="c8 o1" d="M2917 2143l4-233 12 22-4 229z"/>
<path class="c5 o2" d="M2836 1906l2 60-13-23-1-62zM2822 1942l2-61 12 25-1 60z"/>
<path class="c9 o1" d="M2955 1913l4 241-7-245zM2967 1935l4 236-12-17-4-241z"/>
<path class="c2 o1" d="M2388 2190l3-43 7 14-4 37z"/>
<path class="c4 o2" d="M2750 1964l1 44-12-23-2-47zM2736 1985l1-47 13 26-2 45z"/>
<path class="c3 o1" d="M2682 2113l4-124 13 25-4 117zM2684 2026l4 106-13-17-4-113z"/>
<path class="c2 o2" d="M2618 2002l2-36 13 28-2 33z"/>
<path class="c16 o1" d="M3079 1907l4 298-5-7-7-302zM3091 1925l4 297-12-17-4-298z"/>
<path class="c19 o2" d="M3108 1803l2 109-9-13-3-110z"/>
<path class="c23 o2" d="M3139 1803l2 113-10-14-3-115z"/>
<path class="c27 o1" d="M3152 2229l4-336 13 18-4 335z"/>
<path class="c36 o2" d="M3189 1784l1 121-2-122z"/>
<path class="c45 o2" d="M3220 1783l1 124-1-2-3-125z"/>
<path class="c58 o2" d="M3251 1780l1 129-2-4-3-130z"/>
<path class="c13 o2" d="M2156 2130l1 42-9-16-2-42zM2145 2157l1-43 10 16-2 42z"/>
<path class="c6 o2" d="M2885 1884l2 68-13-23-1-70zM2871 1928l2-69 12 25-1 67z"/>
<path class="c6 o1" d="M2867 2134l4-206 13 23-4 201zM2869 1971l4 183-13-17-4-189zM2142 2284l3-127 9 15-4 123z"/>
<path class="c7 o1" d="M2139 2160l4 135-7-9-4-136zM2918 1954l4 209-13-17-4-214z"/>
<path class="c15 o2" d="M2137 2115l2 45-7-10-1-46zM2130 2151l1-47 6 11-1 46zM3090 1820l1 105-12-18-2-105zM3076 1901l1-99 13 18-2 99z"/>
<path class="c5 o1" d="M2818 2125l4-183 13 24-4 177zM2819 1984l4 161-12-18-4-166z"/>
<path class="c9 o2" d="M2966 1852l1 83-12-22-2-84zM2952 1911l1-82 13 23-2 80z"/>
<path class="c10 o1" d="M2971 2158l6-258 6 10-4 259z"/>
<path class="c4 o1" d="M2732 2123l4-138 12 24-4 132z"/>
<path class="c3 o2" d="M2682 1990l2 36-13-24-2-38zM2668 2002l1-38 13 26-2 37z"/>
<path class="c3 o1" d="M2664 2117l4-115 12 25-4 107zM2665 2039l4 97-12-18-4-104zM2733 2023l4 120-13-18-4-126z"/>
<path class="c3 o2" d="M2731 1982l2 41-13-24-1-43zM2717 2000l2-44 12 26-1 41zM2664 2006l1 33-12-25-2-35zM2649 2015l2-36 13 27-2 33z"/>
<path class="c2 o1" d="M2646 2120l3-105 13 24-4 99zM2647 2050l4 89-13-17-4-96zM2615 2106l3-104 13 25-4 97zM2616 2037l4 88-13-17-4-96z"/>
<path class="c2 o2" d="M2614 2007l2 30-13-25-1-32zM2600 2013l2-33 12 27-1 31zM2645 2020l2 30-13-24-1-32zM2631 2027l2-33 12 26-1 31z"/>
<path class="c2 o1" d="M2627 2124l4-97 13 24-4 90zM2628 2061l4 82-12-18-4-88zM2596 2109l4-96 13 25-4 89zM2597 2047l4 81-12-17-4-89z"/>
<path class="c2 o2" d="M2596 2020l1 27-12-25-2-30zM2582 2023l1-31 13 28-2 28zM2627 2034l1 27-12-24-2-30zM2613 2038l1-31 13 27-2 28z"/>
<path class="c2 o1" d="M2609 2127l4-89 12 24-4 83zM2610 2071l4 75-13-18-4-81zM2578 2113l4-90 12 25-4 82zM2579 2056l4 76-13-18-4-82z"/>
<path class="c2 o2" d="M2577 2031l2 25-13-24-1-28zM2563 2032l2-28 12 27-1 26zM2608 2046l2 25-13-24-1-27zM2594 2048l2-28 12 26-1 26z"/>
<path class="c2 o1" d="M2590 2130l4-82 13 24-4 76zM2592 2081l3 68-12-17-4-76zM2559 2116l4-84 13 25-4 76zM2561 2065l3 70-12-18-4-77z"/>
<path class="c2 o2" d="M2545 2042l1-27 13 27-2 24zM2590 2058l2 23-13-25-2-25zM2576 2057l1-26 13 27-2 24z"/>
<path class="c2 o1" d="M2572 2133l4-76 12 25-4 69zM2573 2089l4 63-13-17-3-70zM2542 2120l3-78 12 24-4 71zM2542 2073l4 65-10-15-4-69z"/>
<path class="c2 o2" d="M2541 2052l1 21-10-19-1-23zM2530 2056l1-25 10 21-2 22zM2572 2068l1 21-12-24-2-23zM2557 2066l2-24 13 26-2 22z"/>
<path class="c19 o1" d="M3110 1912l4 306-7-8-6-311zM3122 1930l4 305-12-17-4-306z"/>
<path class="c24 o1" d="M3141 1916l4 316-8-11-6-319z"/>
<path class="c29 o1" d="M3172 1919l4 326-9-12-7-330z"/>
<path class="c37 o1" d="M3203 1922l4 336-11-14-6-320 0-19z"/>
<path class="c46 o1" d="M3221 1907l2 279-3-281z"/>
<path class="c60 o1" d="M3252 1909l4 358-6-362zM3265 2279l-9-12-4-358 10 13z"/>
<path class="c6 o2" d="M2867 1908l2 63-13-23-2-65zM2853 1947l1-64 13 25-1 62z"/>
<path class="c7 o2" d="M2916 1882l2 72-13-22-1-73zM2902 1931l2-72 12 23-1 71z"/>
<path class="c7 o1" d="M2898 2148l4-217 13 22-4 212zM2126 2289l4-138 6 10-4 135z"/>
<path class="c15 o1" d="M3072 2206l4-305 12 18-4 305z"/>
<path class="c5 o2" d="M2818 1928l1 56-12-23-2-58zM2804 1960l1-57 13 25-2 55z"/>
<path class="c5 o1" d="M2800 2129l4-169 12 23-4 164zM2849 2139l4-192 13 23-4 186zM2850 1989l4 169-12-17-4-175z"/>
<path class="c8 o1" d="M2948 2156l4-245 12 21-4 241zM2949 1956l4 220-13-18-4-224z"/>
<path class="c10 o2" d="M2977 1900l3-84 4 8-1 86zM2984 1824l2 89-4-6-2-91z"/>
<path class="c3 o1" d="M2713 2127l4-127 13 23-4 122zM2715 2037l4 109-13-17-4-116z"/>
<path class="c2 o1" d="M2526 2128l4-72 9 18-4 66z"/>
<path class="c1 o1" d="M2524 2080l4 61-8-10-3-64zM2553 2137l4-71 13 24-4 64zM2555 2097l4 58-13-17-4-65z"/>
<path class="c1 o2" d="M2553 2078l2 19-13-24-1-21zM2539 2074l2-22 12 26-1 20zM2522 2060l2 20-7-13-1-21zM2514 2069l2-23 6 14-1 21z"/>
<path class="c1 o1" d="M2511 2135l3-66 7 12-4 62zM2535 2140l4-66 13 24-4 59zM2536 2105l4 53-12-17-4-61z"/>
<path class="c18 o2" d="M3121 1821l1 109-12-18-2-109zM3107 1905l1-102 13 18-2 101z"/>
<path class="c23 o1" d="M3153 1933l4 315-12-16-4-316z"/>
<path class="c36 o2" d="M3201 1802l2 120-13-17-1-121z"/>
<path class="c47 o1" d="M3234 1924l4 347-12-16-3-69-2-279z"/>
<path class="c58 o2" d="M3262 1922l-10-13-1-129 9 13z"/>
<path class="c6 o1" d="M2900 1974l4 193-13-17-4-198z"/>
<path class="c16 o2" d="M2133 2169l-13-21-1-49 11 20z"/>
<path class="c4 o1" d="M2801 2000l4 149-13-18-4-154z"/>
<path class="c5 o2" d="M2849 1931l1 58-12-23-2-60zM2835 1966l1-60 13 25-2 57z"/>
<path class="c7 o2" d="M2947 1879l2 77-13-22-1-78zM2933 1932l2-76 12 23-1 75z"/>
<path class="c10 o1" d="M2986 1913l4 254-1-2-7-258zM2998 1934l4 250-12-17-4-254z"/>
<path class="c3 o2" d="M2713 2000l2 37-13-24-2-39zM2699 2014l1-40 13 26-2 37z"/>
<path class="c1 o2" d="M2535 2087l1 18-12-25-2-20zM2521 2081l1-21 13 27-2 19z"/>
<path class="c17 o1" d="M3103 2220l4-315 12 17-4 314z"/>
<path class="c22 o2" d="M3152 1821l1 112-12-17-2-113zM3138 1908l1-105 13 18-2 104z"/>
<path class="c35 o2" d="M3187 1896l2-112 12 18-1 111z"/>
<path class="c45 o2" d="M3232 1800l2 124-13-17-1-124z"/>
<path class="c57 o2" d="M3259 1912l-10-14 2-118 9 13z"/>
<path class="c6 o2" d="M2898 1907l2 67-13-22-2-68zM2884 1951l1-67 13 23-2 66z"/>
<path class="c4 o2" d="M2799 1950l2 50-13-23-1-52zM2785 1977l2-52 12 25-1 50z"/>
<path class="c5 o1" d="M2831 2143l4-177 12 22-4 172zM2832 2006l4 156-13-17-4-161z"/>
<path class="c7 o1" d="M2929 2161l4-229 13 22-4 224zM2931 1976l4 204-13-17-4-209z"/>
<path class="c10 o2" d="M2997 1847l1 87-12-21-2-89zM2983 1910l1-86 13 23-2 84z"/>
<path class="c11 o1" d="M3000 2169l7-273 7 12-4 274z"/>
<path class="c3 o1" d="M2695 2131l4-117 12 23-4 111zM2696 2050l4 100-12-18-4-106z"/>
<path class="c1 o1" d="M2517 2143l4-62 12 25-4 54zM2518 2111l4 50-13-17-4-57z"/>
<path class="c15 o1" d="M3104 1943l4 296-13-17-4-297z"/>
<path class="c21 o1" d="M3134 2233l4-325 12 17-4 325z"/>
<path class="c34 o1" d="M3183 2242l4-346 13 17-4 346z"/>
<path class="c44 o2" d="M3218 1897l2-114 12 17-1 114z"/>
<path class="c55 o1" d="M3256 2282l-11-14 4-370 10 14z"/>
<path class="c6 o1" d="M2880 2152l4-201 12 22-3 196z"/>
<path class="c4 o1" d="M2781 2133l4-156 13 23-4 151zM2782 2016l4 137-12-18-4-142z"/>
<path class="c4 o2" d="M2781 1970l1 46-12-23-2-48zM2767 1993l1-48 13 25-2 47zM2830 1953l2 53-13-22-1-56zM2816 1983l2-55 12 25-1 53z"/>
<path class="c4 o1" d="M2812 2147l4-164 13 23-4 158zM2813 2023l4 143-12-17-4-149zM2763 2137l4-144 12 24-4 138z"/>
<path class="c7 o2" d="M2929 1905l2 71-13-22-2-72z"/>
<path class="c9 o1" d="M2979 2169l4-259 12 21-4 255zM2980 1956l4 233-13-18-4-236z"/>
<path class="c11 o2" d="M3007 1896l2-89 6 11-1 90zM3015 1818l2 94-5-9-3-96z"/>
<path class="c3 o2" d="M2695 2016l1 34-12-24-2-36zM2680 2027l2-37 13 26-2 35z"/>
<path class="c3 o1" d="M2676 2134l4-107 13 24-4 101zM2764 2032l4 124-13-17-4-131z"/>
<path class="c1 o2" d="M2516 2095l2 16-13-24-1-19zM2502 2088l2-20 12 27-1 17z"/>
<path class="c15 o2" d="M3102 1839l2 104-13-18-1-105zM3088 1919l2-99 12 19-1 99z"/>
<path class="c19 o1" d="M3135 1947l4 305-13-17-4-305z"/>
<path class="c29 o1" d="M3184 1936l4 326-12-17-4-326z"/>
<path class="c43 o1" d="M3214 2255l4-358 13 17-4 358z"/>
<path class="c45 o2" d="M3245 1816l1 125-12-17-2-124z"/>
<path class="c5 o1" d="M2881 1993l4 178-12-17-4-183z"/>
<path class="c4 o2" d="M2812 1974l1 49-12-23-2-50zM2798 2000l1-50 13 24-2 49z"/>
<path class="c6 o2" d="M2915 1953l1-71 13 23-2 69z"/>
<path class="c8 o2" d="M2978 1874l2 82-13-21-1-83zM2964 1932l2-80 12 22-1 79z"/>
<path class="c12 o1" d="M3017 1912l4 268-3-4-6-273z"/>
<path class="c2 o1" d="M2678 2062l4 91-13-17-4-97z"/>
<path class="c3 o2" d="M2762 1989l2 43-13-24-1-44zM2748 2009l2-45 12 25-1 43z"/>
<path class="c1 o1" d="M2498 2145l4-57 13 24-4 51zM2499 2117l4 47-12-17-4-54z"/>
<path class="c14 o1" d="M3084 2224l4-305 13 19-4 302z"/>
<path class="c18 o2" d="M3133 1839l2 108-13-17-1-109zM3119 1922l2-101 12 18-1 101z"/>
<path class="c28 o2" d="M3183 1820l1 116-12-17-2-116z"/>
<path class="c37 o1" d="M3215 1939l4 336-12-17-4-336z"/>
<path class="c44 o2" d="M3231 1914l1-114 13 16-2 115z"/>
<path class="c5 o2" d="M2880 1931l1 62-12-22-2-63zM2866 1970l1-62 13 23-2 61z"/>
<path class="c4 o1" d="M2794 2151l4-151 12 23-4 145zM2795 2039l4 131-13-17-4-137z"/>
<path class="c6 o1" d="M2911 2165l4-212 12 21-3 208zM2912 1995l4 189-12-17-4-193z"/>
<path class="c8 o1" d="M2960 2173l4-241 13 21-4 238z"/>
<path class="c11 o1" d="M3029 1932l4 265-12-17-4-268z"/>
<path class="c2 o2" d="M2676 2032l2 30-13-23-1-33zM2662 2039l2-33 12 26-1 31z"/>
<path class="c3 o1" d="M2744 2141l4-132 13 23-4 126zM2746 2046l4 114-13-17-4-120z"/>
<path class="c1 o2" d="M2498 2101l1 16-12-24-2-18zM2484 2094l1-19 13 26-2 17z"/>
<path class="c17 o1" d="M3115 2236l4-314 13 18-4 313z"/>
<path class="c27 o2" d="M3169 1911l1-108 13 17-2 108z"/>
<path class="c35 o2" d="M3214 1819l1 120-12-17-2-120zM3200 1913l1-111 13 17-2 111z"/>
<path class="c43 o1" d="M3227 2272l4-358 12 17-4 358z"/>
<path class="c5 o1" d="M2862 2156l4-186 12 22-4 181zM2863 2011l4 164-13-17-4-169z"/>
<path class="c4 o2" d="M2793 1994l2 45-13-23-1-46zM2779 2017l2-47 12 24-1 45z"/>
<path class="c6 o2" d="M2911 1930l1 65-12-21-2-67zM2896 1973l2-66 13 23-2 64z"/>
<path class="c7 o1" d="M2962 1977l4 216-13-17-4-220z"/>
<path class="c11 o2" d="M3028 1839l1 93-12-20-2-94zM3014 1908l1-90 13 21-2 89z"/>
<path class="c13 o1" d="M3030 2180l7-289 8 13-4 290z"/>
<path class="c2 o1" d="M2658 2138l4-99 13 24-4 92zM2659 2074l4 83-12-18-4-89z"/>
<path class="c3 o2" d="M2744 2007l2 39-13-23-2-41zM2730 2023l1-41 13 25-2 40z"/>
<path class="c15 o1" d="M3117 1961l3 295-12-17-4-296z"/>
<path class="c26 o1" d="M3165 2246l4-335 12 17-4 335z"/>
<path class="c33 o1" d="M3196 2259l4-346 12 17-4 346z"/>
<path class="c37 o1" d="M3228 1956l4 335-13-16-4-336z"/>
<path class="c47 o1" d="M3246 1941l1 74 3 272-12-16-4-347z"/>
<path class="c5 o2" d="M2861 1954l2 57-13-22-1-58zM2847 1988l2-57 12 23-1 56z"/>
<path class="c4 o1" d="M2775 2155l4-138 13 22-4 133z"/>
<path class="c3 o1" d="M2777 2054l4 120-13-18-4-124zM2726 2145l4-122 12 24-4 115zM2727 2060l4 104-12-18-4-109z"/>
<path class="c3 o2" d="M2726 2025l1 35-12-23-2-37zM2711 2037l2-37 13 25-2 36zM2775 2014l2 40-13-22-2-43zM2761 2032l1-43 13 25-2 41z"/>
<path class="c3 o1" d="M2757 2158l4-126 12 23-4 121zM2758 2069l4 108-12-17-4-114zM2707 2148l4-111 13 24-4 105z"/>
<path class="c6 o1" d="M2893 2169l3-196 13 21-4 192z"/>
<path class="c5 o1" d="M2894 2014l4 175-13-18-4-178zM2843 2160l4-172 13 22-4 167z"/>
<path class="c7 o2" d="M2960 1901l2 76-13-21-2-77zM2946 1954l1-75 13 22-2 74z"/>
<path class="c11 o1" d="M3010 2182l4-274 12 20-4 271z"/>
<path class="c13 o2" d="M3037 1891l2-94 7 12-1 95zM3046 1809l2 100-6-10-3-102z"/>
<path class="c2 o2" d="M2658 2046l1 28-12-24-2-30zM2644 2051l1-31 13 26-2 29z"/>
<path class="c2 o1" d="M2640 2141l4-90 12 24-4 84zM2641 2085l4 75-13-17-4-82zM2709 2073l4 94-13-17-4-100z"/>
<path class="c2 o2" d="M2707 2041l2 32-13-23-1-34zM2693 2051l2-35 12 25-1 33zM2639 2060l2 25-13-24-1-27zM2625 2062l2-28 12 26-1 26z"/>
<path class="c2 o1" d="M2621 2145l4-83 13 24-4 76zM2622 2095l4 68-12-17-4-75zM2689 2152l4-101 13 23-4 95zM2690 2085l4 86-12-18-4-91z"/>
<path class="c2 o2" d="M2689 2057l1 28-12-23-2-30zM2675 2063l1-31 13 25-2 29zM2621 2072l1 23-12-24-2-25zM2607 2072l1-26 13 26-2 24z"/>
<path class="c2 o1" d="M2603 2148l4-76 12 24-4 69zM2604 2104l4 63-13-18-3-68zM2671 2155l4-92 12 23-4 87zM2672 2097l4 77-13-17-4-83z"/>
<path class="c15 o2" d="M3115 1857l2 104-13-18-2-104z"/>
<path class="c23 o1" d="M3166 1951l4 314-13-17-4-315z"/>
<path class="c29 o1" d="M3197 1953l4 325-13-16-4-326z"/>
<path class="c35 o2" d="M3226 1835l2 121-13-17-1-120zM3212 1930l2-111 12 16-1 111z"/>
<path class="c45 o2" d="M3246 1941l-1-125 0 1z"/>
<path class="c3 o2" d="M2757 2032l1 37-12-23-2-39zM2742 2047l2-40 13 25-2 37z"/>
<path class="c5 o2" d="M2892 1954l2 60-13-21-1-62zM2878 1992l2-61 12 23-1 60z"/>
<path class="c4 o1" d="M2844 2028l4 151-12-17-4-156z"/>
<path class="c7 o1" d="M2942 2178l4-224 12 21-3 220z"/>
<path class="c10 o1" d="M3011 1954l4 247-13-17-4-250z"/>
<path class="c14 o1" d="M3048 1909l4 283-4-5-6-288z"/>
<path class="c1 o2" d="M2603 2084l1 20-12-23-2-23zM2588 2082l2-24 13 26-2 21z"/>
<path class="c2 o2" d="M2670 2071l2 26-13-23-1-28zM2656 2075l2-29 12 25-1 27z"/>
<path class="c14 o2" d="M3101 1938l1-99 13 18-2 99z"/>
<path class="c22 o2" d="M3164 1838l2 113-13-18-1-112zM3150 1925l2-104 12 17-1 105z"/>
<path class="c28 o2" d="M3195 1837l2 116-13-17-1-116z"/>
<path class="c37 o1" d="M3234 2295l-2-4-4-335 3 4z"/>
<path class="c33 o1" d="M3208 2276l4-346 13 16-4 346z"/>
<path class="c44 o2" d="M3244 1932l-1-1 2-115 0 1z"/>
<path class="c3 o1" d="M2738 2162l4-115 13 22-4 110zM2740 2083l4 98-13-17-4-104z"/>
<path class="c5 o1" d="M2874 2173l4-181 13 22-4 177zM2875 2032l4 161-12-18-4-164z"/>
<path class="c4 o2" d="M2843 1977l1 51-12-22-2-53zM2829 2006l1-53 13 24-2 51z"/>
<path class="c6 o1" d="M2943 1997l4 200-12-17-4-204z"/>
<path class="c9 o2" d="M3009 1868l2 86-13-20-1-87zM2995 1931l2-84 12 21-1 83z"/>
<path class="c13 o1" d="M3060 1929l4 280-12-17-4-283z"/>
<path class="c1 o1" d="M2584 2151l4-69 13 23-4 64zM2586 2113l4 57-13-18-4-63z"/>
<path class="c2 o1" d="M2652 2159l4-84 13 23-4 78zM2653 2108l4 70-12-18-4-75z"/>
<path class="c14 o1" d="M3097 2240l4-302 12 18-4 301z"/>
<path class="c21 o1" d="M3146 2250l4-325 13 18-4 323z"/>
<path class="c27 o2" d="M3181 1928l2-108 12 17-1 108z"/>
<path class="c35 o2" d="M3231 1960l-3-4-2-121 4 5zM3228 1951l-3-5 1-111 4 5z"/>
<path class="c29 o1" d="M3209 1970l4 325-12-17-4-325z"/>
<path class="c43 o1" d="M3240 2290l-1-1 4-358 1 1z"/>
<path class="c3 o2" d="M2738 2049l2 34-13-23-1-35zM2724 2061l2-36 12 24-1 34z"/>
<path class="c5 o2" d="M2874 1977l1 55-12-21-2-57zM2860 2010l1-56 13 23-2 55z"/>
<path class="c4 o1" d="M2856 2177l4-167 12 22-4 163zM2857 2050l4 147-13-18-4-151zM2825 2164l4-158 12 22-4 153zM2826 2045l4 138-13-17-4-143z"/>
<path class="c4 o2" d="M2824 1998l2 47-13-22-1-49zM2810 2023l2-49 12 24-1 47zM2855 2000l2 50-13-22-1-51zM2841 2028l2-51 12 23-1 50z"/>
<path class="c4 o1" d="M2837 2181l4-153 13 22-4 149zM2839 2066l3 135-12-18-4-138zM2806 2168l4-145 13 22-4 140z"/>
<path class="c3 o1" d="M2808 2061l3 126-12-17-4-131zM2720 2166l4-105 13 22-4 100z"/>
<path class="c6 o2" d="M2942 1927l1 70-12-21-2-71zM2927 1974l2-69 13 22-2 68z"/>
<path class="c9 o1" d="M2991 2186l4-255 13 20-4 252z"/>
<path class="c13 o2" d="M3059 1830l1 99-12-20-2-100zM3045 1904l1-95 13 21-2 94z"/>
<path class="c1 o2" d="M2584 2094l2 19-13-24-1-21zM2570 2090l2-22 12 26-1 20z"/>
<path class="c2 o2" d="M2652 2085l1 23-12-23-2-25zM2638 2086l1-26 13 25-2 24z"/>
<path class="c2 o1" d="M2634 2162l4-76 12 23-4 71zM2635 2118l4 63-13-18-4-68zM2721 2096l4 89-12-18-4-94z"/>
<path class="c2 o2" d="M2720 2066l1 30-12-23-2-32zM2706 2074l1-33 13 25-2 30zM2633 2097l2 21-13-23-1-23z"/>
<path class="c18 o1" d="M3148 1964l3 305-12-17-4-305z"/>
<path class="c26 o1" d="M3177 2263l4-335 13 17-4 334z"/>
<path class="c34 o1" d="M3225 2298l-4-6 4-346 3 5z"/>
<path class="c28 o2" d="M3208 1854l1 116-12-17-2-116z"/>
<path class="c4 o2" d="M2837 2021l2 45-13-21-2-47zM2823 2045l1-47 13 23-2 46z"/>
<path class="c3 o2" d="M2806 2018l2 43-13-22-2-45zM2792 2039l1-45 13 24-2 43z"/>
<path class="c6 o1" d="M2924 2182l3-208 13 21-4 204zM2925 2016l4 186-13-18-4-189z"/>
<path class="c8 o1" d="M2993 1976l4 230-13-17-4-233z"/>
<path class="c13 o1" d="M3073 1948l4 278-13-17-4-280z"/>
<path class="c12 o1" d="M3041 2194l4-290 12 20-4 287z"/>
<path class="c1 o1" d="M2566 2154l4-64 13 24-4 58zM2567 2121l4 52-12-18-4-58z"/>
<path class="c1 o2" d="M2566 2104l1 17-12-24-2-19zM2552 2098l1-20 13 26-2 18zM2619 2096l2-24 12 25-1 22z"/>
<path class="c1 o1" d="M2615 2165l4-69 13 23-4 64zM2617 2128l4 56-13-17-4-63zM2548 2157l4-59 12 24-4 53zM2549 2128l4 48-13-18-4-53z"/>
<path class="c1 o2" d="M2547 2113l2 15-13-23-1-18zM2533 2106l2-19 12 26-1 16zM2615 2109l2 19-13-24-1-20zM2601 2105l2-21 12 25-1 20z"/>
<path class="c1 o1" d="M2597 2169l4-64 13 24-4 57zM2598 2136l4 51-12-17-4-57zM2529 2160l4-54 13 23-4 49zM2530 2135l4 44-12-18-4-50z"/>
<path class="c1 o2" d="M2529 2120l1 15-12-24-2-16zM2515 2112l1-17 13 25-2 16zM2597 2119l1 17-12-23-2-19zM2583 2114l1-20 13 25-2 18z"/>
<path class="c1 o1" d="M2579 2172l4-58 12 23-4 52zM2580 2144l4 46-13-17-4-52zM2511 2163l4-51 12 24-4 44zM2512 2141l4 41-13-18-4-47z"/>
<path class="c1 o2" d="M2510 2127l2 14-13-24-1-16zM2496 2118l2-17 12 26-1 15zM2578 2129l2 15-13-23-1-17zM2564 2122l2-18 12 25-1 16z"/>
<path class="c1 o1" d="M2560 2175l4-53 13 23-4 47zM2561 2152l4 41-12-17-4-48zM2492 2166l4-48 13 24-4 41zM2494 2146l4 38-13-17-4-45z"/>
<path class="c1 o2" d="M2492 2133l2 13-13-24-2-15zM2478 2123l1-16 13 26-2 14zM2560 2138l1 14-12-24-2-15zM2546 2129l1-16 13 25-2 15z"/>
<path class="c1 o1" d="M2542 2178l4-49 12 24-4 42zM2543 2158l4 38-13-17-4-44zM2474 2168l4-45 12 24-4 39zM2475 2150l4 37-12-17-4-43z"/>
<path class="c1 o2" d="M2474 2138l1 12-12-23-2-15zM2459 2127l2-15 13 26-2 13zM2541 2146l2 12-13-23-1-15zM2527 2136l2-16 12 26-1 13z"/>
<path class="c1 o1" d="M2523 2180l4-44 13 23-4 39zM2525 2164l4 35-13-17-4-41zM2456 2171l3-44 13 24-4 38zM2457 2154l4 36-13-18-4-42z"/>
<path class="c1 o2" d="M2455 2142l2 12-13-24-1-14zM2441 2131l2-15 12 26-1 12zM2523 2152l2 12-13-23-2-14zM2509 2142l1-15 13 25-2 13z"/>
<path class="c1 o1" d="M2505 2183l4-41 12 23-4 36zM2506 2169l4 33-12-18-4-38zM2437 2174l4-43 13 23-4 37zM2438 2157l4 35-12-17-4-42z"/>
<path class="c1 o2" d="M2437 2145l1 12-12-24-2-14zM2505 2158l1 11-12-23-2-13zM2490 2147l2-14 13 25-2 12z"/>
<path class="c2 o1" d="M2702 2169l4-95 12 22-4 91zM2703 2108l4 80-13-17-4-86z"/>
<path class="c18 o2" d="M3146 1856l2 108-13-17-2-108zM3132 1940l1-101 13 17-2 101z"/>
<path class="c23 o1" d="M3179 1967l3 315-12-17-4-314z"/>
<path class="c27 o2" d="M3194 1945l1-108 13 17-2 108z"/>
<path class="c29 o1" d="M3219 2302l-6-7-4-325 7 8z"/>
<path class="c4 o1" d="M2819 2185l4-140 12 22-4 136z"/>
<path class="c3 o1" d="M2820 2082l4 122-13-17-3-126zM2788 2172l4-133 12 22-4 128zM2789 2076l4 115-12-17-4-120z"/>
<path class="c3 o2" d="M2788 2037l1 39-12-22-2-40zM2773 2055l2-41 13 23-2 40zM2819 2041l1 41-12-21-2-43zM2804 2061l2-43 13 23-2 42z"/>
<path class="c3 o1" d="M2800 2189l4-128 13 22-4 124zM2802 2098l4 110-13-17-4-115zM2769 2176l4-121 13 22-4 116zM2771 2091l4 104-13-18-4-108z"/>
<path class="c3 o2" d="M2769 2056l2 35-13-22-1-37zM2755 2069l2-37 12 24-1 35zM2800 2060l2 38-13-22-1-39zM2786 2077l2-40 12 23-1 38z"/>
<path class="c3 o1" d="M2782 2193l4-116 13 21-4 112zM2783 2112l4 100-12-17-4-104zM2751 2179l4-110 13 22-4 106z"/>
<path class="c6 o2" d="M2923 1952l2 64-13-21-1-65zM2909 1994l2-64 12 22-1 63z"/>
<path class="c8 o2" d="M2991 1896l2 80-13-20-2-82zM2977 1953l1-79 13 22-2 78z"/>
<path class="c13 o2" d="M3071 1850l2 98-13-19-1-99z"/>
<path class="c11 o1" d="M3042 1952l4 262-13-17-4-265z"/>
<path class="c4 o2" d="M2423 2133l1-14 13 26-2 12z"/>
<path class="c1 o1" d="M2486 2186l4-39 13 23-4 33zM2488 2173l4 32-13-18-4-37z"/>
<path class="c2 o2" d="M2701 2081l2 27-13-23-1-28zM2687 2086l2-29 12 24-1 28z"/>
<path class="c2 o1" d="M2683 2173l4-87 13 23-4 81zM2684 2120l4 72-12-18-4-77zM2752 2105l4 93-12-17-4-98z"/>
<path class="c2 o2" d="M2751 2073l1 32-12-22-2-34zM2737 2083l1-34 13 24-2 32zM2683 2096l1 24-12-23-2-26zM2669 2098l1-27 13 25-2 25z"/>
<path class="c2 o1" d="M2665 2176l4-78 12 23-4 73zM2666 2131l4 64-13-17-4-70zM2733 2183l4-100 12 22-4 95zM2734 2118l4 84-13-17-4-89z"/>
<path class="c2 o2" d="M2732 2089l2 29-13-22-1-30zM2718 2096l2-30 12 23-1 30zM2664 2109l2 22-13-23-1-23zM2650 2109l2-24 12 24-1 23z"/>
<path class="c17 o1" d="M3128 2253l4-313 12 17-4 313z"/>
<path class="c22 o2" d="M3177 1855l2 112-13-16-2-113zM3163 1943l1-105 13 17-2 105z"/>
<path class="c26 o1" d="M3190 2279l4-334 12 17-4 334z"/>
<path class="c28 o2" d="M3216 1978l-7-8-1-116 6 8z"/>
<path class="c3 o2" d="M2782 2079l1 33-12-21-2-35zM2768 2091l1-35 13 23-2 34z"/>
<path class="c5 o1" d="M2905 2186l4-192 13 21-4 189zM2906 2035l4 171-12-17-4-175z"/>
<path class="c8 o1" d="M2973 2191l4-238 12 21-4 234z"/>
<path class="c13 o1" d="M3086 1967l4 276-13-17-4-278z"/>
<path class="c12 o2" d="M3057 1924l2-94 12 20-1 94zM3084 1870l2 97-13-19-2-98z"/>
<path class="c11 o2" d="M3040 1860l2 92-13-20-1-93zM3026 1928l2-89 12 21-1 88z"/>
<path class="c1 o2" d="M2486 2163l2 10-13-23-1-12zM2472 2151l2-13 12 25-1 11z"/>
<path class="c1 o1" d="M2468 2189l4-38 13 23-4 32zM2469 2177l4 30-12-17-4-36zM2646 2180l4-71 13 23-4 65zM2648 2141l4 57-13-17-4-63z"/>
<path class="c1 o2" d="M2646 2122l2 19-13-23-2-21zM2632 2119l1-22 13 25-1 20zM2468 2167l1 10-12-23-2-12zM2454 2154l1-12 13 25-2 11z"/>
<path class="c1 o1" d="M2450 2191l4-37 12 24-4 31zM2451 2180l4 30-13-18-4-35zM2628 2183l4-64 13 23-4 58zM2629 2150l4 51-12-17-4-56z"/>
<path class="c1 o2" d="M2628 2133l1 17-12-22-2-19zM2614 2129l1-20 13 24-2 18zM2449 2170l2 10-13-23-1-12z"/>
<path class="c2 o1" d="M2714 2187l4-91 13 23-4 85zM2715 2130l4 76-12-18-4-80z"/>
<path class="c15 o1" d="M3129 1978l4 294-13-16-3-295z"/>
<path class="c21 o1" d="M3159 2266l4-323 12 17-4 323z"/>
<path class="c23 o1" d="M3191 1984l4 315-13-17-3-315z"/>
<path class="c27 o2" d="M3213 1970l-7-8 2-108 6 8z"/>
<path class="c3 o1" d="M2764 2197l4-106 12 22-4 101z"/>
<path class="c5 o2" d="M2905 1976l1 59-12-21-2-60zM2891 2014l1-60 13 22-2 59z"/>
<path class="c7 o1" d="M2974 1997l4 213-12-17-4-216z"/>
<path class="c12 o1" d="M3053 2211l4-287 13 20-4 284z"/>
<path class="c13 o1" d="M3098 1985l4 275-12-17-4-276z"/>
<path class="c10 o1" d="M3022 2199l4-271 13 20-4 268z"/>
<path class="c1 o1" d="M2610 2186l4-57 12 22-4 52zM2611 2159l4 46-13-18-4-51z"/>
<path class="c3 o2" d="M2435 2157l2-12 12 25-1 10z"/>
<path class="c2 o2" d="M2714 2105l1 25-12-22-2-27zM2700 2109l1-28 13 24-2 26z"/>
<path class="c2 o1" d="M2696 2190l4-81 12 22-4 76zM2697 2142l4 67-13-17-4-72zM2765 2126l4 90-13-18-4-93z"/>
<path class="c2 o2" d="M2763 2096l2 30-13-21-1-32zM2749 2105l2-32 12 23-1 31zM2695 2119l2 23-13-22-1-24zM2681 2121l2-25 12 23-1 24z"/>
<path class="c2 o1" d="M2677 2194l4-73 13 22-4 68zM2745 2200l4-95 13 22-4 91zM2746 2139l4 80-12-17-4-84z"/>
<path class="c1 o1" d="M2679 2153l4 59-13-17-4-64zM2431 2194l4-37 13 23-4 31zM2432 2182l4 30-12-17-4-36z"/>
<path class="c1 o2" d="M2677 2133l2 20-13-22-2-22zM2663 2132l1-23 13 24-2 21zM2609 2144l2 15-13-23-1-17zM2595 2137l2-18 12 25-1 16z"/>
<path class="c1 o1" d="M2591 2189l4-52 13 23-4 46zM2592 2167l4 41-12-18-4-46zM2659 2197l4-65 12 22-3 60zM2660 2163l4 53-12-18-4-57z"/>
<path class="c1 o2" d="M2659 2145l1 18-12-22-2-19zM2645 2142l1-20 13 23-2 19zM2591 2153l1 14-12-23-2-15zM2577 2145l1-16 13 24-2 15z"/>
<path class="c1 o1" d="M2573 2192l4-47 12 23-4 41zM2574 2174l4 37-13-18-4-41zM2641 2200l4-58 12 22-4 53zM2642 2172l4 47-13-18-4-51z"/>
<path class="c1 o2" d="M2640 2157l2 15-13-22-1-17zM2626 2151l2-18 12 24-1 16zM2572 2162l2 12-13-22-1-14zM2558 2153l2-15 12 24-1 13z"/>
<path class="c1 o1" d="M2554 2195l4-42 13 22-4 37zM2556 2181l4 33-13-18-4-38zM2622 2203l4-52 13 22-4 48zM2623 2181l4 41-12-17-4-46z"/>
<path class="c1 o2" d="M2622 2167l1 14-12-22-2-15zM2608 2160l1-16 13 23-2 15zM2554 2170l2 11-13-23-2-12zM2540 2159l1-13 13 24-2 12z"/>
<path class="c1 o1" d="M2536 2198l4-39 12 23-4 33zM2537 2187l4 29-12-17-4-35zM2604 2206l4-46 12 22-4 42zM2605 2189l4 36-13-17-4-41z"/>
<path class="c1 o2" d="M2603 2177l2 12-13-22-1-14zM2589 2168l2-15 12 24-1 13zM2536 2177l1 10-12-23-2-12zM2521 2165l2-13 13 25-2 10z"/>
<path class="c1 o1" d="M2517 2201l4-36 13 22-4 31zM2585 2209l4-41 13 22-4 37zM2587 2196l4 32-13-17-4-37z"/>
<path class="c15 o2" d="M3128 1875l1 103-12-17-2-104z"/>
<path class="c18 o1" d="M3160 1981l4 305-13-17-3-305z"/>
<path class="c22 o2" d="M3190 1872l1 112-12-17-2-112zM3175 1960l2-105 13 17-2 104z"/>
<path class="c26 o1" d="M3210 2306l-8-10 4-334 7 8z"/>
<path class="c5 o1" d="M2887 2191l4-177 12 21-4 173zM2888 2053l4 157-13-17-4-161z"/>
<path class="c7 o2" d="M2973 1923l1 74-12-20-2-76zM2958 1975l2-74 13 22-2 72z"/>
<path class="c11 o1" d="M3055 1971l4 260-13-17-4-262z"/>
<path class="c12 o2" d="M3070 1944l1-94 13 20-2 92zM3097 1888l1 97-12-18-2-97z"/>
<path class="c9 o1" d="M3024 1974l4 244-13-17-4-247z"/>
<path class="c2 o2" d="M2745 2112l1 27-12-21-2-29zM2731 2119l1-30 13 23-2 28z"/>
<path class="c3 o2" d="M2431 2172l1 10-12-23-2-12zM2417 2159l1-12 13 25-2 10z"/>
<path class="c0 o1" d="M2519 2192l4 27-13-17-4-33z"/>
<path class="c1 o2" d="M2585 2186l2 10-13-22-2-12zM2571 2175l1-13 13 24-2 11z"/>
<path class="c1 o1" d="M2567 2212l4-37 12 22-4 33zM2413 2196l4-37 12 23-4 32zM2414 2184l4 30-13-17-4-37z"/>
<path class="c14 o2" d="M3113 1956l2-99 13 18-2 99z"/>
<path class="c18 o2" d="M3159 1873l1 108-12-17-2-108z"/>
<path class="c21 o1" d="M3171 2283l4-323 13 16-4 324z"/>
<path class="c23 o1" d="M3204 2310l-9-11-4-315 9 12z"/>
<path class="c4 o2" d="M2886 2000l2 53-13-21-1-55zM2872 2032l2-55 12 23-1 53z"/>
<path class="c7 o1" d="M2955 2195l3-220 13 20-4 217z"/>
<path class="c11 o2" d="M3053 1880l2 91-13-19-2-92z"/>
<path class="c12 o1" d="M3066 2228l4-284 12 18-4 283z"/>
<path class="c9 o2" d="M3022 1889l2 85-13-20-2-86zM3008 1951l1-83 13 21-2 82z"/>
<path class="c2 o1" d="M2727 2204l4-85 12 21-4 81zM2728 2151l4 72-13-17-4-76z"/>
<path class="c0 o2" d="M2517 2183l2 9-13-23-1-11zM2503 2170l2-12 12 25-1 9z"/>
<path class="c0 o1" d="M2499 2203l4-33 13 22-4 29zM2500 2196l4 26-12-17-4-32zM2568 2203l4 28-12-17-4-33z"/>
<path class="c0 o2" d="M2567 2194l1 9-12-22-2-11zM2552 2182l2-12 13 24-2 10zM2499 2187l1 9-12-23-2-10zM2485 2174l1-11 13 24-2 10z"/>
<path class="c0 o1" d="M2481 2206l4-32 12 23-4 26zM2482 2200l4 24-13-17-4-30zM2548 2215l4-33 13 22-4 29zM2550 2209l4 25-13-18-4-29z"/>
<path class="c0 o2" d="M2548 2200l2 9-13-22-1-10zM2534 2187l2-10 12 23-1 9zM2480 2191l2 9-13-23-1-10zM2466 2178l2-11 12 24-1 9z"/>
<path class="c0 o1" d="M2462 2209l4-31 13 22-4 26zM2463 2203l4 24-12-17-4-30zM2530 2218l4-31 13 22-4 26zM2531 2214l4 23-12-18-4-27z"/>
<path class="c0 o2" d="M2530 2206l1 8-12-22-2-9zM2516 2192l1-9 13 23-2 8zM2462 2194l1 9-12-23-2-10z"/>
<path class="c3 o2" d="M2448 2180l1-10 13 24-2 9zM2413 2173l1 11-13-24-1-12zM2398 2161l2-13 13 25-2 11z"/>
<path class="c1 o1" d="M2394 2198l4-37 13 23-4 32zM2396 2184l4 33-13-18-4-38zM2444 2211l4-31 12 23-4 26zM2445 2205l4 24-13-17-4-30z"/>
<path class="c14 o1" d="M3109 2257l4-301 13 18-4 300z"/>
<path class="c17 o2" d="M3144 1957l2-101 13 17-2 101z"/>
<path class="c18 o1" d="M3173 1998l4 304-13-16-4-305z"/>
<path class="c22 o2" d="M3200 1996l-9-12-1-112 9 12zM3198 1989l-10-13 2-104 9 12z"/>
<path class="c4 o1" d="M2868 2195l4-163 13 21-4 159zM2870 2071l3 143-12-17-4-147z"/>
<path class="c4 o2" d="M2868 2022l2 49-13-21-2-50zM2854 2050l1-50 13 22-2 49zM2394 2173l2 11-13-23-1-13zM2380 2161l2-13 12 25-1 11z"/>
<path class="c6 o1" d="M2956 2017l4 197-13-17-4-200z"/>
<path class="c10 o2" d="M3039 1948l1-88 13 20-2 87z"/>
<path class="c11 o1" d="M3067 1990l4 258-12-17-4-260z"/>
<path class="c12 o2" d="M3082 1962l2-92 13 18-2 93z"/>
<path class="c12 o1" d="M3078 2245l4-283 13 19-4 281zM3111 2002l4 275-13-17-4-275z"/>
<path class="c9 o1" d="M3004 2203l4-252 12 20-4 249z"/>
<path class="c2 o2" d="M2726 2128l2 23-13-21-1-25zM2712 2131l2-26 12 23-1 25z"/>
<path class="c0 o1" d="M2512 2221l4-29 12 22-4 24zM2513 2218l4 21-13-17-4-26z"/>
<path class="c3 o2" d="M2443 2196l2 9-13-23-1-10zM2429 2182l2-10 12 24-1 9z"/>
<path class="c1 o1" d="M2425 2214l4-32 13 23-4 26zM2427 2206l4 26-13-18-4-30zM2376 2201l4-40 13 23-4 34z"/>
<path class="c2 o1" d="M2377 2184l4 35-12-17-4-41zM2708 2207l4-76 13 22-4 72zM2710 2163l4 63-13-17-4-67z"/>
<path class="c17 o1" d="M3140 2270l4-313 13 17-4 313z"/>
<path class="c18 o2" d="M3171 1889l2 109-13-17-1-108z"/>
<path class="c21 o1" d="M3194 2314l-10-14 4-324 10 13z"/>
<path class="c4 o1" d="M2850 2199l4-149 12 21-4 145zM2851 2087l4 131-13-17-3-135z"/>
<path class="c4 o2" d="M2850 2043l1 44-12-21-2-45zM2835 2067l2-46 13 22-2 45zM2376 2172l1 12-12-23-2-14zM2362 2161l1-14 13 25-2 12z"/>
<path class="c6 o2" d="M2954 1949l2 68-13-20-1-70zM2940 1995l2-68 12 22-1 67z"/>
<path class="c10 o1" d="M3035 2216l4-268 12 19-4 266z"/>
<path class="c10 o2" d="M3066 1899l1 91-12-19-2-91zM3051 1967l2-87 13 19-2 87z"/>
<path class="c10 o1" d="M3047 2233l4-266 13 19-4 264zM3080 2008l4 257-13-17-4-258z"/>
<path class="c12 o2" d="M3109 1906l2 96-13-17-1-97zM3095 1981l2-93 12 18-1 92z"/>
<path class="c8 o1" d="M3005 1996l4 227-12-17-4-230z"/>
<path class="c0 o2" d="M2511 2211l2 7-13-22-1-9zM2497 2197l2-10 12 24-1 8z"/>
<path class="c3 o2" d="M2425 2197l2 9-13-22-1-11zM2411 2184l2-11 12 24-1 9z"/>
<path class="c1 o2" d="M2708 2142l2 21-13-21-2-23zM2694 2143l1-24 13 23-2 22z"/>
<path class="c1 o1" d="M2690 2211l4-68 12 21-3 64zM2691 2174l4 56-12-18-4-59zM2407 2216l4-32 13 22-4 27zM2408 2207l4 27-12-17-4-33z"/>
<path class="c15 o1" d="M3142 1996l4 293-13-17-4-294z"/>
<path class="c17 o2" d="M3157 1974l2-101 12 16-1 102z"/>
<path class="c18 o1" d="M3188 2318l-11-16-4-304 12 16z"/>
<path class="c3 o1" d="M2831 2203l4-136 13 21-4 132zM2833 2103l4 119-13-18-4-122z"/>
<path class="c3 o2" d="M2831 2063l2 40-13-21-1-41zM2817 2083l2-42 12 22-1 41zM2407 2197l1 10-12-23-2-11zM2393 2184l1-11 13 24-2 10z"/>
<path class="c2 o1" d="M2358 2203l4-42 12 23-4 36zM2359 2183l4 38-12-16-3-42z"/>
<path class="c6 o1" d="M2936 2199l4-204 13 21-4 201zM2937 2037l4 182-12-17-4-186z"/>
<path class="c9 o1" d="M3036 1993l4 242-12-17-4-244z"/>
<path class="c10 o2" d="M3078 1918l2 90-13-18-1-91zM3064 1986l2-87 12 19-1 86z"/>
<path class="c12 o1" d="M3091 2262l4-281 13 17-4 281z"/>
<path class="c10 o1" d="M3092 2025l4 257-12-17-4-257zM3060 2250l4-264 13 18-4 263z"/>
<path class="c8 o2" d="M3004 1917l1 79-12-20-2-80zM2989 1974l2-78 13 21-2 76z"/>
<path class="c0 o1" d="M2493 2223l4-26 13 22-4 22zM2494 2222l4 20-12-18-4-24z"/>
<path class="c1 o2" d="M2690 2156l1 18-12-21-2-20zM2675 2154l2-21 13 23-2 19z"/>
<path class="c1 o1" d="M2672 2214l3-60 13 21-4 57zM2673 2184l4 49-13-17-4-53zM2389 2218l4-34 12 23-4 29zM2390 2207l4 29-13-17-4-35z"/>
<path class="c15 o2" d="M3140 1892l2 104-13-18-1-103z"/>
<path class="c17 o1" d="M3153 2287l4-313 13 17-4 313z"/>
<path class="c18 o2" d="M3185 2014l-12-16-2-109 13 17z"/>
<path class="c3 o1" d="M2813 2207l4-124 13 21-4 120zM2814 2119l4 106-12-17-4-110z"/>
<path class="c3 o2" d="M2813 2082l1 37-12-21-2-38zM2799 2098l1-38 13 22-2 37zM2388 2197l2 10-13-23-1-12zM2374 2184l2-12 12 25-1 10z"/>
<path class="c4 o2" d="M2357 2170l2 13-11-20-2-14zM2345 2164l1-15 11 21-1 13z"/>
<path class="c5 o2" d="M2936 1974l1 63-12-21-2-64zM2922 2015l1-63 13 22-2 62z"/>
<path class="c9 o2" d="M3035 1909l1 84-12-19-2-85zM3020 1971l2-82 13 20-2 81z"/>
<path class="c9 o1" d="M3016 2220l4-249 13 19-4 247zM3049 2012l4 240-13-17-4-242z"/>
<path class="c8 o1" d="M3018 2015l4 225-13-17-4-227zM2985 2208l4-234 13 19-4 232z"/>
<path class="c10 o2" d="M3091 1936l1 89-12-17-2-90zM3077 2004l1-86 13 18-2 86z"/>
<path class="c0 o2" d="M2493 2215l1 7-12-22-2-9zM2479 2200l1-9 13 24-2 7z"/>
<path class="c0 o1" d="M2475 2226l4-26 12 22-4 21zM2476 2225l4 19-13-17-4-24zM2507 2243l4 16-13-17-4-20z"/>
<path class="c1 o2" d="M2671 2168l2 16-13-21-1-18zM2657 2164l2-19 12 23-1 17z"/>
<path class="c1 o1" d="M2653 2217l4-53 13 21-4 50zM2654 2194l4 42-12-17-4-47zM2370 2220l4-36 13 23-4 31zM2371 2206l4 33-12-18-4-38z"/>
<path class="c14 o2" d="M3126 1974l2-99 12 17-1 99z"/>
<path class="c15 o1" d="M3154 2012l4 294-12-17-4-293z"/>
<path class="c17 o1" d="M3166 2304l4-313 12 16-4 313z"/>
<path class="c3 o1" d="M2795 2210l4-112 12 21-4 109zM2796 2133l4 96-13-17-4-100z"/>
<path class="c2 o1" d="M2342 2209l3-45 11 19-4 39zM2340 2182l4 41-8-12-4-44z"/>
<path class="c4 o2" d="M2339 2168l1 14-8-15-1-15zM2330 2168l1-16 8 16-2 14zM2370 2195l1 11-12-23-2-13zM2356 2183l1-13 13 25-2 11z"/>
<path class="c5 o1" d="M2918 2204l4-189 12 21-4 185zM2919 2056l4 167-13-17-4-171z"/>
<path class="c9 o2" d="M3047 1928l2 84-13-19-1-84zM3033 1990l2-81 12 19-1 81z"/>
<path class="c9 o1" d="M3029 2237l4-247 13 19-4 245zM3061 2030l4 239-12-17-4-240z"/>
<path class="c8 o2" d="M3016 1937l2 78-13-19-1-79zM3002 1993l2-76 12 20-1 76z"/>
<path class="c7 o1" d="M2998 2225l4-232 13 20-4 229zM2987 2017l4 210-13-17-4-213z"/>
<path class="c10 o1" d="M3073 2267l4-263 12 18-4 262z"/>
<path class="c0 o2" d="M2474 2218l2 7-13-22-1-9z"/>
<path class="c2 o2" d="M2460 2203l2-9 12 24-1 7zM2794 2101l2 32-13-21-1-33zM2780 2113l2-34 12 22-1 33z"/>
<path class="c2 o1" d="M2776 2214l4-101 13 21-4 97zM2777 2147l4 86-12-17-4-90zM2326 2215l4-47 7 14-4 43z"/>
<path class="c1 o1" d="M2456 2229l4-26 13 22-4 21zM2458 2227l4 20-13-18-4-24zM2352 2222l4-39 12 23-4 34z"/>
<path class="c2 o2" d="M2456 2220l2 7-13-22-2-9zM2442 2205l1-9 13 24-1 7zM2776 2118l1 29-12-21-2-30zM2762 2127l1-31 13 22-2 30z"/>
<path class="c2 o1" d="M2758 2218l4-91 12 21-4 87zM2759 2160l4 76-13-17-4-80zM2353 2204l4 37-13-18-4-41z"/>
<path class="c1 o1" d="M2438 2231l4-26 13 22-4 21zM2439 2228l4 21-12-17-4-26zM2470 2248l4 16-12-17-4-20z"/>
<path class="c2 o2" d="M2438 2221l1 7-12-22-2-9zM2424 2206l1-9 13 24-2 7zM2757 2134l2 26-13-21-1-27zM2743 2140l2-28 12 22-1 27z"/>
<path class="c1 o2" d="M2653 2180l1 14-12-22-2-15zM2639 2173l1-16 13 23-2 15z"/>
<path class="c1 o1" d="M2635 2221l4-48 12 22-4 43zM2636 2202l4 37-13-17-4-41zM2420 2233l4-27 12 22-4 23zM2421 2229l4 23-13-18-4-27z"/>
<path class="c14 o1" d="M3122 2274l4-300 13 17-4 300z"/>
<path class="c15 o2" d="M3153 1909l1 103-12-16-2-104z"/>
<path class="c18 o2" d="M3170 1991l1-102 13 17-1 20-1 81z"/>
<path class="c5 o2" d="M2917 1998l2 58-13-21-1-59zM2903 2035l2-59 12 22-1 57z"/>
<path class="c9 o2" d="M3060 1947l1 83-12-18-2-84zM3046 2009l1-81 13 19-2 80z"/>
<path class="c8 o1" d="M3042 2254l4-245 12 18-4 244zM3030 2034l4 223-12-17-4-225z"/>
<path class="c7 o2" d="M2985 1944l2 73-13-20-1-74zM2971 1995l2-72 12 21-1 71z"/>
<path class="c7 o1" d="M2967 2212l4-217 13 20-4 214zM2999 2036l4 208-12-17-4-210z"/>
<path class="c0 o1" d="M2489 2246l4 16-13-18-4-19z"/>
<path class="c4 o2" d="M2351 2192l2 12-13-22-1-14zM2337 2182l2-14 12 24-1 12z"/>
<path class="c2 o1" d="M2333 2225l4-43 13 22-4 38zM2335 2202l4 41-13-18-4-45zM2739 2221l4-81 13 21-4 77zM2741 2172l4 68-13-17-4-72z"/>
<path class="c2 o2" d="M2739 2150l2 22-13-21-2-23zM2725 2153l1-25 13 22-2 24zM2419 2221l2 8-13-22-1-10zM2405 2207l2-10 12 24-1 8z"/>
<path class="c1 o2" d="M2634 2190l2 12-13-21-1-14zM2620 2182l2-15 12 23-1 14z"/>
<path class="c1 o1" d="M2616 2224l4-42 13 22-4 37zM2618 2210l3 32-12-17-4-36zM2401 2236l4-29 13 22-4 24zM2402 2229l4 25-12-18-4-29z"/>
<path class="c12 o1" d="M3123 2019l4 275-12-17-4-275z"/>
<path class="c15 o1" d="M3167 2028l4 295-13-17-4-294z"/>
<path class="c14 o2" d="M3139 1991l1-99 13 17-2 98z"/>
<path class="c17 o1" d="M3179 2321l-1-1 4-313z"/>
<path class="c5 o1" d="M2899 2208l4-173 13 20-4 170z"/>
<path class="c9 o1" d="M3074 2048l4 238-13-17-4-239z"/>
<path class="c8 o2" d="M3029 1956l1 78-12-19-2-78zM3015 2013l1-76 13 19-2 75z"/>
<path class="c6 o1" d="M2968 2037l4 195-12-18-4-197z"/>
<path class="c7 o2" d="M2998 1964l1 72-12-19-2-73zM2984 2015l1-71 13 20-2 70z"/>
<path class="c7 o1" d="M2980 2229l4-214 12 19-4 212zM3011 2242l4-229 12 18-4 228zM3012 2055l4 206-13-17-4-208z"/>
<path class="c4 o2" d="M2333 2188l2 14-13-22-2-16zM2319 2179l1-15 13 24-2 14z"/>
<path class="c2 o1" d="M2315 2226l4-47 12 23-4 42zM2316 2199l4 46-12-18-4-50zM2721 2225l4-72 12 21-3 68z"/>
<path class="c1 o2" d="M2616 2200l2 10-13-21-2-12zM2602 2190l1-13 13 23-2 12z"/>
<path class="c1 o1" d="M2598 2227l4-37 12 22-4 32zM2722 2184l4 59-12-17-4-63z"/>
<path class="c3 o2" d="M2401 2220l1 9-12-22-2-10zM2387 2207l1-10 13 23-2 9z"/>
<path class="c12 o2" d="M3122 1923l1 96-12-17-2-96zM3108 1998l1-92 13 17-2 92z"/>
<path class="c14 o1" d="M3135 2291l4-300 12 16-4 301z"/>
<path class="c12 o1" d="M3136 2036l4 275-13-17-4-275zM3104 2279l4-281 12 17-4 281z"/>
<path class="c15 o2" d="M3165 1924l2 104-13-16-1-103z"/>
<path class="c4 o1" d="M2900 2074l4 153-12-17-4-157z"/>
<path class="c9 o2" d="M3072 1965l2 83-13-18-1-83zM3058 2027l2-80 12 18-1 80z"/>
<path class="c8 o1" d="M3054 2271l4-244 13 18-4 243zM3043 2052l4 222-13-17-4-223z"/>
<path class="c6 o2" d="M2967 1970l1 67-12-20-2-68zM2953 2016l1-67 13 21-2 66z"/>
<path class="c6 o1" d="M2949 2217l4-201 12 20-4 198zM2981 2056l4 193-13-17-4-195z"/>
<path class="c7 o2" d="M3010 1983l2 72-13-19-1-72zM2996 2034l2-70 12 19-1 70z"/>
<path class="c5 o2" d="M2315 2183l1 16-12-22-2-18zM2300 2176l2-17 13 24-2 16z"/>
<path class="c0 o1" d="M2599 2218l4 27-12-17-4-32z"/>
<path class="c1 o2" d="M2721 2164l1 20-12-21-2-21zM2706 2164l2-22 13 22-2 21z"/>
<path class="c1 o1" d="M2703 2228l3-64 13 21-4 60zM2704 2195l4 52-13-17-4-56zM2383 2238l4-31 12 22-4 26zM2384 2228l4 28-13-17-4-33z"/>
<path class="c12 o2" d="M3134 1940l2 96-13-17-1-96zM3120 2015l2-92 12 17-1 92z"/>
<path class="c10 o1" d="M3105 2042l4 256-13-16-4-257z"/>
<path class="c15 o1" d="M3173 2325l-2-2-4-295 2 3z"/>
<path class="c14 o2" d="M3151 2007l2-98 12 15-1 99z"/>
<path class="c4 o2" d="M2899 2021l1 53-12-21-2-53zM2885 2053l1-53 13 21-2 52z"/>
<path class="c8 o2" d="M3041 1975l2 77-13-18-1-78z"/>
<path class="c5 o1" d="M2950 2057l4 179-13-17-4-182z"/>
<path class="c6 o2" d="M2979 1990l2 66-13-19-1-67zM2965 2036l2-66 12 20-1 65z"/>
<path class="c6 o1" d="M2961 2234l4-198 13 19-4 196zM2992 2246l4-212 13 19-4 210zM2993 2075l4 191-12-17-4-193z"/>
<path class="c2 o1" d="M2296 2228l4-52 13 23-4 47zM2298 2195l4 51-12-16-4-55z"/>
<path class="c6 o2" d="M2296 2178l2 17-12-20-1-19zM2284 2175l1-19 11 22-1 17zM2992 2009l1 66-12-19-2-66zM2978 2055l1-65 13 19-2 65z"/>
<path class="c0 o2" d="M2598 2209l1 9-12-22-2-10zM2583 2197l2-11 13 23-2 10z"/>
<path class="c1 o2" d="M2702 2178l2 17-13-21-1-18zM2688 2175l2-19 12 22-1 18z"/>
<path class="c3 o2" d="M2382 2218l2 10-13-22-1-11zM2368 2206l2-11 12 23-1 10z"/>
<path class="c1 o1" d="M2364 2240l4-34 13 22-4 29zM2366 2227l4 31-13-17-4-37zM2684 2232l4-57 13 21-4 53zM2685 2205l4 45-12-17-4-49z"/>
<path class="c12 o1" d="M3116 2296l4-281 13 17-4 281z"/>
<path class="c10 o2" d="M3103 1953l2 89-13-17-1-89zM3089 2022l2-86 12 17-1 86z"/>
<path class="c10 o1" d="M3085 2284l4-262 13 17-4 261zM3117 2059l4 256-12-17-4-256z"/>
<path class="c14 o1" d="M3147 2308l4-301 13 16-4 302z"/>
<path class="c15 o2" d="M3169 2031l-2-3-2-104 3 4z"/>
<path class="c4 o1" d="M2881 2212l4-159 12 20-4 156zM2882 2091l4 140-13-17-3-143z"/>
<path class="c8 o1" d="M3055 2069l4 222-12-17-4-222z"/>
<path class="c7 o2" d="M3027 2031l2-75 12 19-1 75zM3054 1993l1 76-12-17-2-77z"/>
<path class="c5 o2" d="M2948 1995l2 62-13-20-1-63zM2934 2036l2-62 12 21-1 61z"/>
<path class="c5 o1" d="M2930 2221l4-185 13 20-4 182zM2931 2075l4 165-12-17-4-167zM2962 2076l4 177-12-17-4-179z"/>
<path class="c5 o2" d="M2961 2015l1 61-12-19-2-62zM2947 2056l1-61 13 20-2 60zM2930 2019l1 56-12-19-2-58zM2916 2055l1-57 13 21-2 56z"/>
<path class="c5 o1" d="M2912 2225l4-170 12 20-4 167zM2943 2238l4-182 12 19-4 180zM2944 2095l4 162-13-17-4-165z"/>
<path class="c2 o1" d="M2280 2233l4-58 11 20-4 53z"/>
<path class="c6 o1" d="M2974 2251l4-196 12 19-4 194z"/>
<path class="c0 o1" d="M2579 2230l4-33 13 22-4 28zM2581 2224l4 24-13-17-4-28z"/>
<path class="c3 o2" d="M2364 2216l2 11-13-23-2-12zM2350 2204l1-12 13 24-2 10z"/>
<path class="c1 o2" d="M2684 2190l1 15-12-21-2-16zM2670 2185l1-17 13 22-2 16z"/>
<path class="c1 o1" d="M2666 2235l4-50 12 21-4 46zM2667 2215l4 38-13-17-4-42zM2346 2242l4-38 12 22-4 33z"/>
<path class="c9 o1" d="M3086 2065l4 238-12-17-4-238z"/>
<path class="c10 o2" d="M3116 1969l1 90-12-17-2-89zM3102 2039l1-86 13 16-2 87z"/>
<path class="c12 o1" d="M3148 2052l4 275-12-16-4-275z"/>
<path class="c14 o2" d="M3167 2027l-3-4 1-99 3 4z"/>
<path class="c4 o2" d="M2881 2043l1 48-12-20-2-49zM2866 2071l2-49 13 21-2 48z"/>
<path class="c4 o1" d="M2862 2216l4-145 13 20-4 142zM2864 2108l4 127-13-17-4-131zM2913 2093l4 151-13-17-4-153z"/>
<path class="c7 o1" d="M3023 2259l4-228 13 19-4 226zM3024 2073l4 205-12-17-4-206z"/>
<path class="c7 o2" d="M3023 2002l1 71-12-18-2-72zM3040 2050l1-75 13 18-2 74z"/>
<path class="c5 o2" d="M2942 2039l2 56-13-20-1-56zM2928 2075l2-56 12 20-1 55z"/>
<path class="c5 o1" d="M2924 2242l4-167 13 19-4 165zM2975 2094l4 176-13-17-4-177z"/>
<path class="c3 o1" d="M2279 2191l4 57-9-12-3-60z"/>
<path class="c6 o2" d="M2278 2171l1 20-8-15-1-21zM2268 2176l2-21 8 16-2 20zM3009 2053l1-70 13 19-2 69z"/>
<path class="c0 o2" d="M2579 2217l2 7-13-21-1-9zM2565 2204l2-10 12 23-1 8z"/>
<path class="c1 o2" d="M2665 2202l2 13-13-21-1-14zM2651 2195l2-15 12 22-1 14z"/>
<path class="c2 o1" d="M2347 2224l4 36-12-17-4-41z"/>
<path class="c4 o2" d="M2346 2212l1 12-12-22-2-14zM2331 2202l2-14 13 24-2 12zM2912 2042l1 51-13-19-1-53zM2897 2073l2-52 13 21-2 51z"/>
<path class="c4 o1" d="M2893 2229l4-156 13 20-4 153zM2895 2111l4 137-13-17-4-140zM2926 2113l4 148-13-17-4-151z"/>
<path class="c4 o2" d="M2924 2062l2 51-13-20-1-51zM2910 2093l2-51 12 20-1 51zM2893 2064l2 47-13-20-1-48zM2879 2091l2-48 12 21-1 47z"/>
<path class="c4 o1" d="M2875 2233l4-142 13 20-4 139zM2906 2246l4-153 13 20-4 150zM2907 2130l4 135-12-17-4-137z"/>
<path class="c9 o2" d="M3085 1982l1 83-12-17-2-83z"/>
<path class="c10 o1" d="M3098 2300l4-261 12 17-4 261z"/>
<path class="c12 o2" d="M3147 1955l1 97-12-16-2-96zM3133 2032l1-92 13 15-2 93z"/>
<path class="c12 o1" d="M3129 2313l4-281 12 16-4 281zM3157 2334l-5-7-4-275 6 7z"/>
<path class="c14 o1" d="M3164 2330l-4-5 4-302 3 4z"/>
<path class="c3 o2" d="M2862 2064l2 44-13-21-1-44zM2848 2088l2-45 12 21-1 44z"/>
<path class="c3 o1" d="M2844 2220l4-132 13 20-4 129zM2845 2124l4 115-12-17-4-119zM2876 2128l4 124-12-17-4-127zM2265 2239l3-63 8 15-4 58z"/>
<path class="c3 o2" d="M2875 2085l1 43-12-20-2-44zM2861 2108l1-44 13 21-2 43zM2844 2085l1 39-12-21-2-40zM2830 2104l1-41 13 22-2 39z"/>
<path class="c3 o1" d="M2826 2224l4-120 12 20-4 117zM2827 2139l4 104-13-18-4-106zM2857 2237l4-129 12 20-4 126zM2858 2144l4 112-13-17-4-115z"/>
<path class="c3 o2" d="M2856 2105l2 39-13-20-1-39zM2842 2124l2-39 12 20-1 39zM2825 2104l2 35-13-20-1-37zM2811 2119l2-37 12 22-1 36z"/>
<path class="c3 o1" d="M2807 2228l4-109 13 21-4 105zM2838 2241l4-117 13 20-4 114zM2839 2159l4 101-12-17-4-104z"/>
<path class="c2 o1" d="M2808 2153l4 93-12-17-4-96zM2327 2244l4-42 13 22-4 37zM2329 2221l4 41-13-17-4-46z"/>
<path class="c4 o2" d="M2327 2207l2 14-13-22-1-16zM2313 2199l2-16 12 24-1 14zM2906 2084l1 46-12-19-2-47zM2892 2111l1-47 13 20-2 46z"/>
<path class="c7 o1" d="M3036 2276l4-226 12 17-4 226zM3037 2090l4 205-13-17-4-205z"/>
<path class="c5 o2" d="M2973 2034l2 60-13-18-1-61zM2959 2075l2-60 12 19-1 60z"/>
<path class="c6 o1" d="M3005 2263l4-210 12 18-4 209zM3006 2093l4 189-13-16-4-191z"/>
<path class="c6 o2" d="M3004 2028l2 65-13-18-1-66zM2990 2074l2-65 12 19-1 64zM3035 2020l2 70-13-17-1-71zM3021 2071l2-69 12 18-1 69z"/>
<path class="c6 o1" d="M3017 2280l4-209 13 18-4 208zM3019 2111l4 188-13-17-4-189zM2986 2268l4-194 13 18-4 193z"/>
<path class="c5 o1" d="M2988 2113l4 174-13-17-4-176zM2955 2255l4-180 13 19-4 178zM2957 2113l4 161-13-17-4-162z"/>
<path class="c5 o2" d="M2955 2058l2 55-13-18-2-56zM2941 2094l1-55 13 19-1 55zM2986 2053l2 60-13-19-2-60zM2972 2094l1-60 13 19-2 59z"/>
<path class="c4 o1" d="M2937 2259l4-165 13 19-4 163zM2938 2131l4 147-12-17-4-148zM2888 2250l4-139 12 19-4 137z"/>
<path class="c0 o1" d="M2561 2233l4-29 13 21-4 25zM2562 2230l4 21-12-17-4-25z"/>
<path class="c1 o1" d="M2647 2238l4-43 13 21-4 39zM2649 2223l3 33-12-17-4-37z"/>
<path class="c8 o2" d="M3071 2045l1-80 13 17-2 80z"/>
<path class="c9 o1" d="M3099 2081l4 239-13-17-4-238z"/>
<path class="c10 o1" d="M3130 2075l4 257-13-17-4-256z"/>
<path class="c12 o2" d="M3154 2059l-6-7-1-97 6 7zM3151 2055l-6-7 2-93 6 7z"/>
<path class="c3 o2" d="M2838 2125l1 34-12-20-2-35zM2824 2140l1-36 13 21-2 35z"/>
<path class="c3 o1" d="M2820 2245l4-105 12 20-4 102zM2889 2147l4 122-13-17-4-124z"/>
<path class="c2 o2" d="M2807 2122l1 31-12-20-2-32zM2793 2134l1-33 13 21-2 32z"/>
<path class="c2 o1" d="M2789 2231l4-97 12 20-4 94zM2790 2167l4 83-13-17-4-86zM2821 2173l4 90-13-17-4-93zM2309 2246l4-47 13 22-4 42zM2310 2218l4 46-12-18-4-51z"/>
<path class="c2 o2" d="M2819 2143l2 30-13-20-1-31zM2805 2154l2-32 12 21-1 31zM2788 2140l2 27-13-20-1-29zM2774 2148l2-30 12 22-1 28z"/>
<path class="c2 o1" d="M2770 2235l4-87 13 20-4 84zM2772 2180l4 74-13-18-4-76zM2801 2248l4-94 13 20-4 92zM2803 2187l4 80-13-17-4-83z"/>
<path class="c2 o2" d="M2801 2160l2 27-13-20-2-27zM2787 2168l1-28 13 20-2 28zM2770 2156l2 24-13-20-2-26zM2756 2161l1-27 13 22-2 26z"/>
<path class="c2 o1" d="M2752 2238l4-77 12 21-4 74zM2753 2193l4 64-12-17-4-68zM2783 2252l4-84 12 20-4 81zM2784 2200l4 71-12-17-4-74z"/>
<path class="c2 o2" d="M2783 2177l1 23-12-20-2-24zM2768 2182l2-26 13 21-2 24zM2752 2171l1 22-12-21-2-22z"/>
<path class="c1 o2" d="M2737 2174l2-24 13 21-2 23zM2647 2213l2 10-13-21-2-12zM2633 2204l1-14 13 23-2 12z"/>
<path class="c1 o1" d="M2629 2241l4-37 12 21-4 33zM2734 2242l3-68 13 20-4 65zM2735 2204l4 57-13-18-4-59z"/>
<path class="c6 o2" d="M3017 2046l2 65-13-18-2-65zM3003 2092l1-64 13 18-2 64z"/>
<path class="c5 o1" d="M2968 2272l4-178 12 18-3 177zM2969 2131l4 160-12-17-4-161z"/>
<path class="c5 o2" d="M2968 2077l1 54-12-18-2-55zM2309 2201l1 17-12-23-2-17zM2295 2195l1-17 13 23-2 16z"/>
<path class="c4 o2" d="M2954 2113l1-55 13 19-2 54zM2937 2081l1 50-12-18-2-51zM2923 2113l1-51 13 19-2 50z"/>
<path class="c2 o1" d="M2291 2248l4-53 12 22-4 48zM2292 2213l4 53-13-18-4-57zM2764 2256l4-74 13 19-4 72z"/>
<path class="c4 o1" d="M2919 2263l4-150 12 18-4 149zM2920 2149l4 133-13-17-4-135zM2950 2276l4-163 12 18-4 162zM2951 2150l4 145-13-17-4-147z"/>
<path class="c4 o2" d="M2949 2100l2 50-13-19-1-50zM2935 2131l2-50 12 19-1 50zM2918 2103l2 46-13-19-1-46zM2904 2130l2-46 12 19-1 46z"/>
<path class="c4 o1" d="M2900 2267l4-137 13 19-4 135zM2931 2280l4-149 13 19-4 147zM2932 2167l4 132-12-17-4-133z"/>
<path class="c0 o2" d="M2561 2223l1 7-12-21-2-9zM2547 2209l1-9 13 23-2 8z"/>
<path class="c0 o1" d="M2543 2235l4-26 12 22-4 22zM2544 2235l4 19-13-17-4-23zM2630 2231l4 28-13-17-3-32z"/>
<path class="c0 o2" d="M2629 2222l1 9-12-21-2-10zM2614 2212l2-12 13 22-2 11zM2542 2229l2 6-13-21-1-8zM2528 2214l2-8 12 23-1 7z"/>
<path class="c0 o1" d="M2524 2238l4-24 13 22-4 19zM2525 2240l4 16-12-17-4-21zM2556 2256l4 15-12-17-4-19zM2610 2244l4-32 13 21-4 28zM2612 2239l4 23-13-17-4-27z"/>
<path class="c0 o2" d="M2610 2231l2 8-13-21-1-9zM2596 2219l2-10 12 22-1 9zM2524 2234l1 6-12-22-2-7zM2510 2219l1-8 13 23-2 6z"/>
<path class="c0 o1" d="M2506 2241l4-22 12 21-4 18zM2538 2261l4 13-13-18-4-16zM2592 2247l4-28 13 21-4 24zM2593 2245l4 20-12-17-4-24z"/>
<path class="c0 o2" d="M2592 2239l1 6-12-21-2-7zM2578 2225l1-8 13 22-2 7zM2536 2256l2 5-13-21-1-6zM2522 2240l2-6 12 22-1 5zM2505 2238l2 5-13-21-1-7zM2491 2222l2-7 12 23-1 6z"/>
<path class="c0 o1" d="M2487 2243l4-21 13 22-4 17zM2520 2264l4 12-13-17-4-16zM2518 2258l4-18 13 21-4 14zM2551 2281l4 10-13-17-4-13zM2574 2250l4-25 12 21-4 21zM2575 2251l4 17-13-17-4-21z"/>
<path class="c0 o2" d="M2573 2246l2 5-13-21-1-7zM2559 2231l2-8 12 23-1 6zM2549 2278l2 3-13-20-2-5zM2535 2261l1-5 13 22-2 4zM2518 2260l2 4-13-21-2-5zM2504 2244l1-6 13 22-2 5zM2487 2241l2 5-13-21-2-7z"/>
<path class="c0 o1" d="M2501 2267l4 12-12-17-4-16zM2500 2261l4-17 12 21-3 13zM2532 2285l4 8-12-17-4-12zM2531 2275l4-14 12 21-3 10zM2563 2301l4 7-12-17-4-10zM2576 2320l4 5-13-17-4-7zM2555 2253l4-22 13 21-4 18zM2587 2272l4 13-12-17-4-17z"/>
<path class="c0 o2" d="M2586 2267l1 5-12-21-2-5zM2572 2252l1-6 13 21-2 5zM2555 2251l1 5-12-21-2-6zM2541 2236l1-7 13 22-2 6zM2547 2282l2-4 13 21-2 2zM2562 2299l1 2 13 19-2-1zM2531 2282l1 3-12-21-2-4zM2516 2265l2-5 13 22-2 3z"/>
<path class="c0 o1" d="M2513 2278l3-13 13 20-4 10zM2545 2304l4 7-13-18-4-8zM2576 2320l4 5 12 17-4-3zM2544 2292l3-10 13 19-4 9zM2537 2255l4-19 12 21-4 16zM2569 2277l4 11-13-17-4-15zM2568 2270l4-18 12 20-4 15zM2600 2291l4 11-13-17-4-13z"/>
<path class="c0 o2" d="M2598 2288l2 3-13-19-1-5zM2584 2272l2-5 12 21-1 4zM2567 2273l2 4-13-21-1-5zM2553 2257l2-6 12 22-1 4zM2560 2301l2-2 12 20-1 2zM2574 2319l2 1 12 19-1-1zM2531 2282l1 3 13 19-2-1zM2529 2285l2-3 12 21-1 2z"/>
<path class="c0 o1" d="M2525 2295l4-10 13 20-4 7zM2545 2304l4 7 12 17-4-4zM2588 2339l4 3 13 17-4-2zM2556 2310l4-9 13 20-4 6zM2549 2273l4-16 13 20-4 13zM2582 2296l4 9-13-17-4-11zM2580 2287l4-15 13 20-4 12zM2613 2311l4 9-13-18-4-11zM2625 2329l4 7-12-16-4-9zM2638 2348l4 5-13-17-4-7zM2650 2365l4 5-12-17-4-5z"/>
<path class="c0 o2" d="M2597 2292l1-4 13 20-2 4zM2580 2294l2 2-13-19-2-4zM2566 2277l1-4 13 21-2 3zM2573 2321l1-2 13 19-2 2zM2587 2338l1 1 13 18-2 0zM2543 2303l2 1 12 20-1-1zM2542 2305l1-2 13 20-2 1z"/>
<path class="c0 o1" d="M2538 2312l4-7 12 19-4 5zM2557 2324l4 4 13 17-4-3zM2601 2357l4 2 12 17-4-1zM2569 2327l4-6 12 19-4 4zM2562 2290l4-13 12 20-4 10zM2594 2316l4 6-12-17-4-9zM2593 2304l4-12 12 20-4 9z"/>
<path class="c0 o2" d="M2609 2312l2-4 13 19-2 3zM2580 2294l2 2 12 20-1-2zM2578 2297l2-3 13 20-2 3zM2585 2340l2-2 12 19-1 1zM2599 2357l2 0 12 18-1-1zM2556 2323l1 1 13 18-2 0zM2554 2324l2-1 12 19-1 1z"/>
<path class="c0 o1" d="M2550 2329l4-5 13 19-4 3zM2570 2342l4 3 12 16-4 0zM2613 2375l4 1 13 17-4-1zM2581 2344l4-4 13 18-4 2zM2574 2307l4-10 13 20-4 7zM2607 2334l4 5-13-17-4-6zM2607 2334l4 5 12 17-4-3zM2605 2321l4-9 13 18-4 8z"/>
<path class="c0 o2" d="M2622 2330l2-3 12 19-1 2zM2636 2346l2 2 12 17-1-1zM2591 2317l2-3 12 19-1 2zM2605 2333l2 1 12 19-1-1zM2598 2358l1-1 13 17-2 1zM2612 2374l1 1 13 17-2 0zM2568 2342l2 0 12 19-1-1zM2567 2343l1-1 13 18-2 1z"/>
<path class="c0 o1" d="M2563 2346l4-3 12 18-4 2zM2582 2361l4 0 13 17-4 0zM2626 2392l4 1 13 16-4-1zM2594 2360l4-2 12 17-4 2zM2619 2353l4 3 13 17-4-3zM2587 2324l4-7 13 18-4 6zM2618 2338l4-8 13 18-4 7z"/>
<path class="c0 o2" d="M2635 2348l1-2 13 18-2 2zM2649 2364l1 1 13 17-2-1zM2604 2335l1-2 13 19-2 1zM2618 2352l1 1 13 17-2 0zM2610 2375l2-1 12 18-1 0zM2624 2392l2 0 13 16-2 0zM2581 2360l1 1 13 17-2 0zM2579 2361l2-1 12 18-1 1z"/>
<path class="c0 o1" d="M2575 2363l4-2 13 18-4 1zM2595 2378l4 0 13 17-4 0zM2639 2408l4 1 12 17-4-2zM2606 2377l4-2 13 17-4 2zM2632 2370l4 3 12 17-4-3zM2600 2341l4-6 12 18-4 5zM2631 2355l4-7 12 18-4 6z"/>
<path class="c0 o2" d="M2647 2366l2-2 12 17-1 2zM2661 2381l2 1 12 17-1-2zM2616 2353l2-1 12 18-1 1zM2630 2370l2 0 12 17-1 0zM2623 2392l1 0 13 16-2 1zM2637 2408l2 0 12 16-1 0zM2593 2378l2 0 13 17-2 0zM2592 2379l1-1 13 17-2 1z"/>
<path class="c0 o1" d="M2588 2380l4-1 12 17-3 1zM2608 2395l4 0 12 17-4 0zM2651 2424l4 2 13 17-4-3zM2619 2394l4-2 12 17-3 2zM2644 2387l4 3 13 17-4-3zM2612 2358l4-5 13 18-4 4zM2688 2415l4 6-13-17-4-5zM2643 2372l4-6 13 17-4 6z"/>
<path class="c0 o2" d="M2660 2383l1-2 13 16-2 3zM2674 2397l1 2 13 16-2-2zM2629 2371l1-1 13 17-2 1zM2643 2387l1 0 13 17-2-1zM2635 2409l2-1 13 16-2 1zM2650 2424l1 0 13 16-2-1zM2606 2395l2 0 12 17-1 0zM2604 2396l2-1 13 17-2 0z"/>
<path class="c0 o1" d="M2601 2397l3-1 13 16-4 1zM2620 2412l4 0 13 17-4-1zM2664 2440l4 3 12 16-4-5zM2632 2411l3-2 13 16-4 3zM2657 2404l4 3 13 16-4-3zM2625 2375l4-4 12 17-4 3zM2701 2430l4 7-13-16-4-6zM2713 2445l4 9-12-17-4-7zM2656 2389l4-6 12 17-4 6z"/>
<path class="c0 o2" d="M2672 2400l2-3 12 16-1 3zM2641 2388l2-1 12 16-1 2zM2655 2403l2 1 13 16-2-1zM2648 2425l2-1 12 15-1 1zM2662 2439l2 1 12 14-1-1zM2619 2412l1 0 13 16-2 0zM2617 2412l2 0 12 16-1 0z"/>
<path class="c0 o1" d="M2613 2413l4-1 13 16-4 2zM2633 2428l4 1 12 16-4-2zM2689 2469l4 7-13-17-4-5zM2701 2482l4 10-12-16-4-7zM2644 2428l4-3 13 15-4 4zM2670 2420l4 3 12 17-4-5zM2637 2391l4-3 13 17-4 3zM2668 2406l4-6 13 16-4 6z"/>
<path class="c0 o2" d="M2685 2416l1-3 13 15-2 3zM2712 2442l1 3-12-15-2-2zM2654 2405l1-2 13 16-2 2zM2668 2419l2 1 12 15-1-1zM2661 2440l1-1 13 14-2 2zM2631 2428l2 0 12 15-1 0zM2630 2428l1 0 13 15-2 1z"/>
<path class="c0 o1" d="M2626 2430l4-2 12 16-4 3zM2645 2443l4 2 13 17-4-4zM2657 2444l4-4 12 15-4 6zM2695 2450l4 7-13-17-4-5zM2707 2464l4 9-12-16-4-7zM2650 2408l4-3 12 16-4 4zM2726 2459l4 11-13-16-4-9zM2681 2422l4-6 12 15-4 8z"/>
<path class="c0 o2" d="M2697 2431l2-3 13 14-2 4zM2724 2456l2 3-13-14-1-3zM2666 2421l2-2 13 15-2 2zM2673 2455l2-2 12 13-1 3zM2700 2479l1 3-12-13-2-3zM2644 2443l1 0 13 15-2-1zM2642 2444l2-1 12 14-1 2z"/>
<path class="c0 o1" d="M2638 2447l4-3 13 15-4 4zM2670 2472l4 6-12-16-4-4zM2683 2486l4 9-13-17-4-6zM2714 2496l4 13-13-17-4-10zM2669 2461l4-6 13 14-4 8zM2662 2425l4-4 13 15-4 6zM2738 2473l4 14-12-17-4-11zM2693 2439l4-8 13 15-4 9z"/>
<path class="c0 o2" d="M2710 2446l2-4 12 14-1 4zM2679 2436l2-2 12 14-1 3zM2706 2462l1 2-12-14-2-2zM2686 2469l1-3 13 13-2 4zM2712 2491l2 5-13-14-1-3zM2655 2459l1-2 13 13-2 3zM2681 2483l2 3-13-14-1-2z"/>
<path class="c0 o1" d="M2696 2499l4 12-13-16-4-9zM2651 2463l4-4 12 14-4 7zM2682 2477l4-8 12 14-4 11zM2720 2478l4 12-13-17-4-9zM2675 2442l4-6 13 15-4 7zM2706 2455l4-9 13 14-4 12z"/>
<path class="c0 o2" d="M2692 2451l1-3 13 14-2 3zM2718 2474l2 4-13-14-1-2zM2698 2483l2-4 12 12-1 5zM2667 2473l2-3 12 13-1 4zM2694 2495l2 4-13-13-2-3z"/>
<path class="c0 o1" d="M2663 2480l4-7 13 14-4 9zM2694 2494l4-11 13 13-4 14zM2732 2491l4 15-12-16-4-12zM2688 2458l4-7 12 14-4 10z"/>
<path class="c0 o2" d="M2704 2465l2-3 12 12-1 5zM2680 2487l1-4 13 12-2 5z"/>
<path class="c0 o1" d="M2676 2496l4-9 12 13-3 13zM2700 2475l4-10 13 14-4 12z"/>
<path class="c8 o1" d="M3067 2288l4-243 12 17-4 243zM3068 2087l4 220-13-16-4-222z"/>
<path class="c9 o2" d="M3097 1998l2 83-13-16-1-83z"/>
<path class="c10 o2" d="M3128 1985l2 90-13-16-1-90zM3114 2056l2-87 12 16-1 87z"/>
<path class="c12 o1" d="M3148 2338l-7-9 4-281 6 7z"/>
<path class="c10 o1" d="M3142 2343l-8-11-4-257 9 11zM3110 2317l4-261 13 16-4 262z"/>
<path class="c3 o2" d="M2887 2105l2 42-13-19-1-43zM2873 2128l2-43 12 20-1 42z"/>
<path class="c3 o1" d="M2869 2254l4-126 13 19-4 124zM2870 2163l4 110-12-17-4-112zM2901 2166l4 120-12-17-4-122z"/>
<path class="c3 o2" d="M2900 2125l1 41-12-19-2-42zM2886 2147l1-42 13 20-2 41zM2869 2125l1 38-12-19-2-39zM2855 2144l1-39 13 20-2 38z"/>
<path class="c3 o1" d="M2851 2258l4-114 12 19-4 112zM2852 2178l4 99-13-17-4-101zM2882 2271l4-124 12 19-4 122zM2883 2181l4 109-13-17-4-110z"/>
<path class="c3 o2" d="M2881 2145l2 36-13-18-1-38zM2867 2163l2-38 12 20-1 37zM2850 2145l2 33-13-19-1-34zM2836 2160l2-35 12 20-1 34z"/>
<path class="c1 o2" d="M2733 2186l2 18-13-20-1-20zM2719 2185l2-21 12 22-1 20z"/>
<path class="c1 o1" d="M2715 2245l4-60 13 21-4 57zM2716 2215l4 49-12-17-4-52zM2766 2213l4 61-13-17-4-64z"/>
<path class="c1 o2" d="M2764 2192l2 21-13-20-1-22zM2750 2194l2-23 12 21-1 22zM2715 2199l1 16-12-20-2-17zM2701 2196l1-18 13 21-2 18z"/>
<path class="c1 o1" d="M2697 2249l4-53 12 21-4 49zM2698 2226l4 41-13-17-4-45zM2746 2259l4-65 13 20-4 62zM2747 2224l4 54-12-17-4-57z"/>
<path class="c1 o2" d="M2746 2207l1 17-12-20-2-18zM2732 2206l1-20 13 21-2 19zM2696 2212l2 14-13-21-1-15zM2682 2206l2-16 12 22-1 15z"/>
<path class="c1 o1" d="M2678 2252l4-46 13 21-4 42zM2680 2235l3 35-12-17-4-38zM2728 2263l4-57 12 20-4 54zM2729 2235l4 46-13-17-4-49z"/>
<path class="c1 o2" d="M2727 2220l2 15-13-20-1-16zM2713 2217l2-18 12 21-1 16zM2678 2224l2 11-13-20-2-13zM2664 2216l1-14 13 22-2 12z"/>
<path class="c1 o1" d="M2660 2255l4-39 12 20-4 36zM2661 2244l4 30-13-18-3-33zM2709 2266l4-49 13 19-4 47zM2710 2245l4 39-12-17-4-41z"/>
<path class="c6 o1" d="M2999 2285l4-193 12 18-3 191z"/>
<path class="c6 o2" d="M2290 2195l2 18-13-22-1-20zM2276 2191l2-20 12 24-1 18z"/>
<path class="c3 o1" d="M2272 2249l4-58 13 22-4 54zM2273 2208l4 59-12-17-4-64zM2863 2275l4-112 13 19-4 110zM2865 2197l4 97-13-17-4-99z"/>
<path class="c2 o2" d="M2863 2164l2 33-13-19-2-33zM2473 2225l1-7 13 23-2 6z"/>
<path class="c0 o2" d="M2500 2263l1 4-12-21-2-5zM2660 2234l1 10-12-21-2-10zM2645 2225l2-12 13 21-2 11z"/>
<path class="c0 o1" d="M2641 2258l4-33 13 20-4 30zM2643 2252l4 25-13-18-4-28zM2514 2288l4 8-13-17-4-12z"/>
<path class="c4 o2" d="M2931 2122l1 45-12-18-2-46zM2917 2149l1-46 13 19-2 45z"/>
<path class="c7 o2" d="M3066 2010l2 77-13-18-1-76zM3052 2067l2-74 12 17-1 74z"/>
<path class="c8 o2" d="M3083 2062l2-80 12 16-1 81z"/>
<path class="c10 o2" d="M3139 2086l-9-11-2-90 9 11zM3136 2083l-9-11 1-87 9 11z"/>
<path class="c9 o1" d="M3112 2097l4 239-13-16-4-239z"/>
<path class="c2 o1" d="M2832 2262l4-102 13 19-4 100zM2834 2193l4 88-13-18-4-90z"/>
<path class="c2 o2" d="M2832 2163l2 30-13-20-2-30zM2818 2174l1-31 13 20-2 31zM2849 2179l1-34 13 19-2 34z"/>
<path class="c2 o1" d="M2845 2279l4-100 12 19-4 98zM2846 2211l4 86-12-16-4-88zM2814 2266l4-92 12 20-4 89zM2815 2206l4 78-12-17-4-80z"/>
<path class="c2 o2" d="M2814 2180l1 26-12-19-2-27zM2799 2188l2-28 13 20-2 28zM2845 2182l1 29-12-18-2-30zM2830 2194l2-31 13 19-2 30z"/>
<path class="c2 o1" d="M2826 2283l4-89 13 18-4 88zM2828 2225l4 76-13-17-4-78zM2795 2269l4-81 13 20-4 78zM2797 2219l4 69-13-17-4-71z"/>
<path class="c2 o2" d="M2795 2197l2 22-13-19-1-23zM2781 2201l2-24 12 20-1 24zM2826 2200l2 25-13-19-1-26zM2812 2208l2-28 12 20-1 26z"/>
<path class="c2 o1" d="M2808 2286l4-78 13 18-4 77zM2809 2238l4 67-12-17-4-69zM2777 2273l4-72 13 20-4 69z"/>
<path class="c1 o1" d="M2778 2232l4 59-12-17-4-61zM2469 2246l4-21 12 22-3 16z"/>
<path class="c1 o2" d="M2485 2247l2-6 13 22-2 5zM2777 2212l1 20-12-19-2-21zM2763 2214l1-22 13 20-2 21zM2709 2233l1 12-12-19-2-14zM2695 2227l1-15 13 21-2 14z"/>
<path class="c0 o2" d="M2512 2285l2 3-13-21-1-4zM2641 2244l2 8-13-21-1-9zM2627 2233l2-11 12 22-1 9z"/>
<path class="c0 o1" d="M2623 2261l4-28 13 20-4 25zM2624 2259l4 21-12-18-4-23zM2526 2307l4 6-12-17-4-8zM2482 2263l3-16 13 21-4 12z"/>
<path class="c2 o2" d="M2469 2243l1 5-12-21-2-7zM2455 2227l1-7 13 23-2 6zM2808 2216l1 22-12-19-2-22zM2794 2221l1-24 13 19-2 23z"/>
<path class="c1 o1" d="M2790 2290l4-69 12 18-4 68zM2791 2251l4 57-13-17-4-59zM2451 2248l4-21 12 22-4 17zM2452 2250l4 16-13-17-4-21zM2691 2269l4-42 12 20-4 39zM2692 2255l4 33-13-18-3-35zM2759 2276l4-62 12 19-4 60zM2760 2244l4 51-13-17-4-54z"/>
<path class="c1 o2" d="M2758 2227l2 17-13-20-1-17zM2744 2226l2-19 12 20-1 18zM2691 2244l1 11-12-20-2-11zM2676 2236l2-12 13 20-2 12zM2789 2232l2 19-13-19-1-20zM2775 2233l2-21 12 20-1 20zM2498 2268l2-5 12 22-1 3z"/>
<path class="c1 o1" d="M2771 2293l4-60 13 19-4 58zM2772 2262l4 50-12-17-4-51zM2672 2272l4-36 13 20-4 33zM2740 2280l4-54 13 19-4 52zM2741 2254l4 44-12-17-4-46z"/>
<path class="c0 o1" d="M2674 2264l4 27-13-17-4-30zM2494 2280l4-12 13 20-4 9zM2483 2269l4 12-13-17-4-16z"/>
<path class="c0 o2" d="M2672 2255l2 9-13-20-1-10zM2658 2245l2-11 12 21-1 10zM2512 2285l2 3 12 19-1-2zM2511 2288l1-3 13 20-2 3zM2623 2253l1 6-12-20-2-8zM2609 2240l1-9 13 22-2 7z"/>
<path class="c0 o1" d="M2605 2264l4-24 12 20-4 21zM2606 2266l4 17-13-18-4-20zM2507 2297l4-9 12 20-4 7zM2526 2307l4 6 13 17-4-3zM2654 2275l4-30 13 20-4 27zM2655 2272l4 22-12-17-4-25z"/>
<path class="c1 o2" d="M2481 2265l2 4-13-21-1-5zM2467 2249l2-6 12 22-1 5zM2740 2240l1 14-12-19-2-15zM2726 2236l1-16 13 20-2 16zM2771 2246l1 16-12-18-2-17zM2757 2245l1-18 13 19-2 18z"/>
<path class="c0 o2" d="M2654 2265l1 7-12-20-2-8zM2640 2253l1-9 13 21-2 8zM2525 2305l1 2 13 20-2-1zM2523 2308l2-3 12 21-1 1zM2604 2260l2 6-13-21-1-6zM2590 2246l2-7 12 21-1 7z"/>
<path class="c0 o1" d="M2586 2267l4-21 13 21-4 17zM2618 2286l4 14-12-17-4-17zM2519 2315l4-7 13 19-4 5zM2539 2327l4 3 12 17-4-2zM2636 2278l4-25 12 20-4 23zM2637 2279l4 18-13-17-4-21zM2463 2266l4-17 13 21-4 13zM2495 2290l4 8-12-17-4-12z"/>
<path class="c0 o2" d="M2635 2273l2 6-13-20-1-6zM2621 2260l2-7 12 20-1 7zM2537 2326l2 1 12 18-1 0zM2536 2327l1-1 13 19-2 1zM2617 2281l1 5-12-20-2-6zM2603 2267l1-7 13 21-2 5z"/>
<path class="c0 o1" d="M2599 2284l4-17 12 19-4 15zM2631 2305l4 12-13-17-4-14zM2532 2332l4-5 12 19-4 3zM2551 2345l4 2 13 17-4 0zM2617 2281l4-21 13 20-4 18zM2649 2298l4 16-12-17-4-18z"/>
<path class="c1 o1" d="M2753 2297l4-52 12 19-4 50zM2754 2273l4 42-13-17-4-44zM2722 2283l4-47 12 20-4 44zM2723 2265l4 36-13-17-4-39z"/>
<path class="c1 o2" d="M2721 2253l2 12-13-20-1-12zM2707 2247l2-14 12 20-1 13zM2752 2260l2 13-13-19-1-14zM2738 2256l2-16 12 20-1 15zM2494 2287l1 3-12-21-2-4zM2480 2270l1-5 13 22-2 3z"/>
<path class="c0 o2" d="M2550 2345l1 0 13 19-2-1zM2548 2346l2-1 12 18-1 1zM2629 2301l2 4-13-19-1-5zM2615 2286l2-5 12 20-1 5z"/>
<path class="c0 o1" d="M2611 2301l4-15 13 20-4 12zM2644 2324l4 10-13-17-4-12zM2544 2349l4-3 13 18-4 2zM2564 2364l4 0 13 17-4 0zM2476 2283l4-13 12 20-4 10zM2508 2310l4 6-13-18-4-8zM2508 2310l4 6 12 17-4-4z"/>
<path class="c0 o2" d="M2492 2290l2-3 12 20-1 3zM2506 2307l2 3 12 19-1-1zM2562 2363l2 1 13 17-2 0zM2561 2364l1-1 13 18-2 1zM2642 2320l2 4-13-19-2-4zM2628 2306l1-5 13 19-2 5z"/>
<path class="c0 o1" d="M2624 2318l4-12 12 19-4 10zM2656 2342l4 9-12-17-4-10zM2557 2366l4-2 12 18-3 0zM2577 2381l4 0 12 17-4 0zM2520 2329l4 4 13 17-4-2zM2488 2300l4-10 13 20-4 7z"/>
<path class="c0 o2" d="M2505 2310l1-3 13 21-2 1zM2519 2328l1 1 13 19-2-1zM2575 2381l2 0 12 17-1 0zM2573 2382l2-1 13 17-2 1zM2655 2339l1 3-12-18-2-4zM2640 2325l2-5 13 19-2 4z"/>
<path class="c0 o1" d="M2636 2335l4-10 13 18-4 9zM2669 2359l4 8-13-16-4-9zM2570 2382l3 0 13 17-4 0zM2589 2398l4 0 13 16-4 1zM2533 2348l4 2 13 16-4 0zM2501 2317l4-7 12 19-4 5z"/>
<path class="c0 o2" d="M2517 2329l2-1 12 19-1 1zM2531 2347l2 1 13 18-2-1zM2588 2398l1 0 13 17-2 0zM2586 2399l2-1 12 17-1 0zM2667 2357l2 2-13-17-1-3zM2653 2343l2-4 12 18-1 3z"/>
<path class="c0 o1" d="M2649 2352l4-9 13 17-4 9zM2681 2376l4 8-12-17-4-8zM2694 2393l4 8-13-17-4-8zM2582 2399l4 0 13 16-4 1zM2602 2415l4-1 12 17-4 0zM2546 2366l4 0 12 17-4 0zM2513 2334l4-5 13 19-4 3z"/>
<path class="c0 o2" d="M2530 2348l1-1 13 18-1 1zM2544 2365l2 1 12 17-1 0zM2600 2415l2 0 12 16-1 0zM2599 2415l1 0 13 16-2 0zM2666 2360l1-3 13 17-2 3zM2692 2390l2 3-13-17-1-2z"/>
<path class="c0 o1" d="M2706 2409l4 9-12-17-4-8zM2662 2369l4-9 12 17-4 9zM2595 2416l4-1 12 16-4 2zM2614 2431l4 0 13 17-4-2zM2558 2383l4 0 13 17-4 0zM2526 2351l4-3 13 18-4 2z"/>
<path class="c0 o2" d="M2543 2366l1-1 13 18-2 1zM2557 2383l1 0 13 17-2 0zM2613 2431l1 0 13 15-2 0zM2611 2431l2 0 12 15-1 0zM2678 2377l2-3 12 16-1 4zM2705 2406l1 3-12-16-2-3z"/>
<path class="c0 o1" d="M2719 2424l4 10-13-16-4-9zM2674 2386l4-9 13 17-4 9zM2607 2433l4-2 13 15-4 3zM2627 2446l4 2 12 16-4-3zM2571 2400l4 0 12 17-4 0zM2539 2368l4-2 12 18-4 1z"/>
<path class="c0 o2" d="M2555 2384l2-1 12 17-1 1zM2569 2400l2 0 12 17-1 0zM2625 2446l2 0 12 15-1-1zM2624 2446l1 0 13 14-2 1zM2691 2394l1-4 13 16-2 4zM2717 2421l2 3-13-15-1-3z"/>
<path class="c0 o1" d="M2732 2439l4 12-13-17-4-10zM2687 2403l4-9 12 16-4 9zM2620 2449l4-3 12 15-4 5zM2639 2461l4 3 13 17-4-6zM2665 2489l4 8-13-16-4-6zM2677 2502l4 12-12-17-4-8zM2690 2515l4 15-13-16-4-12zM2583 2417l4 0 13 17-4-1zM2551 2385l4-1 13 17-4 1z"/>
<path class="c0 o2" d="M2568 2401l1-1 13 17-2 0zM2582 2417l1 0 13 16-2 0zM2636 2461l2-1 12 13-1 3zM2703 2410l2-4 12 15-1 4zM2730 2435l2 4-13-15-2-3z"/>
<path class="c0 o1" d="M2744 2453l4 14-12-16-4-12zM2699 2419l4-9 13 15-4 11zM2632 2466l4-5 13 15-4 6zM2596 2433l4 1 12 16-4-2zM2564 2402l4-1 12 16-4 1z"/>
<path class="c0 o2" d="M2580 2417l2 0 12 16-1 0zM2594 2433l2 0 12 15-1 0zM2649 2476l1-3 13 13-2 3zM2716 2425l1-4 13 14-2 5z"/>
<path class="c0 o1" d="M2712 2436l4-11 12 15-4 13zM2645 2482l4-6 12 13-3 10zM2608 2448l4 2 13 17-4-4zM2576 2418l4-1 13 16-4 2z"/>
<path class="c1 o1" d="M2734 2300l4-44 13 19-4 42zM2736 2283l4 35-13-17-4-36zM2703 2286l4-39 13 19-4 37zM2705 2274l4 31-13-17-4-33z"/>
<path class="c1 o2" d="M2734 2272l2 11-13-18-2-12zM2720 2266l1-13 13 19-1 13zM2661 2489l2-3 13 12-2 4z"/>
<path class="c0 o2" d="M2703 2264l2 10-13-19-1-11zM2689 2256l2-12 12 20-1 11zM2593 2433l1 0 13 15-2 1zM2607 2448l1 0 13 15-2-1z"/>
<path class="c0 o1" d="M2634 2477l4 6-13-16-4-4zM2589 2435l4-2 12 16-4 3zM2685 2289l4-33 13 19-4 31zM2686 2283l4 25-12-17-4-27zM2658 2499l3-10 13 13-4 13z"/>
<path class="c0 o2" d="M2685 2275l1 8-12-19-2-9zM2671 2265l1-10 13 20-2 9zM2605 2449l2-1 12 14-1 1zM2619 2462l2 1 13 14-2-2z"/>
<path class="c0 o1" d="M2646 2491l4 9-12-17-4-6zM2659 2504l4 12-13-16-4-9zM2601 2452l4-3 13 14-4 5zM2667 2292l4-27 12 19-4 26zM2668 2291l4 20-13-17-4-22z"/>
<path class="c0 o2" d="M2666 2285l2 6-13-19-1-7zM2652 2273l2-8 12 20-1 7zM2618 2463l1-1 13 13-1 3z"/>
<path class="c0 o1" d="M2614 2468l4-5 13 15-4 7zM2648 2296l4-23 13 19-4 21z"/>
<path class="c0 o2" d="M2648 2293l1 5-12-19-2-6zM2634 2280l1-7 13 20-2 6zM2631 2478l1-3 13 13-2 3z"/>
<path class="c0 o1" d="M2627 2485l4-7 12 13-4 10zM2630 2298l4-18 12 19-4 17zM2662 2317l4 14-13-17-4-16z"/>
<path class="c5 o1" d="M3000 2130l4 174-12-17-4-174z"/>
<path class="c6 o2" d="M2272 2187l1 21-12-22-2-22z"/>
<path class="c3 o1" d="M2913 2284l4-135 12 18-4 134zM2914 2184l4 119-13-17-4-120z"/>
<path class="c7 o1" d="M3048 2293l4-226 13 17-4 226zM3050 2107l4 205-13-17-4-205z"/>
<path class="c8 o1" d="M3079 2305l4-243 13 17-4 243zM3081 2103l4 221-13-17-4-220z"/>
<path class="c7 o2" d="M3079 2026l2 77-13-16-2-77zM3065 2084l1-74 13 16-2 75zM2258 2185l1-21 13 23-2 21z"/>
<path class="c10 o1" d="M3133 2347l-10-13 4-262 9 11z"/>
<path class="c9 o2" d="M3110 2014l2 83-13-16-2-83zM3096 2079l1-81 13 16-2 81z"/>
<path class="c2 o2" d="M2450 2244l2 6-13-22-1-7zM2436 2228l2-7 12 23-1 6z"/>
<path class="c1 o1" d="M2432 2251l4-23 13 22-4 18zM2433 2250l4 19-12-17-4-23zM2716 2303l4-37 13 19-4 35z"/>
<path class="c0 o1" d="M2717 2293l4 29-12-17-4-31zM2464 2271l4 13-12-18-4-16z"/>
<path class="c1 o2" d="M2463 2266l1 5-12-21-2-6zM2449 2250l1-6 13 22-2 5zM2657 2500l2 4-13-13-1-3zM2643 2491l2-3 12 12-1 5z"/>
<path class="c0 o1" d="M2639 2501l4-10 13 14-4 13zM2445 2268l4-18 12 21-4 14zM2477 2291l4 10-13-17-4-13z"/>
<path class="c0 o2" d="M2716 2284l1 9-12-19-2-10zM2702 2275l1-11 13 20-2 10zM2660 2313l2 4-13-19-1-5zM2646 2299l2-6 12 20-1 5z"/>
<path class="c0 o1" d="M2642 2316l4-17 13 19-4 14zM2675 2335l4 13-13-17-4-14zM2698 2306l4-31 12 19-4 29zM2699 2302l4 23-13-17-4-25z"/>
<path class="c0 o2" d="M2697 2294l2 8-13-19-1-8zM2683 2284l2-9 12 19-1 9zM2673 2331l2 4-13-18-2-4zM2659 2318l1-5 13 18-2 5z"/>
<path class="c0 o1" d="M2655 2332l4-14 12 18-4 13zM2687 2353l4 12-12-17-4-13zM2679 2310l4-26 13 19-4 24zM2680 2310l4 18-12-17-4-20z"/>
<path class="c0 o2" d="M2679 2304l1 6-12-19-2-6zM2665 2292l1-7 13 19-2 7zM2686 2349l1 4-12-18-2-4zM2671 2336l2-5 13 18-2 5z"/>
<path class="c0 o1" d="M2667 2349l4-13 13 18-4 12zM2700 2370l4 11-13-16-4-12zM2661 2313l4-21 12 19-4 19z"/>
<path class="c5 o2" d="M2999 2071l1 59-12-17-2-60zM2984 2112l2-59 13 18-2 58z"/>
<path class="c3 o2" d="M2912 2143l2 41-13-18-1-41zM2898 2166l2-41 12 18-1 41z"/>
<path class="c3 o1" d="M2894 2288l4-122 13 18-4 121zM2896 2200l3 107-12-17-4-109zM2254 2251l4-66 12 23-4 60zM2255 2202l4 67-13-17-4-72z"/>
<path class="c6 o2" d="M3048 2037l2 70-13-17-2-70zM3034 2089l1-69 13 17-2 69z"/>
<path class="c7 o1" d="M3061 2310l4-226 12 17-4 225zM3062 2124l4 205-12-17-4-205z"/>
<path class="c9 o1" d="M3127 2351l-11-15-4-239 11 15z"/>
<path class="c8 o1" d="M3092 2322l4-243 12 16-4 243zM3093 2119l4 222-12-17-4-221z"/>
<path class="c7 o2" d="M3092 2042l1 77-12-16-2-77zM3077 2101l2-75 13 16-2 75zM2253 2179l2 23-13-22-1-25zM2239 2179l2-24 12 24-1 23z"/>
<path class="c2 o2" d="M2432 2244l1 6-12-21-2-8zM2418 2229l1-8 13 23-2 7z"/>
<path class="c1 o2" d="M2475 2288l2 3-13-20-1-5zM2461 2271l2-5 12 22-1 3z"/>
<path class="c0 o1" d="M2457 2285l4-14 13 20-4 11zM2489 2311l4 7-12-17-4-10zM2446 2271l4 15-13-17-4-19z"/>
<path class="c1 o2" d="M2444 2266l2 5-13-21-1-6zM2488 2309l1 2-12-20-2-3zM2474 2291l1-3 13 21-2 2z"/>
<path class="c0 o1" d="M2470 2302l4-11 12 20-4 8zM2502 2330l4 5-13-17-4-7zM2459 2292l3 11-12-17-4-15z"/>
<path class="c0 o2" d="M2488 2309l1 2 13 19-1-1zM2486 2311l2-2 13 20-2 1zM2698 2366l2 4-13-17-1-4zM2684 2354l2-5 12 17-1 5z"/>
<path class="c0 o1" d="M2680 2366l4-12 13 17-4 12zM2712 2386l4 12-12-17-4-11zM2482 2319l4-8 13 19-4 6zM2502 2330l4 5 13 17-4-3zM2515 2349l4 3 12 17-4-2z"/>
<path class="c0 o2" d="M2499 2330l2-1 12 19-1 1zM2513 2348l2 1 12 18-1-1zM2711 2383l1 3-12-16-2-4zM2697 2371l1-5 13 17-2 4z"/>
<path class="c0 o1" d="M2693 2383l4-12 12 16-4 13zM2725 2402l4 13-13-17-4-12zM2527 2367l4 2 13 17-4-1zM2495 2336l4-6 13 19-4 4z"/>
<path class="c0 o2" d="M2512 2349l1-1 13 18-2 1zM2526 2366l1 1 13 18-2-1zM2723 2398l2 4-13-16-1-3zM2709 2387l2-4 12 15-1 5z"/>
<path class="c0 o1" d="M2705 2400l4-13 13 16-4 14zM2737 2418l4 13-12-16-4-13zM2540 2385l4 1 12 17-4-1zM2508 2353l4-4 12 18-4 3z"/>
<path class="c0 o2" d="M2524 2367l2-1 12 18-1 1zM2538 2384l2 1 12 17-1-1zM2736 2413l1 5-12-16-2-4zM2722 2403l1-5 13 15-2 6z"/>
<path class="c0 o1" d="M2718 2417l4-14 12 16-4 14zM2750 2432l4 16-13-17-4-13zM2552 2402l4 1 13 16-4-1zM2520 2370l4-3 13 18-4 2z"/>
<path class="c5 o1" d="M2981 2289l3-177 13 17-4 177zM2982 2149l4 159-13-17-4-160z"/>
<path class="c3 o2" d="M2894 2163l2 37-13-19-2-36zM2880 2182l1-37 13 18-2 37z"/>
<path class="c3 o1" d="M2876 2292l4-110 12 18-4 109zM2235 2253l4-74 13 23-4 68z"/>
<path class="c6 o1" d="M3030 2297l4-208 12 17-3 208zM3031 2128l4 188-12-17-4-188z"/>
<path class="c6 o2" d="M3030 2063l1 65-12-17-2-65zM3015 2110l2-64 13 17-2 64zM3061 2053l1 71-12-17-2-70zM3046 2106l2-69 13 16-2 69z"/>
<path class="c6 o1" d="M3043 2314l3-208 13 16-4 209zM3044 2144l4 189-13-17-4-188zM3012 2301l3-191 13 17-4 191z"/>
<path class="c9 o2" d="M3123 2112l-11-15-2-83 12 14zM3121 2110l-13-15 2-81 12 14z"/>
<path class="c8 o1" d="M3106 2134l4 224-13-17-4-222zM3104 2338l4-243 13 15-2 173-2 72zM3117 2356l0-1 2-72z"/>
<path class="c7 o1" d="M3073 2326l4-225 13 16-4 226zM3075 2140l4 205-13-16-4-205z"/>
<path class="c6 o2" d="M3073 2069l2 71-13-16-1-71zM3059 2122l2-69 12 16-1 69zM3042 2079l2 65-13-16-1-65zM3028 2127l2-64 12 16-1 64z"/>
<path class="c6 o1" d="M3024 2318l4-191 13 16-4 192zM3055 2331l4-209 13 16-4 209zM3056 2160l4 190-12-17-4-189z"/>
<path class="c1 o1" d="M2414 2253l4-24 12 22-4 19zM2415 2250l4 21-13-17-4-25z"/>
<path class="c0 o2" d="M2537 2385l1-1 13 17-2 1zM2551 2401l1 1 13 16-2 0z"/>
<path class="c0 o1" d="M2565 2418l4 1 12 17-4-2zM2533 2387l4-2 12 17-4 2z"/>
<path class="c4 o2" d="M2980 2095l2 54-13-18-1-54zM2966 2131l2-54 12 18-1 54z"/>
<path class="c2 o1" d="M2877 2215l4 96-12-17-4-97z"/>
<path class="c2 o2" d="M2876 2183l1 32-12-18-2-33zM2861 2198l2-34 13 19-2 33zM2413 2243l2 7-13-21-1-9zM2399 2229l2-9 12 23-1 7z"/>
<path class="c5 o1" d="M3013 2147l4 173-13-16-4-174z"/>
<path class="c8 o2" d="M3104 2057l2 77-13-15-1-77z"/>
<path class="c6 o2" d="M3055 2095l1 65-12-16-2-65zM3041 2143l1-64 13 16-2 64z"/>
<path class="c1 o2" d="M2430 2251l2-7 12 22-1 6zM2457 2288l2 4-13-21-2-5z"/>
<path class="c0 o1" d="M2471 2312l4 8-13-17-3-11zM2426 2270l4-19 13 21-4 15z"/>
<path class="c1 o1" d="M2428 2271l3 17-12-17-4-21zM2395 2255l4-26 13 21-4 22zM2397 2250l3 23-12-17-4-28z"/>
<path class="c2 o2" d="M2395 2241l2 9-13-22-2-10zM2381 2228l1-10 13 23-2 9zM2426 2265l2 6-13-21-2-7zM2412 2250l1-7 13 22-2 6z"/>
<path class="c1 o1" d="M2408 2272l4-22 12 21-4 19zM2409 2271l4 19-13-17-3-23zM2377 2257l4-29 12 22-4 24zM2378 2248l4 27-12-17-4-31z"/>
<path class="c0 o2" d="M2549 2402l2-1 12 17-1 1zM2563 2418l2 0 12 16-1 0z"/>
<path class="c0 o1" d="M2577 2434l4 2 13 17-4-3zM2545 2404l4-2 13 17-4 2zM2440 2292l4 13-13-17-3-17z"/>
<path class="c1 o2" d="M2439 2287l1 5-12-21-2-6zM2424 2271l2-6 13 22-2 5zM2443 2272l1-6 13 22-2 4zM2470 2309l1 3-12-20-2-4z"/>
<path class="c0 o1" d="M2484 2331l4 6-13-17-4-8zM2484 2331l4 6 12 17-4-4zM2439 2287l4-15 12 20-4 13zM2420 2290l4-19 13 21-4 15zM2453 2312l4 10-13-17-4-13z"/>
<path class="c1 o2" d="M2451 2308l2 4-13-20-1-5zM2437 2292l2-5 12 21-1 4zM2455 2292l2-4 13 21-2 3z"/>
<path class="c0 o1" d="M2451 2305l4-13 13 20-4 10zM2433 2307l4-15 13 20-4 12zM2465 2331l4 9-12-18-4-10z"/>
<path class="c0 o2" d="M2468 2312l2-3 12 20-1 2zM2482 2329l2 2 12 19-1-2zM2562 2419l1-1 13 16-2 0zM2576 2434l1 0 13 16-1-1z"/>
<path class="c0 o1" d="M2590 2450l4 3 13 16-4-4zM2558 2421l4-2 12 15-4 3zM2496 2350l4 4 13 17-4-3zM2464 2322l4-10 13 19-4 8z"/>
<path class="c0 o2" d="M2481 2331l1-2 13 19-2 2zM2495 2348l1 2 13 18-2-1zM2574 2434l2 0 13 15-2 1zM2589 2449l1 1 13 15-2-2z"/>
<path class="c0 o1" d="M2615 2479l4 7-12-17-4-4zM2570 2437l4-3 13 16-4 4zM2509 2368l4 3 12 17-4-3zM2477 2339l4-8 12 19-4 6z"/>
<path class="c0 o2" d="M2493 2350l2-2 12 19-1 1zM2507 2367l2 1 12 17-1-1zM2587 2450l2-1 12 14-1 2zM2614 2476l1 3-12-14-2-2z"/>
<path class="c0 o1" d="M2628 2493l4 9-13-16-4-7zM2640 2506l4 13-12-17-4-9zM2583 2454l4-4 13 15-4 6zM2521 2385l4 3 13 17-4-2zM2489 2356l4-6 13 18-4 5z"/>
<path class="c0 o2" d="M2506 2368l1-1 13 17-2 2zM2520 2384l1 1 13 18-2-1zM2600 2465l1-2 13 13-2 3z"/>
<path class="c0 o1" d="M2596 2471l4-6 12 14-4 8zM2534 2403l4 2 12 17-3-3zM2502 2373l4-5 12 18-4 3z"/>
<path class="c1 o2" d="M2612 2479l2-3 12 13-1 4zM2639 2501l1 5-12-13-2-4zM2464 2328l1 3-12-19-2-4zM2450 2312l1-4 13 20-2 3z"/>
<path class="c0 o1" d="M2446 2324l4-12 12 19-4 10zM2478 2350l4 6-13-16-4-9zM2490 2368l4 5-12-17-4-6zM2490 2368l4 5 13 17-4-5zM2503 2385l4 5 12 17-3-4zM2516 2403l3 4 13 17-4-5zM2608 2487l4-8 13 14-4 11z"/>
<path class="c1 o2" d="M2625 2493l1-4 13 12-2 5zM2462 2331l2-3 12 19-1 3z"/>
<path class="c0 o1" d="M2458 2341l4-10 13 19-4 8zM2621 2504l4-11 12 13-4 14z"/>
<path class="c0 o2" d="M2475 2350l1-3 13 19-2 2zM2518 2386l2-2 12 18-1 1zM2532 2402l2 1 13 16-2-1z"/>
<path class="c0 o1" d="M2547 2419l3 3 13 16-4-3zM2514 2389l4-3 13 17-4 3zM2471 2358l4-8 12 18-4 7z"/>
<path class="c0 o2" d="M2487 2368l2-2 12 18-1 1zM2531 2403l1-1 13 16-2 1zM2545 2418l2 1 12 16-1-1z"/>
<path class="c0 o1" d="M2559 2435l4 3 13 17-4-5zM2584 2465l4 7-12-17-4-5zM2527 2406l4-3 12 16-4 4zM2483 2375l4-7 13 17-4 7z"/>
<path class="c0 o2" d="M2500 2385l1-1 13 17-2 1zM2543 2419l2-1 13 16-2 1z"/>
<path class="c0 o1" d="M2539 2423l4-4 13 16-4 5zM2496 2392l4-7 12 17-4 6z"/>
<path class="c0 o2" d="M2512 2402l2-1 13 16-2 2zM2556 2435l2-1 12 15-1 1zM2583 2463l1 2-12-15-2-1z"/>
<path class="c0 o1" d="M2597 2479l4 9-13-16-4-7zM2552 2440l4-5 13 15-4 6zM2508 2408l4-6 13 17-4 6z"/>
<path class="c0 o2" d="M2525 2419l2-2 12 16-1 2zM2569 2450l1-1 13 14-2 2zM2595 2476l2 3-13-14-1-2z"/>
<path class="c0 o1" d="M2609 2493l4 12-12-17-4-9zM2565 2456l4-6 12 15-4 8zM2521 2425l4-6 13 16-4 7z"/>
<path class="c0 o2" d="M2538 2435l1-2 13 15-2 2zM2564 2462l2 3-13-15-1-2zM2581 2465l2-2 12 13-1 4z"/>
<path class="c0 o1" d="M2577 2473l4-8 13 15-4 9zM2578 2479l4 11-12-16-4-9zM2534 2442l4-7 12 15-4 8z"/>
<path class="c1 o2" d="M2550 2450l2-2 12 14-1 3zM2577 2476l1 3-12-14-2-3zM2608 2489l1 4-12-14-2-3zM2594 2480l1-4 13 13-2 4z"/>
<path class="c0 o1" d="M2590 2489l4-9 12 13-4 13zM2622 2506l4 15-13-16-4-12zM2591 2493l4 14-13-17-4-11zM2546 2458l4-8 13 15-4 10z"/>
<path class="c1 o2" d="M2563 2465l1-3 13 14-2 3zM2589 2488l2 5-13-14-1-3zM2620 2501l2 5-13-13-1-4zM2606 2493l2-4 12 12-1 5z"/>
<path class="c0 o1" d="M2602 2506l4-13 13 13-4 16zM2604 2506l3 17-12-16-4-14zM2559 2475l4-10 12 14-4 13z"/>
<path class="c4 o1" d="M2962 2293l4-162 13 18-4 161zM2963 2167l4 145-12-17-4-145z"/>
<path class="c2 o1" d="M2857 2296l4-98 13 18-4 97zM2859 2229l4 85-13-17-4-86z"/>
<path class="c2 o2" d="M2857 2201l2 28-13-18-1-29zM2843 2212l2-30 12 19-1 29zM2408 2264l1 7-12-21-2-9zM2393 2250l2-9 13 23-2 6z"/>
<path class="c1 o1" d="M2389 2274l4-24 13 20-4 22zM2422 2291l4 17-13-18-4-19z"/>
<path class="c5 o2" d="M3011 2088l2 59-13-17-1-59zM2997 2129l2-58 12 17-1 59z"/>
<path class="c5 o1" d="M2993 2306l4-177 13 18-4 176zM2994 2166l4 159-12-17-4-159zM3025 2164l4 173-12-17-4-173z"/>
<path class="c4 o2" d="M2993 2112l1 54-12-17-2-54zM2979 2149l1-54 13 17-2 54zM2962 2118l1 49-12-17-2-50zM2948 2150l1-50 13 18-2 49z"/>
<path class="c4 o1" d="M2944 2297l4-147 12 17-4 147zM2945 2185l4 131-13-17-4-132zM2975 2310l4-161 12 17-4 161zM2976 2184l4 145-13-17-4-145z"/>
<path class="c4 o2" d="M2974 2135l2 49-13-17-1-49zM2960 2167l2-49 12 17-1 49zM2943 2140l2 45-13-18-1-45zM2929 2167l2-45 12 18-1 45z"/>
<path class="c7 o2" d="M3090 2117l2-75 12 15-1 75z"/>
<path class="c8 o1" d="M3111 2360l-1-2-4-224 2 3z"/>
<path class="c6 o1" d="M3037 2335l4-192 12 16-4 193z"/>
<path class="c3 o2" d="M2377 2239l1 9-12-21-2-11zM2362 2226l2-10 13 23-2 9z"/>
<path class="c1 o1" d="M2358 2259l4-33 13 22-4 28zM2360 2246l4 31-13-17-4-36zM2391 2269l4 23-13-17-4-27z"/>
<path class="c2 o2" d="M2389 2261l2 8-13-21-1-9zM2375 2248l2-9 12 22-1 8zM2420 2285l2 6-13-20-1-7zM2406 2270l2-6 12 21-1 6z"/>
<path class="c1 o1" d="M2402 2292l4-22 13 21-4 18zM2403 2289l4 21-12-18-4-23zM2371 2276l4-28 13 21-4 25z"/>
<path class="c1 o2" d="M2575 2479l2-3 12 12-1 5zM2602 2500l2 6-13-13-2-5z"/>
<path class="c0 o1" d="M2571 2492l4-13 13 14-4 15zM2434 2311l4 14-12-17-4-17z"/>
<path class="c1 o2" d="M2433 2306l1 5-12-20-2-6zM2419 2291l1-6 13 21-2 5zM2588 2493l1-5 13 12-2 6z"/>
<path class="c0 o1" d="M2584 2508l4-15 12 13-4 18zM2415 2309l4-18 12 20-4 15zM2447 2330l4 12-13-17-4-14z"/>
<path class="c2 o1" d="M2839 2300l4-88 13 18-4 86zM2840 2243l4 75-12-17-4-76z"/>
<path class="c2 o2" d="M2839 2218l1 25-12-18-2-25zM2825 2226l1-26 13 18-2 26zM2402 2282l1 7-12-20-2-8zM2388 2269l1-8 13 21-2 7z"/>
<path class="c1 o1" d="M2384 2294l4-25 12 20-4 22zM2416 2309l4 18-13-17-4-21zM2597 2525l-1-1 4-18 3 3z"/>
<path class="c2 o2" d="M2603 2509l-3-3 2-6 3 4zM2608 2511l-4-5-2-6 3 4zM2414 2303l2 6-13-20-1-7zM2400 2289l2-7 12 21-1 6z"/>
<path class="c1 o1" d="M2396 2311l4-22 13 20-4 19zM2614 2532l-7-9-3-17 4 5z"/>
<path class="c5 o2" d="M3024 2104l1 60-12-17-2-59zM3010 2147l1-59 13 16-2 59z"/>
<path class="c5 o1" d="M3006 2323l4-176 12 16-4 176zM3007 2183l4 158-13-16-4-159zM3038 2180l4 174-13-17-4-173z"/>
<path class="c4 o1" d="M2956 2314l4-147 13 17-4 147zM2958 2202l3 131-12-17-4-131z"/>
<path class="c4 o2" d="M2956 2157l2 45-13-17-2-45zM3005 2128l2 55-13-17-1-54zM2991 2166l2-54 12 16-1 54z"/>
<path class="c3 o1" d="M2925 2301l4-134 13 18-4 133zM2927 2201l3 119-12-17-4-119z"/>
<path class="c3 o2" d="M2925 2161l2 40-13-17-2-41zM2911 2184l1-41 13 18-2 41zM2942 2185l1-45 13 17-2 45zM2358 2235l2 11-13-22-1-12zM2344 2224l2-12 12 23-1 11z"/>
<path class="c3 o1" d="M2938 2318l4-133 12 17-4 133zM2939 2218l4 119-13-17-3-119zM2907 2305l4-121 12 18-4 120zM2908 2217l4 107-13-17-3-107z"/>
<path class="c1 o1" d="M2340 2261l4-37 13 22-4 32zM2372 2267l4 27-12-17-4-31z"/>
<path class="c3 o2" d="M2371 2257l1 10-12-21-2-11zM2357 2246l1-11 13 22-2 10zM2907 2181l1 36-12-17-2-37zM2892 2200l2-37 13 18-2 37zM2938 2178l1 40-12-17-2-40zM2923 2202l2-41 13 17-2 41z"/>
<path class="c2 o1" d="M2341 2243l4 36-12-17-4-41zM2821 2303l4-77 12 18-4 76zM2822 2256l4 66-13-17-4-67z"/>
<path class="c1 o1" d="M2353 2278l4-32 12 21-4 29zM2385 2287l4 25-13-18-4-27z"/>
<path class="c3 o1" d="M2919 2322l4-120 13 17-4 120zM2921 2234l4 107-13-17-4-107zM2888 2309l4-109 13 18-4 108z"/>
<path class="c3 o2" d="M2919 2198l2 36-13-17-1-36zM2905 2218l2-37 12 17-1 37zM2383 2279l2 8-13-20-1-10zM2369 2267l2-10 12 22-1 8z"/>
<path class="c1 o1" d="M2365 2296l4-29 13 20-4 26zM2397 2307l4 22-12-17-4-25z"/>
<path class="c2 o2" d="M2396 2299l1 8-12-20-2-8zM2382 2287l1-8 13 20-2 8zM2820 2235l2 21-13-18-1-22z"/>
<path class="c1 o2" d="M2806 2239l2-23 12 19-1 23zM2445 2326l2 4-13-19-1-5zM2431 2311l2-5 12 20-1 4z"/>
<path class="c0 o1" d="M2427 2326l4-15 13 19-4 13zM2459 2349l4 10-12-17-4-12zM2428 2329l4 15-12-17-4-18z"/>
<path class="c1 o1" d="M2802 2307l4-68 13 19-4 66zM2803 2269l4 56-12-17-4-57zM2378 2313l4-26 12 20-4 23z"/>
<path class="c1 o2" d="M2802 2250l1 19-12-18-2-19zM2788 2252l1-20 13 18-2 20zM2427 2323l1 6-12-20-2-6zM2413 2309l1-6 13 20-2 5zM2458 2345l1 4-12-19-2-4zM2444 2330l1-4 13 19-2 4z"/>
<path class="c0 o1" d="M2440 2343l4-13 12 19-4 11zM2472 2367l4 9-13-17-4-10zM2409 2328l4-19 12 19-4 17zM2441 2347l4 14-13-17-4-15z"/>
<path class="c1 o1" d="M2410 2326l4 20-13-17-4-22zM2784 2310l4-58 12 18-4 57zM2785 2280l4 49-13-17-4-50z"/>
<path class="c1 o2" d="M2783 2265l2 15-13-18-1-16zM2769 2264l2-18 12 19-1 17zM2439 2342l2 5-13-18-1-6zM2425 2328l2-5 12 19-1 5zM2470 2364l2 3-13-18-1-4zM2456 2349l2-4 12 19-1 3z"/>
<path class="c0 o1" d="M2452 2360l4-11 13 18-4 10zM2485 2385l3 7-12-16-4-9zM2421 2345l4-17 13 19-4 15zM2454 2366l4 12-13-17-4-14z"/>
<path class="c1 o2" d="M2452 2361l2 5-13-19-2-5zM2438 2347l1-5 13 19-2 4zM2483 2382l2 3-13-18-2-3zM2469 2367l1-3 13 18-2 3z"/>
<path class="c0 o1" d="M2465 2377l4-10 12 18-4 9zM2497 2402l4 7-13-17-3-7zM2434 2362l4-15 12 18-4 14zM2466 2383l4 12-12-17-4-12z"/>
<path class="c7 o1" d="M3086 2343l4-226 13 15-4 228zM3087 2155l4 207-12-17-4-205z"/>
<path class="c8 o2" d="M3108 2137l-2-3-2-77 3 3z"/>
<path class="c7 o2" d="M3105 2135l-2-3 1-75 3 3zM3086 2084l1 71-12-15-2-71z"/>
<path class="c7 o1" d="M3096 2368l-5-6-4-207 6 7zM3102 2364l-3-4 4-228 2 3z"/>
<path class="c5 o2" d="M3036 2120l2 60-13-16-1-60zM3022 2163l2-59 12 16-1 59z"/>
<path class="c4 o1" d="M2987 2327l4-161 13 16-4 161zM2988 2201l4 144-12-16-4-145z"/>
<path class="c4 o2" d="M2987 2151l1 50-12-17-2-49zM2973 2184l1-49 13 16-2 50zM2340 2230l1 13-12-22-2-14zM2326 2221l1-14 13 23-2 13z"/>
<path class="c2 o1" d="M2322 2263l4-42 12 22-4 37zM2323 2239l4 42-13-17-4-46zM2890 2233l4 95-13-17-4-96z"/>
<path class="c2 o2" d="M2888 2201l2 32-13-18-1-32zM2874 2216l2-33 12 18-1 32zM2408 2319l2 7-13-19-1-8zM2394 2307l2-8 12 20-1 7z"/>
<path class="c1 o1" d="M2390 2330l4-23 13 19-4 21zM2423 2345l4 18-13-17-4-20zM2354 2264l4 32-13-17-4-36zM2765 2314l4-50 13 18-4 49zM2767 2291l4 41-13-17-4-42z"/>
<path class="c1 o2" d="M2765 2278l2 13-13-18-2-13zM2751 2275l1-15 13 18-2 15zM2465 2379l1 4-12-17-2-5zM2450 2365l2-4 13 18-2 4z"/>
<path class="c0 o1" d="M2446 2379l4-14 13 18-4 13zM2479 2400l4 11-13-16-4-12z"/>
<path class="c3 o1" d="M2901 2326l4-108 13 17-4 108z"/>
<path class="c2 o1" d="M2902 2250l4 94-12-16-4-95zM2870 2313l4-97 13 17-4 97zM2871 2247l4 84-12-17-4-85z"/>
<path class="c2 o2" d="M2870 2219l1 28-12-18-2-28zM2856 2230l1-29 13 18-2 29zM2901 2218l1 32-12-17-2-32zM2887 2233l1-32 13 17-2 32zM2421 2339l2 6-13-19-2-7zM2407 2326l1-7 13 20-2 6z"/>
<path class="c1 o1" d="M2403 2347l4-21 12 19-4 19zM2747 2317l4-42 12 18-3 41zM2748 2302l4 33-12-17-4-35z"/>
<path class="c1 o2" d="M2747 2291l1 11-12-19-2-11zM2733 2285l1-13 13 19-2 12zM2477 2396l2 4-13-17-1-4zM2463 2383l2-4 12 17-1 4z"/>
<path class="c0 o1" d="M2459 2396l4-13 13 17-4 13zM2491 2417l4 11-12-17-4-11zM2435 2363l4 17-12-17-4-18z"/>
<path class="c2 o1" d="M2883 2330l4-97 12 17-4 96zM2884 2264l4 84-13-17-4-84zM2852 2316l4-86 12 18-4 85zM2853 2261l4 74-13-17-4-75z"/>
<path class="c2 o2" d="M2851 2236l2 25-13-18-1-25zM2837 2244l2-26 12 18-1 26zM2882 2236l2 28-13-17-1-28zM2868 2248l2-29 12 17-1 29zM2434 2357l1 6-12-18-2-6zM2419 2345l2-6 13 18-2 6z"/>
<path class="c1 o1" d="M2415 2364l4-19 13 18-4 18zM2729 2320l4-35 12 18-4 34z"/>
<path class="c2 o1" d="M2864 2333l4-85 13 17-4 85zM2865 2278l4 74-12-17-4-74zM2833 2320l4-76 13 18-4 75zM2834 2274l4 65-12-17-4-66z"/>
<path class="c1 o2" d="M2833 2253l1 21-12-18-2-21zM2819 2258l1-23 13 18-2 22zM2490 2412l1 5-12-17-2-4zM2476 2400l1-4 13 16-2 4z"/>
<path class="c0 o1" d="M2472 2413l4-13 12 16-4 13zM2504 2433l4 12-13-17-4-11zM2730 2311l4 27-13-16-4-29zM2448 2381l4 16-13-17-4-17z"/>
<path class="c0 o2" d="M2728 2302l2 9-13-18-1-9zM2714 2294l2-10 12 18-1 10zM2496 2399l1 3-12-17-2-3z"/>
<path class="c1 o2" d="M2481 2385l2-3 13 17-2 3zM2446 2375l2 6-13-18-1-6zM2432 2363l2-6 12 18-1 6zM2502 2428l2 5-13-16-1-5zM2488 2416l2-4 12 16-1 4z"/>
<path class="c0 o1" d="M2484 2429l4-13 13 16-4 14zM2516 2448l4 13-12-16-4-12zM2428 2381l4-18 13 18-4 17zM2460 2398l4 15-12-16-4-16zM2477 2394l4-9 13 17-4 9zM2510 2418l4 8-13-17-4-7zM2710 2323l4-29 13 18-4 28zM2711 2320l4 22-12-17-4-23z"/>
<path class="c0 o2" d="M2710 2313l1 7-12-18-2-8zM2696 2303l1-9 13 19-2 8zM2508 2415l2 3-13-16-1-3z"/>
<path class="c1 o2" d="M2494 2402l2-3 12 16-1 3zM2459 2392l1 6-12-17-2-6zM2445 2381l1-6 13 17-2 6z"/>
<path class="c0 o1" d="M2441 2398l4-17 12 17-4 17zM2473 2414l4 16-13-17-4-15zM2490 2411l4-9 13 16-4 9zM2522 2434l4 9-12-17-4-8zM2692 2327l4-24 12 18-4 22zM2693 2328l4 17-13-17-4-18z"/>
<path class="c1 o2" d="M2521 2431l1 3-12-16-2-3zM2507 2418l1-3 13 16-2 3zM2471 2409l2 5-13-16-1-6zM2457 2398l2-6 12 17-1 5z"/>
<path class="c0 o1" d="M2453 2415l4-17 13 16-4 17zM2485 2430l4 17-12-17-4-16zM2503 2427l4-9 12 16-4 10zM2535 2450l4 9-13-16-4-9z"/>
<path class="c1 o2" d="M2533 2446l2 4-13-16-1-3zM2519 2434l2-3 12 15-1 3zM2515 2443l1 5-12-15-2-5zM2501 2432l1-4 13 15-2 5zM2484 2424l1 6-12-16-2-5zM2470 2414l1-5 13 15-2 6z"/>
<path class="c0 o1" d="M2466 2431l4-17 12 16-4 18zM2497 2446l4-14 12 16-4 15zM2498 2446l4 17-13-16-4-17zM2529 2463l4 15-13-17-4-13zM2515 2444l4-10 13 15-4 12zM2547 2464l4 12-12-17-4-9z"/>
<path class="c2 o2" d="M2496 2439l2 7-13-16-1-6zM2482 2430l2-6 12 15-1 6zM2864 2253l1 25-12-17-2-25zM2850 2262l1-26 13 17-2 26z"/>
<path class="c1 o1" d="M2478 2448l4-18 13 15-4 20zM2815 2324l4-66 12 17-4 66zM2816 2286l4 56-13-17-4-56z"/>
<path class="c1 o2" d="M2814 2268l2 18-13-17-1-19zM2800 2270l2-20 12 18-1 20zM2546 2460l1 4-12-14-2-4zM2532 2449l1-3 13 14-2 4z"/>
<path class="c0 o1" d="M2528 2461l4-12 12 15-4 13zM2560 2479l4 13-13-16-4-12z"/>
<path class="c1 o2" d="M2558 2474l2 5-13-15-1-4zM2544 2464l2-4 12 14-1 5zM2527 2457l2 6-13-15-1-5zM2513 2448l2-5 12 14-1 6z"/>
<path class="c0 o1" d="M2509 2463l4-15 13 15-4 16zM2540 2477l4-13 13 15-4 15zM2542 2477l4 18-13-17-4-15zM2573 2492l3 17-12-17-4-13z"/>
<path class="c1 o1" d="M2511 2461l4 19-13-17-4-17zM2796 2327l4-57 13 18-4 56zM2798 2298l4 47-13-16-4-49z"/>
<path class="c1 o2" d="M2796 2282l2 16-13-18-2-15zM2782 2282l1-17 13 17-2 17zM2571 2486l2 6-13-13-2-5zM2557 2479l1-5 13 12-2 6zM2540 2471l2 6-13-14-2-6zM2526 2463l1-6 13 14-2 6z"/>
<path class="c0 o1" d="M2522 2479l4-16 12 14-4 19zM2553 2494l4-15 12 13-4 18z"/>
<path class="c1 o1" d="M2567 2512l-2-2 4-18 4 4zM2537 2499l-3-3 4-19 6 6zM2778 2331l4-49 12 17-3 48zM2779 2309l4 40-12-17-4-41z"/>
<path class="c2 o2" d="M2544 2483l-6-6 2-6 6 6zM2549 2485l-7-8-2-6 6 6zM2573 2496l-4-4 2-6 5 5zM2578 2498l-5-6-2-6 5 5zM2509 2454l2 7-13-15-2-7zM2495 2445l1-6 13 15-2 6z"/>
<path class="c1 o1" d="M2491 2465l4-20 12 15-4 21zM2507 2486l-4-5 4-21 7 8zM2555 2507l-9-12-4-18 7 8z"/>
<path class="c6 o2" d="M3072 2138l1-69 13 15-2 70z"/>
<path class="c5 o1" d="M3018 2339l4-176 13 16-4 177zM3019 2199l4 159-12-17-4-158z"/>
<path class="c4 o1" d="M2969 2331l4-147 12 17-4 147zM2970 2218l4 131-13-16-3-131z"/>
<path class="c4 o2" d="M2969 2173l1 45-12-16-2-45zM3018 2144l1 55-12-16-2-55zM3004 2182l1-54 13 16-2 54z"/>
<path class="c3 o2" d="M2954 2202l2-45 13 16-2 45zM2352 2252l2 12-13-21-1-13zM2338 2243l2-13 12 22-1 11z"/>
<path class="c1 o1" d="M2334 2280l4-37 13 20-4 35zM2366 2284l4 30-12-18-4-32z"/>
<path class="c5 o2" d="M2321 2224l2 15-13-21-1-17zM2307 2217l2-16 12 23-1 15z"/>
<path class="c2 o1" d="M2303 2265l4-48 13 22-4 43zM2304 2235l4 48-12-17-4-53zM2335 2260l4 38-12-17-4-42zM2846 2337l4-75 12 17-4 75zM2847 2291l4 64-13-16-4-65z"/>
<path class="c1 o2" d="M2845 2270l2 21-13-17-1-21zM2831 2275l2-22 12 17-1 22zM2778 2296l1 13-12-18-2-13zM2763 2293l2-15 13 18-2 14z"/>
<path class="c1 o1" d="M2760 2334l3-41 13 17-4 41zM2761 2319l4 33-13-17-4-33zM2827 2341l4-66 13 17-4 65zM2829 2303l4 56-13-17-4-56z"/>
<path class="c1 o2" d="M2827 2285l2 18-13-17-2-18zM2813 2288l1-20 13 17-2 20zM2759 2309l2 10-13-17-1-11zM2745 2303l2-12 12 18-1 11z"/>
<path class="c1 o1" d="M2741 2337l4-34 13 17-4 34zM2809 2344l4-56 12 17-3 56zM2810 2315l4 47-12-17-4-47z"/>
<path class="c0 o1" d="M2742 2329l4 26-12-17-4-27zM2585 2520l-9-11-3-17 5 6z"/>
<path class="c0 o2" d="M2741 2320l1 9-12-18-2-9zM2727 2312l1-10 13 18-2 10zM2691 2323l2 5-13-18-1-6zM2677 2311l2-7 12 19-1 6z"/>
<path class="c0 o1" d="M2673 2330l4-19 13 18-4 17zM2706 2345l3 17-12-17-4-17zM2723 2340l4-28 12 18-4 27zM2724 2337l4 21-13-16-4-22z"/>
<path class="c2 o2" d="M2514 2468l-7-8 2-6 7 8zM2519 2470l-8-9-2-7 7 8z"/>
<path class="c7 o2" d="M3093 2162l-6-7-1-71 5 6z"/>
<path class="c6 o1" d="M3068 2347l4-209 12 16-4 210zM3069 2176l4 190-13-16-4-190z"/>
<path class="c4 o1" d="M3000 2343l4-161 12 16-4 162zM3001 2217l4 145-13-17-4-144z"/>
<path class="c4 o2" d="M3000 2167l1 50-13-16-1-50zM2985 2201l2-50 13 16-2 50zM2334 2247l1 13-12-21-2-15zM2320 2239l1-15 13 23-2 13z"/>
<path class="c3 o1" d="M2950 2335l4-133 13 16-4 134zM2952 2235l4 118-13-16-4-119z"/>
<path class="c3 o2" d="M2950 2195l2 40-13-17-1-40zM2936 2219l2-41 12 17-1 40zM2365 2274l1 10-12-20-2-12zM2351 2263l1-11 13 22-2 10z"/>
<path class="c1 o1" d="M2347 2298l4-35 12 21-4 31zM2379 2304l4 27-13-17-4-30zM2525 2494l-10-14-4-19 8 9z"/>
<path class="c2 o1" d="M2348 2280l4 35-13-17-4-38zM2316 2282l4-43 12 21-4 39z"/>
<path class="c5 o2" d="M2303 2218l1 17-12-22-2-18zM2289 2213l1-18 13 23-2 16z"/>
<path class="c2 o1" d="M2285 2267l4-54 12 21-4 50zM2317 2256l4 44-13-17-4-48z"/>
<path class="c3 o1" d="M2286 2229l4 56-13-18-4-59zM2932 2339l4-120 13 16-4 121zM2933 2251l4 106-12-16-4-107z"/>
<path class="c6 o2" d="M2284 2210l2 19-13-21-1-21zM2270 2208l2-21 12 23-1 19zM3067 2110l2 66-13-16-1-65zM3053 2159l2-64 12 15-1 64z"/>
<path class="c3 o2" d="M2932 2215l1 36-12-17-2-36zM2918 2235l1-37 13 17-2 37zM2377 2295l2 9-13-20-1-10zM2363 2284l2-10 12 21-1 9z"/>
<path class="c3 o1" d="M2914 2343l4-108 12 17-4 107zM2266 2268l4-60 13 21-4 57zM2268 2223l4 63-13-17-4-67z"/>
<path class="c7 o2" d="M2266 2202l2 21-13-21-2-23zM2252 2202l1-23 13 23-2 21zM3090 2160l-6-6 2-70 5 6z"/>
<path class="c6 o1" d="M3087 2372l-7-8 4-210 6 6zM3080 2376l-7-10-4-190 8 9zM3049 2352l4-193 13 15-4 194z"/>
<path class="c1 o1" d="M2359 2315l4-31 13 20-4 28zM2392 2323l4 25-13-17-4-27z"/>
<path class="c1 o2" d="M2809 2300l1 15-12-17-2-16zM2794 2299l2-17 13 18-2 16z"/>
<path class="c0 o2" d="M2722 2331l2 6-13-17-1-7zM2708 2321l2-8 12 18-1 8z"/>
<path class="c4 o1" d="M2981 2348l4-147 13 16-4 147zM2983 2234l4 132-13-17-4-131z"/>
<path class="c4 o2" d="M2981 2189l2 45-13-16-1-45zM2967 2218l2-45 12 16-1 45zM2346 2268l2 12-13-20-1-13zM2332 2260l2-13 12 21-1 12z"/>
<path class="c2 o1" d="M2328 2299l4-39 13 20-4 37zM2915 2266l4 95-13-17-4-94z"/>
<path class="c3 o1" d="M2963 2352l4-134 13 16-4 134zM2964 2251l4 119-12-17-4-118zM2248 2270l4-68 12 21-3 64zM2249 2217l4 71-12-18-4-75z"/>
<path class="c2 o2" d="M2913 2234l2 32-13-16-1-32zM2899 2250l2-32 12 16-1 33zM2390 2315l2 8-13-19-2-9zM2376 2304l1-9 13 20-2 8z"/>
<path class="c1 o1" d="M2372 2332l4-28 12 19-4 26zM2404 2342l4 23-12-17-4-25zM2361 2300l4 33-13-18-4-35zM2791 2347l3-48 13 17-4 48zM2792 2326l4 40-13-17-4-40z"/>
<path class="c3 o2" d="M2359 2289l2 11-13-20-2-12zM2345 2280l1-12 13 21-2 11zM2963 2210l1 41-12-16-2-40zM2949 2235l1-40 13 15-2 41z"/>
<path class="c1 o1" d="M2341 2317l4-37 12 20-4 34zM2373 2320l4 30-12-17-4-33z"/>
<path class="c5 o2" d="M2315 2240l2 16-13-21-1-17zM2301 2234l2-16 12 22-1 15z"/>
<path class="c2 o1" d="M2297 2284l4-50 13 21-4 46zM2299 2250l4 52-13-17-4-56zM2330 2276l4 41-13-17-4-44zM2895 2346l4-96 13 17-4 96zM2896 2281l4 84-12-17-4-84z"/>
<path class="c6 o2" d="M2297 2232l2 18-13-21-2-19zM2283 2229l1-19 13 22-2 18zM3077 2185l-8-9-2-66 9 9zM3075 2185l-9-11 1-64 9 9z"/>
<path class="c2 o2" d="M2895 2252l1 29-12-17-2-28zM2881 2265l1-29 13 16-2 30zM2403 2334l1 8-12-19-2-8zM2388 2323l2-8 13 19-2 8z"/>
<path class="c2 o1" d="M2877 2350l4-85 12 17-4 85zM2878 2294l4 74-13-16-4-74zM2279 2286l4-57 12 21-3 53z"/>
<path class="c3 o1" d="M2280 2244l4 59-12-17-4-63zM2945 2356l4-121 12 16-4 121zM2946 2267l4 107-13-17-4-106z"/>
<path class="c3 o2" d="M2944 2231l2 36-13-16-1-36zM2930 2252l2-37 12 16-1 36zM2372 2309l1 11-12-20-2-11zM2357 2300l2-11 13 20-2 10z"/>
<path class="c1 o1" d="M2353 2334l4-34 13 19-4 32zM2384 2349l4-26 13 19-4 24zM2386 2338l4 29-13-17-4-30zM2417 2360l4 22-13-17-4-23z"/>
<path class="c2 o2" d="M2415 2353l2 7-13-18-1-8zM2401 2342l2-8 12 19-1 7zM2876 2270l2 24-13-16-1-25zM2862 2279l2-26 12 17-1 26z"/>
<path class="c1 o1" d="M2397 2366l4-24 13 18-4 23zM2429 2378l4 20-12-16-4-22z"/>
<path class="c5 o1" d="M3050 2195l4 175-12-16-4-174z"/>
<path class="c0 o1" d="M2704 2343l4-22 13 18-4 21z"/>
<path class="c8 o2" d="M2248 2192l1 25-12-22-2-26zM2234 2195l1-26 13 23-2 24z"/>
<path class="c1 o2" d="M2790 2313l2 13-13-17-1-13zM2776 2310l2-14 12 17-1 14z"/>
<path class="c4 o2" d="M2328 2262l2 14-13-20-2-16zM2314 2255l1-15 13 22-2 14z"/>
<path class="c2 o1" d="M2310 2301l4-46 12 21-3 42zM2311 2271l4 48-12-17-4-52zM2342 2296l4 38-12-17-4-41zM2858 2354l4-75 13 17-4 75zM2860 2308l4 64-13-17-4-64z"/>
<path class="c5 o2" d="M2310 2254l1 17-12-21-2-18zM2295 2250l2-18 13 22-2 16zM3049 2135l1 60-12-15-2-60zM3035 2179l1-59 13 15-2 59z"/>
<path class="c6 o1" d="M3071 2381l-9-13 4-194 9 11z"/>
<path class="c5 o1" d="M3065 2385l-11-15-4-175 12 14zM3031 2356l4-177 12 15-4 179zM3032 2214l4 161-13-17-4-159z"/>
<path class="c5 o2" d="M3030 2159l2 55-13-15-1-55zM3062 2209l-12-14-1-60 11 13zM3059 2208l-12-14 2-59 11 13z"/>
<path class="c4 o2" d="M3016 2198l2-54 12 15-1 55zM2341 2282l1 14-12-20-2-14zM2326 2276l2-14 13 20-2 13z"/>
<path class="c2 o1" d="M2323 2318l3-42 13 19-4 40zM2324 2291l4 45-13-17-4-48zM2355 2315l4 36-13-17-4-38zM2292 2303l3-53 13 20-4 50z"/>
<path class="c4 o1" d="M3012 2360l4-162 13 16-4 163zM3014 2232l4 147-13-17-4-145zM2230 2271l4-76 12 21-4 73zM2231 2209l4 80-13-17-4-84z"/>
<path class="c4 o2" d="M3012 2182l2 50-13-15-1-50zM2998 2217l2-50 12 15-1 50zM2353 2302l2 13-13-19-1-14zM2339 2295l2-13 12 20-1 13z"/>
<path class="c6 o2" d="M2279 2224l1 20-12-21-2-21zM2264 2223l2-21 13 22-2 20z"/>
<path class="c3 o1" d="M2261 2287l3-64 13 21-4 60zM2262 2238l4 67-13-17-4-71zM2293 2265l4 56-13-18-4-59zM2926 2359l4-107 13 15-4 109z"/>
<path class="c2 o1" d="M2927 2282l4 96-12-17-4-95zM2335 2335l4-40 13 20-4 37z"/>
<path class="c2 o2" d="M2926 2250l1 32-12-16-2-32zM2912 2267l1-33 13 16-2 33zM2428 2370l1 8-12-18-2-7zM2414 2360l1-7 13 17-2 7z"/>
<path class="c1 o1" d="M2410 2383l4-23 12 17-4 23zM2442 2395l4 20-13-17-4-20zM2772 2351l4-41 13 17-4 41zM2773 2336l4 33-12-17-4-33z"/>
<path class="c1 o2" d="M2772 2326l1 10-12-17-2-10zM2758 2320l1-11 13 17-2 12zM2858 2286l2 22-13-17-2-21zM2844 2292l1-22 13 16-2 23z"/>
<path class="c3 o2" d="M2384 2328l2 10-13-18-1-11zM2370 2319l2-10 12 19-1 10z"/>
<path class="c1 o1" d="M2366 2351l4-32 13 19-4 30zM2367 2334l4 34-12-17-4-36zM2398 2357l4 26-12-16-4-29zM2840 2357l4-65 12 17-4 65zM2841 2320l4 56-12-17-4-56z"/>
<path class="c0 o2" d="M2704 2340l2 5-13-17-2-5zM2690 2329l1-6 13 17-2 7z"/>
<path class="c0 o1" d="M2686 2346l4-17 12 18-4 16zM2718 2362l4 16-13-16-3-17zM2754 2354l4-34 12 18-4 33zM2755 2346l4 26-13-17-4-26z"/>
<path class="c5 o1" d="M3056 2389l-13-16 4-179 12 14zM3045 2229l4 162-13-16-4-161z"/>
<path class="c5 o2" d="M3043 2173l2 56-13-15-2-55zM3029 2214l1-55 13 14-1 55zM2322 2275l2 16-13-20-1-17zM2308 2270l2-16 12 21-1 15z"/>
<path class="c2 o1" d="M2304 2320l4-50 13 20-4 47zM2336 2310l4 43-12-17-4-45zM2908 2363l4-96 12 16-4 97zM2909 2297l4 85-13-17-4-84z"/>
<path class="c4 o1" d="M3025 2377l4-163 13 14-4 165zM3026 2247l4 148-12-16-4-147zM2994 2364l4-147 13 15-4 149zM2995 2250l4 133-12-17-4-132z"/>
<path class="c4 o2" d="M2994 2204l1 46-12-16-2-45zM2980 2234l1-45 13 15-2 46zM3025 2196l1 51-12-15-2-50zM3011 2232l1-50 13 14-2 51zM2366 2322l1 12-12-19-2-13zM2352 2315l1-13 13 20-2 11z"/>
<path class="c2 o2" d="M2907 2268l2 29-13-16-1-29zM2893 2282l2-30 12 16-1 30zM2440 2388l2 7-13-17-1-8zM2426 2377l2-7 12 18-1 7z"/>
<path class="c4 o1" d="M3007 2381l4-149 12 15-4 150zM3008 2264l4 135-13-16-4-133zM3034 2401l-4-6-4-148 5 5z"/>
<path class="c2 o1" d="M2889 2367l4-85 13 16-4 86zM2891 2310l4 75-13-17-4-74zM2348 2352l4-37 12 18-4 36z"/>
<path class="c1 o1" d="M2422 2400l4-23 13 18-4 21zM2454 2411l4 21-12-17-4-20z"/>
<path class="c4 o2" d="M3031 2252l-5-5-1-51 5 6zM3028 2253l-5-6 2-51 5 6zM3006 2218l2 46-13-14-1-46z"/>
<path class="c2 o2" d="M2453 2404l1 7-12-16-2-7zM2439 2395l1-7 13 16-2 7zM2889 2285l2 25-13-16-2-24zM2875 2296l1-26 13 15-2 27z"/>
<path class="c4 o1" d="M3019 2409l-7-10-4-135 8 9zM3025 2405l-6-8 4-150 5 6z"/>
<path class="c1 o1" d="M2435 2416l4-21 12 16-4 22zM2467 2427l4 22-13-17-4-21z"/>
<path class="c9 o2" d="M2229 2182l2 27-13-21-1-29zM2215 2187l2-28 12 23-1 27z"/>
<path class="c7 o2" d="M2260 2214l2 24-13-21-1-25zM2246 2216l2-24 12 22-1 23z"/>
<path class="c3 o1" d="M2242 2289l4-73 13 21-4 69zM2976 2368l4-134 12 16-4 135zM2977 2266l4 121-13-17-4-119z"/>
<path class="c3 o2" d="M2975 2225l2 41-13-15-1-41zM2961 2251l2-41 12 15-1 42zM2397 2347l1 10-12-19-2-10zM2383 2338l1-10 13 19-2 9z"/>
<path class="c4 o1" d="M2243 2230l4 76-12-17-4-80zM2211 2273l4-86 13 22-4 81zM2212 2201l4 90-12-18-4-94z"/>
<path class="c1 o1" d="M2379 2368l4-30 12 18-4 29zM2380 2352l4 33-13-17-4-34zM2411 2374l4 26-13-17-4-26z"/>
<path class="c3 o2" d="M2409 2365l2 9-13-17-1-10zM2395 2356l2-9 12 18-1 9zM2378 2340l2 12-13-18-1-12zM2364 2333l2-11 12 18-1 12z"/>
<path class="c1 o1" d="M2360 2369l4-36 13 19-4 34zM2391 2385l4-29 13 18-4 27zM2392 2370l4 32-12-17-4-33zM2423 2391l4 26-12-17-4-26z"/>
<path class="c3 o2" d="M2422 2382l1 9-12-17-2-9zM2408 2374l1-9 13 17-2 9zM2391 2358l1 12-12-18-2-12zM2377 2352l1-12 13 18-2 11z"/>
<path class="c1 o1" d="M2373 2386l4-34 12 17-4 34zM2404 2401l4-27 12 17-4 27zM2405 2387l4 32-13-17-4-32zM2436 2408l4 26-13-17-4-26z"/>
<path class="c3 o2" d="M2434 2398l2 10-13-17-1-9zM2420 2391l2-9 12 16-1 9zM2403 2375l2 12-13-17-1-12zM2389 2369l2-11 12 17-1 11z"/>
<path class="c1 o1" d="M2385 2403l4-34 13 17-4 34zM2416 2418l4-27 13 16-4 28zM2418 2403l4 33-13-17-4-32z"/>
<path class="c6 o2" d="M2291 2245l2 20-13-21-1-20zM2277 2244l2-20 12 21-1 19z"/>
<path class="c2 o1" d="M2305 2285l4 53-12-17-4-56zM2871 2371l4-75 12 16-4 75zM2872 2324l4 65-12-17-4-64z"/>
<path class="c1 o2" d="M2871 2302l1 22-12-16-2-22zM2856 2309l2-23 13 16-2 23zM2840 2302l1 18-12-17-2-18zM2825 2305l2-20 13 17-2 19z"/>
<path class="c3 o1" d="M2273 2304l4-60 13 20-4 58zM2274 2258l4 64-12-17-4-67zM2957 2372l4-121 13 16-4 122zM2958 2282l4 109-12-17-4-107z"/>
<path class="c3 o2" d="M2957 2245l1 37-12-15-2-36zM2943 2267l1-36 13 14-2 38zM2416 2392l2 11-13-16-2-12zM2402 2386l1-11 13 17-2 11z"/>
<path class="c1 o1" d="M2398 2420l4-34 12 17-3 34zM2418 2447l-7-10 3-34 11 13zM2822 2361l3-56 13 16-4 57zM2823 2332l4 47-13-17-4-47zM2852 2374l4-65 13 16-4 66zM2854 2336l4 56-13-16-4-56z"/>
<path class="c1 o2" d="M2852 2317l2 19-13-16-1-18zM2838 2321l2-19 12 15-1 20zM2821 2316l2 16-13-17-1-15zM2807 2316l2-16 12 16-1 17z"/>
<path class="c1 o1" d="M2803 2364l4-48 13 17-4 48zM2804 2343l4 39-12-16-4-40zM2834 2378l4-57 13 16-4 57zM2835 2348l4 48-12-17-4-47z"/>
<path class="c1 o2" d="M2834 2332l1 16-12-16-2-16zM2820 2333l1-17 13 16-2 17zM2803 2330l1 13-12-17-2-13zM2789 2327l1-14 13 17-2 14z"/>
<path class="c1 o1" d="M2785 2368l4-41 12 17-4 40zM2786 2353l4 33-13-17-4-33zM2816 2381l4-48 12 16-4 49zM2817 2358l4 41-13-17-4-39z"/>
<path class="c1 o2" d="M2815 2345l2 13-13-15-1-13zM2801 2344l2-14 12 15-1 15zM2784 2342l2 11-13-17-1-10zM2770 2338l2-12 12 16-1 12z"/>
<path class="c0 o2" d="M2753 2337l2 9-13-17-1-9zM2739 2330l2-10 12 17-1 10z"/>
<path class="c0 o1" d="M2735 2357l4-27 13 17-4 27zM2737 2354l3 21-12-17-4-21zM2766 2371l4-33 13 16-4 34zM2768 2362l3 27-12-17-4-26z"/>
<path class="c0 o2" d="M2766 2354l2 8-13-16-2-9zM2752 2347l1-10 13 17-2 10zM2735 2348l2 6-13-17-2-6zM2721 2339l1-8 13 17-2 8z"/>
<path class="c0 o1" d="M2717 2360l4-21 12 17-4 21zM2748 2374l4-27 12 17-4 27zM2749 2371l4 21-13-17-3-21z"/>
<path class="c0 o2" d="M2748 2364l1 7-12-17-2-6zM2733 2356l2-8 13 16-2 8zM2717 2358l1 4-12-17-2-5zM2702 2347l2-7 13 18-2 6z"/>
<path class="c0 o1" d="M2698 2363l4-16 13 17-4 16zM2731 2379l4 16-13-17-4-16zM2729 2377l4-21 13 16-4 22z"/>
<path class="c5 o1" d="M3050 2393l-1-2-4-162 1 2z"/>
<path class="c5 o2" d="M3046 2231l-1-2-2-56 2 2zM3044 2231l-2-3 1-55 2 2zM2335 2295l1 15-12-19-2-16zM2321 2290l1-15 13 20-2 14z"/>
<path class="c2 o1" d="M2317 2337l4-47 12 19-4 45zM2349 2329l4 41-13-17-4-43z"/>
<path class="c4 o2" d="M2347 2314l2 15-13-19-1-15zM2333 2309l2-14 12 19-1 14zM2992 2250l2-46 12 14-1 47zM3016 2273l-8-9-2-46 8 9z"/>
<path class="c4 o1" d="M2988 2385l4-135 13 15-4 137zM3040 2397l-2-4 4-165 2 3z"/>
<path class="c3 o1" d="M2989 2281l4 122-12-16-4-121zM2939 2376l4-109 12 16-4 110z"/>
<path class="c2 o1" d="M2940 2297l4 97-13-16-4-96zM2329 2354l4-45 13 19-4 43zM2361 2347l4 40-12-17-4-41z"/>
<path class="c2 o2" d="M2938 2265l2 32-13-15-1-32zM2924 2283l2-33 12 15-1 33zM2465 2420l2 7-13-16-1-7zM2451 2411l2-7 12 16-1 7z"/>
<path class="c1 o1" d="M2447 2433l4-22 13 16-4 23zM2449 2424l4 27-13-17-4-26zM2480 2443l4 22-13-16-4-22zM2797 2384l4-40 13 16-4 41zM2798 2369l4 33-12-16-4-33z"/>
<path class="c3 o2" d="M2447 2414l2 10-13-16-2-10zM2433 2407l1-9 13 16-2 9zM2988 2239l1 42-12-15-2-41zM2974 2267l1-42 13 14-2 42zM2425 2416l-11-13 2-11 11 14zM2430 2419l-12-16-2-11 11 14z"/>
<path class="c4 o2" d="M2360 2333l1 14-12-18-2-15zM2346 2328l1-14 13 19-2 13zM3013 2274l-8-9 1-47 8 9z"/>
<path class="c2 o1" d="M2342 2371l4-43 12 18-4 42zM2374 2364l4 40-13-17-4-40zM2920 2380l4-97 13 15-4 99zM2922 2312l4 86-13-16-4-85z"/>
<path class="c2 o2" d="M2920 2283l2 29-13-15-2-29zM2906 2298l1-30 13 15-2 30zM2478 2435l2 8-13-16-2-7zM2464 2427l1-7 13 15-2 7z"/>
<path class="c1 o1" d="M2460 2450l4-23 12 15-4 25zM2478 2473l-6-6 4-25 8 10zM2429 2435l4-28 12 16-4 29zM2431 2428l3 24-12-16-4-33 12 16zM2436 2455l-2-3-3-24zM2448 2460l-7-8 4-29 9 11z"/>
<path class="c8 o2" d="M2242 2204l1 26-12-21-2-27zM2228 2209l1-27 13 22-2 26z"/>
<path class="c4 o1" d="M2224 2290l4-81 12 21-4 77zM3010 2413l-9-11 4-137 8 9z"/>
<path class="c3 o1" d="M3004 2417l-11-14-4-122 11 12zM2970 2389l4-122 12 14-4 124zM2971 2297l4 110-13-16-4-109z"/>
<path class="c3 o2" d="M2969 2260l2 37-13-15-1-37zM2955 2283l2-38 12 15-1 38zM3000 2293l-11-12-1-42 11 12zM2998 2294l-12-13 2-42 11 12zM2454 2434l-9-11 2-9 10 12zM2459 2437l-10-13-2-10 10 12z"/>
<path class="c3 o1" d="M2994 2421l-12-16 4-124 12 13zM2984 2311l3 113-12-17-4-110zM2951 2393l4-110 13 15-4 111zM2953 2312l4 99-13-17-4-97z"/>
<path class="c2 o2" d="M2951 2279l2 33-13-15-2-32zM2937 2298l1-33 13 14-2 34zM2484 2452l-8-10 2-7 9 10zM2489 2454l-9-11-2-8 9 10z"/>
<path class="c2 o1" d="M2933 2397l4-99 12 15-4 100zM2934 2327l4 88-12-17-4-86zM2902 2384l4-86 12 15-4 87zM2903 2326l4 76-12-17-4-75z"/>
<path class="c1 o1" d="M2496 2481l-12-16-4-22 9 11zM2464 2464l1 3-12-16-4-27 10 13z"/>
<path class="c2 o2" d="M2902 2300l1 26-12-16-2-25zM2887 2312l2-27 13 15-2 27zM2933 2297l1 30-12-15-2-29zM2918 2313l2-30 13 14-2 31z"/>
<path class="c2 o1" d="M2914 2400l4-87 13 15-4 89zM2916 2341l4 77-13-16-4-76zM2883 2387l4-75 13 15-4 77zM2885 2339l4 66-13-16-4-65z"/>
<path class="c2 o2" d="M2883 2317l2 22-13-15-1-22zM2914 2315l2 26-13-15-1-26zM2900 2327l2-27 12 15-1 27z"/>
<path class="c1 o2" d="M2869 2325l2-23 12 15-1 23zM2797 2358l1 11-12-16-2-11zM2783 2354l1-12 13 16-2 12z"/>
<path class="c1 o1" d="M2779 2388l4-34 12 16-4 34zM2865 2391l4-66 13 15-4 67zM2866 2351l4 58-12-17-4-56z"/>
<path class="c10 o2" d="M2211 2170l1 31-12-22-2-32zM2197 2179l1-32 13 23-2 31z"/>
<path class="c4 o1" d="M2193 2274l4-95 12 22-4 91zM2225 2222l4 86-13-17-4-90z"/>
<path class="c6 o2" d="M2304 2266l1 19-12-20-2-20zM2290 2264l1-19 13 21-2 18z"/>
<path class="c2 o1" d="M2318 2304l4 51-13-17-4-53zM2896 2404l4-77 13 15-4 78zM2897 2354l4 68-12-17-4-66z"/>
<path class="c7 o2" d="M2273 2236l1 22-12-20-2-24zM2259 2237l1-23 13 22-2 22z"/>
<path class="c3 o1" d="M2255 2306l4-69 12 21-4 65zM2286 2322l4-58 12 20-4 55zM2287 2278l4 61-13-17-4-64z"/>
<path class="c0 o2" d="M2729 2374l2 5-13-17-1-4zM2715 2364l2-6 12 16-1 6z"/>
<path class="c0 o1" d="M2711 2380l4-16 13 16-4 17zM2780 2378l4 28-13-17-3-27z"/>
<path class="c4 o2" d="M2372 2351l2 13-13-17-1-14zM2358 2346l2-13 12 18-1 13z"/>
<path class="c2 o1" d="M2354 2388l4-42 13 18-4 41zM2387 2381l4 40-13-17-4-40z"/>
<path class="c3 o2" d="M2982 2273l2 38-13-14-2-37zM2968 2298l1-38 13 13-2 39z"/>
<path class="c3 o1" d="M2964 2409l4-111 12 14-4 114zM2965 2327l4 101-12-17-4-99zM2988 2425l-1-1-3-113 1 2z"/>
<path class="c3 o2" d="M2985 2313l-1-2-2-38 2 2zM2982 2314l-2-2 2-39 2 2zM2964 2293l1 34-12-15-2-33zM2949 2313l2-34 13 14-2 34z"/>
<path class="c3 o1" d="M2973 2432l-4-4-4-101 4 4zM2979 2429l-3-3 4-114 2 2z"/>
<path class="c1 o2" d="M2865 2332l1 19-12-15-2-19zM2851 2337l1-20 13 15-2 21z"/>
<path class="c5 o1" d="M2194 2192l4 100-13-17-4-105z"/>
<path class="c9 o2" d="M2223 2192l2 30-13-21-1-31zM2209 2201l2-31 12 22-1 30z"/>
<path class="c4 o1" d="M2205 2292l4-91 13 21-4 87zM2256 2251l4 73-13-18-4-76z"/>
<path class="c5 o2" d="M2316 2286l2 18-13-19-1-19zM2302 2284l2-18 12 20-1 17z"/>
<path class="c2 o1" d="M2298 2339l4-55 13 19-4 53zM2330 2323l4 49-12-17-4-51zM2945 2413l4-100 13 14-4 103zM2947 2341l4 90-13-16-4-88z"/>
<path class="c2 o2" d="M2945 2311l2 30-13-14-1-30zM2931 2328l2-31 12 14-1 31zM2896 2331l1 23-12-15-2-22zM2882 2340l1-23 13 14-2 24z"/>
<path class="c1 o1" d="M2878 2407l4-67 12 15-4 69zM2879 2366l4 60-13-17-4-58zM2847 2394l4-57 12 16-4 58zM2848 2363l4 49-13-16-4-48z"/>
<path class="c2 o1" d="M2927 2417l4-89 13 14-4 91zM2928 2355l4 80-12-17-4-77zM2957 2440l-6-9-4-90 7 8z"/>
<path class="c1 o2" d="M2846 2347l2 16-13-15-1-16zM2832 2349l2-17 12 15-1 17zM2877 2346l2 20-13-15-1-19zM2863 2353l2-21 12 14-1 21z"/>
<path class="c2 o2" d="M2954 2349l-7-8-2-30 8 8zM2951 2351l-7-9 1-31 8 8zM2927 2328l1 27-12-14-2-26zM2913 2342l1-27 13 13-2 28z"/>
<path class="c1 o1" d="M2859 2411l4-58 13 14-4 61zM2860 2378l4 51-12-17-4-49zM2828 2398l4-49 13 15-4 50zM2829 2374l4 42-12-17-4-41z"/>
<path class="c2 o1" d="M2909 2420l4-78 12 14-4 81zM2910 2368l4 71-13-17-4-68zM2948 2445l-8-12 4-91 7 9zM2942 2448l-10-13-4-80 11 11z"/>
<path class="c1 o2" d="M2828 2360l1 14-12-16-2-13zM2814 2360l1-15 13 15-2 15zM2859 2361l1 17-12-15-2-16zM2845 2364l1-17 13 14-2 18z"/>
<path class="c2 o2" d="M2939 2366l-11-11-1-27 10 11zM2936 2368l-11-12 2-28 10 11zM2908 2345l2 23-13-14-1-23zM2894 2355l2-24 12 14-1 24z"/>
<path class="c1 o1" d="M2841 2414l4-50 12 15-4 52zM2842 2389l4 43-13-16-4-42zM2810 2401l4-41 12 15-4 43zM2811 2384l4 35-13-17-4-33z"/>
<path class="c2 o1" d="M2890 2424l4-69 13 14-4 72zM2933 2452l-12-15 4-81 11 12zM2922 2382l4 73-12-16-4-71z"/>
<path class="c1 o2" d="M2810 2373l1 11-13-15-1-11zM2795 2370l2-12 13 15-2 12zM2840 2374l2 15-13-15-1-14zM2826 2375l2-15 12 14-1 16z"/>
<path class="c1 o1" d="M2822 2418l4-43 13 15-4 44zM2824 2399l4 37-13-17-4-35zM2791 2404l4-34 13 15-4 36zM2891 2380l4 62-12-16-4-60z"/>
<path class="c1 o2" d="M2890 2360l1 20-12-14-2-20zM2876 2367l1-21 13 14-2 22zM2822 2387l2 12-13-15-1-11zM2808 2385l2-12 12 14-1 13z"/>
<path class="c1 o1" d="M2804 2421l4-36 13 15-4 38zM2872 2428l4-61 12 15-4 62zM2873 2392l4 53-13-16-4-51z"/>
<path class="c7 o2" d="M2285 2257l2 21-13-20-1-22zM2271 2258l2-22 12 21-1 20z"/>
<path class="c3 o1" d="M2267 2323l4-65 13 19-4 63zM2299 2297l4 59-12-17-4-61z"/>
<path class="c0 o2" d="M2779 2369l1 9-12-16-2-8zM2764 2364l2-10 13 15-2 10z"/>
<path class="c0 o1" d="M2760 2391l4-27 13 15-4 28zM2762 2387l4 22-13-17-4-21zM2793 2394l4 28-13-16-4-28z"/>
<path class="c0 o2" d="M2791 2384l2 10-13-16-1-9zM2777 2379l2-10 12 15-1 11zM2760 2380l2 7-13-16-1-7zM2746 2372l2-8 12 16-1 8z"/>
<path class="c0 o1" d="M2742 2394l4-22 13 16-4 23zM2743 2395l4 17-12-17-4-16zM2773 2407l4-28 13 16-4 29zM2774 2402l4 23-12-16-4-22zM2805 2408l4 31-12-17-4-28z"/>
<path class="c0 o2" d="M2804 2399l1 9-12-14-2-10zM2790 2395l1-11 13 15-2 11zM2773 2395l1 7-12-15-2-7zM2759 2388l1-8 13 15-2 9zM2742 2390l1 5-12-16-2-5zM2728 2380l1-6 13 16-2 6z"/>
<path class="c0 o1" d="M2724 2397l4-17 12 16-4 18zM2755 2411l4-23 12 16-4 23zM2756 2410l4 18-13-16-4-17zM2786 2424l4-29 12 15-4 31zM2787 2417l4 25-13-17-4-23z"/>
<path class="c0 o2" d="M2785 2409l2 8-13-15-1-7zM2771 2404l2-9 12 14-1 9zM2754 2405l2 5-13-15-1-5zM2740 2396l2-6 12 15-1 7z"/>
<path class="c0 o1" d="M2736 2414l4-18 13 16-4 18zM2767 2427l4-23 13 14-4 26zM2768 2425l4 20-12-17-4-18z"/>
<path class="c4 o2" d="M2385 2368l2 13-13-17-2-13zM2371 2364l1-13 13 17-2 13z"/>
<path class="c3 o2" d="M2969 2331l-4-4-1-34 4 4zM2967 2333l-5-6 2-34 4 4z"/>
<path class="c11 o2" d="M2192 2158l2 34-13-22-1-35zM2178 2170l2-35 12 23-1 34z"/>
<path class="c5 o1" d="M2174 2276l4-106 13 22-4 101zM2207 2213l3 96-12-17-4-100z"/>
<path class="c8 o2" d="M2254 2225l2 26-13-21-1-26zM2240 2230l2-26 12 21-1 25z"/>
<path class="c3 o1" d="M2269 2270l3 71-12-17-4-73zM2964 2437l-6-7 4-103 5 6z"/>
<path class="c5 o2" d="M2329 2305l1 18-12-19-2-18zM2315 2303l1-17 13 19-2 17z"/>
<path class="c2 o1" d="M2311 2356l4-53 12 19-4 51zM2343 2341l4 48-13-17-4-49zM2367 2405l4-41 12 17-3 41zM2389 2434l-9-12 3-41 12 15zM2399 2398l4 39-12-16-4-40z"/>
<path class="c2 o2" d="M2921 2357l1 25-12-14-2-23zM2907 2369l1-24 13 12-2 26z"/>
<path class="c2 o1" d="M2903 2441l4-72 12 14-4 74zM2927 2455l-1 0-4-73 1 1z"/>
<path class="c1 o2" d="M2871 2374l2 18-13-14-1-17zM2857 2379l2-18 12 13-1 19z"/>
<path class="c1 o1" d="M2853 2431l4-52 13 14-4 54zM2855 2403l4 46-13-17-4-43zM2904 2394l4 65-13-17-4-62z"/>
<path class="c1 o2" d="M2902 2373l2 21-13-14-1-20zM2888 2382l2-22 12 13-1 22zM2853 2388l2 15-13-14-2-15zM2839 2390l1-16 13 14-2 16z"/>
<path class="c1 o1" d="M2835 2434l4-44 12 14-3 47zM2836 2413l4 39-12-16-4-37zM2884 2444l4-62 13 13-4 66zM2886 2406l4 56-13-17-4-53z"/>
<path class="c1 o2" d="M2884 2387l2 19-13-14-2-18zM2870 2393l1-19 13 13-2 20zM2835 2401l1 12-12-14-2-12zM2821 2400l1-13 13 14-2 13z"/>
<path class="c1 o1" d="M2817 2438l4-38 12 14-4 40zM2818 2423l4 32-13-16-4-31zM2866 2447l4-54 12 14-3 57zM2867 2417l4 48-12-16-4-46zM2896 2470l-6-8-4-56 7 7z"/>
<path class="c0 o2" d="M2816 2412l2 11-13-15-1-9zM2802 2410l2-11 12 13-1 12zM2767 2419l1 6-12-15-2-5zM2753 2412l1-7 13 14-2 7z"/>
<path class="c1 o2" d="M2893 2413l-7-7-2-19 7 7zM2890 2415l-8-8 2-20 7 7zM2866 2401l1 16-12-14-2-15zM2851 2404l2-16 13 13-2 17z"/>
<path class="c0 o1" d="M2749 2430l4-18 12 14-4 21zM2798 2441l4-31 13 14-4 33zM2799 2431l4 27-12-16-4-25z"/>
<path class="c1 o1" d="M2848 2451l3-47 13 14-4 49zM2849 2427l4 42-13-17-4-39zM2887 2474l-8-10 3-57 8 8zM2880 2477l-9-12-4-48 10 10z"/>
<path class="c0 o2" d="M2798 2423l1 8-12-14-2-8zM2784 2418l1-9 13 14-2 10zM2748 2428l2 4-13-14-1-5zM2734 2419l2-6 12 15-1 6z"/>
<path class="c1 o2" d="M2877 2427l-10-10-1-16 10 10zM2875 2429l-11-11 2-17 10 10zM2847 2413l2 14-13-14-1-12zM2833 2414l2-13 12 12-1 15zM2860 2425l1 15-12-13-2-14z"/>
<path class="c0 o1" d="M2730 2433l4-14 13 15-4 16zM2780 2444l4-26 12 15-4 27zM2781 2439l4 23-13-17-4-20z"/>
<path class="c1 o1" d="M2829 2454l4-40 13 14-4 42zM2830 2436l4 36-12-17-4-32zM2871 2482l-11-15 4-49 11 11z"/>
<path class="c0 o2" d="M2779 2432l2 7-13-14-1-6zM2765 2426l2-7 12 13-1 9zM2743 2449l1 4-12-14-2-4zM2728 2440l2-5 13 14-2 5z"/>
<path class="c1 o2" d="M2829 2425l1 11-12-13-2-11zM2815 2424l1-12 13 13-2 13zM2846 2428l1-15 13 12-2 16z"/>
<path class="c0 o1" d="M2724 2453l4-13 13 14-4 15zM2761 2447l4-21 13 15-4 22zM2763 2447l4 18-13-17-4-16z"/>
<path class="c1 o1" d="M2842 2470l4-42 12 13-4 46zM2843 2450l4 38-13-16-4-36zM2861 2440l3 37 1 8-12-16-4-42zM2811 2457l4-33 12 14-4 36z"/>
<path class="c0 o2" d="M2761 2441l2 6-13-15-2-4zM2747 2434l1-6 13 13-2 7zM2737 2468l1 5-12-14-2-3zM2723 2460l1-4 13 12-2 6z"/>
<path class="c0 o1" d="M2719 2472l4-12 12 14-4 14zM2743 2450l4-16 12 14-4 18zM2812 2445l4 30-13-17-4-27z"/>
<path class="c1 o2" d="M2862 2441l-1-1-1-15 0 1zM2859 2442l-1-1 2-16 0 1zM2841 2437l2 13-13-14-1-11zM2827 2438l2-13 12 12-1 14z"/>
<path class="c1 o1" d="M2823 2474l4-36 13 13-4 39zM2850 2492l-3-4-4-38 3 3zM2856 2489l-2-2 4-46 1 1z"/>
<path class="c6 o2" d="M2298 2277l1 20-12-19-2-21zM2284 2277l1-20 13 20-2 20z"/>
<path class="c3 o1" d="M2280 2340l4-63 12 20-4 60zM2312 2316l4 57-13-17-4-59z"/>
<path class="c10 o2" d="M2205 2180l2 33-13-21-2-34z"/>
<path class="c4 o1" d="M2236 2307l4-77 13 20-4 74zM2238 2242l3 83-12-17-4-86z"/>
<path class="c8 o2" d="M2267 2246l2 24-13-19-2-26zM2253 2250l1-25 13 21-2 24z"/>
<path class="c3 o1" d="M2249 2324l4-74 12 20-4 72zM2281 2290l4 68-13-17-3-71z"/>
<path class="c5 o2" d="M2341 2324l2 17-13-18-1-18zM2327 2322l2-17 12 19-1 16z"/>
<path class="c2 o1" d="M2323 2373l4-51 13 18-4 50zM2356 2358l4 47-13-16-4-48zM2911 2463l-3-4-4-65 4 4z"/>
<path class="c1 o2" d="M2908 2398l-4-4-2-21 5 4zM2905 2400l-4-5 1-22 5 4zM2846 2453l-3-3-2-13 4 3zM2844 2455l-4-4 1-14 4 3z"/>
<path class="c1 o1" d="M2840 2496l-4-6 4-39 4 4zM2902 2467l-5-6 4-66 4 5z"/>
<path class="c4 o2" d="M2395 2396l-12-15 2-13 13 16zM2398 2384l1 14-12-17-2-13zM2400 2399l-1-1-1-14z"/>
<path class="c2 o2" d="M2923 2383l-1-1-1-25 1 1zM2921 2384l-2-1 2-26 1 1z"/>
<path class="c2 o1" d="M2917 2460l-2-3 4-74 2 1zM2406 2442l-3-5-4-39 1 1z"/>
<path class="c0 o2" d="M2810 2436l2 9-13-14-1-8zM2796 2433l2-10 12 13-1 10z"/>
<path class="c6 o2" d="M2311 2296l1 20-13-19-1-20zM2296 2297l2-20 13 19-2 19z"/>
<path class="c3 o1" d="M2292 2357l4-60 13 18-4 59zM2325 2334l4 56-13-17-4-57z"/>
<path class="c11 o2" d="M2191 2192l1-34 13 22-2 33z"/>
<path class="c9 o2" d="M2236 2214l2 28-13-20-2-30zM2222 2222l1-30 13 22-2 28z"/>
<path class="c4 o1" d="M2218 2309l4-87 12 20-4 84zM2250 2262l4 80-13-17-3-83z"/>
<path class="c5 o1" d="M2219 2233l4 93-13-17-3-96zM2187 2293l4-101 12 21-4 97zM2188 2203l4 107-12-17-4-111z"/>
<path class="c7 o2" d="M2280 2266l1 24-12-20-2-24zM2265 2270l2-24 13 20-2 23z"/>
<path class="c3 o1" d="M2261 2342l4-72 13 19-4 70zM2294 2308l4 67-13-17-4-68z"/>
<path class="c5 o2" d="M2354 2342l2 16-13-17-2-17zM2340 2340l1-16 13 18-2 16z"/>
<path class="c2 o1" d="M2336 2390l4-50 12 18-3 48zM2368 2375l4 47-12-17-4-47z"/>
<path class="c1 o1" d="M2825 2458l3 33-12-16-4-30z"/>
<path class="c0 o1" d="M2792 2460l4-27 13 13-4 31zM2794 2453l3 25-12-16-4-23z"/>
<path class="c0 o2" d="M2792 2445l2 8-13-14-2-7zM2778 2441l1-9 13 13-2 9zM2823 2448l2 10-13-13-2-9zM2809 2446l1-10 13 12-2 11z"/>
<path class="c0 o1" d="M2805 2477l4-31 12 13-4 34zM2806 2466l4 28-13-16-3-25zM2774 2463l4-22 12 13-4 26zM2775 2460l4 21-12-16-4-18z"/>
<path class="c0 o2" d="M2774 2454l1 6-12-13-2-6zM2759 2448l2-7 13 13-2 8zM2805 2457l1 9-12-13-2-8zM2790 2454l2-9 13 12-2 10z"/>
<path class="c0 o1" d="M2786 2480l4-26 13 13-4 29zM2788 2474l4 23-13-16-4-21zM2755 2466l4-18 13 14-4 21zM2757 2467l4 17-13-17-4-14z"/>
<path class="c0 o2" d="M2755 2462l2 5-13-14-1-4zM2741 2454l2-5 12 13-1 6zM2786 2466l2 8-13-14-1-6zM2772 2462l2-8 12 12-1 9z"/>
<path class="c0 o1" d="M2768 2483l4-21 13 13-4 24zM2769 2480l4 20-12-16-4-17zM2737 2469l4-15 13 14-4 18z"/>
<path class="c6 o2" d="M2323 2315l2 19-13-18-1-20zM2309 2315l2-19 12 19-1 19z"/>
<path class="c3 o1" d="M2305 2374l4-59 13 19-4 57zM2337 2352l4 55-12-17-4-56z"/>
<path class="c9 o2" d="M2249 2235l1 27-12-20-2-28zM2234 2242l2-28 13 21-2 27z"/>
<path class="c4 o1" d="M2230 2326l4-84 13 20-4 81zM2263 2281l4 78-13-17-4-80z"/>
<path class="c10 o2" d="M2218 2202l1 31-12-20-2-33zM2203 2213l2-33 13 22-2 31z"/>
<path class="c12 o2" d="M2187 2167l1 36-12-21-2-38zM2172 2182l2-38 13 23-2 36z"/>
<path class="c5 o1" d="M2168 2294l4-112 13 21-4 108zM2199 2310l4-97 13 20-4 94zM2201 2224l4 104-13-18-4-107z"/>
<path class="c7 o2" d="M2292 2286l2 22-13-18-1-24zM2278 2289l2-23 12 20-1 22z"/>
<path class="c3 o1" d="M2274 2359l4-70 13 19-4 68zM2306 2327l4 65-12-17-4-67z"/>
<path class="c5 o2" d="M2367 2359l1 16-12-17-2-16zM2352 2358l2-16 13 17-2 16z"/>
<path class="c1 o1" d="M2834 2499l-6-8-3-33 6 7z"/>
<path class="c0 o2" d="M2768 2474l1 6-12-13-2-5zM2754 2468l1-6 13 12-2 7z"/>
<path class="c6 o2" d="M2336 2332l1 20-12-18-2-19zM2322 2334l1-19 13 17-2 19z"/>
<path class="c2 o1" d="M2329 2407l-11-16 4-57 12 17-2 48zM2359 2420l-10-14 3-48 13 17 0 8z"/>
<path class="c4 o1" d="M2332 2399l2-48 2 2zM2232 2253l4 90-13-17-4-93z"/>
<path class="c8 o2" d="M2261 2255l2 26-13-19-1-27zM2247 2262l2-27 12 20-1 26z"/>
<path class="c4 o1" d="M2243 2343l4-81 13 19-4 79zM2275 2300l4 76-12-17-4-78z"/>
<path class="c6 o1" d="M2170 2193l4 119-13-18-4-122z"/>
<path class="c11 o2" d="M2199 2188l2 36-13-21-1-36zM2185 2203l2-36 12 21-1 36z"/>
<path class="c7 o2" d="M2305 2304l1 23-12-19-2-22zM2291 2308l1-22 13 18-2 22z"/>
<path class="c1 o2" d="M2831 2465l-6-7-2-10 7 6zM2828 2467l-7-8 2-11 7 6z"/>
<path class="c0 o1" d="M2750 2486l4-18 12 13-4 21zM2751 2486l4 17-13-16-4-14z"/>
<path class="c5 o2" d="M2365 2375l2-16 1 2zM2370 2378l-2-3-1-16 1 2z"/>
<path class="c6 o2" d="M2336 2353l-2-2 2-19 2 4zM2341 2356l-4-4-1-20 2 4z"/>
<path class="c2 o1" d="M2347 2415l-6-8-4-55 4 4zM2377 2428l-5-6-4-47 2 3z"/>
<path class="c10 o2" d="M2230 2222l2 31-13-20-1-31zM2216 2233l2-31 12 20-1 31z"/>
<path class="c4 o1" d="M2212 2327l4-94 13 20-4 91zM2244 2272l4 88-12-17-4-90z"/>
<path class="c5 o1" d="M2213 2243l4 102-12-17-4-104zM2181 2311l4-108 13 21-4 104z"/>
<path class="c8 o2" d="M2274 2274l1 26-12-19-2-26zM2260 2281l1-26 13 19-2 26z"/>
<path class="c13 o2" d="M2168 2152l2 41-13-21-1-42zM2154 2172l2-42 12 22-1 41z"/>
<path class="c6 o1" d="M2150 2295l4-123 13 21-4 119zM2182 2213l4 116-12-17-4-119z"/>
<path class="c1 o1" d="M2825 2503l-8-10 4-34 7 8z"/>
<path class="c0 o2" d="M2749 2481l2 5-13-13-1-5zM2735 2474l2-6 12 13-1 6z"/>
<path class="c0 o1" d="M2731 2488l4-14 13 13-4 18zM2819 2506l-9-12-4-28 10 10z"/>
<path class="c0 o2" d="M2816 2476l-10-10-1-9 9 9zM2813 2478l-10-11 2-10 9 9zM2731 2486l1 5-12-13-2-4zM2717 2479l1-5 13 12-2 6z"/>
<path class="c0 o1" d="M2713 2491l4-12 12 13-4 16zM2810 2510l-11-14 4-29 10 11zM2803 2513l-11-16-4-23 12 12z"/>
<path class="c9 o2" d="M2243 2242l1 30-12-19-2-31z"/>
<path class="c11 o2" d="M2212 2209l1 34-12-19-2-36zM2198 2224l1-36 13 21-2 34z"/>
<path class="c7 o1" d="M2151 2181l4 132-12-18-4-135z"/>
<path class="c13 o2" d="M2181 2174l1 39-12-20-2-41zM2167 2193l1-41 13 22-2 39z"/>
<path class="c0 o2" d="M2785 2475l1-9 13 11-2 10zM2799 2477l1 5 0 4-12-12-2-8z"/>
<path class="c10 o2" d="M2229 2253l1-31 13 20-2 30z"/>
<path class="c5 o1" d="M2194 2328l4-104 12 19-4 102zM2210 2351l-4-6 4-102 7 11z"/>
<path class="c14 o2" d="M2150 2137l1 44-12-21-2-45zM2136 2161l1-46 13 22-2 45z"/>
<path class="c6 o1" d="M2163 2312l4-119 12 20-4 117zM2181 2337l-6-7 4-117 8 13z"/>
<path class="c0 o1" d="M2781 2499l4-24 12 12-4 29zM2782 2493l4 24-13-17-4-20zM2794 2517l-1-1 4-29 1 1z"/>
<path class="c11 o2" d="M2217 2254l-7-11 2-34 7 12zM2222 2257l-9-14-1-34 7 12z"/>
<path class="c7 o1" d="M2132 2296l4-135 12 21-4 131z"/>
<path class="c12 o2" d="M2187 2226l-8-13 2-39 9 15zM2192 2229l-10-16-1-39 9 15z"/>
<path class="c6 o1" d="M2199 2345l-13-16-4-116 10 16zM2151 2323l-7-10 4-131 9 15z"/>
<path class="c0 o2" d="M2780 2485l2 8-13-13-1-6zM2766 2481l2-7 12 11-1 9z"/>
<path class="c0 o1" d="M2762 2502l4-21 13 13-4 24zM2763 2499l4 21-12-17-4-17zM2788 2520l-2-3-4-24 3 3z"/>
<path class="c0 o2" d="M2785 2496l-3-3-2-8 3 3zM2782 2497l-3-3 1-9 3 3zM2762 2492l1 7-12-13-2-5zM2748 2487l1-6 13 11-2 8z"/>
<path class="c0 o1" d="M2744 2505l4-18 12 13-4 21zM2745 2504l4 18-13-16-4-15zM2773 2526l-6-6-4-21 6 5zM2779 2524l-4-6 4-24 3 3z"/>
<path class="c0 o2" d="M2769 2504l-6-5-1-7 6 5zM2767 2506l-7-6 2-8 6 5zM2743 2498l2 6-13-13-1-5zM2729 2492l2-6 12 12-1 7z"/>
<path class="c0 o1" d="M2725 2508l4-16 13 13-4 19zM2727 2508l4 17-13-16-4-13zM2757 2533l-8-11-4-18 9 8zM2763 2530l-7-9 4-21 7 6z"/>
<path class="c0 o2" d="M2754 2512l-9-8-2-6 10 8zM2751 2514l-9-9 1-7 10 8zM2725 2503l2 5-13-12-2-5zM2711 2496l1-5 13 12-2 6z"/>
<path class="c0 o1" d="M2707 2510l4-14 12 13-3 18zM2708 2512l4 16-12-17-4-12zM2748 2537l-10-13 4-19 9 9zM2742 2540l-11-15-4-17 12 12z"/>
<path class="c0 o2" d="M2739 2520l-12-12-2-5 12 10zM2736 2521l-13-12 2-6 12 10zM2707 2507l1 5-12-13-2-4zM2692 2500l2-5 13 12-2 5z"/>
<path class="c0 o1" d="M2689 2513l3-13 13 12-4 17zM2721 2524l4 20-13-16-4-16zM2720 2527l3-18 13 12 0 1-4 21zM2733 2544l-1-1 4-21z"/>
<path class="c0 o2" d="M2719 2517l2 7-13-12-1-5zM2705 2512l2-5 12 10-1 7zM2688 2509l2 6-13-13-1-4z"/>
<path class="c0 o1" d="M2701 2529l4-17 13 12-4 21zM2702 2527l4 19-12-16-4-15zM2727 2546l-2-2-4-20 2 2z"/>
<path class="c5 o1" d="M2228 2360l-11-15-4-102 9 14z"/>
<path class="c8 o1" d="M2133 2182l4 132-13-18-4-148 13 21z"/>
<path class="c14 o2" d="M2157 2197l-9-15 2-45 10 18zM2162 2200l-11-19-1-44 10 18z"/>
<path class="c1 o2" d="M2674 2502l2-4 12 11-1 6z"/>
<path class="c0 o2" d="M2701 2520l1 7-12-12-2-6zM2723 2526l-2-2-2-7 3 2zM2721 2527l-3-3 1-7 3 2z"/>
<path class="c0 o1" d="M2717 2550l-3-5 4-21 3 3zM2711 2553l-5-7-4-19 6 5zM2670 2515l4-13 13 13-4 17zM2671 2517l4 16-12-17-4-12z"/>
<path class="c4 o1" d="M2225 2344l4-91 12 19-4 89zM2240 2365l-3-4 4-89 6 8z"/>
<path class="c5 o1" d="M2139 2317l-2-3-4-132z"/>
<path class="c6 o1" d="M2166 2306l2 24-13-17-4-132 11 19z"/>
<path class="c2 o2" d="M2687 2515l1-6 13 11-2 7z"/>
<path class="c1 o2" d="M2670 2511l1 6-12-13-2-4zM2656 2505l1-5 13 11-2 6z"/>
<path class="c9 o2" d="M2247 2280l-6-8 2-30 6 10zM2252 2283l-8-11-1-30 6 10z"/>
<path class="c0 o2" d="M2708 2532l-6-5-1-7 6 5z"/>
<path class="c1 o1" d="M2683 2532l4-17 12 12-4 21zM2684 2529l4 20-13-16-4-16z"/>
<path class="c2 o2" d="M2682 2522l2 7-13-12-1-6zM2705 2533l-6-6 2-7 6 5z"/>
<path class="c1 o1" d="M2702 2557l-7-9 4-21 6 6zM2696 2559l-8-10-4-20 8 8z"/>
<path class="c0 o1" d="M2652 2518l4-13 12 12-4 17zM2653 2518l4 17-13-16-4-13z"/>
<path class="c4 o1" d="M2258 2374l-10-14-4-88 8 11zM2256 2360l4-79 12 19-4 77zM2270 2379l-2-2 4-77 4 6z"/>
<path class="c2 o2" d="M2668 2517l2-6 12 11-1 7zM2692 2537l-8-8-2-7 9 7z"/>
<path class="c1 o2" d="M2651 2513l2 5-13-12-1-5zM2637 2506l2-5 12 12-1 5z"/>
<path class="c8 o2" d="M2276 2306l-4-6 2-26 5 8zM2281 2309l-6-9-1-26 5 8z"/>
<path class="c1 o1" d="M2664 2534l4-17 13 12-4 21zM2665 2530l4 21-12-16-4-17z"/>
<path class="c2 o2" d="M2664 2523l1 7-12-12-2-5zM2690 2538l-9-9 1-7 9 7z"/>
<path class="c0 o1" d="M2633 2520l4-14 13 12-4 18zM2635 2519l3 18-12-16-4-15z"/>
<path class="c1 o1" d="M2656 2550l-10-14 4-18 12 13zM2688 2560l-2 2-9-12 4-21 9 9z"/>
<path class="c4 o1" d="M2288 2387l-9-11-4-76 6 9z"/>
<path class="c1 o2" d="M2633 2513l2 6-13-13-2-5zM2619 2506l1-5 13 12-2 6z"/>
<path class="c2 o2" d="M2662 2531l-12-13 1-5 13 10-2 7zM2662 2530l2-7 1 1zM2667 2532l-2-2-1-7 1 1z"/>
<path class="c3 o1" d="M2287 2376l4-68 12 18-4 67zM2300 2393l-1 0 4-67 3 4z"/>
<path class="c0 o1" d="M2626 2537l-11-15 4-16 12 13-2 15z"/>
<path class="c1 o1" d="M2629 2534l2-15 2 1zM2674 2557l-5-6-4-21 2 2z"/>
<path class="c7 o2" d="M2306 2330l-3-4 2-22 3 6zM2311 2333l-5-6-1-23 3 6z"/>
<path class="c2 o2" d="M2633 2520l-2-1 2-6 2 2zM2638 2522l-3-3-2-6 2 2z"/>
<path class="c3 o1" d="M2317 2401l-7-9-4-65 5 6z"/>
<path class="c1 o1" d="M2644 2545l-6-8-3-18 3 3z"/>
</g>
<path d="M210 174.1L210 235.3L268.75 260.2L327.5 235.3M268.75 260.2l-1.1 .9M268.75 260.2l1.1 .9M254.06 253.97l-1.1 .9M283.44 253.97l1.1 .9M239.38 247.75l-1.1 .9M298.12 247.75l1.1 .9M224.69 241.52l-1.1 .9M312.81 241.52l1.1 .9M210 235.3l-1.1 .9M327.5 235.3l1.1 .9M210 235.3l-1.3 0M210 214.9l-1.3 0M210 194.5l-1.3 0M210 174.1l-1.3 0" stroke="#4d4d4d" stroke-width=".38" fill="none"/>
<text transform="translate(265.75 266) scale(.1)" font-size="43.5" text-anchor="end">-100</text>
<text transform="translate(271.95 266.1) scale(.1)" font-size="43.5" text-anchor="start">-100</text>
<text transform="translate(251.06 259.77) scale(.1)" font-size="43.5" text-anchor="end">-50</text>
<text transform="translate(286.64 259.88) scale(.1)" font-size="43.5" text-anchor="start">-50</text>
<text transform="translate(236.38 253.55) scale(.1)" font-size="43.5" text-anchor="end">0</text>
<text transform="translate(301.32 253.65) scale(.1)" font-size="43.5" text-anchor="start">0</text>
<text transform="translate(221.69 247.32) scale(.1)" font-size="43.5" text-anchor="end">50</text>
<text transform="translate(316.01 247.42) scale(.1)" font-size="43.5" text-anchor="start">50</text>
<text transform="translate(207 241.1) scale(.1)" font-size="43.5" text-anchor="end">100</text>
<text transform="translate(330.7 241.2) scale(.1)" font-size="43.5" text-anchor="start">100</text>
<text transform="translate(207.4 236.2) scale(.1)" font-size="43.5" text-anchor="end">0</text>
<text transform="translate(207.4 215.8) scale(.1)" font-size="43.5" text-anchor="end">5000</text>
<text transform="translate(207.4 195.4) scale(.1)" font-size="43.5" text-anchor="end">10000</text>
<text transform="translate(207.4 175) scale(.1)" font-size="43.5" text-anchor="end">15000</text>
<text transform="translate(225.07 266.05) scale(.1)" font-size="48" text-anchor="middle">Y-coordinate</text>
<text transform="translate(312.52 266.05) scale(.1)" font-size="48" text-anchor="middle">X-coordinate</text>
<text transform="translate(190.5 204.7) rotate(-90) scale(.1)" font-size="48" text-anchor="middle">Function Value</text>
<text transform="translate(268.75 147.6) scale(.1)" font-size="47.5" text-anchor="middle" font-weight="bold" fill="#111">2D Visualization of Benchmark Function F5</text>
<rect x="339" y="149.75" width="6.5" height="109.75" fill="url(#pg)" stroke="#777" stroke-width=".25"/>
<text transform="translate(347.7 253.28) scale(.1)" font-size="41" text-anchor="start">2000</text>
<text transform="translate(347.7 237.93) scale(.1)" font-size="41" text-anchor="start">4000</text>
<text transform="translate(347.7 222.58) scale(.1)" font-size="41" text-anchor="start">6000</text>
<text transform="translate(347.7 207.23) scale(.1)" font-size="41" text-anchor="start">8000</text>
<text transform="translate(347.7 191.88) scale(.1)" font-size="41" text-anchor="start">10000</text>
<text transform="translate(347.7 176.53) scale(.1)" font-size="41" text-anchor="start">12000</text>
<text transform="translate(347.7 161.18) scale(.1)" font-size="41" text-anchor="start">14000</text>
<path d="M339 251.83l1 0M345.5 251.83l-1 0M339 236.48l1 0M345.5 236.48l-1 0M339 221.13l1 0M345.5 221.13l-1 0M339 205.78l1 0M345.5 205.78l-1 0M339 190.43l1 0M345.5 190.43l-1 0M339 175.08l1 0M345.5 175.08l-1 0M339 159.73l1 0M345.5 159.73l-1 0" stroke="#4d4d4d" stroke-width=".3" fill="none"/>
</g>
<g>
<path d="M456.88 260.2L399.25 235.3M456.88 260.2L514.5 235.3M399.25 235.3L399.25 174.1M514.5 235.3L514.5 174.1M471.28 253.97L413.66 229.07M442.47 253.97L500.09 229.07M413.66 229.07L413.66 167.88M500.09 229.07L500.09 167.88M485.69 247.75L428.06 222.85M428.06 247.75L485.69 222.85M428.06 222.85L428.06 161.65M485.69 222.85L485.69 161.65M500.09 241.52L442.47 216.62M413.66 241.52L471.28 216.62M442.47 216.62L442.47 155.43M471.28 216.62L471.28 155.43M514.5 235.3L456.88 210.4M399.25 235.3L456.88 210.4M456.88 210.4L456.88 149.2M456.88 210.4L456.88 149.2M399.25 235.3L456.88 210.4M456.88 210.4L514.5 235.3M399.25 220L456.88 195.1M456.88 195.1L514.5 220M399.25 204.7L456.88 179.8M456.88 179.8L514.5 204.7M399.25 189.4L456.88 164.5M456.88 164.5L514.5 189.4M399.25 174.1L456.88 149.2M456.88 149.2L514.5 174.1" stroke="#e2e2e2" stroke-width=".3" fill="none"/>
<path fill="#12beb9" d="M456.88 229.6L514.5 204.7L456.88 179.8L399.25 204.7z"/>
<path d="M399.25 174.1L399.25 235.3L456.88 260.2L514.5 235.3M456.88 260.2l-1.1 .9M456.88 260.2l1.1 .9M442.47 253.97l-1.1 .9M471.28 253.97l1.1 .9M428.06 247.75l-1.1 .9M485.69 247.75l1.1 .9M413.66 241.52l-1.1 .9M500.09 241.52l1.1 .9M399.25 235.3l-1.1 .9M514.5 235.3l1.1 .9M399.25 235.3l-1.3 0M399.25 220l-1.3 0M399.25 204.7l-1.3 0M399.25 189.4l-1.3 0M399.25 174.1l-1.3 0" stroke="#4d4d4d" stroke-width=".38" fill="none"/>
<text transform="translate(453.88 266) scale(.1)" font-size="43.5" text-anchor="end">-100</text>
<text transform="translate(460.07 266.1) scale(.1)" font-size="43.5" text-anchor="start">-100</text>
<text transform="translate(439.47 259.77) scale(.1)" font-size="43.5" text-anchor="end">-50</text>
<text transform="translate(474.48 259.88) scale(.1)" font-size="43.5" text-anchor="start">-50</text>
<text transform="translate(425.06 253.55) scale(.1)" font-size="43.5" text-anchor="end">0</text>
<text transform="translate(488.89 253.65) scale(.1)" font-size="43.5" text-anchor="start">0</text>
<text transform="translate(410.66 247.32) scale(.1)" font-size="43.5" text-anchor="end">50</text>
<text transform="translate(503.29 247.42) scale(.1)" font-size="43.5" text-anchor="start">50</text>
<text transform="translate(396.25 241.1) scale(.1)" font-size="43.5" text-anchor="end">100</text>
<text transform="translate(517.7 241.2) scale(.1)" font-size="43.5" text-anchor="start">100</text>
<text transform="translate(396.65 236.2) scale(.1)" font-size="43.5" text-anchor="end">1799</text>
<text transform="translate(396.65 220.9) scale(.1)" font-size="43.5" text-anchor="end">1799.5</text>
<text transform="translate(396.65 205.6) scale(.1)" font-size="43.5" text-anchor="end">1800</text>
<text transform="translate(396.65 190.3) scale(.1)" font-size="43.5" text-anchor="end">1800.5</text>
<text transform="translate(396.65 175) scale(.1)" font-size="43.5" text-anchor="end">1801</text>
<text transform="translate(413.76 266.05) scale(.1)" font-size="48" text-anchor="middle">Y-coordinate</text>
<text transform="translate(500.09 266.05) scale(.1)" font-size="48" text-anchor="middle">X-coordinate</text>
<text transform="translate(379 204.7) rotate(-90) scale(.1)" font-size="48" text-anchor="middle">Function Value</text>
<text transform="translate(456.88 147.6) scale(.1)" font-size="47.5" text-anchor="middle" font-weight="bold" fill="#111">2D Visualization of Benchmark Function F6</text>
<rect x="526.75" y="149.75" width="6.25" height="109.75" fill="url(#pg)" stroke="#777" stroke-width=".25"/>
<text transform="translate(535.2 260.95) scale(.1)" font-size="41" text-anchor="start">1799</text>
<text transform="translate(535.2 249.97) scale(.1)" font-size="41" text-anchor="start">1799.2</text>
<text transform="translate(535.2 239) scale(.1)" font-size="41" text-anchor="start">1799.4</text>
<text transform="translate(535.2 228.03) scale(.1)" font-size="41" text-anchor="start">1799.6</text>
<text transform="translate(535.2 217.05) scale(.1)" font-size="41" text-anchor="start">1799.8</text>
<text transform="translate(535.2 206.07) scale(.1)" font-size="41" text-anchor="start">1800</text>
<text transform="translate(535.2 195.1) scale(.1)" font-size="41" text-anchor="start">1800.2</text>
<text transform="translate(535.2 184.12) scale(.1)" font-size="41" text-anchor="start">1800.4</text>
<text transform="translate(535.2 173.15) scale(.1)" font-size="41" text-anchor="start">1800.6</text>
<text transform="translate(535.2 162.18) scale(.1)" font-size="41" text-anchor="start">1800.8</text>
<text transform="translate(535.2 151.2) scale(.1)" font-size="41" text-anchor="start">1801</text>
<path d="M526.75 259.5l1 0M533 259.5l-1 0M526.75 248.52l1 0M533 248.52l-1 0M526.75 237.55l1 0M533 237.55l-1 0M526.75 226.58l1 0M533 226.58l-1 0M526.75 215.6l1 0M533 215.6l-1 0M526.75 204.62l1 0M533 204.62l-1 0M526.75 193.65l1 0M533 193.65l-1 0M526.75 182.67l1 0M533 182.67l-1 0M526.75 171.7l1 0M533 171.7l-1 0M526.75 160.73l1 0M533 160.73l-1 0M526.75 149.75l1 0M533 149.75l-1 0" stroke="#4d4d4d" stroke-width=".3" fill="none"/>
</g>
</svg></body></html>
